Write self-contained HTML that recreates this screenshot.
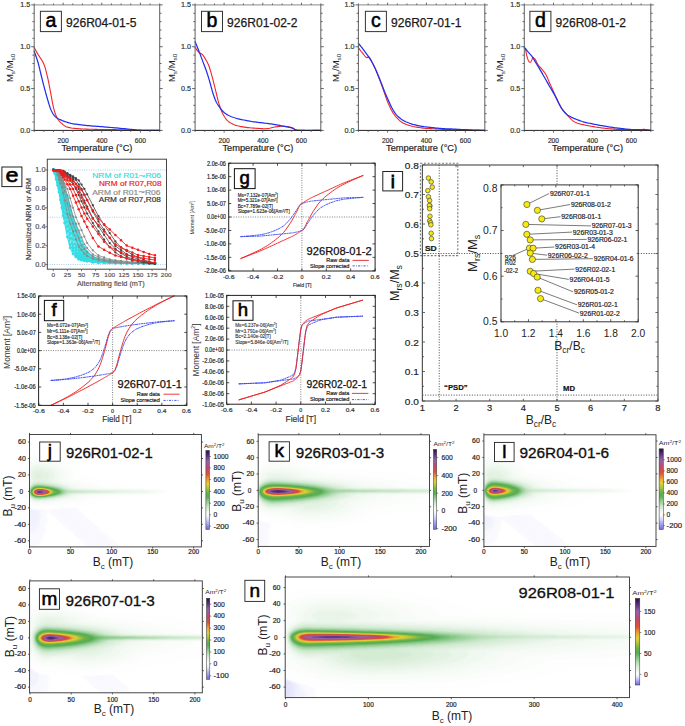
<!DOCTYPE html>
<html><head><meta charset="utf-8"><style>
html,body{margin:0;padding:0;background:#fff;width:685px;height:726px;overflow:hidden}
svg{display:block;font-family:"Liberation Sans",sans-serif}
</style></head><body>
<svg width="685" height="726" viewBox="0 0 685 726" font-family='"Liberation Sans", sans-serif'>
<defs><filter id="fj" x="27.5" y="432.5" width="175.9" height="116.39999999999998" filterUnits="userSpaceOnUse" color-interpolation-filters="sRGB"><feGaussianBlur stdDeviation="0.9"/><feComponentTransfer><feFuncR type="table" tableValues="0.416 0.454 0.492 0.530 0.568 0.606 0.644 0.684 0.727 0.769 0.812 0.854 0.886 0.914 0.943 0.971 1.000 0.979 0.958 0.938 0.912 0.884 0.857 0.830 0.798 0.754 0.710 0.667 0.623 0.578 0.528 0.479 0.429 0.379 0.335 0.357 0.379 0.401 0.423 0.470 0.535 0.600 0.665 0.727 0.770 0.812 0.855 0.888 0.895 0.902 0.909 0.916 0.910 0.901 0.892 0.883 0.874 0.856 0.836 0.815 0.794 0.773 0.752 0.730 0.706 0.681 0.657 0.632 0.608 0.583 0.542 0.498 0.455 0.411 0.368 0.326 0.295 0.264 0.234 0.203 0.173"/><feFuncG type="table" tableValues="0.416 0.454 0.492 0.530 0.568 0.606 0.644 0.684 0.727 0.769 0.812 0.854 0.886 0.914 0.943 0.971 1.000 0.990 0.980 0.971 0.959 0.947 0.934 0.922 0.907 0.887 0.868 0.848 0.828 0.806 0.780 0.753 0.726 0.699 0.675 0.682 0.689 0.696 0.703 0.715 0.731 0.747 0.763 0.778 0.788 0.798 0.808 0.804 0.762 0.720 0.678 0.636 0.578 0.517 0.456 0.395 0.333 0.311 0.308 0.304 0.300 0.297 0.293 0.294 0.309 0.324 0.338 0.353 0.368 0.383 0.354 0.320 0.286 0.252 0.218 0.185 0.157 0.130 0.102 0.075 0.047"/><feFuncB type="table" tableValues="0.878 0.888 0.898 0.908 0.918 0.927 0.937 0.946 0.954 0.962 0.971 0.979 0.984 0.988 0.992 0.996 1.000 0.979 0.958 0.938 0.912 0.884 0.857 0.830 0.798 0.754 0.710 0.667 0.623 0.578 0.528 0.479 0.429 0.379 0.332 0.320 0.308 0.296 0.283 0.272 0.260 0.249 0.237 0.227 0.221 0.214 0.208 0.203 0.202 0.200 0.198 0.196 0.200 0.204 0.209 0.214 0.218 0.243 0.277 0.312 0.346 0.380 0.415 0.449 0.485 0.520 0.556 0.591 0.627 0.662 0.638 0.605 0.573 0.540 0.507 0.473 0.429 0.384 0.340 0.295 0.251"/></feComponentTransfer></filter><clipPath id="fjc"><rect x="29.5" y="434.5" width="171.9" height="112.39999999999998"/></clipPath><linearGradient id="fjg" x1="0" y1="0" x2="0" y2="1"><stop offset="0.000" stop-color="rgb(44,12,64)"/><stop offset="0.025" stop-color="rgb(59,26,86)"/><stop offset="0.050" stop-color="rgb(75,40,109)"/><stop offset="0.075" stop-color="rgb(93,55,128)"/><stop offset="0.100" stop-color="rgb(114,72,145)"/><stop offset="0.125" stop-color="rgb(136,89,161)"/><stop offset="0.150" stop-color="rgb(154,95,162)"/><stop offset="0.175" stop-color="rgb(166,87,144)"/><stop offset="0.200" stop-color="rgb(178,80,126)"/><stop offset="0.225" stop-color="rgb(190,74,108)"/><stop offset="0.250" stop-color="rgb(201,76,91)"/><stop offset="0.275" stop-color="rgb(211,78,74)"/><stop offset="0.300" stop-color="rgb(222,80,57)"/><stop offset="0.325" stop-color="rgb(226,109,54)"/><stop offset="0.350" stop-color="rgb(231,140,52)"/><stop offset="0.375" stop-color="rgb(233,167,50)"/><stop offset="0.400" stop-color="rgb(229,188,51)"/><stop offset="0.425" stop-color="rgb(225,208,52)"/><stop offset="0.450" stop-color="rgb(203,203,55)"/><stop offset="0.475" stop-color="rgb(180,197,59)"/><stop offset="0.500" stop-color="rgb(148,189,64)"/><stop offset="0.525" stop-color="rgb(115,181,70)"/><stop offset="0.550" stop-color="rgb(101,177,76)"/><stop offset="0.575" stop-color="rgb(90,174,82)"/><stop offset="0.600" stop-color="rgb(99,179,99)"/><stop offset="0.625" stop-color="rgb(124,193,124)"/><stop offset="0.650" stop-color="rgb(149,206,149)"/><stop offset="0.675" stop-color="rgb(171,217,171)"/><stop offset="0.700" stop-color="rgb(193,226,193)"/><stop offset="0.725" stop-color="rgb(212,235,212)"/><stop offset="0.750" stop-color="rgb(225,241,225)"/><stop offset="0.775" stop-color="rgb(239,247,239)"/><stop offset="0.800" stop-color="rgb(249,252,249)"/><stop offset="0.825" stop-color="rgb(248,248,254)"/><stop offset="0.850" stop-color="rgb(232,232,252)"/><stop offset="0.875" stop-color="rgb(215,215,249)"/><stop offset="0.900" stop-color="rgb(192,192,245)"/><stop offset="0.925" stop-color="rgb(169,169,240)"/><stop offset="0.950" stop-color="rgb(148,148,235)"/><stop offset="0.975" stop-color="rgb(127,127,229)"/><stop offset="1.000" stop-color="rgb(106,106,224)"/></linearGradient><filter id="fk" x="256.2" y="432.8" width="175.3" height="115.59999999999997" filterUnits="userSpaceOnUse" color-interpolation-filters="sRGB"><feGaussianBlur stdDeviation="0.9"/><feComponentTransfer><feFuncR type="table" tableValues="0.416 0.454 0.492 0.530 0.568 0.606 0.644 0.684 0.727 0.769 0.812 0.854 0.886 0.914 0.943 0.971 1.000 0.979 0.958 0.938 0.912 0.884 0.857 0.830 0.798 0.754 0.710 0.667 0.623 0.578 0.528 0.479 0.429 0.379 0.335 0.357 0.379 0.401 0.423 0.470 0.535 0.600 0.665 0.727 0.770 0.812 0.855 0.888 0.895 0.902 0.909 0.916 0.910 0.901 0.892 0.883 0.874 0.856 0.836 0.815 0.794 0.773 0.752 0.730 0.706 0.681 0.657 0.632 0.608 0.583 0.542 0.498 0.455 0.411 0.368 0.326 0.295 0.264 0.234 0.203 0.173"/><feFuncG type="table" tableValues="0.416 0.454 0.492 0.530 0.568 0.606 0.644 0.684 0.727 0.769 0.812 0.854 0.886 0.914 0.943 0.971 1.000 0.990 0.980 0.971 0.959 0.947 0.934 0.922 0.907 0.887 0.868 0.848 0.828 0.806 0.780 0.753 0.726 0.699 0.675 0.682 0.689 0.696 0.703 0.715 0.731 0.747 0.763 0.778 0.788 0.798 0.808 0.804 0.762 0.720 0.678 0.636 0.578 0.517 0.456 0.395 0.333 0.311 0.308 0.304 0.300 0.297 0.293 0.294 0.309 0.324 0.338 0.353 0.368 0.383 0.354 0.320 0.286 0.252 0.218 0.185 0.157 0.130 0.102 0.075 0.047"/><feFuncB type="table" tableValues="0.878 0.888 0.898 0.908 0.918 0.927 0.937 0.946 0.954 0.962 0.971 0.979 0.984 0.988 0.992 0.996 1.000 0.979 0.958 0.938 0.912 0.884 0.857 0.830 0.798 0.754 0.710 0.667 0.623 0.578 0.528 0.479 0.429 0.379 0.332 0.320 0.308 0.296 0.283 0.272 0.260 0.249 0.237 0.227 0.221 0.214 0.208 0.203 0.202 0.200 0.198 0.196 0.200 0.204 0.209 0.214 0.218 0.243 0.277 0.312 0.346 0.380 0.415 0.449 0.485 0.520 0.556 0.591 0.627 0.662 0.638 0.605 0.573 0.540 0.507 0.473 0.429 0.384 0.340 0.295 0.251"/></feComponentTransfer></filter><clipPath id="fkc"><rect x="258.2" y="434.8" width="171.3" height="111.59999999999997"/></clipPath><linearGradient id="fkg" x1="0" y1="0" x2="0" y2="1"><stop offset="0.000" stop-color="rgb(44,12,64)"/><stop offset="0.025" stop-color="rgb(60,27,88)"/><stop offset="0.050" stop-color="rgb(77,41,111)"/><stop offset="0.075" stop-color="rgb(97,58,131)"/><stop offset="0.100" stop-color="rgb(120,76,149)"/><stop offset="0.125" stop-color="rgb(143,94,166)"/><stop offset="0.150" stop-color="rgb(158,92,155)"/><stop offset="0.175" stop-color="rgb(171,84,136)"/><stop offset="0.200" stop-color="rgb(184,76,117)"/><stop offset="0.225" stop-color="rgb(196,75,99)"/><stop offset="0.250" stop-color="rgb(207,77,81)"/><stop offset="0.275" stop-color="rgb(218,79,62)"/><stop offset="0.300" stop-color="rgb(225,101,54)"/><stop offset="0.325" stop-color="rgb(230,134,52)"/><stop offset="0.350" stop-color="rgb(233,164,50)"/><stop offset="0.375" stop-color="rgb(230,187,51)"/><stop offset="0.400" stop-color="rgb(225,208,52)"/><stop offset="0.425" stop-color="rgb(202,202,55)"/><stop offset="0.450" stop-color="rgb(177,196,59)"/><stop offset="0.475" stop-color="rgb(142,188,65)"/><stop offset="0.500" stop-color="rgb(109,180,71)"/><stop offset="0.525" stop-color="rgb(98,176,78)"/><stop offset="0.550" stop-color="rgb(86,172,84)"/><stop offset="0.575" stop-color="rgb(109,185,109)"/><stop offset="0.600" stop-color="rgb(136,199,136)"/><stop offset="0.625" stop-color="rgb(161,212,161)"/><stop offset="0.650" stop-color="rgb(184,222,184)"/><stop offset="0.675" stop-color="rgb(207,233,207)"/><stop offset="0.700" stop-color="rgb(221,240,221)"/><stop offset="0.725" stop-color="rgb(236,246,236)"/><stop offset="0.750" stop-color="rgb(247,251,247)"/><stop offset="0.775" stop-color="rgb(251,251,254)"/><stop offset="0.800" stop-color="rgb(238,238,253)"/><stop offset="0.825" stop-color="rgb(226,226,251)"/><stop offset="0.850" stop-color="rgb(210,210,248)"/><stop offset="0.875" stop-color="rgb(192,192,245)"/><stop offset="0.900" stop-color="rgb(173,173,241)"/><stop offset="0.925" stop-color="rgb(156,156,237)"/><stop offset="0.950" stop-color="rgb(139,139,233)"/><stop offset="0.975" stop-color="rgb(123,123,228)"/><stop offset="1.000" stop-color="rgb(106,106,224)"/></linearGradient><filter id="fl" x="481.9" y="432.8" width="176.10000000000002" height="115.59999999999997" filterUnits="userSpaceOnUse" color-interpolation-filters="sRGB"><feGaussianBlur stdDeviation="0.9"/><feComponentTransfer><feFuncR type="table" tableValues="0.416 0.454 0.492 0.530 0.568 0.606 0.644 0.684 0.727 0.769 0.812 0.854 0.886 0.914 0.943 0.971 1.000 0.979 0.958 0.938 0.912 0.884 0.857 0.830 0.798 0.754 0.710 0.667 0.623 0.578 0.528 0.479 0.429 0.379 0.335 0.357 0.379 0.401 0.423 0.470 0.535 0.600 0.665 0.727 0.770 0.812 0.855 0.888 0.895 0.902 0.909 0.916 0.910 0.901 0.892 0.883 0.874 0.856 0.836 0.815 0.794 0.773 0.752 0.730 0.706 0.681 0.657 0.632 0.608 0.583 0.542 0.498 0.455 0.411 0.368 0.326 0.295 0.264 0.234 0.203 0.173"/><feFuncG type="table" tableValues="0.416 0.454 0.492 0.530 0.568 0.606 0.644 0.684 0.727 0.769 0.812 0.854 0.886 0.914 0.943 0.971 1.000 0.990 0.980 0.971 0.959 0.947 0.934 0.922 0.907 0.887 0.868 0.848 0.828 0.806 0.780 0.753 0.726 0.699 0.675 0.682 0.689 0.696 0.703 0.715 0.731 0.747 0.763 0.778 0.788 0.798 0.808 0.804 0.762 0.720 0.678 0.636 0.578 0.517 0.456 0.395 0.333 0.311 0.308 0.304 0.300 0.297 0.293 0.294 0.309 0.324 0.338 0.353 0.368 0.383 0.354 0.320 0.286 0.252 0.218 0.185 0.157 0.130 0.102 0.075 0.047"/><feFuncB type="table" tableValues="0.878 0.888 0.898 0.908 0.918 0.927 0.937 0.946 0.954 0.962 0.971 0.979 0.984 0.988 0.992 0.996 1.000 0.979 0.958 0.938 0.912 0.884 0.857 0.830 0.798 0.754 0.710 0.667 0.623 0.578 0.528 0.479 0.429 0.379 0.332 0.320 0.308 0.296 0.283 0.272 0.260 0.249 0.237 0.227 0.221 0.214 0.208 0.203 0.202 0.200 0.198 0.196 0.200 0.204 0.209 0.214 0.218 0.243 0.277 0.312 0.346 0.380 0.415 0.449 0.485 0.520 0.556 0.591 0.627 0.662 0.638 0.605 0.573 0.540 0.507 0.473 0.429 0.384 0.340 0.295 0.251"/></feComponentTransfer></filter><clipPath id="flc"><rect x="483.9" y="434.8" width="172.10000000000002" height="111.59999999999997"/></clipPath><linearGradient id="flg" x1="0" y1="0" x2="0" y2="1"><stop offset="0.000" stop-color="rgb(44,12,64)"/><stop offset="0.025" stop-color="rgb(59,26,86)"/><stop offset="0.050" stop-color="rgb(75,40,108)"/><stop offset="0.075" stop-color="rgb(93,55,128)"/><stop offset="0.100" stop-color="rgb(114,72,145)"/><stop offset="0.125" stop-color="rgb(136,89,161)"/><stop offset="0.150" stop-color="rgb(154,95,162)"/><stop offset="0.175" stop-color="rgb(166,87,144)"/><stop offset="0.200" stop-color="rgb(178,80,126)"/><stop offset="0.225" stop-color="rgb(190,74,109)"/><stop offset="0.250" stop-color="rgb(200,76,91)"/><stop offset="0.275" stop-color="rgb(211,78,74)"/><stop offset="0.300" stop-color="rgb(221,80,57)"/><stop offset="0.325" stop-color="rgb(226,109,54)"/><stop offset="0.350" stop-color="rgb(231,139,52)"/><stop offset="0.375" stop-color="rgb(233,167,50)"/><stop offset="0.400" stop-color="rgb(229,188,51)"/><stop offset="0.425" stop-color="rgb(225,208,52)"/><stop offset="0.450" stop-color="rgb(203,203,55)"/><stop offset="0.475" stop-color="rgb(181,197,59)"/><stop offset="0.500" stop-color="rgb(149,189,64)"/><stop offset="0.525" stop-color="rgb(116,181,70)"/><stop offset="0.550" stop-color="rgb(101,177,76)"/><stop offset="0.575" stop-color="rgb(90,174,82)"/><stop offset="0.600" stop-color="rgb(98,179,98)"/><stop offset="0.625" stop-color="rgb(123,193,123)"/><stop offset="0.650" stop-color="rgb(148,206,148)"/><stop offset="0.675" stop-color="rgb(170,216,170)"/><stop offset="0.700" stop-color="rgb(192,226,192)"/><stop offset="0.725" stop-color="rgb(211,235,211)"/><stop offset="0.750" stop-color="rgb(225,241,225)"/><stop offset="0.775" stop-color="rgb(238,247,238)"/><stop offset="0.800" stop-color="rgb(249,252,249)"/><stop offset="0.825" stop-color="rgb(249,249,254)"/><stop offset="0.850" stop-color="rgb(233,233,252)"/><stop offset="0.875" stop-color="rgb(216,216,249)"/><stop offset="0.900" stop-color="rgb(192,192,245)"/><stop offset="0.925" stop-color="rgb(169,169,240)"/><stop offset="0.950" stop-color="rgb(148,148,235)"/><stop offset="0.975" stop-color="rgb(127,127,229)"/><stop offset="1.000" stop-color="rgb(106,106,224)"/></linearGradient><filter id="fm" x="27.6" y="578.9" width="176.70000000000002" height="115.89999999999998" filterUnits="userSpaceOnUse" color-interpolation-filters="sRGB"><feGaussianBlur stdDeviation="0.9"/><feComponentTransfer><feFuncR type="table" tableValues="0.416 0.454 0.492 0.530 0.568 0.606 0.644 0.684 0.727 0.769 0.812 0.854 0.886 0.914 0.943 0.971 1.000 0.979 0.958 0.938 0.912 0.884 0.857 0.830 0.798 0.754 0.710 0.667 0.623 0.578 0.528 0.479 0.429 0.379 0.335 0.357 0.379 0.401 0.423 0.470 0.535 0.600 0.665 0.727 0.770 0.812 0.855 0.888 0.895 0.902 0.909 0.916 0.910 0.901 0.892 0.883 0.874 0.856 0.836 0.815 0.794 0.773 0.752 0.730 0.706 0.681 0.657 0.632 0.608 0.583 0.542 0.498 0.455 0.411 0.368 0.326 0.295 0.264 0.234 0.203 0.173"/><feFuncG type="table" tableValues="0.416 0.454 0.492 0.530 0.568 0.606 0.644 0.684 0.727 0.769 0.812 0.854 0.886 0.914 0.943 0.971 1.000 0.990 0.980 0.971 0.959 0.947 0.934 0.922 0.907 0.887 0.868 0.848 0.828 0.806 0.780 0.753 0.726 0.699 0.675 0.682 0.689 0.696 0.703 0.715 0.731 0.747 0.763 0.778 0.788 0.798 0.808 0.804 0.762 0.720 0.678 0.636 0.578 0.517 0.456 0.395 0.333 0.311 0.308 0.304 0.300 0.297 0.293 0.294 0.309 0.324 0.338 0.353 0.368 0.383 0.354 0.320 0.286 0.252 0.218 0.185 0.157 0.130 0.102 0.075 0.047"/><feFuncB type="table" tableValues="0.878 0.888 0.898 0.908 0.918 0.927 0.937 0.946 0.954 0.962 0.971 0.979 0.984 0.988 0.992 0.996 1.000 0.979 0.958 0.938 0.912 0.884 0.857 0.830 0.798 0.754 0.710 0.667 0.623 0.578 0.528 0.479 0.429 0.379 0.332 0.320 0.308 0.296 0.283 0.272 0.260 0.249 0.237 0.227 0.221 0.214 0.208 0.203 0.202 0.200 0.198 0.196 0.200 0.204 0.209 0.214 0.218 0.243 0.277 0.312 0.346 0.380 0.415 0.449 0.485 0.520 0.556 0.591 0.627 0.662 0.638 0.605 0.573 0.540 0.507 0.473 0.429 0.384 0.340 0.295 0.251"/></feComponentTransfer></filter><clipPath id="fmc"><rect x="29.6" y="580.9" width="172.70000000000002" height="111.89999999999998"/></clipPath><linearGradient id="fmg" x1="0" y1="0" x2="0" y2="1"><stop offset="0.000" stop-color="rgb(44,12,64)"/><stop offset="0.025" stop-color="rgb(59,26,86)"/><stop offset="0.050" stop-color="rgb(75,40,109)"/><stop offset="0.075" stop-color="rgb(93,55,129)"/><stop offset="0.100" stop-color="rgb(115,72,145)"/><stop offset="0.125" stop-color="rgb(137,89,162)"/><stop offset="0.150" stop-color="rgb(154,94,161)"/><stop offset="0.175" stop-color="rgb(166,87,143)"/><stop offset="0.200" stop-color="rgb(179,80,125)"/><stop offset="0.225" stop-color="rgb(191,74,108)"/><stop offset="0.250" stop-color="rgb(201,76,90)"/><stop offset="0.275" stop-color="rgb(212,78,73)"/><stop offset="0.300" stop-color="rgb(222,80,56)"/><stop offset="0.325" stop-color="rgb(227,111,54)"/><stop offset="0.350" stop-color="rgb(231,142,51)"/><stop offset="0.375" stop-color="rgb(233,169,50)"/><stop offset="0.400" stop-color="rgb(229,190,51)"/><stop offset="0.425" stop-color="rgb(223,207,52)"/><stop offset="0.450" stop-color="rgb(201,202,56)"/><stop offset="0.475" stop-color="rgb(177,196,59)"/><stop offset="0.500" stop-color="rgb(145,188,65)"/><stop offset="0.525" stop-color="rgb(112,180,71)"/><stop offset="0.550" stop-color="rgb(100,177,77)"/><stop offset="0.575" stop-color="rgb(89,173,83)"/><stop offset="0.600" stop-color="rgb(102,181,102)"/><stop offset="0.625" stop-color="rgb(127,195,127)"/><stop offset="0.650" stop-color="rgb(152,208,152)"/><stop offset="0.675" stop-color="rgb(174,218,174)"/><stop offset="0.700" stop-color="rgb(196,228,196)"/><stop offset="0.725" stop-color="rgb(214,236,214)"/><stop offset="0.750" stop-color="rgb(227,242,227)"/><stop offset="0.775" stop-color="rgb(240,248,240)"/><stop offset="0.800" stop-color="rgb(251,253,251)"/><stop offset="0.825" stop-color="rgb(246,246,254)"/><stop offset="0.850" stop-color="rgb(230,230,251)"/><stop offset="0.875" stop-color="rgb(213,213,249)"/><stop offset="0.900" stop-color="rgb(190,190,244)"/><stop offset="0.925" stop-color="rgb(167,167,240)"/><stop offset="0.950" stop-color="rgb(147,147,235)"/><stop offset="0.975" stop-color="rgb(126,126,229)"/><stop offset="1.000" stop-color="rgb(106,106,224)"/></linearGradient><filter id="fn" x="283.2" y="575.0" width="348.3" height="124.60000000000002" filterUnits="userSpaceOnUse" color-interpolation-filters="sRGB"><feGaussianBlur stdDeviation="0.9"/><feComponentTransfer><feFuncR type="table" tableValues="0.416 0.454 0.492 0.530 0.568 0.606 0.644 0.684 0.727 0.769 0.812 0.854 0.886 0.914 0.943 0.971 1.000 0.979 0.958 0.938 0.912 0.884 0.857 0.830 0.798 0.754 0.710 0.667 0.623 0.578 0.528 0.479 0.429 0.379 0.335 0.357 0.379 0.401 0.423 0.470 0.535 0.600 0.665 0.727 0.770 0.812 0.855 0.888 0.895 0.902 0.909 0.916 0.910 0.901 0.892 0.883 0.874 0.856 0.836 0.815 0.794 0.773 0.752 0.730 0.706 0.681 0.657 0.632 0.608 0.583 0.542 0.498 0.455 0.411 0.368 0.326 0.295 0.264 0.234 0.203 0.173"/><feFuncG type="table" tableValues="0.416 0.454 0.492 0.530 0.568 0.606 0.644 0.684 0.727 0.769 0.812 0.854 0.886 0.914 0.943 0.971 1.000 0.990 0.980 0.971 0.959 0.947 0.934 0.922 0.907 0.887 0.868 0.848 0.828 0.806 0.780 0.753 0.726 0.699 0.675 0.682 0.689 0.696 0.703 0.715 0.731 0.747 0.763 0.778 0.788 0.798 0.808 0.804 0.762 0.720 0.678 0.636 0.578 0.517 0.456 0.395 0.333 0.311 0.308 0.304 0.300 0.297 0.293 0.294 0.309 0.324 0.338 0.353 0.368 0.383 0.354 0.320 0.286 0.252 0.218 0.185 0.157 0.130 0.102 0.075 0.047"/><feFuncB type="table" tableValues="0.878 0.888 0.898 0.908 0.918 0.927 0.937 0.946 0.954 0.962 0.971 0.979 0.984 0.988 0.992 0.996 1.000 0.979 0.958 0.938 0.912 0.884 0.857 0.830 0.798 0.754 0.710 0.667 0.623 0.578 0.528 0.479 0.429 0.379 0.332 0.320 0.308 0.296 0.283 0.272 0.260 0.249 0.237 0.227 0.221 0.214 0.208 0.203 0.202 0.200 0.198 0.196 0.200 0.204 0.209 0.214 0.218 0.243 0.277 0.312 0.346 0.380 0.415 0.449 0.485 0.520 0.556 0.591 0.627 0.662 0.638 0.605 0.573 0.540 0.507 0.473 0.429 0.384 0.340 0.295 0.251"/></feComponentTransfer></filter><clipPath id="fnc"><rect x="285.2" y="577.0" width="344.3" height="120.60000000000002"/></clipPath><linearGradient id="fng" x1="0" y1="0" x2="0" y2="1"><stop offset="0.000" stop-color="rgb(44,12,64)"/><stop offset="0.025" stop-color="rgb(58,25,85)"/><stop offset="0.050" stop-color="rgb(72,38,105)"/><stop offset="0.075" stop-color="rgb(88,51,125)"/><stop offset="0.100" stop-color="rgb(108,67,140)"/><stop offset="0.125" stop-color="rgb(128,82,155)"/><stop offset="0.150" stop-color="rgb(148,98,170)"/><stop offset="0.175" stop-color="rgb(160,91,153)"/><stop offset="0.200" stop-color="rgb(171,84,137)"/><stop offset="0.225" stop-color="rgb(182,77,120)"/><stop offset="0.250" stop-color="rgb(193,75,104)"/><stop offset="0.275" stop-color="rgb(202,77,88)"/><stop offset="0.300" stop-color="rgb(212,78,72)"/><stop offset="0.325" stop-color="rgb(222,80,56)"/><stop offset="0.350" stop-color="rgb(226,108,54)"/><stop offset="0.375" stop-color="rgb(230,136,52)"/><stop offset="0.400" stop-color="rgb(233,163,50)"/><stop offset="0.425" stop-color="rgb(230,183,51)"/><stop offset="0.450" stop-color="rgb(227,202,52)"/><stop offset="0.475" stop-color="rgb(212,205,54)"/><stop offset="0.500" stop-color="rgb(192,200,57)"/><stop offset="0.525" stop-color="rgb(166,194,61)"/><stop offset="0.550" stop-color="rgb(136,186,66)"/><stop offset="0.575" stop-color="rgb(109,180,72)"/><stop offset="0.600" stop-color="rgb(99,176,77)"/><stop offset="0.625" stop-color="rgb(88,173,83)"/><stop offset="0.650" stop-color="rgb(100,180,100)"/><stop offset="0.675" stop-color="rgb(123,193,123)"/><stop offset="0.700" stop-color="rgb(146,205,146)"/><stop offset="0.725" stop-color="rgb(167,215,167)"/><stop offset="0.750" stop-color="rgb(187,224,187)"/><stop offset="0.775" stop-color="rgb(207,233,207)"/><stop offset="0.800" stop-color="rgb(220,239,220)"/><stop offset="0.825" stop-color="rgb(232,244,232)"/><stop offset="0.850" stop-color="rgb(243,250,243)"/><stop offset="0.875" stop-color="rgb(253,254,253)"/><stop offset="0.900" stop-color="rgb(236,236,252)"/><stop offset="0.925" stop-color="rgb(207,207,248)"/><stop offset="0.950" stop-color="rgb(171,171,241)"/><stop offset="0.975" stop-color="rgb(138,138,232)"/><stop offset="1.000" stop-color="rgb(106,106,224)"/></linearGradient></defs>
<rect width="685" height="726" fill="#fff"/>
<path d="M34.2 47.49 L34.49 48.01 L34.86 48.7 L35.31 49.53 L35.81 50.45 L36.35 51.42 L36.89 52.4 L37.44 53.37 L37.97 54.26 L38.49 55.13 L39.05 56 L39.63 56.89 L40.22 57.77 L40.79 58.65 L41.34 59.5 L41.85 60.33 L42.31 61.12 L42.71 61.85 L43.06 62.51 L43.37 63.12 L43.66 63.73 L43.94 64.35 L44.21 65.03 L44.48 65.78 L44.78 66.65 L45.09 67.64 L45.41 68.74 L45.73 69.91 L46.05 71.14 L46.37 72.39 L46.68 73.64 L46.97 74.86 L47.25 76.02 L47.51 77.12 L47.76 78.19 L48 79.24 L48.23 80.29 L48.45 81.34 L48.67 82.4 L48.9 83.5 L49.12 84.63 L49.36 85.82 L49.59 87.03 L49.82 88.27 L50.05 89.53 L50.28 90.8 L50.52 92.08 L50.75 93.34 L50.98 94.59 L51.21 95.85 L51.44 97.12 L51.67 98.41 L51.9 99.68 L52.14 100.94 L52.37 102.17 L52.6 103.35 L52.83 104.46 L53.06 105.52 L53.28 106.52 L53.51 107.49 L53.73 108.42 L53.96 109.32 L54.19 110.19 L54.44 111.06 L54.7 111.91 L54.98 112.76 L55.27 113.6 L55.57 114.42 L55.88 115.22 L56.19 116 L56.52 116.74 L56.85 117.44 L57.2 118.1 L57.54 118.7 L57.88 119.24 L58.22 119.73 L58.57 120.19 L58.95 120.64 L59.35 121.09 L59.79 121.55 L60.27 122.03 L60.81 122.56 L61.41 123.13 L62.05 123.71 L62.72 124.29 L63.39 124.85 L64.05 125.37 L64.67 125.83 L65.25 126.22 L65.76 126.52 L66.22 126.74 L66.65 126.92 L67.06 127.05 L67.48 127.15 L67.92 127.25 L68.41 127.35 L68.95 127.47 L69.5 127.6 L70.01 127.73 L70.52 127.84 L71.07 127.96 L71.71 128.07 L72.47 128.18 L73.41 128.28 L74.55 128.39 L75.85 128.5 L77.24 128.61 L78.75 128.73 L80.42 128.84 L82.26 128.94 L84.33 129.04 L86.64 129.14 L89.23 129.23 L92.23 129.31 L95.66 129.38 L99.41 129.44 L103.35 129.5 L107.34 129.56 L111.26 129.61 L114.98 129.67 L118.38 129.73 L121.49 129.8 L124.45 129.86 L127.28 129.93 L130 130 L132.65 130.07 L135.25 130.13 L137.82 130.19 L140.39 130.23 L143.07 130.27 L145.86 130.3 L148.68 130.33 L151.42 130.35 L153.99 130.36 L156.29 130.38 L158.23 130.39 L159.7 130.4" fill="none" stroke="#f0242a" stroke-width="1.1" stroke-linejoin="round" stroke-linecap="round"/>
<path d="M34.2 51.17 L34.5 52.02 L34.89 53.14 L35.37 54.47 L35.89 55.95 L36.44 57.54 L36.98 59.16 L37.5 60.76 L37.97 62.3 L38.38 63.79 L38.78 65.32 L39.17 66.88 L39.55 68.45 L39.92 70.03 L40.3 71.62 L40.67 73.2 L41.05 74.76 L41.44 76.32 L41.83 77.89 L42.22 79.47 L42.61 81.04 L43 82.6 L43.39 84.14 L43.77 85.66 L44.16 87.14 L44.55 88.6 L44.94 90.04 L45.32 91.46 L45.71 92.86 L46.09 94.24 L46.48 95.6 L46.87 96.95 L47.25 98.27 L47.64 99.6 L48.03 100.93 L48.42 102.26 L48.81 103.56 L49.19 104.82 L49.58 106.03 L49.97 107.17 L50.36 108.23 L50.74 109.2 L51.12 110.1 L51.5 110.94 L51.88 111.72 L52.26 112.45 L52.65 113.14 L53.05 113.79 L53.47 114.42 L53.89 115.01 L54.31 115.54 L54.74 116.03 L55.18 116.48 L55.64 116.9 L56.12 117.31 L56.64 117.71 L57.2 118.1 L57.8 118.49 L58.46 118.86 L59.16 119.22 L59.87 119.55 L60.61 119.88 L61.34 120.19 L62.07 120.49 L62.78 120.78 L63.46 121.05 L64.14 121.31 L64.81 121.55 L65.48 121.78 L66.16 122 L66.85 122.21 L67.55 122.41 L68.28 122.62 L68.97 122.82 L69.6 123 L70.21 123.17 L70.84 123.34 L71.55 123.51 L72.38 123.68 L73.36 123.85 L74.55 124.04 L75.99 124.24 L77.63 124.45 L79.44 124.67 L81.37 124.89 L83.36 125.11 L85.37 125.33 L87.34 125.53 L89.23 125.71 L91.05 125.88 L92.88 126.04 L94.7 126.19 L96.52 126.33 L98.34 126.46 L100.16 126.6 L101.98 126.74 L103.8 126.89 L105.63 127.04 L107.45 127.19 L109.27 127.34 L111.09 127.5 L112.91 127.65 L114.73 127.81 L116.55 127.98 L118.38 128.14 L120.26 128.32 L122.22 128.5 L124.2 128.7 L126.17 128.89 L128.09 129.08 L129.9 129.26 L131.57 129.42 L133.06 129.56 L134.24 129.69 L135.12 129.8 L135.82 129.89 L136.43 129.98 L137.09 130.05 L137.89 130.12 L138.95 130.18 L140.39 130.23 L142.36 130.28 L144.83 130.31 L147.6 130.34 L150.5 130.36 L153.35 130.37 L155.95 130.38 L158.13 130.39 L159.7 130.4" fill="none" stroke="#1f2ff0" stroke-width="1.25" stroke-linejoin="round" stroke-linecap="round"/>
<line x1="34.2" y1="4.9" x2="159.7" y2="4.9" stroke="#a0a0a0" stroke-width="1.3"/>
<line x1="34.2" y1="4.9" x2="34.2" y2="130.4" stroke="#606060" stroke-width="1"/>
<line x1="159.7" y1="4.9" x2="159.7" y2="130.4" stroke="#606060" stroke-width="1"/>
<line x1="33.7" y1="130.4" x2="160.2" y2="130.4" stroke="#222" stroke-width="1"/>
<path d="M34.2 130.4v1.5M34.2 4.9v-1.5M43.85 130.4v1.5M43.85 4.9v-1.5M53.51 130.4v1.5M53.51 4.9v-1.5M63.16 130.4v2.2M63.16 4.9v-2.2M72.82 130.4v1.5M72.82 4.9v-1.5M82.47 130.4v1.5M82.47 4.9v-1.5M92.12 130.4v1.5M92.12 4.9v-1.5M101.78 130.4v2.2M101.78 4.9v-2.2M111.43 130.4v1.5M111.43 4.9v-1.5M121.08 130.4v1.5M121.08 4.9v-1.5M130.74 130.4v1.5M130.74 4.9v-1.5M140.39 130.4v2.2M140.39 4.9v-2.2M150.05 130.4v1.5M150.05 4.9v-1.5M159.7 130.4v1.5M159.7 4.9v-1.5M34.2 130.4h-3M159.7 130.4h3M34.2 122.03h-1.8M159.7 122.03h1.8M34.2 113.67h-1.8M159.7 113.67h1.8M34.2 105.3h-1.8M159.7 105.3h1.8M34.2 96.93h-1.8M159.7 96.93h1.8M34.2 88.57h-3M159.7 88.57h3M34.2 80.2h-1.8M159.7 80.2h1.8M34.2 71.83h-1.8M159.7 71.83h1.8M34.2 63.47h-1.8M159.7 63.47h1.8M34.2 55.1h-1.8M159.7 55.1h1.8M34.2 46.73h-3M159.7 46.73h3M34.2 38.37h-1.8M159.7 38.37h1.8M34.2 30h-1.8M159.7 30h1.8M34.2 21.63h-1.8M159.7 21.63h1.8M34.2 13.27h-1.8M159.7 13.27h1.8M34.2 4.9h-3M159.7 4.9h3" stroke="#555" stroke-width="0.9" fill="none"/>
<text x="30.2" y="132.95" font-size="7" fill="#333" text-anchor="end" textLength="10" lengthAdjust="spacingAndGlyphs" stroke="#333" stroke-width="0.18">0.0</text>
<text x="30.2" y="91.12" font-size="7" fill="#333" text-anchor="end" textLength="10" lengthAdjust="spacingAndGlyphs" stroke="#333" stroke-width="0.18">0.5</text>
<text x="30.2" y="49.28" font-size="7" fill="#333" text-anchor="end" textLength="10" lengthAdjust="spacingAndGlyphs" stroke="#333" stroke-width="0.18">1.0</text>
<text x="30.2" y="7.45" font-size="7" fill="#333" text-anchor="end" textLength="10" lengthAdjust="spacingAndGlyphs" stroke="#333" stroke-width="0.18">1.5</text>
<text x="63.16" y="142.6" font-size="6.7" fill="#333" text-anchor="middle" textLength="11.2" lengthAdjust="spacingAndGlyphs" stroke="#333" stroke-width="0.18">200</text>
<text x="101.78" y="142.6" font-size="6.7" fill="#333" text-anchor="middle" textLength="11.2" lengthAdjust="spacingAndGlyphs" stroke="#333" stroke-width="0.18">400</text>
<text x="140.39" y="142.6" font-size="6.7" fill="#333" text-anchor="middle" textLength="11.2" lengthAdjust="spacingAndGlyphs" stroke="#333" stroke-width="0.18">600</text>
<text x="96.95" y="151.2" font-size="8.9" fill="#222" text-anchor="middle" textLength="71" lengthAdjust="spacingAndGlyphs" stroke="#222" stroke-width="0.18">Temperature (°C)</text>
<text x="13.2" y="67.9" font-size="8.4" fill="#222" text-anchor="middle" textLength="28.4" lengthAdjust="spacingAndGlyphs" transform="rotate(-90 13.2 67.9)">M<tspan font-size="5.6" dy="2">s</tspan><tspan dy="-2">/M</tspan><tspan font-size="5.6" dy="2">s0</tspan></text>
<rect x="40.4" y="11.3" width="21" height="20.3" fill="#fff" stroke="#333" stroke-width="1"/>
<text x="50.9" y="27.4" font-size="19.5" fill="#000" text-anchor="middle" stroke="#000" stroke-width="0.55">a</text>
<text x="66" y="27.3" font-size="12.3" fill="#1a1a1a" textLength="70.5" lengthAdjust="spacingAndGlyphs" stroke="#1a1a1a" stroke-width="0.25">926R04-01-5</text>
<path d="M195.1 47.57 L195.4 47.96 L195.81 48.51 L196.3 49.17 L196.84 49.88 L197.4 50.61 L197.96 51.31 L198.49 51.93 L198.97 52.42 L199.39 52.78 L199.8 53.04 L200.18 53.22 L200.56 53.37 L200.94 53.52 L201.31 53.7 L201.68 53.93 L202.06 54.26 L202.44 54.67 L202.82 55.1 L203.19 55.58 L203.57 56.09 L203.95 56.65 L204.34 57.26 L204.74 57.91 L205.16 58.61 L205.59 59.36 L206.05 60.12 L206.52 60.93 L206.99 61.79 L207.48 62.71 L207.96 63.71 L208.44 64.79 L208.91 65.98 L209.38 67.29 L209.85 68.74 L210.32 70.28 L210.8 71.9 L211.26 73.55 L211.72 75.21 L212.17 76.85 L212.6 78.44 L213.02 79.99 L213.42 81.54 L213.8 83.09 L214.18 84.63 L214.56 86.18 L214.93 87.73 L215.31 89.27 L215.7 90.83 L216.08 92.4 L216.46 94 L216.84 95.61 L217.21 97.22 L217.6 98.8 L217.99 100.36 L218.39 101.86 L218.81 103.29 L219.23 104.67 L219.66 106 L220.09 107.29 L220.54 108.54 L221 109.75 L221.47 110.93 L221.97 112.06 L222.5 113.16 L223.05 114.23 L223.6 115.27 L224.17 116.27 L224.77 117.23 L225.39 118.15 L226.04 119.02 L226.74 119.84 L227.49 120.61 L228.28 121.32 L229.08 121.96 L229.93 122.55 L230.81 123.1 L231.74 123.61 L232.72 124.08 L233.77 124.53 L234.9 124.96 L236.09 125.37 L237.34 125.73 L238.66 126.07 L240.03 126.37 L241.46 126.65 L242.95 126.91 L244.49 127.16 L246.1 127.39 L247.84 127.6 L249.76 127.8 L251.78 127.97 L253.84 128.13 L255.86 128.26 L257.77 128.38 L259.51 128.48 L261.01 128.56 L262.22 128.63 L263.21 128.68 L264.03 128.72 L264.74 128.74 L265.39 128.73 L266.05 128.7 L266.78 128.65 L267.62 128.56 L268.56 128.42 L269.54 128.24 L270.55 128.01 L271.57 127.76 L272.62 127.51 L273.66 127.27 L274.71 127.06 L275.74 126.89 L276.77 126.74 L277.81 126.59 L278.85 126.46 L279.9 126.34 L280.94 126.25 L281.99 126.2 L283.03 126.18 L284.06 126.22 L285.11 126.31 L286.2 126.46 L287.3 126.65 L288.38 126.88 L289.44 127.13 L290.44 127.39 L291.36 127.64 L292.18 127.89 L292.87 128.14 L293.45 128.42 L293.95 128.72 L294.39 129.01 L294.81 129.3 L295.24 129.57 L295.7 129.8 L296.24 129.98 L296.74 130.12 L297.13 130.21 L297.49 130.28 L297.9 130.32 L298.42 130.35 L299.14 130.36 L300.13 130.38 L301.46 130.4 L303.34 130.42 L305.76 130.43 L308.53 130.43 L311.46 130.43 L314.34 130.42 L316.99 130.41 L319.21 130.4 L320.8 130.4" fill="none" stroke="#f0242a" stroke-width="1.1" stroke-linejoin="round" stroke-linecap="round"/>
<path d="M195.1 41.71 L195.4 42.44 L195.8 43.4 L196.27 44.54 L196.8 45.82 L197.36 47.17 L197.92 48.55 L198.47 49.9 L198.97 51.17 L199.44 52.39 L199.91 53.62 L200.37 54.87 L200.83 56.12 L201.3 57.37 L201.76 58.63 L202.22 59.88 L202.68 61.12 L203.15 62.36 L203.62 63.6 L204.1 64.83 L204.57 66.07 L205.05 67.3 L205.51 68.53 L205.96 69.76 L206.39 71 L206.81 72.22 L207.21 73.43 L207.61 74.64 L207.99 75.85 L208.37 77.07 L208.74 78.31 L209.12 79.57 L209.51 80.87 L209.89 82.22 L210.28 83.64 L210.67 85.09 L211.06 86.55 L211.44 88 L211.83 89.42 L212.21 90.79 L212.6 92.08 L212.98 93.31 L213.36 94.49 L213.73 95.64 L214.11 96.75 L214.49 97.81 L214.88 98.84 L215.28 99.83 L215.7 100.78 L216.12 101.68 L216.54 102.51 L216.97 103.29 L217.41 104.03 L217.87 104.76 L218.35 105.48 L218.87 106.22 L219.43 106.97 L220.01 107.76 L220.62 108.56 L221.24 109.38 L221.9 110.18 L222.6 110.98 L223.34 111.75 L224.14 112.48 L225 113.16 L225.88 113.8 L226.78 114.4 L227.71 114.96 L228.69 115.5 L229.76 116.01 L230.93 116.52 L232.24 117.02 L233.7 117.52 L235.38 118.02 L237.28 118.53 L239.34 119.03 L241.49 119.52 L243.67 119.99 L245.83 120.43 L247.89 120.84 L249.81 121.2 L251.6 121.5 L253.33 121.76 L255.01 121.98 L256.64 122.17 L258.23 122.35 L259.78 122.52 L261.3 122.69 L262.78 122.87 L264.26 123.06 L265.74 123.25 L267.19 123.44 L268.6 123.63 L269.95 123.81 L271.21 123.98 L272.37 124.14 L273.4 124.29 L274.28 124.43 L275 124.55 L275.6 124.67 L276.13 124.77 L276.62 124.88 L277.11 124.98 L277.64 125.09 L278.26 125.21 L278.94 125.34 L279.66 125.48 L280.4 125.62 L281.16 125.76 L281.91 125.9 L282.65 126.04 L283.37 126.17 L284.06 126.3 L284.72 126.42 L285.37 126.55 L286.01 126.67 L286.63 126.78 L287.23 126.9 L287.81 127.01 L288.37 127.11 L288.89 127.22 L289.37 127.31 L289.8 127.39 L290.2 127.46 L290.58 127.53 L290.96 127.61 L291.34 127.7 L291.74 127.82 L292.18 127.97 L292.64 128.18 L293.11 128.42 L293.59 128.7 L294.09 129 L294.6 129.29 L295.13 129.56 L295.67 129.8 L296.24 129.98 L296.74 130.11 L297.13 130.21 L297.49 130.27 L297.9 130.32 L298.42 130.34 L299.14 130.36 L300.13 130.38 L301.46 130.4 L303.34 130.42 L305.76 130.43 L308.53 130.43 L311.46 130.43 L314.34 130.42 L316.99 130.41 L319.21 130.4 L320.8 130.4" fill="none" stroke="#1f2ff0" stroke-width="1.25" stroke-linejoin="round" stroke-linecap="round"/>
<line x1="195.1" y1="4.9" x2="320.8" y2="4.9" stroke="#a0a0a0" stroke-width="1.3"/>
<line x1="195.1" y1="4.9" x2="195.1" y2="130.4" stroke="#606060" stroke-width="1"/>
<line x1="320.8" y1="4.9" x2="320.8" y2="130.4" stroke="#606060" stroke-width="1"/>
<line x1="194.6" y1="130.4" x2="321.3" y2="130.4" stroke="#222" stroke-width="1"/>
<path d="M195.1 130.4v1.5M195.1 4.9v-1.5M204.77 130.4v1.5M204.77 4.9v-1.5M214.44 130.4v1.5M214.44 4.9v-1.5M224.11 130.4v2.2M224.11 4.9v-2.2M233.78 130.4v1.5M233.78 4.9v-1.5M243.45 130.4v1.5M243.45 4.9v-1.5M253.12 130.4v1.5M253.12 4.9v-1.5M262.78 130.4v2.2M262.78 4.9v-2.2M272.45 130.4v1.5M272.45 4.9v-1.5M282.12 130.4v1.5M282.12 4.9v-1.5M291.79 130.4v1.5M291.79 4.9v-1.5M301.46 130.4v2.2M301.46 4.9v-2.2M311.13 130.4v1.5M311.13 4.9v-1.5M320.8 130.4v1.5M320.8 4.9v-1.5M195.1 130.4h-3M320.8 130.4h3M195.1 122.03h-1.8M320.8 122.03h1.8M195.1 113.67h-1.8M320.8 113.67h1.8M195.1 105.3h-1.8M320.8 105.3h1.8M195.1 96.93h-1.8M320.8 96.93h1.8M195.1 88.57h-3M320.8 88.57h3M195.1 80.2h-1.8M320.8 80.2h1.8M195.1 71.83h-1.8M320.8 71.83h1.8M195.1 63.47h-1.8M320.8 63.47h1.8M195.1 55.1h-1.8M320.8 55.1h1.8M195.1 46.73h-3M320.8 46.73h3M195.1 38.37h-1.8M320.8 38.37h1.8M195.1 30h-1.8M320.8 30h1.8M195.1 21.63h-1.8M320.8 21.63h1.8M195.1 13.27h-1.8M320.8 13.27h1.8M195.1 4.9h-3M320.8 4.9h3" stroke="#555" stroke-width="0.9" fill="none"/>
<text x="191.1" y="132.95" font-size="7" fill="#333" text-anchor="end" textLength="10" lengthAdjust="spacingAndGlyphs" stroke="#333" stroke-width="0.18">0.0</text>
<text x="191.1" y="91.12" font-size="7" fill="#333" text-anchor="end" textLength="10" lengthAdjust="spacingAndGlyphs" stroke="#333" stroke-width="0.18">0.5</text>
<text x="191.1" y="49.28" font-size="7" fill="#333" text-anchor="end" textLength="10" lengthAdjust="spacingAndGlyphs" stroke="#333" stroke-width="0.18">1.0</text>
<text x="191.1" y="7.45" font-size="7" fill="#333" text-anchor="end" textLength="10" lengthAdjust="spacingAndGlyphs" stroke="#333" stroke-width="0.18">1.5</text>
<text x="224.11" y="142.6" font-size="6.7" fill="#333" text-anchor="middle" textLength="11.2" lengthAdjust="spacingAndGlyphs" stroke="#333" stroke-width="0.18">200</text>
<text x="262.78" y="142.6" font-size="6.7" fill="#333" text-anchor="middle" textLength="11.2" lengthAdjust="spacingAndGlyphs" stroke="#333" stroke-width="0.18">400</text>
<text x="301.46" y="142.6" font-size="6.7" fill="#333" text-anchor="middle" textLength="11.2" lengthAdjust="spacingAndGlyphs" stroke="#333" stroke-width="0.18">600</text>
<text x="257.95" y="151.2" font-size="8.9" fill="#222" text-anchor="middle" textLength="71" lengthAdjust="spacingAndGlyphs" stroke="#222" stroke-width="0.18">Temperature (°C)</text>
<text x="175.5" y="67.9" font-size="8.4" fill="#222" text-anchor="middle" textLength="28.4" lengthAdjust="spacingAndGlyphs" transform="rotate(-90 175.5 67.9)">M<tspan font-size="5.6" dy="2">s</tspan><tspan dy="-2">/M</tspan><tspan font-size="5.6" dy="2">s0</tspan></text>
<rect x="201.5" y="11.3" width="21" height="20.3" fill="#fff" stroke="#333" stroke-width="1"/>
<text x="212" y="27.4" font-size="19.5" fill="#000" text-anchor="middle" stroke="#000" stroke-width="0.55">b</text>
<text x="227.1" y="27.3" font-size="12.3" fill="#1a1a1a" textLength="70.5" lengthAdjust="spacingAndGlyphs" stroke="#1a1a1a" stroke-width="0.25">926R01-02-2</text>
<path d="M358.4 47.57 L358.58 47.83 L358.82 48.19 L359.11 48.62 L359.43 49.09 L359.77 49.58 L360.11 50.06 L360.44 50.52 L360.73 50.92 L361.01 51.27 L361.28 51.59 L361.54 51.9 L361.8 52.2 L362.06 52.49 L362.33 52.79 L362.6 53.1 L362.87 53.43 L363.16 53.78 L363.46 54.17 L363.76 54.57 L364.06 54.97 L364.37 55.36 L364.66 55.73 L364.94 56.07 L365.21 56.36 L365.46 56.6 L365.7 56.83 L365.93 57.02 L366.15 57.19 L366.37 57.34 L366.57 57.45 L366.77 57.54 L366.96 57.61 L367.13 57.64 L367.3 57.62 L367.45 57.58 L367.6 57.51 L367.74 57.42 L367.87 57.34 L368 57.26 L368.12 57.19 L368.23 57.11 L368.31 57 L368.38 56.87 L368.45 56.75 L368.53 56.65 L368.62 56.61 L368.74 56.65 L368.9 56.77 L369.09 56.97 L369.29 57.22 L369.51 57.52 L369.75 57.88 L370.02 58.31 L370.32 58.82 L370.66 59.42 L371.04 60.12 L371.48 60.96 L371.99 61.95 L372.55 63.06 L373.13 64.23 L373.72 65.43 L374.29 66.63 L374.83 67.77 L375.32 68.82 L375.75 69.79 L376.14 70.7 L376.5 71.59 L376.85 72.45 L377.19 73.31 L377.52 74.18 L377.87 75.08 L378.24 76.02 L378.61 76.99 L379 77.98 L379.39 78.98 L379.78 80.01 L380.17 81.04 L380.56 82.09 L380.96 83.15 L381.35 84.22 L381.74 85.3 L382.12 86.41 L382.51 87.54 L382.9 88.67 L383.29 89.81 L383.68 90.94 L384.07 92.06 L384.46 93.17 L384.85 94.27 L385.24 95.37 L385.62 96.47 L386.01 97.56 L386.4 98.64 L386.79 99.69 L387.18 100.71 L387.57 101.7 L387.96 102.66 L388.35 103.59 L388.74 104.49 L389.12 105.37 L389.51 106.23 L389.9 107.06 L390.29 107.87 L390.68 108.65 L391.06 109.4 L391.44 110.11 L391.81 110.8 L392.19 111.47 L392.57 112.11 L392.96 112.75 L393.37 113.37 L393.79 114 L394.24 114.63 L394.71 115.25 L395.18 115.86 L395.68 116.46 L396.17 117.04 L396.68 117.61 L397.18 118.16 L397.68 118.69 L398.17 119.19 L398.66 119.67 L399.15 120.13 L399.64 120.58 L400.14 121.01 L400.66 121.42 L401.2 121.82 L401.76 122.2 L402.35 122.57 L402.95 122.91 L403.56 123.24 L404.2 123.55 L404.85 123.85 L405.54 124.14 L406.26 124.43 L407.02 124.71 L407.8 124.99 L408.6 125.26 L409.43 125.52 L410.3 125.78 L411.2 126.02 L412.15 126.26 L413.15 126.5 L414.21 126.72 L415.35 126.94 L416.57 127.15 L417.86 127.36 L419.18 127.56 L420.53 127.75 L421.88 127.92 L423.22 128.08 L424.52 128.22 L425.78 128.34 L427.03 128.43 L428.27 128.51 L429.51 128.57 L430.76 128.63 L432.02 128.68 L433.31 128.74 L434.63 128.81 L436 128.89 L437.41 128.98 L438.86 129.07 L440.32 129.16 L441.77 129.25 L443.2 129.33 L444.58 129.41 L445.91 129.48 L447.14 129.54 L448.27 129.59 L449.35 129.63 L450.4 129.67 L451.49 129.7 L452.63 129.74 L453.87 129.77 L455.24 129.81 L456.76 129.86 L458.38 129.9 L460.08 129.94 L461.85 129.99 L463.67 130.03 L465.52 130.07 L467.39 130.11 L469.24 130.15 L471.22 130.19 L473.39 130.22 L475.65 130.26 L477.9 130.3 L480.04 130.33 L481.97 130.36 L483.59 130.38 L484.8 130.4" fill="none" stroke="#f0242a" stroke-width="1.1" stroke-linejoin="round" stroke-linecap="round"/>
<path d="M358.4 43.39 L358.64 43.67 L358.95 44.04 L359.32 44.49 L359.74 44.98 L360.18 45.51 L360.63 46.06 L361.08 46.62 L361.51 47.15 L361.93 47.68 L362.35 48.22 L362.78 48.78 L363.21 49.34 L363.65 49.92 L364.1 50.52 L364.55 51.13 L365.01 51.75 L365.48 52.4 L365.97 53.08 L366.48 53.78 L366.98 54.49 L367.48 55.21 L367.97 55.91 L368.45 56.61 L368.9 57.28 L369.33 57.91 L369.73 58.51 L370.12 59.1 L370.49 59.68 L370.87 60.26 L371.24 60.87 L371.62 61.52 L372.01 62.21 L372.42 62.96 L372.83 63.74 L373.25 64.56 L373.68 65.4 L374.1 66.26 L374.51 67.12 L374.92 67.98 L375.32 68.82 L375.7 69.65 L376.07 70.48 L376.43 71.31 L376.79 72.15 L377.14 72.99 L377.5 73.84 L377.86 74.71 L378.24 75.6 L378.61 76.5 L378.99 77.41 L379.37 78.33 L379.75 79.26 L380.14 80.21 L380.54 81.18 L380.94 82.18 L381.35 83.21 L381.76 84.29 L382.19 85.4 L382.62 86.55 L383.06 87.72 L383.5 88.9 L383.95 90.07 L384.4 91.22 L384.85 92.33 L385.3 93.42 L385.77 94.51 L386.24 95.58 L386.71 96.64 L387.18 97.69 L387.64 98.71 L388.1 99.72 L388.54 100.7 L388.97 101.65 L389.38 102.59 L389.78 103.5 L390.18 104.39 L390.58 105.27 L390.99 106.13 L391.41 106.97 L391.85 107.81 L392.31 108.64 L392.78 109.48 L393.26 110.3 L393.76 111.11 L394.25 111.89 L394.75 112.64 L395.25 113.35 L395.74 114 L396.22 114.6 L396.7 115.15 L397.18 115.66 L397.66 116.13 L398.14 116.58 L398.63 117.01 L399.12 117.43 L399.63 117.85 L400.14 118.26 L400.65 118.66 L401.17 119.04 L401.69 119.41 L402.23 119.77 L402.77 120.11 L403.33 120.45 L403.9 120.78 L404.5 121.1 L405.11 121.4 L405.73 121.7 L406.37 121.99 L407.02 122.26 L407.66 122.53 L408.31 122.79 L408.96 123.04 L409.59 123.27 L410.19 123.49 L410.78 123.7 L411.38 123.91 L412.01 124.1 L412.67 124.3 L413.4 124.5 L414.21 124.71 L415.11 124.93 L416.09 125.16 L417.14 125.4 L418.22 125.64 L419.33 125.87 L420.44 126.09 L421.52 126.29 L422.57 126.47 L423.56 126.62 L424.51 126.75 L425.44 126.86 L426.36 126.96 L427.32 127.06 L428.31 127.16 L429.38 127.27 L430.55 127.39 L431.83 127.53 L433.22 127.68 L434.69 127.84 L436.21 128.01 L437.73 128.16 L439.23 128.31 L440.67 128.45 L442.02 128.56 L443.24 128.65 L444.35 128.71 L445.39 128.76 L446.42 128.79 L447.46 128.83 L448.57 128.87 L449.79 128.91 L451.16 128.98 L452.65 129.06 L454.23 129.14 L455.88 129.24 L457.61 129.34 L459.42 129.44 L461.32 129.54 L463.29 129.64 L465.35 129.73 L467.67 129.82 L470.3 129.92 L473.12 130.02 L475.96 130.11 L478.7 130.2 L481.18 130.28 L483.26 130.35 L484.8 130.4" fill="none" stroke="#1f2ff0" stroke-width="1.25" stroke-linejoin="round" stroke-linecap="round"/>
<line x1="358.4" y1="4.9" x2="484.8" y2="4.9" stroke="#a0a0a0" stroke-width="1.3"/>
<line x1="358.4" y1="4.9" x2="358.4" y2="130.4" stroke="#606060" stroke-width="1"/>
<line x1="484.8" y1="4.9" x2="484.8" y2="130.4" stroke="#606060" stroke-width="1"/>
<line x1="357.9" y1="130.4" x2="485.3" y2="130.4" stroke="#222" stroke-width="1"/>
<path d="M358.4 130.4v1.5M358.4 4.9v-1.5M368.12 130.4v1.5M368.12 4.9v-1.5M377.85 130.4v1.5M377.85 4.9v-1.5M387.57 130.4v2.2M387.57 4.9v-2.2M397.29 130.4v1.5M397.29 4.9v-1.5M407.02 130.4v1.5M407.02 4.9v-1.5M416.74 130.4v1.5M416.74 4.9v-1.5M426.46 130.4v2.2M426.46 4.9v-2.2M436.18 130.4v1.5M436.18 4.9v-1.5M445.91 130.4v1.5M445.91 4.9v-1.5M455.63 130.4v1.5M455.63 4.9v-1.5M465.35 130.4v2.2M465.35 4.9v-2.2M475.08 130.4v1.5M475.08 4.9v-1.5M484.8 130.4v1.5M484.8 4.9v-1.5M358.4 130.4h-3M484.8 130.4h3M358.4 122.03h-1.8M484.8 122.03h1.8M358.4 113.67h-1.8M484.8 113.67h1.8M358.4 105.3h-1.8M484.8 105.3h1.8M358.4 96.93h-1.8M484.8 96.93h1.8M358.4 88.57h-3M484.8 88.57h3M358.4 80.2h-1.8M484.8 80.2h1.8M358.4 71.83h-1.8M484.8 71.83h1.8M358.4 63.47h-1.8M484.8 63.47h1.8M358.4 55.1h-1.8M484.8 55.1h1.8M358.4 46.73h-3M484.8 46.73h3M358.4 38.37h-1.8M484.8 38.37h1.8M358.4 30h-1.8M484.8 30h1.8M358.4 21.63h-1.8M484.8 21.63h1.8M358.4 13.27h-1.8M484.8 13.27h1.8M358.4 4.9h-3M484.8 4.9h3" stroke="#555" stroke-width="0.9" fill="none"/>
<text x="354.4" y="132.95" font-size="7" fill="#333" text-anchor="end" textLength="10" lengthAdjust="spacingAndGlyphs" stroke="#333" stroke-width="0.18">0.0</text>
<text x="354.4" y="91.12" font-size="7" fill="#333" text-anchor="end" textLength="10" lengthAdjust="spacingAndGlyphs" stroke="#333" stroke-width="0.18">0.5</text>
<text x="354.4" y="49.28" font-size="7" fill="#333" text-anchor="end" textLength="10" lengthAdjust="spacingAndGlyphs" stroke="#333" stroke-width="0.18">1.0</text>
<text x="354.4" y="7.45" font-size="7" fill="#333" text-anchor="end" textLength="10" lengthAdjust="spacingAndGlyphs" stroke="#333" stroke-width="0.18">1.5</text>
<text x="387.57" y="142.6" font-size="6.7" fill="#333" text-anchor="middle" textLength="11.2" lengthAdjust="spacingAndGlyphs" stroke="#333" stroke-width="0.18">200</text>
<text x="426.46" y="142.6" font-size="6.7" fill="#333" text-anchor="middle" textLength="11.2" lengthAdjust="spacingAndGlyphs" stroke="#333" stroke-width="0.18">400</text>
<text x="465.35" y="142.6" font-size="6.7" fill="#333" text-anchor="middle" textLength="11.2" lengthAdjust="spacingAndGlyphs" stroke="#333" stroke-width="0.18">600</text>
<text x="421.6" y="151.2" font-size="8.9" fill="#222" text-anchor="middle" textLength="71" lengthAdjust="spacingAndGlyphs" stroke="#222" stroke-width="0.18">Temperature (°C)</text>
<text x="339" y="67.9" font-size="8.4" fill="#222" text-anchor="middle" textLength="28.4" lengthAdjust="spacingAndGlyphs" transform="rotate(-90 339 67.9)">M<tspan font-size="5.6" dy="2">s</tspan><tspan dy="-2">/M</tspan><tspan font-size="5.6" dy="2">s0</tspan></text>
<rect x="365.4" y="11.3" width="21" height="20.3" fill="#fff" stroke="#333" stroke-width="1"/>
<text x="375.9" y="27.4" font-size="19.5" fill="#000" text-anchor="middle" stroke="#000" stroke-width="0.55">c</text>
<text x="391" y="27.3" font-size="12.3" fill="#1a1a1a" textLength="70.5" lengthAdjust="spacingAndGlyphs" stroke="#1a1a1a" stroke-width="0.25">926R07-01-1</text>
<path d="M524.3 47.9 L524.38 47.94 L524.49 47.93 L524.62 47.93 L524.77 47.95 L524.93 48.02 L525.09 48.17 L525.25 48.43 L525.41 48.83 L525.56 49.4 L525.72 50.13 L525.88 50.97 L526.04 51.9 L526.21 52.86 L526.38 53.81 L526.56 54.71 L526.75 55.52 L526.95 56.27 L527.16 57.02 L527.38 57.76 L527.6 58.48 L527.83 59.15 L528.05 59.77 L528.28 60.32 L528.5 60.79 L528.73 61.18 L528.96 61.51 L529.19 61.78 L529.43 62 L529.66 62.15 L529.88 62.25 L530.09 62.3 L530.29 62.3 L530.48 62.22 L530.65 62.06 L530.82 61.84 L530.98 61.56 L531.13 61.26 L531.28 60.93 L531.44 60.6 L531.6 60.29 L531.76 59.95 L531.93 59.55 L532.09 59.12 L532.26 58.69 L532.43 58.28 L532.59 57.91 L532.75 57.63 L532.9 57.44 L533.05 57.37 L533.19 57.38 L533.32 57.45 L533.46 57.58 L533.59 57.75 L533.73 57.93 L533.88 58.11 L534.03 58.28 L534.19 58.42 L534.35 58.55 L534.5 58.68 L534.67 58.82 L534.84 59 L535.04 59.22 L535.25 59.51 L535.49 59.87 L535.75 60.32 L536.02 60.84 L536.31 61.43 L536.62 62.07 L536.95 62.73 L537.31 63.4 L537.7 64.07 L538.12 64.72 L538.59 65.36 L539.11 66.02 L539.67 66.69 L540.25 67.36 L540.84 68.03 L541.42 68.7 L541.98 69.35 L542.5 69.99 L542.98 70.59 L543.43 71.15 L543.87 71.68 L544.3 72.21 L544.72 72.76 L545.14 73.36 L545.57 74.02 L546 74.76 L546.44 75.6 L546.88 76.53 L547.31 77.52 L547.75 78.55 L548.19 79.6 L548.63 80.66 L549.06 81.7 L549.5 82.71 L549.94 83.69 L550.38 84.67 L550.82 85.64 L551.25 86.62 L551.69 87.59 L552.13 88.56 L552.57 89.52 L553.01 90.49 L553.45 91.46 L553.89 92.44 L554.33 93.43 L554.78 94.41 L555.22 95.38 L555.65 96.34 L556.08 97.27 L556.51 98.19 L556.92 99.08 L557.33 99.97 L557.74 100.85 L558.14 101.7 L558.54 102.54 L558.93 103.35 L559.33 104.13 L559.72 104.88 L560.11 105.59 L560.48 106.25 L560.84 106.89 L561.21 107.5 L561.58 108.09 L561.98 108.69 L562.39 109.29 L562.83 109.9 L563.32 110.53 L563.83 111.17 L564.37 111.82 L564.93 112.46 L565.49 113.09 L566.04 113.72 L566.59 114.33 L567.12 114.92 L567.62 115.5 L568.12 116.07 L568.6 116.64 L569.09 117.19 L569.57 117.73 L570.04 118.24 L570.52 118.73 L571.01 119.19 L571.49 119.62 L571.97 120.03 L572.45 120.41 L572.93 120.77 L573.41 121.11 L573.9 121.44 L574.39 121.74 L574.9 122.03 L575.41 122.3 L575.92 122.54 L576.43 122.77 L576.94 122.97 L577.47 123.16 L578.02 123.35 L578.59 123.53 L579.18 123.71 L579.8 123.88 L580.43 124.05 L581.08 124.2 L581.75 124.36 L582.44 124.5 L583.15 124.65 L583.88 124.8 L584.63 124.96 L585.4 125.12 L586.19 125.29 L587 125.45 L587.83 125.62 L588.69 125.79 L589.57 125.96 L590.49 126.13 L591.44 126.3 L592.44 126.48 L593.47 126.66 L594.54 126.84 L595.64 127.03 L596.76 127.21 L597.9 127.39 L599.05 127.56 L600.2 127.72 L601.36 127.88 L602.52 128.03 L603.69 128.17 L604.88 128.31 L606.1 128.44 L607.34 128.57 L608.61 128.69 L609.93 128.81 L611.32 128.92 L612.78 129.03 L614.3 129.14 L615.83 129.24 L617.36 129.33 L618.85 129.42 L620.27 129.5 L621.61 129.56 L622.84 129.62 L624 129.67 L625.11 129.72 L626.17 129.75 L627.21 129.78 L628.24 129.8 L629.29 129.81 L630.37 129.81 L631.48 129.81 L632.63 129.78 L633.79 129.75 L634.94 129.71 L636.07 129.67 L637.15 129.63 L638.18 129.59 L639.12 129.56 L639.99 129.53 L640.79 129.5 L641.54 129.46 L642.24 129.43 L642.9 129.4 L643.54 129.38 L644.16 129.38 L644.77 129.4 L645.37 129.43 L645.95 129.49 L646.51 129.57 L647.04 129.65 L647.55 129.74 L648.02 129.83 L648.46 129.91 L648.85 129.98 L649.21 130.04 L649.54 130.11 L649.83 130.17 L650.08 130.23 L650.31 130.28 L650.5 130.33 L650.66 130.37 L650.8 130.4" fill="none" stroke="#f0242a" stroke-width="1.1" stroke-linejoin="round" stroke-linecap="round"/>
<path d="M524.3 46.73 L524.33 46.82 L524.36 46.9 L524.39 47 L524.43 47.13 L524.5 47.29 L524.61 47.49 L524.77 47.75 L525 48.07 L525.3 48.47 L525.68 48.96 L526.11 49.5 L526.58 50.08 L527.07 50.68 L527.56 51.29 L528.05 51.87 L528.5 52.42 L528.94 52.93 L529.38 53.41 L529.82 53.88 L530.26 54.35 L530.69 54.82 L531.13 55.32 L531.57 55.86 L532.01 56.44 L532.44 57.07 L532.88 57.74 L533.31 58.45 L533.75 59.18 L534.18 59.92 L534.62 60.67 L535.05 61.41 L535.49 62.13 L535.93 62.84 L536.36 63.54 L536.8 64.24 L537.24 64.95 L537.68 65.65 L538.12 66.37 L538.56 67.09 L538.99 67.82 L539.43 68.56 L539.87 69.31 L540.31 70.08 L540.74 70.85 L541.18 71.62 L541.62 72.39 L542.06 73.16 L542.5 73.93 L542.93 74.69 L543.37 75.45 L543.81 76.21 L544.25 76.97 L544.69 77.74 L545.12 78.5 L545.56 79.27 L546 80.03 L546.44 80.8 L546.88 81.58 L547.31 82.36 L547.75 83.14 L548.19 83.92 L548.63 84.7 L549.06 85.47 L549.5 86.22 L549.94 86.97 L550.38 87.7 L550.82 88.42 L551.25 89.13 L551.69 89.85 L552.13 90.58 L552.57 91.32 L553.01 92.08 L553.45 92.87 L553.9 93.68 L554.35 94.51 L554.8 95.34 L555.25 96.18 L555.68 97.01 L556.1 97.82 L556.51 98.61 L556.89 99.38 L557.26 100.14 L557.61 100.9 L557.96 101.64 L558.3 102.37 L558.63 103.09 L558.98 103.78 L559.33 104.46 L559.68 105.12 L560.03 105.75 L560.38 106.37 L560.72 106.97 L561.08 107.56 L561.45 108.15 L561.84 108.73 L562.25 109.32 L562.68 109.91 L563.13 110.5 L563.6 111.09 L564.07 111.68 L564.57 112.25 L565.08 112.81 L565.6 113.34 L566.14 113.83 L566.7 114.3 L567.27 114.74 L567.85 115.15 L568.45 115.55 L569.07 115.93 L569.7 116.3 L570.35 116.66 L571.01 117.01 L571.69 117.36 L572.39 117.69 L573.1 118.01 L573.83 118.33 L574.57 118.63 L575.32 118.93 L576.08 119.23 L576.85 119.52 L577.61 119.82 L578.37 120.11 L579.13 120.4 L579.91 120.69 L580.71 120.97 L581.53 121.25 L582.38 121.52 L583.27 121.78 L584.21 122.04 L585.18 122.29 L586.2 122.54 L587.23 122.79 L588.29 123.02 L589.34 123.26 L590.4 123.48 L591.44 123.71 L592.47 123.92 L593.48 124.12 L594.49 124.32 L595.5 124.51 L596.54 124.7 L597.59 124.89 L598.68 125.09 L599.81 125.3 L600.99 125.51 L602.21 125.73 L603.47 125.96 L604.75 126.19 L606.04 126.42 L607.35 126.64 L608.64 126.85 L609.93 127.05 L611.21 127.24 L612.48 127.42 L613.75 127.59 L615.03 127.76 L616.31 127.92 L617.61 128.08 L618.92 128.24 L620.25 128.39 L621.6 128.55 L623 128.71 L624.41 128.87 L625.83 129.03 L627.24 129.18 L628.64 129.32 L630.01 129.45 L631.34 129.56 L632.62 129.66 L633.87 129.74 L635.09 129.81 L636.29 129.87 L637.48 129.92 L638.67 129.97 L639.86 130.02 L641.07 130.07 L642.35 130.12 L643.73 130.17 L645.15 130.22 L646.54 130.26 L647.86 130.31 L649.05 130.34 L650.05 130.38 L650.8 130.4" fill="none" stroke="#1f2ff0" stroke-width="1.25" stroke-linejoin="round" stroke-linecap="round"/>
<line x1="524.3" y1="4.9" x2="650.8" y2="4.9" stroke="#a0a0a0" stroke-width="1.3"/>
<line x1="524.3" y1="4.9" x2="524.3" y2="130.4" stroke="#606060" stroke-width="1"/>
<line x1="650.8" y1="4.9" x2="650.8" y2="130.4" stroke="#606060" stroke-width="1"/>
<line x1="523.8" y1="130.4" x2="651.3" y2="130.4" stroke="#222" stroke-width="1"/>
<path d="M524.3 130.4v1.5M524.3 4.9v-1.5M534.03 130.4v1.5M534.03 4.9v-1.5M543.76 130.4v1.5M543.76 4.9v-1.5M553.49 130.4v2.2M553.49 4.9v-2.2M563.22 130.4v1.5M563.22 4.9v-1.5M572.95 130.4v1.5M572.95 4.9v-1.5M582.68 130.4v1.5M582.68 4.9v-1.5M592.42 130.4v2.2M592.42 4.9v-2.2M602.15 130.4v1.5M602.15 4.9v-1.5M611.88 130.4v1.5M611.88 4.9v-1.5M621.61 130.4v1.5M621.61 4.9v-1.5M631.34 130.4v2.2M631.34 4.9v-2.2M641.07 130.4v1.5M641.07 4.9v-1.5M650.8 130.4v1.5M650.8 4.9v-1.5M524.3 130.4h-3M650.8 130.4h3M524.3 122.03h-1.8M650.8 122.03h1.8M524.3 113.67h-1.8M650.8 113.67h1.8M524.3 105.3h-1.8M650.8 105.3h1.8M524.3 96.93h-1.8M650.8 96.93h1.8M524.3 88.57h-3M650.8 88.57h3M524.3 80.2h-1.8M650.8 80.2h1.8M524.3 71.83h-1.8M650.8 71.83h1.8M524.3 63.47h-1.8M650.8 63.47h1.8M524.3 55.1h-1.8M650.8 55.1h1.8M524.3 46.73h-3M650.8 46.73h3M524.3 38.37h-1.8M650.8 38.37h1.8M524.3 30h-1.8M650.8 30h1.8M524.3 21.63h-1.8M650.8 21.63h1.8M524.3 13.27h-1.8M650.8 13.27h1.8M524.3 4.9h-3M650.8 4.9h3" stroke="#555" stroke-width="0.9" fill="none"/>
<text x="520.3" y="132.95" font-size="7" fill="#333" text-anchor="end" textLength="10" lengthAdjust="spacingAndGlyphs" stroke="#333" stroke-width="0.18">0.0</text>
<text x="520.3" y="91.12" font-size="7" fill="#333" text-anchor="end" textLength="10" lengthAdjust="spacingAndGlyphs" stroke="#333" stroke-width="0.18">0.5</text>
<text x="520.3" y="49.28" font-size="7" fill="#333" text-anchor="end" textLength="10" lengthAdjust="spacingAndGlyphs" stroke="#333" stroke-width="0.18">1.0</text>
<text x="520.3" y="7.45" font-size="7" fill="#333" text-anchor="end" textLength="10" lengthAdjust="spacingAndGlyphs" stroke="#333" stroke-width="0.18">1.5</text>
<text x="553.49" y="142.6" font-size="6.7" fill="#333" text-anchor="middle" textLength="11.2" lengthAdjust="spacingAndGlyphs" stroke="#333" stroke-width="0.18">200</text>
<text x="592.42" y="142.6" font-size="6.7" fill="#333" text-anchor="middle" textLength="11.2" lengthAdjust="spacingAndGlyphs" stroke="#333" stroke-width="0.18">400</text>
<text x="631.34" y="142.6" font-size="6.7" fill="#333" text-anchor="middle" textLength="11.2" lengthAdjust="spacingAndGlyphs" stroke="#333" stroke-width="0.18">600</text>
<text x="587.55" y="151.2" font-size="8.9" fill="#222" text-anchor="middle" textLength="71" lengthAdjust="spacingAndGlyphs" stroke="#222" stroke-width="0.18">Temperature (°C)</text>
<text x="503.5" y="67.9" font-size="8.4" fill="#222" text-anchor="middle" textLength="28.4" lengthAdjust="spacingAndGlyphs" transform="rotate(-90 503.5 67.9)">M<tspan font-size="5.6" dy="2">s</tspan><tspan dy="-2">/M</tspan><tspan font-size="5.6" dy="2">s0</tspan></text>
<rect x="529.9" y="11.3" width="21" height="20.3" fill="#fff" stroke="#333" stroke-width="1"/>
<text x="540.4" y="27.4" font-size="19.5" fill="#000" text-anchor="middle" stroke="#000" stroke-width="0.55">d</text>
<text x="555.5" y="27.3" font-size="12.3" fill="#1a1a1a" textLength="70.5" lengthAdjust="spacingAndGlyphs" stroke="#1a1a1a" stroke-width="0.25">926R08-01-2</text>
<line x1="47.3" y1="170" x2="166.5" y2="170" stroke="#9cc8ee" stroke-width="0.9" stroke-dasharray="1 1.3"/>
<line x1="47.3" y1="217.25" x2="166.5" y2="217.25" stroke="#9cc8ee" stroke-width="0.9" stroke-dasharray="1 1.3"/>
<line x1="47.3" y1="264.5" x2="166.5" y2="264.5" stroke="#9cc8ee" stroke-width="0.9" stroke-dasharray="1 1.3"/>
<path d="M53.3 170 L54.71 173.38 L56.12 179.45 L57.53 185.36 L58.94 192.05 L60.36 199.93 L61.77 207.8 L63.18 215.68 L64.59 222.92 L67.41 237.09 L70.23 247.96 L73.06 253.87 L75.88 256.94 L78.7 259.3 L81.53 260.21 L84.35 260.76 L87.17 261.3 L92.81 262.39 L98.46 262.69 L104.1 262.8 L109.75 262.91 L115.39 263.01 L121.04 263.12 L126.69 263.23 L132.33 263.33 L137.97 263.44 L143.62 263.54 L149.26 263.65 L154.91 263.76" fill="none" stroke="#35dde2" stroke-width="1.1"/><g fill="#35dde2"><circle cx="53.3" cy="170" r="1.4"/><circle cx="54.71" cy="173.38" r="1.4"/><circle cx="56.12" cy="179.45" r="1.4"/><circle cx="57.53" cy="185.36" r="1.4"/><circle cx="58.94" cy="192.05" r="1.4"/><circle cx="60.36" cy="199.93" r="1.4"/><circle cx="61.77" cy="207.8" r="1.4"/><circle cx="63.18" cy="215.68" r="1.4"/><circle cx="64.59" cy="222.92" r="1.4"/><circle cx="67.41" cy="237.09" r="1.4"/><circle cx="70.23" cy="247.96" r="1.4"/><circle cx="73.06" cy="253.87" r="1.4"/><circle cx="75.88" cy="256.94" r="1.4"/><circle cx="78.7" cy="259.3" r="1.4"/><circle cx="81.53" cy="260.21" r="1.4"/><circle cx="84.35" cy="260.76" r="1.4"/><circle cx="87.17" cy="261.3" r="1.4"/><circle cx="92.81" cy="262.39" r="1.4"/><circle cx="98.46" cy="262.69" r="1.4"/><circle cx="104.1" cy="262.8" r="1.4"/><circle cx="109.75" cy="262.91" r="1.4"/><circle cx="115.39" cy="263.01" r="1.4"/><circle cx="121.04" cy="263.12" r="1.4"/><circle cx="126.69" cy="263.23" r="1.4"/><circle cx="132.33" cy="263.33" r="1.4"/><circle cx="137.97" cy="263.44" r="1.4"/><circle cx="143.62" cy="263.54" r="1.4"/><circle cx="149.26" cy="263.65" r="1.4"/><circle cx="154.91" cy="263.76" r="1.4"/></g>
<path d="M53.3 170 L54.71 172.28 L56.12 177.4 L57.53 182.82 L58.94 188.45 L60.36 195.76 L61.77 203.22 L63.18 210.68 L64.59 218.04 L67.41 231.16 L70.23 244.29 L73.06 250.72 L75.88 255.56 L78.7 257.69 L81.53 259.79 L84.35 260.29 L87.17 260.8 L92.81 261.82 L98.46 262.63 L104.1 262.73 L109.75 262.83 L115.39 262.94 L121.04 263.04 L126.69 263.14 L132.33 263.24 L137.97 263.34 L143.62 263.44 L149.26 263.54 L154.91 263.64" fill="none" stroke="#35dde2" stroke-width="1.1"/><g fill="#35dde2"><circle cx="53.3" cy="170" r="1.4"/><circle cx="54.71" cy="172.28" r="1.4"/><circle cx="56.12" cy="177.4" r="1.4"/><circle cx="57.53" cy="182.82" r="1.4"/><circle cx="58.94" cy="188.45" r="1.4"/><circle cx="60.36" cy="195.76" r="1.4"/><circle cx="61.77" cy="203.22" r="1.4"/><circle cx="63.18" cy="210.68" r="1.4"/><circle cx="64.59" cy="218.04" r="1.4"/><circle cx="67.41" cy="231.16" r="1.4"/><circle cx="70.23" cy="244.29" r="1.4"/><circle cx="73.06" cy="250.72" r="1.4"/><circle cx="75.88" cy="255.56" r="1.4"/><circle cx="78.7" cy="257.69" r="1.4"/><circle cx="81.53" cy="259.79" r="1.4"/><circle cx="84.35" cy="260.29" r="1.4"/><circle cx="87.17" cy="260.8" r="1.4"/><circle cx="92.81" cy="261.82" r="1.4"/><circle cx="98.46" cy="262.63" r="1.4"/><circle cx="104.1" cy="262.73" r="1.4"/><circle cx="109.75" cy="262.83" r="1.4"/><circle cx="115.39" cy="262.94" r="1.4"/><circle cx="121.04" cy="263.04" r="1.4"/><circle cx="126.69" cy="263.14" r="1.4"/><circle cx="132.33" cy="263.24" r="1.4"/><circle cx="137.97" cy="263.34" r="1.4"/><circle cx="143.62" cy="263.44" r="1.4"/><circle cx="149.26" cy="263.54" r="1.4"/><circle cx="154.91" cy="263.64" r="1.4"/></g>
<path d="M53.3 170 L54.71 171.48 L56.12 175.91 L57.53 180.52 L58.94 185.89 L60.36 192.02 L61.77 199.11 L63.18 206.19 L64.59 213.28 L67.41 226.05 L70.23 238.27 L73.06 247.8 L75.88 253.29 L78.7 256.37 L81.53 258.3 L84.35 259.89 L87.17 260.36 L92.81 261.32 L98.46 262.27 L104.1 262.67 L109.75 262.77 L115.39 262.86 L121.04 262.96 L126.69 263.06 L132.33 263.15 L137.97 263.25 L143.62 263.35 L149.26 263.44 L154.91 263.54" fill="none" stroke="#35dde2" stroke-width="1.1"/><g fill="#35dde2"><circle cx="53.3" cy="170" r="1.4"/><circle cx="54.71" cy="171.48" r="1.4"/><circle cx="56.12" cy="175.91" r="1.4"/><circle cx="57.53" cy="180.52" r="1.4"/><circle cx="58.94" cy="185.89" r="1.4"/><circle cx="60.36" cy="192.02" r="1.4"/><circle cx="61.77" cy="199.11" r="1.4"/><circle cx="63.18" cy="206.19" r="1.4"/><circle cx="64.59" cy="213.28" r="1.4"/><circle cx="67.41" cy="226.05" r="1.4"/><circle cx="70.23" cy="238.27" r="1.4"/><circle cx="73.06" cy="247.8" r="1.4"/><circle cx="75.88" cy="253.29" r="1.4"/><circle cx="78.7" cy="256.37" r="1.4"/><circle cx="81.53" cy="258.3" r="1.4"/><circle cx="84.35" cy="259.89" r="1.4"/><circle cx="87.17" cy="260.36" r="1.4"/><circle cx="92.81" cy="261.32" r="1.4"/><circle cx="98.46" cy="262.27" r="1.4"/><circle cx="104.1" cy="262.67" r="1.4"/><circle cx="109.75" cy="262.77" r="1.4"/><circle cx="115.39" cy="262.86" r="1.4"/><circle cx="121.04" cy="262.96" r="1.4"/><circle cx="126.69" cy="263.06" r="1.4"/><circle cx="132.33" cy="263.15" r="1.4"/><circle cx="137.97" cy="263.25" r="1.4"/><circle cx="143.62" cy="263.35" r="1.4"/><circle cx="149.26" cy="263.44" r="1.4"/><circle cx="154.91" cy="263.54" r="1.4"/></g>
<path d="M53.3 170 L54.71 170.93 L56.12 174.77 L57.53 178.67 L58.94 183.56 L60.36 188.69 L61.77 195.38 L63.18 202.13 L64.59 208.88 L67.41 221.59 L70.23 233.03 L73.06 244.46 L75.88 250.38 L78.7 255.26 L81.53 257.04 L84.35 258.82 L87.17 259.98 L92.81 260.88 L98.46 261.77 L104.1 262.62 L109.75 262.71 L115.39 262.8 L121.04 262.89 L126.69 262.98 L132.33 263.08 L137.97 263.17 L143.62 263.26 L149.26 263.35 L154.91 263.44" fill="none" stroke="#35dde2" stroke-width="1.1"/><g fill="#35dde2"><circle cx="53.3" cy="170" r="1.4"/><circle cx="54.71" cy="170.93" r="1.4"/><circle cx="56.12" cy="174.77" r="1.4"/><circle cx="57.53" cy="178.67" r="1.4"/><circle cx="58.94" cy="183.56" r="1.4"/><circle cx="60.36" cy="188.69" r="1.4"/><circle cx="61.77" cy="195.38" r="1.4"/><circle cx="63.18" cy="202.13" r="1.4"/><circle cx="64.59" cy="208.88" r="1.4"/><circle cx="67.41" cy="221.59" r="1.4"/><circle cx="70.23" cy="233.03" r="1.4"/><circle cx="73.06" cy="244.46" r="1.4"/><circle cx="75.88" cy="250.38" r="1.4"/><circle cx="78.7" cy="255.26" r="1.4"/><circle cx="81.53" cy="257.04" r="1.4"/><circle cx="84.35" cy="258.82" r="1.4"/><circle cx="87.17" cy="259.98" r="1.4"/><circle cx="92.81" cy="260.88" r="1.4"/><circle cx="98.46" cy="261.77" r="1.4"/><circle cx="104.1" cy="262.62" r="1.4"/><circle cx="109.75" cy="262.71" r="1.4"/><circle cx="115.39" cy="262.8" r="1.4"/><circle cx="121.04" cy="262.89" r="1.4"/><circle cx="126.69" cy="262.98" r="1.4"/><circle cx="132.33" cy="263.08" r="1.4"/><circle cx="137.97" cy="263.17" r="1.4"/><circle cx="143.62" cy="263.26" r="1.4"/><circle cx="149.26" cy="263.35" r="1.4"/><circle cx="154.91" cy="263.44" r="1.4"/></g>
<path d="M53.3 170 L54.71 170.81 L56.12 173.87 L57.53 177.36 L58.94 181.42 L60.36 186.34 L61.77 191.99 L63.18 198.44 L64.59 204.88 L67.41 217.68 L70.23 228.42 L73.06 239.16 L75.88 247.65 L78.7 252.79 L81.53 255.97 L84.35 257.61 L87.17 259.25 L92.81 260.48 L98.46 261.33 L104.1 262.17 L109.75 262.65 L115.39 262.74 L121.04 262.83 L126.69 262.92 L132.33 263 L137.97 263.09 L143.62 263.18 L149.26 263.27 L154.91 263.36" fill="none" stroke="#35dde2" stroke-width="1.1"/><g fill="#35dde2"><circle cx="53.3" cy="170" r="1.4"/><circle cx="54.71" cy="170.81" r="1.4"/><circle cx="56.12" cy="173.87" r="1.4"/><circle cx="57.53" cy="177.36" r="1.4"/><circle cx="58.94" cy="181.42" r="1.4"/><circle cx="60.36" cy="186.34" r="1.4"/><circle cx="61.77" cy="191.99" r="1.4"/><circle cx="63.18" cy="198.44" r="1.4"/><circle cx="64.59" cy="204.88" r="1.4"/><circle cx="67.41" cy="217.68" r="1.4"/><circle cx="70.23" cy="228.42" r="1.4"/><circle cx="73.06" cy="239.16" r="1.4"/><circle cx="75.88" cy="247.65" r="1.4"/><circle cx="78.7" cy="252.79" r="1.4"/><circle cx="81.53" cy="255.97" r="1.4"/><circle cx="84.35" cy="257.61" r="1.4"/><circle cx="87.17" cy="259.25" r="1.4"/><circle cx="92.81" cy="260.48" r="1.4"/><circle cx="98.46" cy="261.33" r="1.4"/><circle cx="104.1" cy="262.17" r="1.4"/><circle cx="109.75" cy="262.65" r="1.4"/><circle cx="115.39" cy="262.74" r="1.4"/><circle cx="121.04" cy="262.83" r="1.4"/><circle cx="126.69" cy="262.92" r="1.4"/><circle cx="132.33" cy="263" r="1.4"/><circle cx="137.97" cy="263.09" r="1.4"/><circle cx="143.62" cy="263.18" r="1.4"/><circle cx="149.26" cy="263.27" r="1.4"/><circle cx="154.91" cy="263.36" r="1.4"/></g>
<path d="M53.3 170 L54.71 170.73 L56.12 173.15 L57.53 176.3 L58.94 179.45 L60.36 184.18 L61.77 188.9 L63.18 195.06 L64.59 201.23 L67.41 213.55 L70.23 224.34 L73.06 234.46 L75.88 244.59 L78.7 250.08 L81.53 255.05 L84.35 256.57 L87.17 258.1 L92.81 260.13 L98.46 260.93 L104.1 261.73 L109.75 262.53 L115.39 262.69 L121.04 262.77 L126.69 262.85 L132.33 262.94 L137.97 263.02 L143.62 263.11 L149.26 263.19 L154.91 263.28" fill="none" stroke="#35dde2" stroke-width="1.1"/><g fill="#35dde2"><circle cx="53.3" cy="170" r="1.4"/><circle cx="54.71" cy="170.73" r="1.4"/><circle cx="56.12" cy="173.15" r="1.4"/><circle cx="57.53" cy="176.3" r="1.4"/><circle cx="58.94" cy="179.45" r="1.4"/><circle cx="60.36" cy="184.18" r="1.4"/><circle cx="61.77" cy="188.9" r="1.4"/><circle cx="63.18" cy="195.06" r="1.4"/><circle cx="64.59" cy="201.23" r="1.4"/><circle cx="67.41" cy="213.55" r="1.4"/><circle cx="70.23" cy="224.34" r="1.4"/><circle cx="73.06" cy="234.46" r="1.4"/><circle cx="75.88" cy="244.59" r="1.4"/><circle cx="78.7" cy="250.08" r="1.4"/><circle cx="81.53" cy="255.05" r="1.4"/><circle cx="84.35" cy="256.57" r="1.4"/><circle cx="87.17" cy="258.1" r="1.4"/><circle cx="92.81" cy="260.13" r="1.4"/><circle cx="98.46" cy="260.93" r="1.4"/><circle cx="104.1" cy="261.73" r="1.4"/><circle cx="109.75" cy="262.53" r="1.4"/><circle cx="115.39" cy="262.69" r="1.4"/><circle cx="121.04" cy="262.77" r="1.4"/><circle cx="126.69" cy="262.85" r="1.4"/><circle cx="132.33" cy="262.94" r="1.4"/><circle cx="137.97" cy="263.02" r="1.4"/><circle cx="143.62" cy="263.11" r="1.4"/><circle cx="149.26" cy="263.19" r="1.4"/><circle cx="154.91" cy="263.28" r="1.4"/></g>
<path d="M53.3 170 L54.71 170.66 L56.12 172.55 L57.53 175.43 L58.94 178.3 L60.36 182.18 L61.77 186.72 L63.18 191.97 L64.59 197.88 L67.41 209.69 L70.23 220.7 L73.06 230.28 L75.88 239.85 L78.7 247.53 L81.53 252.35 L84.35 255.68 L87.17 257.1 L92.81 259.82 L98.46 260.58 L104.1 261.34 L109.75 262.09 L115.39 262.64 L121.04 262.72 L126.69 262.8 L132.33 262.88 L137.97 262.96 L143.62 263.04 L149.26 263.12 L154.91 263.2" fill="none" stroke="#35dde2" stroke-width="1.1"/><g fill="#35dde2"><circle cx="53.3" cy="170" r="1.4"/><circle cx="54.71" cy="170.66" r="1.4"/><circle cx="56.12" cy="172.55" r="1.4"/><circle cx="57.53" cy="175.43" r="1.4"/><circle cx="58.94" cy="178.3" r="1.4"/><circle cx="60.36" cy="182.18" r="1.4"/><circle cx="61.77" cy="186.72" r="1.4"/><circle cx="63.18" cy="191.97" r="1.4"/><circle cx="64.59" cy="197.88" r="1.4"/><circle cx="67.41" cy="209.69" r="1.4"/><circle cx="70.23" cy="220.7" r="1.4"/><circle cx="73.06" cy="230.28" r="1.4"/><circle cx="75.88" cy="239.85" r="1.4"/><circle cx="78.7" cy="247.53" r="1.4"/><circle cx="81.53" cy="252.35" r="1.4"/><circle cx="84.35" cy="255.68" r="1.4"/><circle cx="87.17" cy="257.1" r="1.4"/><circle cx="92.81" cy="259.82" r="1.4"/><circle cx="98.46" cy="260.58" r="1.4"/><circle cx="104.1" cy="261.34" r="1.4"/><circle cx="109.75" cy="262.09" r="1.4"/><circle cx="115.39" cy="262.64" r="1.4"/><circle cx="121.04" cy="262.72" r="1.4"/><circle cx="126.69" cy="262.8" r="1.4"/><circle cx="132.33" cy="262.88" r="1.4"/><circle cx="137.97" cy="262.96" r="1.4"/><circle cx="143.62" cy="263.04" r="1.4"/><circle cx="149.26" cy="263.12" r="1.4"/><circle cx="154.91" cy="263.2" r="1.4"/></g>
<path d="M53.3 170 L54.71 170.6 L56.12 172.05 L57.53 174.7 L58.94 177.34 L60.36 180.32 L61.77 184.7 L63.18 189.13 L64.59 194.8 L67.41 206.14 L70.23 217.43 L73.06 226.52 L75.88 235.6 L78.7 244.69 L81.53 249.81 L84.35 254.49 L87.17 256.22 L92.81 258.89 L98.46 260.26 L104.1 260.98 L109.75 261.7 L115.39 262.42 L121.04 262.67 L126.69 262.75 L132.33 262.82 L137.97 262.9 L143.62 262.98 L149.26 263.06 L154.91 263.14" fill="none" stroke="#35dde2" stroke-width="1.1"/><g fill="#35dde2"><circle cx="53.3" cy="170" r="1.4"/><circle cx="54.71" cy="170.6" r="1.4"/><circle cx="56.12" cy="172.05" r="1.4"/><circle cx="57.53" cy="174.7" r="1.4"/><circle cx="58.94" cy="177.34" r="1.4"/><circle cx="60.36" cy="180.32" r="1.4"/><circle cx="61.77" cy="184.7" r="1.4"/><circle cx="63.18" cy="189.13" r="1.4"/><circle cx="64.59" cy="194.8" r="1.4"/><circle cx="67.41" cy="206.14" r="1.4"/><circle cx="70.23" cy="217.43" r="1.4"/><circle cx="73.06" cy="226.52" r="1.4"/><circle cx="75.88" cy="235.6" r="1.4"/><circle cx="78.7" cy="244.69" r="1.4"/><circle cx="81.53" cy="249.81" r="1.4"/><circle cx="84.35" cy="254.49" r="1.4"/><circle cx="87.17" cy="256.22" r="1.4"/><circle cx="92.81" cy="258.89" r="1.4"/><circle cx="98.46" cy="260.26" r="1.4"/><circle cx="104.1" cy="260.98" r="1.4"/><circle cx="109.75" cy="261.7" r="1.4"/><circle cx="115.39" cy="262.42" r="1.4"/><circle cx="121.04" cy="262.67" r="1.4"/><circle cx="126.69" cy="262.75" r="1.4"/><circle cx="132.33" cy="262.82" r="1.4"/><circle cx="137.97" cy="262.9" r="1.4"/><circle cx="143.62" cy="262.98" r="1.4"/><circle cx="149.26" cy="263.06" r="1.4"/><circle cx="154.91" cy="263.14" r="1.4"/></g>
<path d="M53.3 170 L54.71 170.55 L56.12 171.63 L57.53 174.07 L58.94 176.52 L60.36 178.96 L61.77 182.82 L63.18 187.04 L64.59 191.95 L67.41 202.86 L70.23 213.76 L73.06 223.13 L75.88 231.77 L78.7 240.41 L81.53 247.42 L84.35 251.96 L87.17 255.45 L92.81 257.97 L98.46 259.97 L104.1 260.66 L109.75 261.34 L115.39 262.03 L121.04 262.62 L126.69 262.7 L132.33 262.77 L137.97 262.85 L143.62 262.92 L149.26 263 L154.91 263.07" fill="none" stroke="#35dde2" stroke-width="1.1"/><g fill="#35dde2"><circle cx="53.3" cy="170" r="1.4"/><circle cx="54.71" cy="170.55" r="1.4"/><circle cx="56.12" cy="171.63" r="1.4"/><circle cx="57.53" cy="174.07" r="1.4"/><circle cx="58.94" cy="176.52" r="1.4"/><circle cx="60.36" cy="178.96" r="1.4"/><circle cx="61.77" cy="182.82" r="1.4"/><circle cx="63.18" cy="187.04" r="1.4"/><circle cx="64.59" cy="191.95" r="1.4"/><circle cx="67.41" cy="202.86" r="1.4"/><circle cx="70.23" cy="213.76" r="1.4"/><circle cx="73.06" cy="223.13" r="1.4"/><circle cx="75.88" cy="231.77" r="1.4"/><circle cx="78.7" cy="240.41" r="1.4"/><circle cx="81.53" cy="247.42" r="1.4"/><circle cx="84.35" cy="251.96" r="1.4"/><circle cx="87.17" cy="255.45" r="1.4"/><circle cx="92.81" cy="257.97" r="1.4"/><circle cx="98.46" cy="259.97" r="1.4"/><circle cx="104.1" cy="260.66" r="1.4"/><circle cx="109.75" cy="261.34" r="1.4"/><circle cx="115.39" cy="262.03" r="1.4"/><circle cx="121.04" cy="262.62" r="1.4"/><circle cx="126.69" cy="262.7" r="1.4"/><circle cx="132.33" cy="262.77" r="1.4"/><circle cx="137.97" cy="262.85" r="1.4"/><circle cx="143.62" cy="262.92" r="1.4"/><circle cx="149.26" cy="263" r="1.4"/><circle cx="154.91" cy="263.07" r="1.4"/></g>
<path d="M53.3 170 L54.71 170.51 L56.12 171.26 L57.53 173.54 L58.94 175.81 L60.36 178.09 L61.77 181.08 L63.18 185.15 L64.59 189.32 L67.41 199.82 L70.23 210.32 L73.06 220.05 L75.88 228.29 L78.7 236.53 L81.53 244.78 L84.35 249.57 L87.17 253.99 L92.81 257.14 L98.46 259.51 L104.1 260.36 L109.75 261.02 L115.39 261.68 L121.04 262.33 L126.69 262.65 L132.33 262.72 L137.97 262.8 L143.62 262.87 L149.26 262.94 L154.91 263.01" fill="none" stroke="#35dde2" stroke-width="1.1"/><g fill="#35dde2"><circle cx="53.3" cy="170" r="1.4"/><circle cx="54.71" cy="170.51" r="1.4"/><circle cx="56.12" cy="171.26" r="1.4"/><circle cx="57.53" cy="173.54" r="1.4"/><circle cx="58.94" cy="175.81" r="1.4"/><circle cx="60.36" cy="178.09" r="1.4"/><circle cx="61.77" cy="181.08" r="1.4"/><circle cx="63.18" cy="185.15" r="1.4"/><circle cx="64.59" cy="189.32" r="1.4"/><circle cx="67.41" cy="199.82" r="1.4"/><circle cx="70.23" cy="210.32" r="1.4"/><circle cx="73.06" cy="220.05" r="1.4"/><circle cx="75.88" cy="228.29" r="1.4"/><circle cx="78.7" cy="236.53" r="1.4"/><circle cx="81.53" cy="244.78" r="1.4"/><circle cx="84.35" cy="249.57" r="1.4"/><circle cx="87.17" cy="253.99" r="1.4"/><circle cx="92.81" cy="257.14" r="1.4"/><circle cx="98.46" cy="259.51" r="1.4"/><circle cx="104.1" cy="260.36" r="1.4"/><circle cx="109.75" cy="261.02" r="1.4"/><circle cx="115.39" cy="261.68" r="1.4"/><circle cx="121.04" cy="262.33" r="1.4"/><circle cx="126.69" cy="262.65" r="1.4"/><circle cx="132.33" cy="262.72" r="1.4"/><circle cx="137.97" cy="262.8" r="1.4"/><circle cx="143.62" cy="262.87" r="1.4"/><circle cx="149.26" cy="262.94" r="1.4"/><circle cx="154.91" cy="263.01" r="1.4"/></g>
<path d="M53.3 170 L54.71 170.47 L56.12 170.94 L57.53 173.07 L58.94 175.2 L60.36 177.32 L61.77 179.45 L63.18 183.39 L64.59 187.32 L67.41 197 L70.23 207.12 L73.06 217.25 L75.88 225.12 L78.7 233 L81.53 240.88 L84.35 247.32 L87.17 251.61 L92.81 256.4 L98.46 258.65 L104.1 260.09 L109.75 260.72 L115.39 261.35 L121.04 261.98 L126.69 262.61 L132.33 262.68 L137.97 262.75 L143.62 262.82 L149.26 262.89 L154.91 262.96" fill="none" stroke="#35dde2" stroke-width="1.1"/><g fill="#35dde2"><circle cx="53.3" cy="170" r="1.4"/><circle cx="54.71" cy="170.47" r="1.4"/><circle cx="56.12" cy="170.94" r="1.4"/><circle cx="57.53" cy="173.07" r="1.4"/><circle cx="58.94" cy="175.2" r="1.4"/><circle cx="60.36" cy="177.32" r="1.4"/><circle cx="61.77" cy="179.45" r="1.4"/><circle cx="63.18" cy="183.39" r="1.4"/><circle cx="64.59" cy="187.32" r="1.4"/><circle cx="67.41" cy="197" r="1.4"/><circle cx="70.23" cy="207.12" r="1.4"/><circle cx="73.06" cy="217.25" r="1.4"/><circle cx="75.88" cy="225.12" r="1.4"/><circle cx="78.7" cy="233" r="1.4"/><circle cx="81.53" cy="240.88" r="1.4"/><circle cx="84.35" cy="247.32" r="1.4"/><circle cx="87.17" cy="251.61" r="1.4"/><circle cx="92.81" cy="256.4" r="1.4"/><circle cx="98.46" cy="258.65" r="1.4"/><circle cx="104.1" cy="260.09" r="1.4"/><circle cx="109.75" cy="260.72" r="1.4"/><circle cx="115.39" cy="261.35" r="1.4"/><circle cx="121.04" cy="261.98" r="1.4"/><circle cx="126.69" cy="262.61" r="1.4"/><circle cx="132.33" cy="262.68" r="1.4"/><circle cx="137.97" cy="262.75" r="1.4"/><circle cx="143.62" cy="262.82" r="1.4"/><circle cx="149.26" cy="262.89" r="1.4"/><circle cx="154.91" cy="262.96" r="1.4"/></g>
<path d="M53.3 170 L54.71 170.47 L56.12 170.94 L57.53 175.2 L58.94 179.45 L60.36 183.39 L61.77 187.32 L63.18 193.15 L64.59 200.24 L67.41 214.41 L70.23 223.55 L73.06 231.43 L75.88 239.3 L78.7 246.33 L81.53 249.96 L84.35 253.6 L87.17 255.88 L92.81 258.66 L98.46 260.32 L104.1 261.24 L109.75 262.15 L115.39 262.71 L121.04 262.91 L126.69 263.11 L132.33 263.31 L137.97 263.51 L143.62 263.7 L149.26 263.9 L154.91 264.1" fill="none" stroke="#8a8a8a" stroke-width="0.8"/><g fill="#8a8a8a"><circle cx="53.3" cy="170" r="1.1"/><circle cx="54.71" cy="170.47" r="1.1"/><circle cx="56.12" cy="170.94" r="1.1"/><circle cx="57.53" cy="175.2" r="1.1"/><circle cx="58.94" cy="179.45" r="1.1"/><circle cx="60.36" cy="183.39" r="1.1"/><circle cx="61.77" cy="187.32" r="1.1"/><circle cx="63.18" cy="193.15" r="1.1"/><circle cx="64.59" cy="200.24" r="1.1"/><circle cx="67.41" cy="214.41" r="1.1"/><circle cx="70.23" cy="223.55" r="1.1"/><circle cx="73.06" cy="231.43" r="1.1"/><circle cx="75.88" cy="239.3" r="1.1"/><circle cx="78.7" cy="246.33" r="1.1"/><circle cx="81.53" cy="249.96" r="1.1"/><circle cx="84.35" cy="253.6" r="1.1"/><circle cx="87.17" cy="255.88" r="1.1"/><circle cx="92.81" cy="258.66" r="1.1"/><circle cx="98.46" cy="260.32" r="1.1"/><circle cx="104.1" cy="261.24" r="1.1"/><circle cx="109.75" cy="262.15" r="1.1"/><circle cx="115.39" cy="262.71" r="1.1"/><circle cx="121.04" cy="262.91" r="1.1"/><circle cx="126.69" cy="263.11" r="1.1"/><circle cx="132.33" cy="263.31" r="1.1"/><circle cx="137.97" cy="263.51" r="1.1"/><circle cx="143.62" cy="263.7" r="1.1"/><circle cx="149.26" cy="263.9" r="1.1"/><circle cx="154.91" cy="264.1" r="1.1"/></g>
<path d="M53.3 170 L54.71 170.37 L56.12 170.75 L57.53 172.7 L58.94 176.45 L60.36 180.12 L61.77 183.5 L63.18 186.88 L64.59 191.33 L67.41 203.48 L70.23 215.63 L73.06 223.6 L75.88 230.94 L78.7 238.27 L81.53 245.6 L84.35 248.97 L87.17 252.35 L92.81 256.52 L98.46 258.96 L104.1 260.29 L109.75 261.06 L115.39 261.84 L121.04 262.61 L126.69 262.8 L132.33 262.99 L137.97 263.18 L143.62 263.37 L149.26 263.56 L154.91 263.74" fill="none" stroke="#8a8a8a" stroke-width="0.8"/><g fill="#8a8a8a"><circle cx="53.3" cy="170" r="1.1"/><circle cx="54.71" cy="170.37" r="1.1"/><circle cx="56.12" cy="170.75" r="1.1"/><circle cx="57.53" cy="172.7" r="1.1"/><circle cx="58.94" cy="176.45" r="1.1"/><circle cx="60.36" cy="180.12" r="1.1"/><circle cx="61.77" cy="183.5" r="1.1"/><circle cx="63.18" cy="186.88" r="1.1"/><circle cx="64.59" cy="191.33" r="1.1"/><circle cx="67.41" cy="203.48" r="1.1"/><circle cx="70.23" cy="215.63" r="1.1"/><circle cx="73.06" cy="223.6" r="1.1"/><circle cx="75.88" cy="230.94" r="1.1"/><circle cx="78.7" cy="238.27" r="1.1"/><circle cx="81.53" cy="245.6" r="1.1"/><circle cx="84.35" cy="248.97" r="1.1"/><circle cx="87.17" cy="252.35" r="1.1"/><circle cx="92.81" cy="256.52" r="1.1"/><circle cx="98.46" cy="258.96" r="1.1"/><circle cx="104.1" cy="260.29" r="1.1"/><circle cx="109.75" cy="261.06" r="1.1"/><circle cx="115.39" cy="261.84" r="1.1"/><circle cx="121.04" cy="262.61" r="1.1"/><circle cx="126.69" cy="262.8" r="1.1"/><circle cx="132.33" cy="262.99" r="1.1"/><circle cx="137.97" cy="263.18" r="1.1"/><circle cx="143.62" cy="263.37" r="1.1"/><circle cx="149.26" cy="263.56" r="1.1"/><circle cx="154.91" cy="263.74" r="1.1"/></g>
<path d="M53.3 170 L54.71 170.31 L56.12 170.62 L57.53 170.92 L58.94 174.08 L60.36 177.44 L61.77 180.63 L63.18 183.58 L64.59 186.54 L67.41 195.28 L70.23 205.91 L73.06 216.54 L75.88 223.65 L78.7 230.51 L81.53 237.37 L84.35 244.23 L87.17 248.12 L92.81 254.42 L98.46 257.01 L104.1 259.19 L109.75 260.27 L115.39 260.94 L121.04 261.61 L126.69 262.28 L132.33 262.7 L137.97 262.88 L143.62 263.06 L149.26 263.24 L154.91 263.42" fill="none" stroke="#8a8a8a" stroke-width="0.8"/><g fill="#8a8a8a"><circle cx="53.3" cy="170" r="1.1"/><circle cx="54.71" cy="170.31" r="1.1"/><circle cx="56.12" cy="170.62" r="1.1"/><circle cx="57.53" cy="170.92" r="1.1"/><circle cx="58.94" cy="174.08" r="1.1"/><circle cx="60.36" cy="177.44" r="1.1"/><circle cx="61.77" cy="180.63" r="1.1"/><circle cx="63.18" cy="183.58" r="1.1"/><circle cx="64.59" cy="186.54" r="1.1"/><circle cx="67.41" cy="195.28" r="1.1"/><circle cx="70.23" cy="205.91" r="1.1"/><circle cx="73.06" cy="216.54" r="1.1"/><circle cx="75.88" cy="223.65" r="1.1"/><circle cx="78.7" cy="230.51" r="1.1"/><circle cx="81.53" cy="237.37" r="1.1"/><circle cx="84.35" cy="244.23" r="1.1"/><circle cx="87.17" cy="248.12" r="1.1"/><circle cx="92.81" cy="254.42" r="1.1"/><circle cx="98.46" cy="257.01" r="1.1"/><circle cx="104.1" cy="259.19" r="1.1"/><circle cx="109.75" cy="260.27" r="1.1"/><circle cx="115.39" cy="260.94" r="1.1"/><circle cx="121.04" cy="261.61" r="1.1"/><circle cx="126.69" cy="262.28" r="1.1"/><circle cx="132.33" cy="262.7" r="1.1"/><circle cx="137.97" cy="262.88" r="1.1"/><circle cx="143.62" cy="263.06" r="1.1"/><circle cx="149.26" cy="263.24" r="1.1"/><circle cx="154.91" cy="263.42" r="1.1"/></g>
<path d="M53.3 170 L54.71 170.26 L56.12 170.52 L57.53 170.79 L58.94 172.16 L60.36 175.2 L61.77 178.24 L63.18 181.03 L64.59 183.65 L67.41 188.9 L70.23 198.35 L73.06 207.8 L75.88 217.25 L78.7 223.69 L81.53 230.14 L84.35 236.58 L87.17 243.02 L92.81 250.32 L98.46 255.44 L104.1 257.41 L109.75 259.38 L115.39 260.25 L121.04 260.84 L126.69 261.43 L132.33 262.02 L137.97 262.61 L143.62 262.78 L149.26 262.95 L154.91 263.13" fill="none" stroke="#8a8a8a" stroke-width="0.8"/><g fill="#8a8a8a"><circle cx="53.3" cy="170" r="1.1"/><circle cx="54.71" cy="170.26" r="1.1"/><circle cx="56.12" cy="170.52" r="1.1"/><circle cx="57.53" cy="170.79" r="1.1"/><circle cx="58.94" cy="172.16" r="1.1"/><circle cx="60.36" cy="175.2" r="1.1"/><circle cx="61.77" cy="178.24" r="1.1"/><circle cx="63.18" cy="181.03" r="1.1"/><circle cx="64.59" cy="183.65" r="1.1"/><circle cx="67.41" cy="188.9" r="1.1"/><circle cx="70.23" cy="198.35" r="1.1"/><circle cx="73.06" cy="207.8" r="1.1"/><circle cx="75.88" cy="217.25" r="1.1"/><circle cx="78.7" cy="223.69" r="1.1"/><circle cx="81.53" cy="230.14" r="1.1"/><circle cx="84.35" cy="236.58" r="1.1"/><circle cx="87.17" cy="243.02" r="1.1"/><circle cx="92.81" cy="250.32" r="1.1"/><circle cx="98.46" cy="255.44" r="1.1"/><circle cx="104.1" cy="257.41" r="1.1"/><circle cx="109.75" cy="259.38" r="1.1"/><circle cx="115.39" cy="260.25" r="1.1"/><circle cx="121.04" cy="260.84" r="1.1"/><circle cx="126.69" cy="261.43" r="1.1"/><circle cx="132.33" cy="262.02" r="1.1"/><circle cx="137.97" cy="262.61" r="1.1"/><circle cx="143.62" cy="262.78" r="1.1"/><circle cx="149.26" cy="262.95" r="1.1"/><circle cx="154.91" cy="263.13" r="1.1"/></g>
<path d="M53.3 170 L54.71 170.2 L56.12 170.39 L57.53 170.59 L58.94 170.79 L60.36 171.17 L61.77 172.29 L63.18 173.41 L64.59 174.53 L67.41 176.76 L70.23 179 L73.06 183.65 L75.88 188.9 L78.7 195.06 L81.53 201.23 L84.35 207.39 L87.17 213.55 L92.81 223.09 L98.46 231.43 L104.1 239.76 L109.75 247.18 L115.39 252.43 L121.04 256.23 L126.69 258.59 L132.33 260.34 L137.97 261.48 L143.62 262.61 L149.26 263.24 L154.91 263.87" fill="none" stroke="#444444" stroke-width="0.8"/><g fill="#444444"><circle cx="53.3" cy="170" r="1.15"/><circle cx="54.71" cy="170.2" r="1.15"/><circle cx="56.12" cy="170.39" r="1.15"/><circle cx="57.53" cy="170.59" r="1.15"/><circle cx="58.94" cy="170.79" r="1.15"/><circle cx="60.36" cy="171.17" r="1.15"/><circle cx="61.77" cy="172.29" r="1.15"/><circle cx="63.18" cy="173.41" r="1.15"/><circle cx="64.59" cy="174.53" r="1.15"/><circle cx="67.41" cy="176.76" r="1.15"/><circle cx="70.23" cy="179" r="1.15"/><circle cx="73.06" cy="183.65" r="1.15"/><circle cx="75.88" cy="188.9" r="1.15"/><circle cx="78.7" cy="195.06" r="1.15"/><circle cx="81.53" cy="201.23" r="1.15"/><circle cx="84.35" cy="207.39" r="1.15"/><circle cx="87.17" cy="213.55" r="1.15"/><circle cx="92.81" cy="223.09" r="1.15"/><circle cx="98.46" cy="231.43" r="1.15"/><circle cx="104.1" cy="239.76" r="1.15"/><circle cx="109.75" cy="247.18" r="1.15"/><circle cx="115.39" cy="252.43" r="1.15"/><circle cx="121.04" cy="256.23" r="1.15"/><circle cx="126.69" cy="258.59" r="1.15"/><circle cx="132.33" cy="260.34" r="1.15"/><circle cx="137.97" cy="261.48" r="1.15"/><circle cx="143.62" cy="262.61" r="1.15"/><circle cx="149.26" cy="263.24" r="1.15"/><circle cx="154.91" cy="263.87" r="1.15"/></g>
<path d="M53.3 170 L54.71 170.17 L56.12 170.34 L57.53 170.51 L58.94 170.68 L60.36 170.84 L61.77 171.34 L63.18 172.34 L64.59 173.34 L67.41 175.33 L70.23 177.32 L73.06 179.32 L75.88 184.01 L78.7 188.9 L81.53 194.81 L84.35 200.71 L87.17 206.62 L92.81 218.08 L98.46 226.42 L104.1 234.76 L109.75 243.1 L115.39 248.8 L121.04 253.37 L126.69 256.57 L132.33 258.97 L137.97 260.65 L143.62 261.96 L149.26 263.01 L154.91 263.82" fill="none" stroke="#444444" stroke-width="0.8"/><g fill="#444444"><circle cx="53.3" cy="170" r="1.15"/><circle cx="54.71" cy="170.17" r="1.15"/><circle cx="56.12" cy="170.34" r="1.15"/><circle cx="57.53" cy="170.51" r="1.15"/><circle cx="58.94" cy="170.68" r="1.15"/><circle cx="60.36" cy="170.84" r="1.15"/><circle cx="61.77" cy="171.34" r="1.15"/><circle cx="63.18" cy="172.34" r="1.15"/><circle cx="64.59" cy="173.34" r="1.15"/><circle cx="67.41" cy="175.33" r="1.15"/><circle cx="70.23" cy="177.32" r="1.15"/><circle cx="73.06" cy="179.32" r="1.15"/><circle cx="75.88" cy="184.01" r="1.15"/><circle cx="78.7" cy="188.9" r="1.15"/><circle cx="81.53" cy="194.81" r="1.15"/><circle cx="84.35" cy="200.71" r="1.15"/><circle cx="87.17" cy="206.62" r="1.15"/><circle cx="92.81" cy="218.08" r="1.15"/><circle cx="98.46" cy="226.42" r="1.15"/><circle cx="104.1" cy="234.76" r="1.15"/><circle cx="109.75" cy="243.1" r="1.15"/><circle cx="115.39" cy="248.8" r="1.15"/><circle cx="121.04" cy="253.37" r="1.15"/><circle cx="126.69" cy="256.57" r="1.15"/><circle cx="132.33" cy="258.97" r="1.15"/><circle cx="137.97" cy="260.65" r="1.15"/><circle cx="143.62" cy="261.96" r="1.15"/><circle cx="149.26" cy="263.01" r="1.15"/><circle cx="154.91" cy="263.82" r="1.15"/></g>
<path d="M53.3 170 L54.71 170.15 L56.12 170.3 L57.53 170.44 L58.94 170.59 L60.36 170.74 L61.77 170.89 L63.18 171.48 L64.59 172.38 L67.41 174.18 L70.23 175.98 L73.06 177.77 L75.88 179.75 L78.7 184.33 L81.53 188.9 L84.35 194.57 L87.17 200.24 L92.81 211.58 L98.46 221.42 L104.1 229.76 L109.75 238.1 L115.39 246 L121.04 250.06 L126.69 254.1 L132.33 256.92 L137.97 259.37 L143.62 261.06 L149.26 262.61 L154.91 263.74" fill="none" stroke="#444444" stroke-width="0.8"/><g fill="#444444"><circle cx="53.3" cy="170" r="1.15"/><circle cx="54.71" cy="170.15" r="1.15"/><circle cx="56.12" cy="170.3" r="1.15"/><circle cx="57.53" cy="170.44" r="1.15"/><circle cx="58.94" cy="170.59" r="1.15"/><circle cx="60.36" cy="170.74" r="1.15"/><circle cx="61.77" cy="170.89" r="1.15"/><circle cx="63.18" cy="171.48" r="1.15"/><circle cx="64.59" cy="172.38" r="1.15"/><circle cx="67.41" cy="174.18" r="1.15"/><circle cx="70.23" cy="175.98" r="1.15"/><circle cx="73.06" cy="177.77" r="1.15"/><circle cx="75.88" cy="179.75" r="1.15"/><circle cx="78.7" cy="184.33" r="1.15"/><circle cx="81.53" cy="188.9" r="1.15"/><circle cx="84.35" cy="194.57" r="1.15"/><circle cx="87.17" cy="200.24" r="1.15"/><circle cx="92.81" cy="211.58" r="1.15"/><circle cx="98.46" cy="221.42" r="1.15"/><circle cx="104.1" cy="229.76" r="1.15"/><circle cx="109.75" cy="238.1" r="1.15"/><circle cx="115.39" cy="246" r="1.15"/><circle cx="121.04" cy="250.06" r="1.15"/><circle cx="126.69" cy="254.1" r="1.15"/><circle cx="132.33" cy="256.92" r="1.15"/><circle cx="137.97" cy="259.37" r="1.15"/><circle cx="143.62" cy="261.06" r="1.15"/><circle cx="149.26" cy="262.61" r="1.15"/><circle cx="154.91" cy="263.74" r="1.15"/></g>
<path d="M53.3 170 L54.71 170.13 L56.12 170.26 L57.53 170.39 L58.94 170.52 L60.36 170.66 L61.77 170.79 L63.18 170.92 L64.59 171.6 L67.41 173.23 L70.23 174.87 L73.06 176.51 L75.88 178.14 L78.7 180.31 L81.53 184.6 L84.35 188.9 L87.17 194.35 L92.81 205.26 L98.46 216.16 L104.1 224.75 L109.75 233.09 L115.39 241.43 L121.04 247.42 L126.69 251.05 L132.33 254.69 L137.97 257.29 L143.62 259.77 L149.26 261.67 L154.91 263.56" fill="none" stroke="#444444" stroke-width="0.8"/><g fill="#444444"><circle cx="53.3" cy="170" r="1.15"/><circle cx="54.71" cy="170.13" r="1.15"/><circle cx="56.12" cy="170.26" r="1.15"/><circle cx="57.53" cy="170.39" r="1.15"/><circle cx="58.94" cy="170.52" r="1.15"/><circle cx="60.36" cy="170.66" r="1.15"/><circle cx="61.77" cy="170.79" r="1.15"/><circle cx="63.18" cy="170.92" r="1.15"/><circle cx="64.59" cy="171.6" r="1.15"/><circle cx="67.41" cy="173.23" r="1.15"/><circle cx="70.23" cy="174.87" r="1.15"/><circle cx="73.06" cy="176.51" r="1.15"/><circle cx="75.88" cy="178.14" r="1.15"/><circle cx="78.7" cy="180.31" r="1.15"/><circle cx="81.53" cy="184.6" r="1.15"/><circle cx="84.35" cy="188.9" r="1.15"/><circle cx="87.17" cy="194.35" r="1.15"/><circle cx="92.81" cy="205.26" r="1.15"/><circle cx="98.46" cy="216.16" r="1.15"/><circle cx="104.1" cy="224.75" r="1.15"/><circle cx="109.75" cy="233.09" r="1.15"/><circle cx="115.39" cy="241.43" r="1.15"/><circle cx="121.04" cy="247.42" r="1.15"/><circle cx="126.69" cy="251.05" r="1.15"/><circle cx="132.33" cy="254.69" r="1.15"/><circle cx="137.97" cy="257.29" r="1.15"/><circle cx="143.62" cy="259.77" r="1.15"/><circle cx="149.26" cy="261.67" r="1.15"/><circle cx="154.91" cy="263.56" r="1.15"/></g>
<path d="M53.3 170 L54.71 170.24 L56.12 170.47 L57.53 170.71 L58.94 170.94 L60.36 173.07 L61.77 175.2 L63.18 177.32 L64.59 179.45 L67.41 184.18 L70.23 188.9 L73.06 195.65 L75.88 202.4 L78.7 209.15 L81.53 215.9 L84.35 221.61 L87.17 227.06 L92.81 237.97 L98.46 246.54 L104.1 249.69 L109.75 252.84 L115.39 255.48 L121.04 256.91 L126.69 258.34 L132.33 259.77 L137.97 260.48 L143.62 261.19 L149.26 261.9 L154.91 262.61" fill="none" stroke="#ee1c1c" stroke-width="0.85"/><g fill="#ee1c1c"><circle cx="53.3" cy="170" r="1.25"/><circle cx="54.71" cy="170.24" r="1.25"/><circle cx="56.12" cy="170.47" r="1.25"/><circle cx="57.53" cy="170.71" r="1.25"/><circle cx="58.94" cy="170.94" r="1.25"/><circle cx="60.36" cy="173.07" r="1.25"/><circle cx="61.77" cy="175.2" r="1.25"/><circle cx="63.18" cy="177.32" r="1.25"/><circle cx="64.59" cy="179.45" r="1.25"/><circle cx="67.41" cy="184.18" r="1.25"/><circle cx="70.23" cy="188.9" r="1.25"/><circle cx="73.06" cy="195.65" r="1.25"/><circle cx="75.88" cy="202.4" r="1.25"/><circle cx="78.7" cy="209.15" r="1.25"/><circle cx="81.53" cy="215.9" r="1.25"/><circle cx="84.35" cy="221.61" r="1.25"/><circle cx="87.17" cy="227.06" r="1.25"/><circle cx="92.81" cy="237.97" r="1.25"/><circle cx="98.46" cy="246.54" r="1.25"/><circle cx="104.1" cy="249.69" r="1.25"/><circle cx="109.75" cy="252.84" r="1.25"/><circle cx="115.39" cy="255.48" r="1.25"/><circle cx="121.04" cy="256.91" r="1.25"/><circle cx="126.69" cy="258.34" r="1.25"/><circle cx="132.33" cy="259.77" r="1.25"/><circle cx="137.97" cy="260.48" r="1.25"/><circle cx="143.62" cy="261.19" r="1.25"/><circle cx="149.26" cy="261.9" r="1.25"/><circle cx="154.91" cy="262.61" r="1.25"/></g>
<path d="M53.3 170 L54.71 170.2 L56.12 170.39 L57.53 170.59 L58.94 170.79 L60.36 171.3 L61.77 173.07 L63.18 174.84 L64.59 176.62 L67.41 180.31 L70.23 184.6 L73.06 188.9 L75.88 195.06 L78.7 201.23 L81.53 207.39 L84.35 213.55 L87.17 218.78 L92.81 226.44 L98.46 234.11 L104.1 241.77 L109.75 246.95 L115.39 249.65 L121.04 252.35 L126.69 255.05 L132.33 256.1 L137.97 257.15 L143.62 258.2 L149.26 259.25 L154.91 259.96" fill="none" stroke="#ee1c1c" stroke-width="0.85"/><g fill="#ee1c1c"><circle cx="53.3" cy="170" r="1.25"/><circle cx="54.71" cy="170.2" r="1.25"/><circle cx="56.12" cy="170.39" r="1.25"/><circle cx="57.53" cy="170.59" r="1.25"/><circle cx="58.94" cy="170.79" r="1.25"/><circle cx="60.36" cy="171.3" r="1.25"/><circle cx="61.77" cy="173.07" r="1.25"/><circle cx="63.18" cy="174.84" r="1.25"/><circle cx="64.59" cy="176.62" r="1.25"/><circle cx="67.41" cy="180.31" r="1.25"/><circle cx="70.23" cy="184.6" r="1.25"/><circle cx="73.06" cy="188.9" r="1.25"/><circle cx="75.88" cy="195.06" r="1.25"/><circle cx="78.7" cy="201.23" r="1.25"/><circle cx="81.53" cy="207.39" r="1.25"/><circle cx="84.35" cy="213.55" r="1.25"/><circle cx="87.17" cy="218.78" r="1.25"/><circle cx="92.81" cy="226.44" r="1.25"/><circle cx="98.46" cy="234.11" r="1.25"/><circle cx="104.1" cy="241.77" r="1.25"/><circle cx="109.75" cy="246.95" r="1.25"/><circle cx="115.39" cy="249.65" r="1.25"/><circle cx="121.04" cy="252.35" r="1.25"/><circle cx="126.69" cy="255.05" r="1.25"/><circle cx="132.33" cy="256.1" r="1.25"/><circle cx="137.97" cy="257.15" r="1.25"/><circle cx="143.62" cy="258.2" r="1.25"/><circle cx="149.26" cy="259.25" r="1.25"/><circle cx="154.91" cy="259.96" r="1.25"/></g>
<path d="M53.3 170 L54.71 170.18 L56.12 170.36 L57.53 170.55 L58.94 170.73 L60.36 170.91 L61.77 172.08 L63.18 173.5 L64.59 174.91 L67.41 177.75 L70.23 180.8 L73.06 184.18 L75.88 187.55 L78.7 192.17 L81.53 197.62 L84.35 203.07 L87.17 208.53 L92.81 218.54 L98.46 224.98 L104.1 231.43 L109.75 237.87 L115.39 244.31 L121.04 247.59 L126.69 250.08 L132.33 252.56 L137.97 255.05 L143.62 256 L149.26 256.94 L154.91 257.88" fill="none" stroke="#ee1c1c" stroke-width="0.85"/><g fill="#ee1c1c"><circle cx="53.3" cy="170" r="1.25"/><circle cx="54.71" cy="170.18" r="1.25"/><circle cx="56.12" cy="170.36" r="1.25"/><circle cx="57.53" cy="170.55" r="1.25"/><circle cx="58.94" cy="170.73" r="1.25"/><circle cx="60.36" cy="170.91" r="1.25"/><circle cx="61.77" cy="172.08" r="1.25"/><circle cx="63.18" cy="173.5" r="1.25"/><circle cx="64.59" cy="174.91" r="1.25"/><circle cx="67.41" cy="177.75" r="1.25"/><circle cx="70.23" cy="180.8" r="1.25"/><circle cx="73.06" cy="184.18" r="1.25"/><circle cx="75.88" cy="187.55" r="1.25"/><circle cx="78.7" cy="192.17" r="1.25"/><circle cx="81.53" cy="197.62" r="1.25"/><circle cx="84.35" cy="203.07" r="1.25"/><circle cx="87.17" cy="208.53" r="1.25"/><circle cx="92.81" cy="218.54" r="1.25"/><circle cx="98.46" cy="224.98" r="1.25"/><circle cx="104.1" cy="231.43" r="1.25"/><circle cx="109.75" cy="237.87" r="1.25"/><circle cx="115.39" cy="244.31" r="1.25"/><circle cx="121.04" cy="247.59" r="1.25"/><circle cx="126.69" cy="250.08" r="1.25"/><circle cx="132.33" cy="252.56" r="1.25"/><circle cx="137.97" cy="255.05" r="1.25"/><circle cx="143.62" cy="256" r="1.25"/><circle cx="149.26" cy="256.94" r="1.25"/><circle cx="154.91" cy="257.88" r="1.25"/></g>
<path d="M53.3 170 L54.71 170.16 L56.12 170.31 L57.53 170.47 L58.94 170.63 L60.36 170.79 L61.77 170.94 L63.18 172.2 L64.59 173.45 L67.41 175.95 L70.23 178.45 L73.06 181.12 L75.88 183.9 L78.7 186.68 L81.53 189.91 L84.35 194.97 L87.17 200.04 L92.81 210.16 L98.46 218.85 L104.1 224.2 L109.75 229.55 L115.39 234.9 L121.04 240.25 L126.69 245.6 L132.33 247.7 L137.97 249.8 L143.62 251.9 L149.26 254 L154.91 255.33" fill="none" stroke="#ee1c1c" stroke-width="0.85"/><g fill="#ee1c1c"><circle cx="53.3" cy="170" r="1.25"/><circle cx="54.71" cy="170.16" r="1.25"/><circle cx="56.12" cy="170.31" r="1.25"/><circle cx="57.53" cy="170.47" r="1.25"/><circle cx="58.94" cy="170.63" r="1.25"/><circle cx="60.36" cy="170.79" r="1.25"/><circle cx="61.77" cy="170.94" r="1.25"/><circle cx="63.18" cy="172.2" r="1.25"/><circle cx="64.59" cy="173.45" r="1.25"/><circle cx="67.41" cy="175.95" r="1.25"/><circle cx="70.23" cy="178.45" r="1.25"/><circle cx="73.06" cy="181.12" r="1.25"/><circle cx="75.88" cy="183.9" r="1.25"/><circle cx="78.7" cy="186.68" r="1.25"/><circle cx="81.53" cy="189.91" r="1.25"/><circle cx="84.35" cy="194.97" r="1.25"/><circle cx="87.17" cy="200.04" r="1.25"/><circle cx="92.81" cy="210.16" r="1.25"/><circle cx="98.46" cy="218.85" r="1.25"/><circle cx="104.1" cy="224.2" r="1.25"/><circle cx="109.75" cy="229.55" r="1.25"/><circle cx="115.39" cy="234.9" r="1.25"/><circle cx="121.04" cy="240.25" r="1.25"/><circle cx="126.69" cy="245.6" r="1.25"/><circle cx="132.33" cy="247.7" r="1.25"/><circle cx="137.97" cy="249.8" r="1.25"/><circle cx="143.62" cy="251.9" r="1.25"/><circle cx="149.26" cy="254" r="1.25"/><circle cx="154.91" cy="255.33" r="1.25"/></g>
<rect x="47.3" y="159.2" width="119.2" height="110" fill="none" stroke="#444" stroke-width="1"/>
<path d="M47.3 264.5h-2M47.3 245.6h-2M47.3 226.7h-2M47.3 207.8h-2M47.3 188.9h-2M47.3 170h-2M53.3 269.2v2M67.41 269.2v2M81.53 269.2v2M95.64 269.2v2M109.75 269.2v2M123.86 269.2v2M137.97 269.2v2M152.09 269.2v2M166.2 269.2v2" stroke="#555" stroke-width="0.8"/>
<text x="45.5" y="266.6" font-size="6.3" fill="#555" text-anchor="end" textLength="10.2" lengthAdjust="spacingAndGlyphs" stroke="#555" stroke-width="0.18">0.0</text>
<text x="45.5" y="247.7" font-size="6.3" fill="#555" text-anchor="end" textLength="10.2" lengthAdjust="spacingAndGlyphs" stroke="#555" stroke-width="0.18">0.2</text>
<text x="45.5" y="228.8" font-size="6.3" fill="#555" text-anchor="end" textLength="10.2" lengthAdjust="spacingAndGlyphs" stroke="#555" stroke-width="0.18">0.4</text>
<text x="45.5" y="209.9" font-size="6.3" fill="#555" text-anchor="end" textLength="10.2" lengthAdjust="spacingAndGlyphs" stroke="#555" stroke-width="0.18">0.6</text>
<text x="45.5" y="191" font-size="6.3" fill="#555" text-anchor="end" textLength="10.2" lengthAdjust="spacingAndGlyphs" stroke="#555" stroke-width="0.18">0.8</text>
<text x="45.5" y="172.1" font-size="6.3" fill="#555" text-anchor="end" textLength="10.2" lengthAdjust="spacingAndGlyphs" stroke="#555" stroke-width="0.18">1.0</text>
<text x="53.3" y="277.2" font-size="6.2" fill="#555" text-anchor="middle" textLength="3.6" lengthAdjust="spacingAndGlyphs" stroke="#555" stroke-width="0.18">0</text>
<text x="67.41" y="277.2" font-size="6.2" fill="#555" text-anchor="middle" textLength="7.2" lengthAdjust="spacingAndGlyphs" stroke="#555" stroke-width="0.18">25</text>
<text x="81.53" y="277.2" font-size="6.2" fill="#555" text-anchor="middle" textLength="7.2" lengthAdjust="spacingAndGlyphs" stroke="#555" stroke-width="0.18">50</text>
<text x="95.64" y="277.2" font-size="6.2" fill="#555" text-anchor="middle" textLength="7.2" lengthAdjust="spacingAndGlyphs" stroke="#555" stroke-width="0.18">75</text>
<text x="109.75" y="277.2" font-size="6.2" fill="#555" text-anchor="middle" textLength="10.8" lengthAdjust="spacingAndGlyphs" stroke="#555" stroke-width="0.18">100</text>
<text x="123.86" y="277.2" font-size="6.2" fill="#555" text-anchor="middle" textLength="10.8" lengthAdjust="spacingAndGlyphs" stroke="#555" stroke-width="0.18">125</text>
<text x="137.97" y="277.2" font-size="6.2" fill="#555" text-anchor="middle" textLength="10.8" lengthAdjust="spacingAndGlyphs" stroke="#555" stroke-width="0.18">150</text>
<text x="152.09" y="277.2" font-size="6.2" fill="#555" text-anchor="middle" textLength="10.8" lengthAdjust="spacingAndGlyphs" stroke="#555" stroke-width="0.18">175</text>
<text x="166.2" y="277.2" font-size="6.2" fill="#555" text-anchor="middle" textLength="10.8" lengthAdjust="spacingAndGlyphs" stroke="#555" stroke-width="0.18">200</text>
<text x="110.9" y="285.7" font-size="7.1" fill="#555" text-anchor="middle" textLength="67.8" lengthAdjust="spacingAndGlyphs" stroke="#555" stroke-width="0.18">Alternating field (mT)</text>
<text x="31.3" y="219" font-size="6.6" fill="#444" text-anchor="middle" textLength="82" lengthAdjust="spacingAndGlyphs" transform="rotate(-90 31.3 219)" stroke="#444" stroke-width="0.18">Normalized NRM or ARM</text>
<text x="161" y="178" font-size="7" fill="#35dde2" text-anchor="end" textLength="68.8" lengthAdjust="spacingAndGlyphs" stroke="#35dde2" stroke-width="0.18">NRM of R01<tspan font-size="9.5" dy="0.6">~</tspan><tspan dy="-0.6">R06</tspan></text>
<text x="161.5" y="186" font-size="7" fill="#ee1c1c" text-anchor="end" textLength="62.6" lengthAdjust="spacingAndGlyphs" stroke="#ee1c1c" stroke-width="0.18">NRM of R07,R08</text>
<text x="160.5" y="194.6" font-size="7" fill="#8c8c8c" text-anchor="end" textLength="68.3" lengthAdjust="spacingAndGlyphs" stroke="#8c8c8c" stroke-width="0.18">ARM of R01<tspan font-size="9.5" dy="0.6">~</tspan><tspan dy="-0.6">R06</tspan></text>
<text x="160.8" y="201.8" font-size="7" fill="#333" text-anchor="end" textLength="62.1" lengthAdjust="spacingAndGlyphs" stroke="#333" stroke-width="0.18">ARM of R07,R08</text>
<rect x="1.9" y="167" width="20" height="19.6" fill="#fff" stroke="#222" stroke-width="1"/>
<text x="11.9" y="182.3" font-size="21" fill="#000" text-anchor="middle" textLength="13" lengthAdjust="spacingAndGlyphs" stroke="#000" stroke-width="0.6">e</text>
<line x1="112.6" y1="296" x2="112.6" y2="405.4" stroke="#555" stroke-width="0.75" stroke-dasharray="1 1.4"/>
<line x1="38.6" y1="350.6" x2="186.9" y2="350.6" stroke="#555" stroke-width="0.75" stroke-dasharray="1 1.4"/>
<path d="M51.1 380.45 L53.15 380.27 L55.2 380.1 L57.25 379.93 L59.3 379.75 L61.35 379.49 L63.4 379.21 L65.45 378.92 L67.5 378.64 L69.55 378.23 L71.6 377.82 L73.65 377.4 L75.7 376.99 L77.75 376.33 L79.8 375.68 L81.85 375.02 L83.9 374.28 L85.95 373.43 L88 372.59 L90.05 371.47 L92.1 369.95 L94.15 368.44 L96.2 366.12 L98.25 363.32 L100.3 359.56 L100.3 359.56 L100.91 358.06 L101.53 356.47 L102.14 354.88 L102.35 354.35 L102.76 353.15 L103.38 351.33 L103.99 349.51 L104.4 348.24 L104.6 347.57 L105.22 345.54 L105.83 343.52 L106.45 341.5 L106.45 341.5 L107.06 339.29 L107.68 337.08 L108.29 335.02 L108.5 334.52 L108.91 333.54 L109.52 332.06 L110.14 330.58 L110.55 330.22 L110.75 330.03 L111.37 329.49 L111.98 328.94 L112.6 328.4 L113.21 328.27 L113.83 328.14 L114.44 328.02 L114.65 327.97 L115.06 327.89 L115.67 327.76 L116.29 327.64 L116.7 327.55 L116.91 327.51 L117.52 327.4 L118.13 327.28 L118.75 327.17 L118.75 327.17 L119.36 327.05 L119.98 326.94 L120.59 326.84 L120.8 326.8 L121.21 326.73 L121.82 326.63 L122.44 326.52 L122.85 326.45 L123.05 326.42 L123.67 326.32 L124.28 326.21 L124.9 326.11 L124.9 326.11 L126.95 325.76 L129 325.43 L131.05 325.15 L133.1 324.88 L135.15 324.6 L137.2 324.33 L139.25 324.05 L141.3 323.77 L143.35 323.52 L145.4 323.29 L147.45 323.06 L149.5 322.82 L151.55 322.59 L153.6 322.36 L155.65 322.12 L157.7 321.89 L159.75 321.73 L161.8 321.59 L163.85 321.45 L165.9 321.31 L167.95 321.17 L170 321.03 L172.05 320.89 L174.1 320.75" fill="none" stroke="#3344ee" stroke-width="0.9" stroke-linejoin="round" stroke-linecap="round" stroke-dasharray="2.2 1.2 0.8 1.2"/>
<path d="M51.1 380.45 L53.15 380.31 L55.2 380.17 L57.25 380.03 L59.3 379.89 L61.35 379.75 L63.4 379.61 L65.45 379.47 L67.5 379.31 L69.55 379.08 L71.6 378.84 L73.65 378.61 L75.7 378.38 L77.75 378.14 L79.8 377.91 L81.85 377.68 L83.9 377.43 L85.95 377.15 L88 376.87 L90.05 376.6 L92.1 376.32 L94.15 376.05 L96.2 375.77 L98.25 375.44 L100.3 375.09 L100.3 375.09 L100.91 374.99 L101.53 374.88 L102.14 374.78 L102.35 374.75 L102.76 374.68 L103.38 374.57 L103.99 374.47 L104.4 374.4 L104.6 374.36 L105.22 374.26 L105.83 374.15 L106.45 374.03 L106.45 374.03 L107.06 373.92 L107.68 373.81 L108.29 373.69 L108.5 373.65 L108.91 373.56 L109.52 373.44 L110.14 373.31 L110.55 373.23 L110.75 373.18 L111.37 373.06 L111.98 372.93 L112.6 372.8 L113.21 372.26 L113.83 371.71 L114.44 371.17 L114.65 370.98 L115.06 370.62 L115.67 369.14 L116.29 367.66 L116.7 366.68 L116.91 366.18 L117.52 364.12 L118.13 361.91 L118.75 359.7 L118.75 359.7 L119.36 357.68 L119.98 355.66 L120.59 353.63 L120.8 352.96 L121.21 351.69 L121.82 349.87 L122.44 348.05 L122.85 346.85 L123.05 346.32 L123.67 344.73 L124.28 343.14 L124.9 341.64 L124.9 341.64 L126.95 337.88 L129 335.08 L131.05 332.76 L133.1 331.25 L135.15 329.73 L137.2 328.61 L139.25 327.77 L141.3 326.92 L143.35 326.18 L145.4 325.52 L147.45 324.87 L149.5 324.21 L151.55 323.8 L153.6 323.38 L155.65 322.97 L157.7 322.56 L159.75 322.28 L161.8 321.99 L163.85 321.71 L165.9 321.45 L167.95 321.27 L170 321.1 L172.05 320.93 L174.1 320.75" fill="none" stroke="#3344ee" stroke-width="0.9" stroke-linejoin="round" stroke-linecap="round" stroke-dasharray="2.2 1.2 0.8 1.2"/>
<path d="M51.1 405.25 L53.15 404.25 L55.2 403.25 L57.25 402.25 L59.3 401.25 L61.35 400.16 L63.4 399.05 L65.45 397.94 L67.5 396.83 L69.55 395.6 L71.6 394.36 L73.65 393.11 L75.7 391.87 L77.75 390.39 L79.8 388.91 L81.85 387.42 L83.9 385.86 L85.95 384.18 L88 382.51 L90.05 380.57 L92.1 378.22 L94.15 375.88 L96.2 372.74 L98.25 369.11 L100.3 364.52 L100.3 364.52 L100.91 362.78 L101.53 360.93 L102.14 359.09 L102.35 358.48 L102.76 357.12 L103.38 355.05 L103.99 352.98 L104.4 351.55 L104.6 350.79 L105.22 348.52 L105.83 346.25 L106.45 343.98 L106.45 343.98 L107.06 341.52 L107.68 339.06 L108.29 336.75 L108.5 336.18 L108.91 335.03 L109.52 333.3 L110.14 331.57 L110.55 331.04 L110.75 330.78 L111.37 329.98 L111.98 329.19 L112.6 328.4 L113.21 328.02 L113.83 327.65 L114.44 327.27 L114.65 327.15 L115.06 326.9 L115.67 326.52 L116.29 326.15 L116.7 325.9 L116.91 325.77 L117.52 325.41 L118.13 325.05 L118.75 324.69 L118.75 324.69 L119.36 324.33 L119.98 323.96 L120.59 323.61 L120.8 323.49 L121.21 323.26 L121.82 322.91 L122.44 322.55 L122.85 322.32 L123.05 322.2 L123.67 321.85 L124.28 321.5 L124.9 321.15 L124.9 321.15 L126.95 319.97 L129 318.81 L131.05 317.71 L133.1 316.61 L135.15 315.51 L137.2 314.4 L139.25 313.3 L141.3 312.2 L143.35 311.12 L145.4 310.06 L147.45 309 L149.5 307.94 L151.55 306.88 L153.6 305.82 L155.65 304.76 L157.7 303.7 L159.75 302.71 L161.8 301.75 L163.85 300.78 L165.9 299.81 L167.95 298.85 L170 297.88 L172.05 296.91 L174.1 295.95" fill="none" stroke="#ee2424" stroke-width="0.95" stroke-linejoin="round" stroke-linecap="round"/>
<path d="M51.1 405.25 L53.15 404.29 L55.2 403.32 L57.25 402.35 L59.3 401.39 L61.35 400.42 L63.4 399.45 L65.45 398.49 L67.5 397.5 L69.55 396.44 L71.6 395.38 L73.65 394.32 L75.7 393.26 L77.75 392.2 L79.8 391.14 L81.85 390.08 L83.9 389 L85.95 387.9 L88 386.8 L90.05 385.69 L92.1 384.59 L94.15 383.49 L96.2 382.39 L98.25 381.23 L100.3 380.05 L100.3 380.05 L100.91 379.7 L101.53 379.35 L102.14 379 L102.35 378.88 L102.76 378.65 L103.38 378.29 L103.99 377.94 L104.4 377.71 L104.6 377.59 L105.22 377.24 L105.83 376.87 L106.45 376.51 L106.45 376.51 L107.06 376.15 L107.68 375.79 L108.29 375.43 L108.5 375.3 L108.91 375.05 L109.52 374.68 L110.14 374.3 L110.55 374.05 L110.75 373.93 L111.37 373.55 L111.98 373.18 L112.6 372.8 L113.21 372.01 L113.83 371.22 L114.44 370.42 L114.65 370.16 L115.06 369.63 L115.67 367.9 L116.29 366.17 L116.7 365.02 L116.91 364.45 L117.52 362.14 L118.13 359.68 L118.75 357.22 L118.75 357.22 L119.36 354.95 L119.98 352.68 L120.59 350.41 L120.8 349.65 L121.21 348.22 L121.82 346.15 L122.44 344.08 L122.85 342.72 L123.05 342.11 L123.67 340.27 L124.28 338.42 L124.9 336.68 L124.9 336.68 L126.95 332.09 L129 328.46 L131.05 325.32 L133.1 322.98 L135.15 320.63 L137.2 318.69 L139.25 317.02 L141.3 315.34 L143.35 313.78 L145.4 312.29 L147.45 310.81 L149.5 309.33 L151.55 308.09 L153.6 306.84 L155.65 305.6 L157.7 304.37 L159.75 303.26 L161.8 302.15 L163.85 301.04 L165.9 299.95 L167.95 298.95 L170 297.95 L172.05 296.95 L174.1 295.95" fill="none" stroke="#ee2424" stroke-width="0.95" stroke-linejoin="round" stroke-linecap="round"/>
<rect x="38.6" y="296" width="148.3" height="109.4" fill="none" stroke="#222" stroke-width="1"/>
<path d="M38.8 405.4v-2.6M38.8 296v2.6M63.4 405.4v-2.6M63.4 296v2.6M88 405.4v-2.6M88 296v2.6M112.6 405.4v-2.6M112.6 296v2.6M137.2 405.4v-2.6M137.2 296v2.6M161.8 405.4v-2.6M161.8 296v2.6M186.4 405.4v-2.6M186.4 296v2.6M38.6 296h2.6M186.9 296h-2.6M38.6 314.2h2.6M186.9 314.2h-2.6M38.6 332.4h2.6M186.9 332.4h-2.6M38.6 350.6h2.6M186.9 350.6h-2.6M38.6 368.8h2.6M186.9 368.8h-2.6M38.6 387h2.6M186.9 387h-2.6M38.6 405.2h2.6M186.9 405.2h-2.6" stroke="#222" stroke-width="0.8"/>
<text x="35.8" y="298.3" font-size="6.3" fill="#222" text-anchor="end" textLength="18.9" lengthAdjust="spacingAndGlyphs" stroke="#222" stroke-width="0.18">1.5e-06</text>
<text x="35.8" y="316.5" font-size="6.3" fill="#222" text-anchor="end" textLength="18.9" lengthAdjust="spacingAndGlyphs" stroke="#222" stroke-width="0.18">1.0e-06</text>
<text x="35.8" y="334.7" font-size="6.3" fill="#222" text-anchor="end" textLength="18.9" lengthAdjust="spacingAndGlyphs" stroke="#222" stroke-width="0.18">5.0e-07</text>
<text x="35.8" y="352.9" font-size="6.3" fill="#222" text-anchor="end" textLength="18.9" lengthAdjust="spacingAndGlyphs" stroke="#222" stroke-width="0.18">0.0e+00</text>
<text x="35.8" y="371.1" font-size="6.3" fill="#222" text-anchor="end" textLength="21.6" lengthAdjust="spacingAndGlyphs" stroke="#222" stroke-width="0.18">-5.0e-07</text>
<text x="35.8" y="389.3" font-size="6.3" fill="#222" text-anchor="end" textLength="21.6" lengthAdjust="spacingAndGlyphs" stroke="#222" stroke-width="0.18">-1.0e-06</text>
<text x="35.8" y="407.5" font-size="6.3" fill="#222" text-anchor="end" textLength="21.6" lengthAdjust="spacingAndGlyphs" stroke="#222" stroke-width="0.18">-1.5e-06</text>
<text x="38.8" y="413" font-size="5.4" fill="#333" text-anchor="middle" textLength="12" lengthAdjust="spacingAndGlyphs" stroke="#333" stroke-width="0.18">-0.6</text>
<text x="63.4" y="413" font-size="5.4" fill="#333" text-anchor="middle" textLength="12" lengthAdjust="spacingAndGlyphs" stroke="#333" stroke-width="0.18">-0.4</text>
<text x="88" y="413" font-size="5.4" fill="#333" text-anchor="middle" textLength="12" lengthAdjust="spacingAndGlyphs" stroke="#333" stroke-width="0.18">-0.2</text>
<text x="112.6" y="413" font-size="5.4" fill="#333" text-anchor="middle" textLength="3" lengthAdjust="spacingAndGlyphs" stroke="#333" stroke-width="0.18">0</text>
<text x="137.2" y="413" font-size="5.4" fill="#333" text-anchor="middle" textLength="9" lengthAdjust="spacingAndGlyphs" stroke="#333" stroke-width="0.18">0.2</text>
<text x="161.8" y="413" font-size="5.4" fill="#333" text-anchor="middle" textLength="9" lengthAdjust="spacingAndGlyphs" stroke="#333" stroke-width="0.18">0.4</text>
<text x="186.4" y="413" font-size="5.4" fill="#333" text-anchor="middle" textLength="9" lengthAdjust="spacingAndGlyphs" stroke="#333" stroke-width="0.18">0.6</text>
<text x="116.8" y="422" font-size="9.5" fill="#333" text-anchor="middle" textLength="29.2" lengthAdjust="spacingAndGlyphs" stroke="#333" stroke-width="0.18">Field [T]</text>
<text x="10.5" y="342.4" font-size="9.6" fill="#333" text-anchor="middle" textLength="53" lengthAdjust="spacingAndGlyphs" transform="rotate(-90 10.5 342.4)">Moment [Am<tspan font-size="5.76" dy="-3.36">2</tspan><tspan dy="3.36">]</tspan></text>
<rect x="44.4" y="300.4" width="19.3" height="20.3" fill="#fff" stroke="#111" stroke-width="1"/>
<text x="54.05" y="315.83" font-size="18.6" fill="#000" text-anchor="middle" stroke="#000" stroke-width="0.6">f</text>
<text x="46.9" y="327.4" font-size="5" fill="#222" textLength="41.1" lengthAdjust="spacingAndGlyphs" stroke="#222" stroke-width="0.12">Ms=8.072e-07[Am<tspan font-size="3.4" dy="-1.8">2</tspan><tspan dy="1.8">]</tspan></text>
<text x="46.9" y="332.95" font-size="5" fill="#222" textLength="40.6" lengthAdjust="spacingAndGlyphs" stroke="#222" stroke-width="0.12">Mr=6.111e-07[Am<tspan font-size="3.4" dy="-1.8">2</tspan><tspan dy="1.8">]</tspan></text>
<text x="46.9" y="338.5" font-size="5" fill="#222" textLength="35.5" lengthAdjust="spacingAndGlyphs" stroke="#222" stroke-width="0.12">Bc=8.138e-02[T]</text>
<text x="46.9" y="344.05" font-size="5" fill="#222" textLength="52.9" lengthAdjust="spacingAndGlyphs" stroke="#222" stroke-width="0.12">Slope=1.363e-06[Am<tspan font-size="3.4" dy="-1.8">2</tspan><tspan dy="1.8">/T]</tspan></text>
<text x="117.5" y="387.7" font-size="11" fill="#111" textLength="64.3" lengthAdjust="spacingAndGlyphs" stroke="#111" stroke-width="0.25">926R07-01-1</text>
<text x="159.9" y="396" font-size="5.4" fill="#222" text-anchor="end" textLength="23.2" lengthAdjust="spacingAndGlyphs" stroke="#222" stroke-width="0.18">Raw data</text>
<text x="159.9" y="402.2" font-size="5.4" fill="#222" text-anchor="end" textLength="39.5" lengthAdjust="spacingAndGlyphs" stroke="#222" stroke-width="0.18">Slope corrected</text>
<line x1="163.5" y1="394.2" x2="179.6" y2="394.2" stroke="#ee2222" stroke-width="0.9"/>
<line x1="163.5" y1="400.4" x2="179.6" y2="400.4" stroke="#3344ee" stroke-width="0.9" stroke-dasharray="2.2 1.2 0.8 1.2"/>
<line x1="301.9" y1="163.2" x2="301.9" y2="271" stroke="#555" stroke-width="0.75" stroke-dasharray="1 1.4"/>
<line x1="228.7" y1="217" x2="375.1" y2="217" stroke="#555" stroke-width="0.75" stroke-dasharray="1 1.4"/>
<path d="M240.9 236.64 L242.93 236.47 L244.97 236.3 L247 236.13 L249.03 235.96 L251.07 235.79 L253.1 235.56 L255.13 235.34 L257.17 235.11 L259.2 234.89 L261.23 234.57 L263.27 234.13 L265.3 233.68 L267.33 233.23 L269.37 232.57 L271.4 231.85 L273.43 231.13 L275.47 230.27 L277.5 229.37 L279.53 228.36 L281.57 227.18 L283.6 225.93 L285.63 224.09 L287.67 221.93 L289.7 219.64 L289.7 219.64 L290.31 218.93 L290.92 218.21 L291.53 217.38 L291.73 217.1 L292.14 216.54 L292.75 215.71 L293.36 214.79 L293.77 214.18 L293.97 213.88 L294.58 212.97 L295.19 212.09 L295.8 211.22 L295.8 211.22 L296.41 210.35 L297.02 209.36 L297.63 208.28 L297.83 207.93 L298.24 207.21 L298.85 206.27 L299.46 205.43 L299.87 204.87 L300.07 204.59 L300.68 204 L301.29 203.77 L301.9 203.55 L302.51 203.35 L303.12 203.16 L303.73 202.96 L303.93 202.9 L304.34 202.76 L304.95 202.57 L305.56 202.37 L305.97 202.24 L306.17 202.18 L306.78 202.02 L307.39 201.89 L308 201.77 L308 201.77 L308.61 201.64 L309.22 201.51 L309.83 201.38 L310.03 201.34 L310.44 201.26 L311.05 201.13 L311.66 201.07 L312.07 201.03 L312.27 201.01 L312.88 200.95 L313.49 200.89 L314.1 200.83 L314.1 200.83 L316.13 200.63 L318.17 200.42 L320.2 200.21 L322.23 200 L324.27 199.79 L326.3 199.59 L328.33 199.39 L330.37 199.19 L332.4 198.99 L334.43 198.79 L336.47 198.58 L338.5 198.38 L340.53 198.18 L342.57 197.98 L344.6 197.87 L346.63 197.81 L348.67 197.76 L350.7 197.7 L352.73 197.64 L354.77 197.59 L356.8 197.53 L358.83 197.48 L360.87 197.42 L362.9 197.36" fill="none" stroke="#3344ee" stroke-width="0.9" stroke-linejoin="round" stroke-linecap="round" stroke-dasharray="2.2 1.2 0.8 1.2"/>
<path d="M240.9 236.64 L242.93 236.58 L244.97 236.52 L247 236.47 L249.03 236.41 L251.07 236.36 L253.1 236.3 L255.13 236.24 L257.17 236.19 L259.2 236.13 L261.23 236.02 L263.27 235.82 L265.3 235.62 L267.33 235.42 L269.37 235.21 L271.4 235.01 L273.43 234.81 L275.47 234.61 L277.5 234.41 L279.53 234.21 L281.57 234 L283.6 233.79 L285.63 233.58 L287.67 233.37 L289.7 233.17 L289.7 233.17 L290.31 233.11 L290.92 233.05 L291.53 232.99 L291.73 232.97 L292.14 232.93 L292.75 232.87 L293.36 232.74 L293.77 232.66 L293.97 232.62 L294.58 232.49 L295.19 232.36 L295.8 232.23 L295.8 232.23 L296.41 232.11 L297.02 231.98 L297.63 231.82 L297.83 231.76 L298.24 231.63 L298.85 231.43 L299.46 231.24 L299.87 231.1 L300.07 231.04 L300.68 230.84 L301.29 230.65 L301.9 230.45 L302.51 230.23 L303.12 230 L303.73 229.41 L303.93 229.13 L304.34 228.57 L304.95 227.73 L305.56 226.79 L305.97 226.07 L306.17 225.72 L306.78 224.64 L307.39 223.65 L308 222.78 L308 222.78 L308.61 221.91 L309.22 221.03 L309.83 220.12 L310.03 219.82 L310.44 219.21 L311.05 218.29 L311.66 217.46 L312.07 216.9 L312.27 216.62 L312.88 215.79 L313.49 215.07 L314.1 214.36 L314.1 214.36 L316.13 212.07 L318.17 209.91 L320.2 208.07 L322.23 206.82 L324.27 205.64 L326.3 204.63 L328.33 203.73 L330.37 202.87 L332.4 202.15 L334.43 201.43 L336.47 200.77 L338.5 200.32 L340.53 199.87 L342.57 199.43 L344.6 199.11 L346.63 198.89 L348.67 198.66 L350.7 198.44 L352.73 198.21 L354.77 198.04 L356.8 197.87 L358.83 197.7 L360.87 197.53 L362.9 197.36" fill="none" stroke="#3344ee" stroke-width="0.9" stroke-linejoin="round" stroke-linecap="round" stroke-dasharray="2.2 1.2 0.8 1.2"/>
<path d="M240.9 258.47 L242.93 257.57 L244.97 256.67 L247 255.78 L249.03 254.88 L251.07 253.98 L253.1 253.02 L255.13 252.07 L257.17 251.12 L259.2 250.17 L261.23 249.13 L263.27 247.95 L265.3 246.78 L267.33 245.6 L269.37 244.21 L271.4 242.76 L273.43 241.32 L275.47 239.73 L277.5 238.11 L279.53 236.37 L281.57 234.46 L283.6 232.47 L285.63 229.91 L287.67 227.03 L289.7 224.01 L289.7 224.01 L290.31 223.07 L290.92 222.14 L291.53 221.09 L291.73 220.74 L292.14 220.04 L292.75 218.98 L293.36 217.85 L293.77 217.1 L293.97 216.72 L294.58 215.58 L295.19 214.5 L295.8 213.41 L295.8 213.41 L296.41 212.32 L297.02 211.11 L297.63 209.81 L297.83 209.38 L298.24 208.52 L298.85 207.37 L299.46 206.31 L299.87 205.6 L300.07 205.25 L300.68 204.43 L301.29 203.99 L301.9 203.55 L302.51 203.14 L303.12 202.72 L303.73 202.31 L303.93 202.17 L304.34 201.89 L304.95 201.48 L305.56 201.06 L305.97 200.79 L306.17 200.65 L306.78 200.27 L307.39 199.93 L308 199.58 L308 199.58 L308.61 199.24 L309.22 198.89 L309.83 198.55 L310.03 198.43 L310.44 198.2 L311.05 197.85 L311.66 197.58 L312.07 197.39 L312.27 197.3 L312.88 197.02 L313.49 196.74 L314.1 196.46 L314.1 196.46 L316.13 195.54 L318.17 194.6 L320.2 193.66 L322.23 192.73 L324.27 191.79 L326.3 190.86 L328.33 189.93 L330.37 189 L332.4 188.07 L334.43 187.14 L336.47 186.22 L338.5 185.29 L340.53 184.36 L342.57 183.43 L344.6 182.59 L346.63 181.8 L348.67 181.02 L350.7 180.24 L352.73 179.45 L354.77 178.67 L356.8 177.88 L358.83 177.1 L360.87 176.32 L362.9 175.53" fill="none" stroke="#ee2424" stroke-width="0.95" stroke-linejoin="round" stroke-linecap="round"/>
<path d="M240.9 258.47 L242.93 257.68 L244.97 256.9 L247 256.12 L249.03 255.33 L251.07 254.55 L253.1 253.76 L255.13 252.98 L257.17 252.2 L259.2 251.41 L261.23 250.57 L263.27 249.64 L265.3 248.71 L267.33 247.78 L269.37 246.86 L271.4 245.93 L273.43 245 L275.47 244.07 L277.5 243.14 L279.53 242.21 L281.57 241.27 L283.6 240.34 L285.63 239.4 L287.67 238.46 L289.7 237.54 L289.7 237.54 L290.31 237.26 L290.92 236.98 L291.53 236.7 L291.73 236.61 L292.14 236.42 L292.75 236.15 L293.36 235.8 L293.77 235.57 L293.97 235.45 L294.58 235.11 L295.19 234.76 L295.8 234.42 L295.8 234.42 L296.41 234.07 L297.02 233.73 L297.63 233.35 L297.83 233.21 L298.24 232.94 L298.85 232.52 L299.46 232.11 L299.87 231.83 L300.07 231.69 L300.68 231.28 L301.29 230.86 L301.9 230.45 L302.51 230.01 L303.12 229.57 L303.73 228.75 L303.93 228.4 L304.34 227.69 L304.95 226.63 L305.56 225.48 L305.97 224.62 L306.17 224.19 L306.78 222.89 L307.39 221.68 L308 220.59 L308 220.59 L308.61 219.5 L309.22 218.42 L309.83 217.28 L310.03 216.9 L310.44 216.15 L311.05 215.02 L311.66 213.96 L312.07 213.26 L312.27 212.91 L312.88 211.86 L313.49 210.93 L314.1 209.99 L314.1 209.99 L316.13 206.97 L318.17 204.09 L320.2 201.53 L322.23 199.54 L324.27 197.63 L326.3 195.89 L328.33 194.27 L330.37 192.68 L332.4 191.24 L334.43 189.79 L336.47 188.4 L338.5 187.22 L340.53 186.05 L342.57 184.87 L344.6 183.83 L346.63 182.88 L348.67 181.93 L350.7 180.98 L352.73 180.02 L354.77 179.12 L356.8 178.22 L358.83 177.33 L360.87 176.43 L362.9 175.53" fill="none" stroke="#ee2424" stroke-width="0.95" stroke-linejoin="round" stroke-linecap="round"/>
<rect x="228.7" y="163.2" width="146.4" height="107.8" fill="none" stroke="#222" stroke-width="1"/>
<path d="M228.7 271v-2.6M228.7 163.2v2.6M253.1 271v-2.6M253.1 163.2v2.6M277.5 271v-2.6M277.5 163.2v2.6M301.9 271v-2.6M301.9 163.2v2.6M326.3 271v-2.6M326.3 163.2v2.6M350.7 271v-2.6M350.7 163.2v2.6M375.1 271v-2.6M375.1 163.2v2.6M228.7 163.2h2.6M375.1 163.2h-2.6M228.7 176.65h2.6M375.1 176.65h-2.6M228.7 190.1h2.6M375.1 190.1h-2.6M228.7 203.55h2.6M375.1 203.55h-2.6M228.7 217h2.6M375.1 217h-2.6M228.7 230.45h2.6M375.1 230.45h-2.6M228.7 243.9h2.6M375.1 243.9h-2.6M228.7 257.35h2.6M375.1 257.35h-2.6M228.7 270.8h2.6M375.1 270.8h-2.6" stroke="#222" stroke-width="0.8"/>
<text x="225.9" y="165.5" font-size="6.3" fill="#222" text-anchor="end" textLength="18.9" lengthAdjust="spacingAndGlyphs" stroke="#222" stroke-width="0.18">2.0e-06</text>
<text x="225.9" y="178.95" font-size="6.3" fill="#222" text-anchor="end" textLength="18.9" lengthAdjust="spacingAndGlyphs" stroke="#222" stroke-width="0.18">1.5e-06</text>
<text x="225.9" y="192.4" font-size="6.3" fill="#222" text-anchor="end" textLength="18.9" lengthAdjust="spacingAndGlyphs" stroke="#222" stroke-width="0.18">1.0e-06</text>
<text x="225.9" y="205.85" font-size="6.3" fill="#222" text-anchor="end" textLength="18.9" lengthAdjust="spacingAndGlyphs" stroke="#222" stroke-width="0.18">5.0e-07</text>
<text x="225.9" y="219.3" font-size="6.3" fill="#222" text-anchor="end" textLength="18.9" lengthAdjust="spacingAndGlyphs" stroke="#222" stroke-width="0.18">0.0e+00</text>
<text x="225.9" y="232.75" font-size="6.3" fill="#222" text-anchor="end" textLength="21.6" lengthAdjust="spacingAndGlyphs" stroke="#222" stroke-width="0.18">-5.0e-07</text>
<text x="225.9" y="246.2" font-size="6.3" fill="#222" text-anchor="end" textLength="21.6" lengthAdjust="spacingAndGlyphs" stroke="#222" stroke-width="0.18">-1.0e-06</text>
<text x="225.9" y="259.65" font-size="6.3" fill="#222" text-anchor="end" textLength="21.6" lengthAdjust="spacingAndGlyphs" stroke="#222" stroke-width="0.18">-1.5e-06</text>
<text x="225.9" y="273.1" font-size="6.3" fill="#222" text-anchor="end" textLength="21.6" lengthAdjust="spacingAndGlyphs" stroke="#222" stroke-width="0.18">-2.0e-06</text>
<text x="228.7" y="278.5" font-size="5.4" fill="#333" text-anchor="middle" textLength="12" lengthAdjust="spacingAndGlyphs" stroke="#333" stroke-width="0.18">-0.6</text>
<text x="253.1" y="278.5" font-size="5.4" fill="#333" text-anchor="middle" textLength="12" lengthAdjust="spacingAndGlyphs" stroke="#333" stroke-width="0.18">-0.4</text>
<text x="277.5" y="278.5" font-size="5.4" fill="#333" text-anchor="middle" textLength="12" lengthAdjust="spacingAndGlyphs" stroke="#333" stroke-width="0.18">-0.2</text>
<text x="301.9" y="278.5" font-size="5.4" fill="#333" text-anchor="middle" textLength="3" lengthAdjust="spacingAndGlyphs" stroke="#333" stroke-width="0.18">0</text>
<text x="326.3" y="278.5" font-size="5.4" fill="#333" text-anchor="middle" textLength="9" lengthAdjust="spacingAndGlyphs" stroke="#333" stroke-width="0.18">0.2</text>
<text x="350.7" y="278.5" font-size="5.4" fill="#333" text-anchor="middle" textLength="9" lengthAdjust="spacingAndGlyphs" stroke="#333" stroke-width="0.18">0.4</text>
<text x="375.1" y="278.5" font-size="5.4" fill="#333" text-anchor="middle" textLength="9" lengthAdjust="spacingAndGlyphs" stroke="#333" stroke-width="0.18">0.6</text>
<text x="302.2" y="287.3" font-size="6" fill="#333" text-anchor="middle" textLength="18.5" lengthAdjust="spacingAndGlyphs" stroke="#333" stroke-width="0.18">Field [T]</text>
<text x="194" y="217.6" font-size="6.2" fill="#333" text-anchor="middle" textLength="34" lengthAdjust="spacingAndGlyphs" transform="rotate(-90 194 217.6)">Moment [Am<tspan font-size="3.7199999999999998" dy="-2.17">2</tspan><tspan dy="2.17">]</tspan></text>
<rect x="234.4" y="168.7" width="20.7" height="19.9" fill="#fff" stroke="#111" stroke-width="1"/>
<text x="244.75" y="183.82" font-size="18.6" fill="#000" text-anchor="middle" stroke="#000" stroke-width="0.6">g</text>
<text x="237.7" y="197" font-size="5" fill="#111" textLength="40.3" lengthAdjust="spacingAndGlyphs" stroke="#111" stroke-width="0.12">Ms=7.132e-07[Am<tspan font-size="3.4" dy="-1.8">2</tspan><tspan dy="1.8">]</tspan></text>
<text x="237.7" y="202.45" font-size="5" fill="#111" textLength="39.8" lengthAdjust="spacingAndGlyphs" stroke="#111" stroke-width="0.12">Mr=5.321e-07[Am<tspan font-size="3.4" dy="-1.8">2</tspan><tspan dy="1.8">]</tspan></text>
<text x="237.7" y="207.9" font-size="5" fill="#111" textLength="35.2" lengthAdjust="spacingAndGlyphs" stroke="#111" stroke-width="0.12">Bc=7.789e-02[T]</text>
<text x="237.7" y="213.35" font-size="5" fill="#111" textLength="52.1" lengthAdjust="spacingAndGlyphs" stroke="#111" stroke-width="0.12">Slope=1.623e-06[Am<tspan font-size="3.4" dy="-1.8">2</tspan><tspan dy="1.8">/T]</tspan></text>
<text x="306.6" y="255.3" font-size="11" fill="#111" textLength="65" lengthAdjust="spacingAndGlyphs" stroke="#111" stroke-width="0.25">926R08-01-2</text>
<text x="349.5" y="262.2" font-size="5.4" fill="#222" text-anchor="end" textLength="23.2" lengthAdjust="spacingAndGlyphs" stroke="#222" stroke-width="0.18">Raw data</text>
<text x="349.5" y="267.7" font-size="5.4" fill="#222" text-anchor="end" textLength="39.5" lengthAdjust="spacingAndGlyphs" stroke="#222" stroke-width="0.18">Slope corrected</text>
<line x1="352.6" y1="260.4" x2="368.9" y2="260.4" stroke="#ee2222" stroke-width="0.9"/>
<line x1="352.6" y1="265.9" x2="368.9" y2="265.9" stroke="#3344ee" stroke-width="0.9" stroke-dasharray="2.2 1.2 0.8 1.2"/>
<line x1="300.8" y1="295.4" x2="300.8" y2="404.2" stroke="#555" stroke-width="0.75" stroke-dasharray="1 1.4"/>
<line x1="226.7" y1="350" x2="375.3" y2="350" stroke="#555" stroke-width="0.75" stroke-dasharray="1 1.4"/>
<path d="M239.05 383.85 L241.11 383.77 L243.17 383.68 L245.23 383.6 L247.28 383.52 L249.34 383.43 L251.4 383.35 L253.46 383.26 L255.52 383.18 L257.58 383.1 L259.63 383.01 L261.69 382.93 L263.75 382.85 L265.81 382.76 L267.87 382.4 L269.93 382.03 L271.98 381.67 L274.04 381.3 L276.1 380.93 L278.16 380.57 L280.22 380.2 L282.28 379.58 L284.33 378.76 L286.39 377.93 L288.45 377.1 L288.45 377.1 L289.07 376.85 L289.69 376.58 L290.3 376.29 L290.51 376.19 L290.92 375.99 L291.54 375.7 L292.16 375.41 L292.57 375.21 L292.77 375.12 L293.39 374.21 L294.01 373.3 L294.62 372.39 L294.62 372.39 L295.24 370.15 L295.86 367.92 L296.48 363.59 L296.68 361.97 L297.1 358.74 L297.71 353.66 L298.33 348.52 L298.74 345.01 L298.95 343.26 L299.56 337.99 L300.18 333.65 L300.8 329.31 L301.42 327.37 L302.04 325.43 L302.65 324.82 L302.86 324.61 L303.27 324.2 L303.89 323.59 L304.5 322.97 L304.92 322.76 L305.12 322.65 L305.74 322.34 L306.36 322.02 L306.98 321.7 L306.98 321.7 L307.59 321.38 L308.21 321.06 L308.83 320.98 L309.03 320.95 L309.44 320.9 L310.06 320.81 L310.68 320.73 L311.09 320.68 L311.3 320.65 L311.92 320.57 L312.53 320.48 L313.15 320.4 L313.15 320.4 L315.21 320.13 L317.27 319.86 L319.32 319.59 L321.38 319.31 L323.44 319.04 L325.5 318.77 L327.56 318.5 L329.62 318.22 L331.68 317.95 L333.73 317.68 L335.79 317.4 L337.85 317.13 L339.91 317.05 L341.97 316.97 L344.02 316.89 L346.08 316.8 L348.14 316.72 L350.2 316.64 L352.26 316.56 L354.32 316.48 L356.38 316.39 L358.43 316.31 L360.49 316.23 L362.55 316.15" fill="none" stroke="#3344ee" stroke-width="0.9" stroke-linejoin="round" stroke-linecap="round" stroke-dasharray="2.2 1.2 0.8 1.2"/>
<path d="M239.05 383.85 L241.11 383.77 L243.17 383.69 L245.23 383.61 L247.28 383.52 L249.34 383.44 L251.4 383.36 L253.46 383.28 L255.52 383.2 L257.58 383.11 L259.63 383.03 L261.69 382.95 L263.75 382.87 L265.81 382.6 L267.87 382.32 L269.93 382.05 L271.98 381.78 L274.04 381.5 L276.1 381.23 L278.16 380.96 L280.22 380.69 L282.28 380.41 L284.33 380.14 L286.39 379.87 L288.45 379.6 L288.45 379.6 L289.07 379.52 L289.69 379.43 L290.3 379.35 L290.51 379.32 L290.92 379.27 L291.54 379.19 L292.16 379.1 L292.57 379.05 L292.77 379.02 L293.39 378.94 L294.01 378.62 L294.62 378.3 L294.62 378.3 L295.24 377.98 L295.86 377.66 L296.48 377.35 L296.68 377.24 L297.1 377.03 L297.71 376.41 L298.33 375.8 L298.74 375.39 L298.95 375.18 L299.56 374.57 L300.18 372.63 L300.8 370.69 L301.42 366.35 L302.04 362.01 L302.65 356.74 L302.86 354.99 L303.27 351.48 L303.89 346.34 L304.5 341.26 L304.92 338.03 L305.12 336.41 L305.74 332.08 L306.36 329.85 L306.98 327.61 L306.98 327.61 L307.59 326.7 L308.21 325.79 L308.83 324.88 L309.03 324.79 L309.44 324.59 L310.06 324.3 L310.68 324.01 L311.09 323.81 L311.3 323.71 L311.92 323.42 L312.53 323.15 L313.15 322.9 L313.15 322.9 L315.21 322.07 L317.27 321.24 L319.32 320.42 L321.38 319.8 L323.44 319.43 L325.5 319.07 L327.56 318.7 L329.62 318.33 L331.68 317.97 L333.73 317.6 L335.79 317.24 L337.85 317.15 L339.91 317.07 L341.97 316.99 L344.02 316.9 L346.08 316.82 L348.14 316.74 L350.2 316.65 L352.26 316.57 L354.32 316.48 L356.38 316.4 L358.43 316.32 L360.49 316.23 L362.55 316.15" fill="none" stroke="#3344ee" stroke-width="0.9" stroke-linejoin="round" stroke-linecap="round" stroke-dasharray="2.2 1.2 0.8 1.2"/>
<path d="M239.05 399.81 L241.11 399.2 L243.17 398.58 L245.23 397.96 L247.28 397.35 L249.34 396.73 L251.4 396.12 L253.46 395.5 L255.52 394.88 L257.58 394.27 L259.63 393.65 L261.69 393.04 L263.75 392.42 L265.81 391.81 L267.87 390.91 L269.93 390.01 L271.98 389.11 L274.04 388.22 L276.1 387.32 L278.16 386.42 L280.22 385.52 L282.28 384.37 L284.33 383.01 L286.39 381.65 L288.45 380.29 L288.45 380.29 L289.07 379.89 L289.69 379.45 L290.3 379 L290.51 378.85 L290.92 378.55 L291.54 378.09 L292.16 377.64 L292.57 377.34 L292.77 377.19 L293.39 376.12 L294.01 375.05 L294.62 373.98 L294.62 373.98 L295.24 371.59 L295.86 369.2 L296.48 364.71 L296.68 363.04 L297.1 359.69 L297.71 354.45 L298.33 349.16 L298.74 345.54 L298.95 343.74 L299.56 338.31 L300.18 333.81 L300.8 329.31 L301.42 327.21 L302.04 325.11 L302.65 324.34 L302.86 324.08 L303.27 323.56 L303.89 322.79 L304.5 322.02 L304.92 321.7 L305.12 321.54 L305.74 321.06 L306.36 320.58 L306.98 320.1 L306.98 320.1 L307.59 319.62 L308.21 319.15 L308.83 318.9 L309.03 318.82 L309.44 318.66 L310.06 318.42 L310.68 318.18 L311.09 318.02 L311.3 317.94 L311.92 317.69 L312.53 317.45 L313.15 317.21 L313.15 317.21 L315.21 316.41 L317.27 315.6 L319.32 314.8 L321.38 313.99 L323.44 313.19 L325.5 312.38 L327.56 311.58 L329.62 310.77 L331.68 309.97 L333.73 309.17 L335.79 308.36 L337.85 307.56 L339.91 306.94 L341.97 306.33 L344.02 305.71 L346.08 305.1 L348.14 304.49 L350.2 303.87 L352.26 303.26 L354.32 302.64 L356.38 302.03 L358.43 301.42 L360.49 300.8 L362.55 300.19" fill="none" stroke="#ee2424" stroke-width="0.95" stroke-linejoin="round" stroke-linecap="round"/>
<path d="M239.05 399.81 L241.11 399.2 L243.17 398.58 L245.23 397.97 L247.28 397.36 L249.34 396.74 L251.4 396.13 L253.46 395.51 L255.52 394.9 L257.58 394.29 L259.63 393.67 L261.69 393.06 L263.75 392.44 L265.81 391.64 L267.87 390.83 L269.93 390.03 L271.98 389.23 L274.04 388.42 L276.1 387.62 L278.16 386.81 L280.22 386.01 L282.28 385.2 L284.33 384.4 L286.39 383.59 L288.45 382.79 L288.45 382.79 L289.07 382.55 L289.69 382.31 L290.3 382.06 L290.51 381.98 L290.92 381.82 L291.54 381.58 L292.16 381.34 L292.57 381.18 L292.77 381.1 L293.39 380.85 L294.01 380.38 L294.62 379.9 L294.62 379.9 L295.24 379.42 L295.86 378.94 L296.48 378.46 L296.68 378.3 L297.1 377.98 L297.71 377.21 L298.33 376.44 L298.74 375.92 L298.95 375.66 L299.56 374.89 L300.18 372.79 L300.8 370.69 L301.42 366.19 L302.04 361.69 L302.65 356.26 L302.86 354.46 L303.27 350.84 L303.89 345.55 L304.5 340.31 L304.92 336.96 L305.12 335.29 L305.74 330.8 L306.36 328.41 L306.98 326.02 L306.98 326.02 L307.59 324.95 L308.21 323.88 L308.83 322.81 L309.03 322.66 L309.44 322.36 L310.06 321.91 L310.68 321.45 L311.09 321.15 L311.3 321 L311.92 320.55 L312.53 320.11 L313.15 319.71 L313.15 319.71 L315.21 318.35 L317.27 316.99 L319.32 315.63 L321.38 314.48 L323.44 313.58 L325.5 312.68 L327.56 311.78 L329.62 310.89 L331.68 309.99 L333.73 309.09 L335.79 308.19 L337.85 307.58 L339.91 306.96 L341.97 306.35 L344.02 305.73 L346.08 305.12 L348.14 304.5 L350.2 303.88 L352.26 303.27 L354.32 302.65 L356.38 302.04 L358.43 301.42 L360.49 300.8 L362.55 300.19" fill="none" stroke="#ee2424" stroke-width="0.95" stroke-linejoin="round" stroke-linecap="round"/>
<rect x="226.7" y="295.4" width="148.6" height="108.8" fill="none" stroke="#222" stroke-width="1"/>
<path d="M226.7 404.2v-2.6M226.7 295.4v2.6M251.4 404.2v-2.6M251.4 295.4v2.6M276.1 404.2v-2.6M276.1 295.4v2.6M300.8 404.2v-2.6M300.8 295.4v2.6M325.5 404.2v-2.6M325.5 295.4v2.6M350.2 404.2v-2.6M350.2 295.4v2.6M374.9 404.2v-2.6M374.9 295.4v2.6M226.7 295.4h2.6M375.3 295.4h-2.6M226.7 306.32h2.6M375.3 306.32h-2.6M226.7 317.24h2.6M375.3 317.24h-2.6M226.7 328.16h2.6M375.3 328.16h-2.6M226.7 339.08h2.6M375.3 339.08h-2.6M226.7 350h2.6M375.3 350h-2.6M226.7 360.92h2.6M375.3 360.92h-2.6M226.7 371.84h2.6M375.3 371.84h-2.6M226.7 382.76h2.6M375.3 382.76h-2.6M226.7 393.68h2.6M375.3 393.68h-2.6M226.7 404.6h2.6M375.3 404.6h-2.6" stroke="#222" stroke-width="0.8"/>
<text x="223.9" y="297.7" font-size="6.3" fill="#222" text-anchor="end" textLength="18.9" lengthAdjust="spacingAndGlyphs" stroke="#222" stroke-width="0.18">1.0e-05</text>
<text x="223.9" y="308.62" font-size="6.3" fill="#222" text-anchor="end" textLength="18.9" lengthAdjust="spacingAndGlyphs" stroke="#222" stroke-width="0.18">8.0e-06</text>
<text x="223.9" y="319.54" font-size="6.3" fill="#222" text-anchor="end" textLength="18.9" lengthAdjust="spacingAndGlyphs" stroke="#222" stroke-width="0.18">6.0e-06</text>
<text x="223.9" y="330.46" font-size="6.3" fill="#222" text-anchor="end" textLength="18.9" lengthAdjust="spacingAndGlyphs" stroke="#222" stroke-width="0.18">4.0e-06</text>
<text x="223.9" y="341.38" font-size="6.3" fill="#222" text-anchor="end" textLength="18.9" lengthAdjust="spacingAndGlyphs" stroke="#222" stroke-width="0.18">2.0e-06</text>
<text x="223.9" y="352.3" font-size="6.3" fill="#222" text-anchor="end" textLength="18.9" lengthAdjust="spacingAndGlyphs" stroke="#222" stroke-width="0.18">0.0e+00</text>
<text x="223.9" y="363.22" font-size="6.3" fill="#222" text-anchor="end" textLength="21.6" lengthAdjust="spacingAndGlyphs" stroke="#222" stroke-width="0.18">-2.0e-06</text>
<text x="223.9" y="374.14" font-size="6.3" fill="#222" text-anchor="end" textLength="21.6" lengthAdjust="spacingAndGlyphs" stroke="#222" stroke-width="0.18">-4.0e-06</text>
<text x="223.9" y="385.06" font-size="6.3" fill="#222" text-anchor="end" textLength="21.6" lengthAdjust="spacingAndGlyphs" stroke="#222" stroke-width="0.18">-6.0e-06</text>
<text x="223.9" y="395.98" font-size="6.3" fill="#222" text-anchor="end" textLength="21.6" lengthAdjust="spacingAndGlyphs" stroke="#222" stroke-width="0.18">-8.0e-06</text>
<text x="223.9" y="406.9" font-size="6.3" fill="#222" text-anchor="end" textLength="21.6" lengthAdjust="spacingAndGlyphs" stroke="#222" stroke-width="0.18">-1.0e-05</text>
<text x="226.7" y="411.8" font-size="5.4" fill="#333" text-anchor="middle" textLength="12" lengthAdjust="spacingAndGlyphs" stroke="#333" stroke-width="0.18">-0.6</text>
<text x="251.4" y="411.8" font-size="5.4" fill="#333" text-anchor="middle" textLength="12" lengthAdjust="spacingAndGlyphs" stroke="#333" stroke-width="0.18">-0.4</text>
<text x="276.1" y="411.8" font-size="5.4" fill="#333" text-anchor="middle" textLength="12" lengthAdjust="spacingAndGlyphs" stroke="#333" stroke-width="0.18">-0.2</text>
<text x="300.8" y="411.8" font-size="5.4" fill="#333" text-anchor="middle" textLength="3" lengthAdjust="spacingAndGlyphs" stroke="#333" stroke-width="0.18">0</text>
<text x="325.5" y="411.8" font-size="5.4" fill="#333" text-anchor="middle" textLength="9" lengthAdjust="spacingAndGlyphs" stroke="#333" stroke-width="0.18">0.2</text>
<text x="350.2" y="411.8" font-size="5.4" fill="#333" text-anchor="middle" textLength="9" lengthAdjust="spacingAndGlyphs" stroke="#333" stroke-width="0.18">0.4</text>
<text x="374.9" y="411.8" font-size="5.4" fill="#333" text-anchor="middle" textLength="9" lengthAdjust="spacingAndGlyphs" stroke="#333" stroke-width="0.18">0.6</text>
<text x="300.8" y="422.3" font-size="9.5" fill="#333" text-anchor="middle" textLength="30.7" lengthAdjust="spacingAndGlyphs" stroke="#333" stroke-width="0.18">Field [T]</text>
<text x="198.5" y="350" font-size="9.6" fill="#333" text-anchor="middle" textLength="53" lengthAdjust="spacingAndGlyphs" transform="rotate(-90 198.5 350)">Moment [Am<tspan font-size="5.76" dy="-3.36">2</tspan><tspan dy="3.36">]</tspan></text>
<rect x="233" y="300.8" width="20" height="19.5" fill="#fff" stroke="#111" stroke-width="1"/>
<text x="243" y="315.62" font-size="18.6" fill="#000" text-anchor="middle" stroke="#000" stroke-width="0.6">h</text>
<text x="235.2" y="327" font-size="5" fill="#333" textLength="41.6" lengthAdjust="spacingAndGlyphs" stroke="#333" stroke-width="0.12">Ms=6.237e-06[Am<tspan font-size="3.4" dy="-1.8">2</tspan><tspan dy="1.8">]</tspan></text>
<text x="235.2" y="332.6" font-size="5" fill="#333" textLength="40.8" lengthAdjust="spacingAndGlyphs" stroke="#333" stroke-width="0.12">Mr=3.791e-06[Am<tspan font-size="3.4" dy="-1.8">2</tspan><tspan dy="1.8">]</tspan></text>
<text x="235.2" y="338.2" font-size="5" fill="#333" textLength="35.7" lengthAdjust="spacingAndGlyphs" stroke="#333" stroke-width="0.12">Bc=2.140e-02[T]</text>
<text x="235.2" y="343.8" font-size="5" fill="#333" textLength="53.1" lengthAdjust="spacingAndGlyphs" stroke="#333" stroke-width="0.12">Slope=5.846e-06[Am<tspan font-size="3.4" dy="-1.8">2</tspan><tspan dy="1.8">/T]</tspan></text>
<text x="306.5" y="388" font-size="11" fill="#111" textLength="60.5" lengthAdjust="spacingAndGlyphs" stroke="#111" stroke-width="0.25">926R02-02-1</text>
<text x="349.4" y="395.2" font-size="5.4" fill="#222" text-anchor="end" textLength="23.2" lengthAdjust="spacingAndGlyphs" stroke="#222" stroke-width="0.18">Raw data</text>
<text x="349.4" y="401.4" font-size="5.4" fill="#222" text-anchor="end" textLength="39.5" lengthAdjust="spacingAndGlyphs" stroke="#222" stroke-width="0.18">Slope corrected</text>
<line x1="351.9" y1="393.4" x2="368.4" y2="393.4" stroke="#ee2222" stroke-width="0.9"/>
<line x1="351.9" y1="399.6" x2="368.4" y2="399.6" stroke="#3344ee" stroke-width="0.9" stroke-dasharray="2.2 1.2 0.8 1.2"/>
<line x1="439.22" y1="165" x2="439.22" y2="401" stroke="#444" stroke-width="0.9" stroke-dasharray="1.1 1.5"/>
<line x1="557" y1="165" x2="557" y2="401" stroke="#444" stroke-width="0.9" stroke-dasharray="1.1 1.5"/>
<line x1="422.4" y1="253.5" x2="658" y2="253.5" stroke="#444" stroke-width="0.9" stroke-dasharray="1.1 1.5"/>
<line x1="422.4" y1="395.1" x2="658" y2="395.1" stroke="#444" stroke-width="0.9" stroke-dasharray="1.1 1.5"/>
<rect x="420.4" y="163.2" width="37.4" height="92.4" fill="none" stroke="#777" stroke-width="1.1" stroke-dasharray="2 1.6"/>
<g fill="#f6e81a" stroke="#333" stroke-width="0.6"><circle cx="428.42" cy="178.05" r="2.3"/><circle cx="431.17" cy="181.88" r="2.3"/><circle cx="432.25" cy="187.09" r="2.3"/><circle cx="427.8" cy="190.62" r="2.3"/><circle cx="428.42" cy="196.75" r="2.3"/><circle cx="429.64" cy="200.58" r="2.3"/><circle cx="429.95" cy="205.95" r="2.3"/><circle cx="429.33" cy="205.49" r="2.3"/><circle cx="429.64" cy="208.71" r="2.3"/><circle cx="429.95" cy="216.22" r="2.3"/><circle cx="429.64" cy="220.82" r="2.3"/><circle cx="430.56" cy="222.81" r="2.3"/><circle cx="430.87" cy="224.8" r="2.3"/><circle cx="431.17" cy="233.23" r="2.3"/><circle cx="431.48" cy="238.6" r="2.3"/></g>
<rect x="422.4" y="165" width="235.6" height="236" fill="none" stroke="#555" stroke-width="1.2"/>
<path d="M422.4 401v-2.2M422.4 165v2.2M456.05 401v-2.2M456.05 165v2.2M489.7 401v-2.2M489.7 165v2.2M523.35 401v-2.2M523.35 165v2.2M557 401v-2.2M557 165v2.2M590.65 401v-2.2M590.65 165v2.2M624.3 401v-2.2M624.3 165v2.2M657.95 401v-2.2M657.95 165v2.2M422.4 401h2.6M658 401h-2.6M422.4 386.25h1.6M658 386.25h-1.6M422.4 371.5h2.6M658 371.5h-2.6M422.4 356.75h1.6M658 356.75h-1.6M422.4 342h2.6M658 342h-2.6M422.4 327.25h1.6M658 327.25h-1.6M422.4 312.5h2.6M658 312.5h-2.6M422.4 297.75h1.6M658 297.75h-1.6M422.4 283h2.6M658 283h-2.6M422.4 268.25h1.6M658 268.25h-1.6M422.4 253.5h2.6M658 253.5h-2.6M422.4 238.75h1.6M658 238.75h-1.6M422.4 224h2.6M658 224h-2.6M422.4 209.25h1.6M658 209.25h-1.6M422.4 194.5h2.6M658 194.5h-2.6M422.4 179.75h1.6M658 179.75h-1.6M422.4 165h2.6M658 165h-2.6" stroke="#444" stroke-width="0.8"/>
<text x="418.8" y="404.5" font-size="9.8" fill="#222" text-anchor="end" textLength="14" lengthAdjust="spacingAndGlyphs" stroke="#222" stroke-width="0.18">0.0</text>
<text x="418.8" y="375" font-size="9.8" fill="#222" text-anchor="end" textLength="14" lengthAdjust="spacingAndGlyphs" stroke="#222" stroke-width="0.18">0.1</text>
<text x="418.8" y="345.5" font-size="9.8" fill="#222" text-anchor="end" textLength="14" lengthAdjust="spacingAndGlyphs" stroke="#222" stroke-width="0.18">0.2</text>
<text x="418.8" y="316" font-size="9.8" fill="#222" text-anchor="end" textLength="14" lengthAdjust="spacingAndGlyphs" stroke="#222" stroke-width="0.18">0.3</text>
<text x="418.8" y="286.5" font-size="9.8" fill="#222" text-anchor="end" textLength="14" lengthAdjust="spacingAndGlyphs" stroke="#222" stroke-width="0.18">0.4</text>
<text x="418.8" y="257" font-size="9.8" fill="#222" text-anchor="end" textLength="14" lengthAdjust="spacingAndGlyphs" stroke="#222" stroke-width="0.18">0.5</text>
<text x="418.8" y="227.5" font-size="9.8" fill="#222" text-anchor="end" textLength="14" lengthAdjust="spacingAndGlyphs" stroke="#222" stroke-width="0.18">0.6</text>
<text x="418.8" y="198" font-size="9.8" fill="#222" text-anchor="end" textLength="14" lengthAdjust="spacingAndGlyphs" stroke="#222" stroke-width="0.18">0.7</text>
<text x="418.8" y="168.5" font-size="9.8" fill="#222" text-anchor="end" textLength="14" lengthAdjust="spacingAndGlyphs" stroke="#222" stroke-width="0.18">0.8</text>
<text x="422.4" y="410.6" font-size="9.3" fill="#222" text-anchor="middle" stroke="#222" stroke-width="0.18">1</text>
<text x="456.05" y="410.6" font-size="9.3" fill="#222" text-anchor="middle" stroke="#222" stroke-width="0.18">2</text>
<text x="489.7" y="410.6" font-size="9.3" fill="#222" text-anchor="middle" stroke="#222" stroke-width="0.18">3</text>
<text x="523.35" y="410.6" font-size="9.3" fill="#222" text-anchor="middle" stroke="#222" stroke-width="0.18">4</text>
<text x="557" y="410.6" font-size="9.3" fill="#222" text-anchor="middle" stroke="#222" stroke-width="0.18">5</text>
<text x="590.65" y="410.6" font-size="9.3" fill="#222" text-anchor="middle" stroke="#222" stroke-width="0.18">6</text>
<text x="624.3" y="410.6" font-size="9.3" fill="#222" text-anchor="middle" stroke="#222" stroke-width="0.18">7</text>
<text x="657.95" y="410.6" font-size="9.3" fill="#222" text-anchor="middle" stroke="#222" stroke-width="0.18">8</text>
<text x="541" y="424" font-size="12" fill="#222" text-anchor="middle">B<tspan font-size="8.5" dy="2.5">cr</tspan><tspan dy="-2.5">/B</tspan><tspan font-size="8.5" dy="2.5">c</tspan></text>
<text x="399.3" y="283" font-size="12.5" fill="#222" text-anchor="middle" transform="rotate(-90 399.3 283)">M<tspan font-size="8.8" dy="2.6">rs</tspan><tspan dy="-2.6">/M</tspan><tspan font-size="8.8" dy="2.6">s</tspan></text>
<text x="444.1" y="389.9" font-size="7.2" fill="#111" font-weight="bold" textLength="23.6" lengthAdjust="spacingAndGlyphs" stroke="#111" stroke-width="0.18">“PSD”</text>
<text x="563" y="390.5" font-size="7.2" fill="#111" font-weight="bold" textLength="12" lengthAdjust="spacingAndGlyphs" stroke="#111" stroke-width="0.18">MD</text>
<text x="424.9" y="251.2" font-size="7.4" fill="#111" font-weight="bold" textLength="11.8" lengthAdjust="spacingAndGlyphs" stroke="#111" stroke-width="0.18">SD</text>
<rect x="382.8" y="171.5" width="19.8" height="19.4" fill="#fff" stroke="#222" stroke-width="1"/>
<text x="392.7" y="187.6" font-size="18.5" fill="#000" text-anchor="middle" stroke="#000" stroke-width="0.8">i</text>
<rect x="501" y="184.9" width="137.2" height="136.9" fill="#fff" stroke="#333" stroke-width="1"/>
<path d="M501 321.8v-2.6M501 184.9v2.6M514.72 321.8v-1.5M514.72 184.9v1.5M528.44 321.8v-2.6M528.44 184.9v2.6M542.16 321.8v-1.5M542.16 184.9v1.5M555.88 321.8v-2.6M555.88 184.9v2.6M569.6 321.8v-1.5M569.6 184.9v1.5M583.32 321.8v-2.6M583.32 184.9v2.6M597.04 321.8v-1.5M597.04 184.9v1.5M610.76 321.8v-2.6M610.76 184.9v2.6M624.48 321.8v-1.5M624.48 184.9v1.5M638.2 321.8v-2.6M638.2 184.9v2.6M501 321.8h2.6M638.2 321.8h-2.6M501 298.99h1.5M638.2 298.99h-1.5M501 276.17h2.6M638.2 276.17h-2.6M501 253.36h1.5M638.2 253.36h-1.5M501 230.54h2.6M638.2 230.54h-2.6M501 207.73h1.5M638.2 207.73h-1.5M501 184.91h2.6M638.2 184.91h-2.6" stroke="#333" stroke-width="0.8"/>
<text x="497.5" y="192" font-size="10" fill="#222" text-anchor="end" textLength="14.4" lengthAdjust="spacingAndGlyphs">0.8</text>
<text x="497.5" y="234" font-size="10" fill="#222" text-anchor="end" textLength="14.4" lengthAdjust="spacingAndGlyphs">0.7</text>
<text x="497.5" y="279.6" font-size="10" fill="#222" text-anchor="end" textLength="14.4" lengthAdjust="spacingAndGlyphs">0.6</text>
<text x="497.5" y="325.4" font-size="10" fill="#222" text-anchor="end" textLength="14.4" lengthAdjust="spacingAndGlyphs">0.5</text>
<text x="501" y="337.2" font-size="10" fill="#222" text-anchor="middle" textLength="14.2" lengthAdjust="spacingAndGlyphs">1.0</text>
<text x="528.44" y="337.2" font-size="10" fill="#222" text-anchor="middle" textLength="14.2" lengthAdjust="spacingAndGlyphs">1.2</text>
<text x="555.88" y="337.2" font-size="10" fill="#222" text-anchor="middle" textLength="14.2" lengthAdjust="spacingAndGlyphs">1.4</text>
<text x="583.32" y="337.2" font-size="10" fill="#222" text-anchor="middle" textLength="14.2" lengthAdjust="spacingAndGlyphs">1.6</text>
<text x="610.76" y="337.2" font-size="10" fill="#222" text-anchor="middle" textLength="14.2" lengthAdjust="spacingAndGlyphs">1.8</text>
<text x="638.2" y="337.2" font-size="10" fill="#222" text-anchor="middle" textLength="14.2" lengthAdjust="spacingAndGlyphs">2.0</text>
<text x="569.6" y="350.4" font-size="12" fill="#222" text-anchor="middle">B<tspan font-size="8.5" dy="2.5">cr</tspan><tspan dy="-2.5">/B</tspan><tspan font-size="8.5" dy="2.5">c</tspan></text>
<text x="477.5" y="253.3" font-size="13" fill="#222" text-anchor="middle" transform="rotate(-90 477.5 253.3)">M<tspan font-size="9" dy="2.7">rs</tspan><tspan dy="-2.7">/M</tspan><tspan font-size="9" dy="2.7">s</tspan></text>
<path d="M526.9 204.5L549.1 193.5M537.4 210.3L570.1 204.5M541.8 218.9L560.5 216.7M525.8 224.4L590.9 225.9M526.8 234.3L572 232.1M530.2 239.9L586.7 239.4M533.1 248.2L554.3 247M529.4 248.2L512.7 255.5M530.2 253.1L547 255.2M532.4 259.4L592.9 258.7M530.2 271.3L574.5 269.1M533.6 273.5L568.8 279.4M537.2 277.1L573.2 291.9M538 290.3L577 304.8M540.5 298.6L579 313.1" stroke="#222" stroke-width="0.6" fill="none"/>
<g fill="#f8ea10" stroke="#333" stroke-width="0.6"><circle cx="529.4" cy="248.2" r="3.1"/><circle cx="526.9" cy="204.5" r="3.1"/><circle cx="537.4" cy="210.3" r="3.1"/><circle cx="541.8" cy="218.9" r="3.1"/><circle cx="525.8" cy="224.4" r="3.1"/><circle cx="526.8" cy="234.3" r="3.1"/><circle cx="530.2" cy="239.9" r="3.1"/><circle cx="533.1" cy="248.2" r="3.1"/><circle cx="530.2" cy="253.1" r="3.1"/><circle cx="532.4" cy="259.4" r="3.1"/><circle cx="530.2" cy="271.3" r="3.1"/><circle cx="533.6" cy="273.5" r="3.1"/><circle cx="537.2" cy="277.1" r="3.1"/><circle cx="538" cy="290.3" r="3.1"/><circle cx="540.5" cy="298.6" r="3.1"/></g>
<text x="549.9" y="195.9" font-size="6.8" fill="#222" textLength="39.9" lengthAdjust="spacingAndGlyphs" stroke="#222" stroke-width="0.18">926R07-01-1</text>
<text x="570.9" y="206.9" font-size="6.8" fill="#222" textLength="39.9" lengthAdjust="spacingAndGlyphs" stroke="#222" stroke-width="0.18">926R08-01-2</text>
<text x="561.3" y="219.1" font-size="6.8" fill="#222" textLength="39.9" lengthAdjust="spacingAndGlyphs" stroke="#222" stroke-width="0.18">926R08-01-1</text>
<text x="591.7" y="228.3" font-size="6.8" fill="#222" textLength="39.9" lengthAdjust="spacingAndGlyphs" stroke="#222" stroke-width="0.18">926R07-01-3</text>
<text x="572.8" y="234.5" font-size="6.8" fill="#222" textLength="39.9" lengthAdjust="spacingAndGlyphs" stroke="#222" stroke-width="0.18">926R03-01-3</text>
<text x="587.5" y="241.8" font-size="6.8" fill="#222" textLength="39.9" lengthAdjust="spacingAndGlyphs" stroke="#222" stroke-width="0.18">926R06-02-1</text>
<text x="555.1" y="249.4" font-size="6.8" fill="#222" textLength="39.9" lengthAdjust="spacingAndGlyphs" stroke="#222" stroke-width="0.18">926R03-01-4</text>
<text x="547.8" y="257.6" font-size="6.8" fill="#222" textLength="39.9" lengthAdjust="spacingAndGlyphs" stroke="#222" stroke-width="0.18">926R06-02-2</text>
<text x="593.7" y="261.1" font-size="6.8" fill="#222" textLength="39.9" lengthAdjust="spacingAndGlyphs" stroke="#222" stroke-width="0.18">926R04-01-6</text>
<text x="575.3" y="271.5" font-size="6.8" fill="#222" textLength="39.9" lengthAdjust="spacingAndGlyphs" stroke="#222" stroke-width="0.18">926R02-02-1</text>
<text x="569.6" y="281.8" font-size="6.8" fill="#222" textLength="39.9" lengthAdjust="spacingAndGlyphs" stroke="#222" stroke-width="0.18">926R04-01-5</text>
<text x="574" y="294.3" font-size="6.8" fill="#222" textLength="39.9" lengthAdjust="spacingAndGlyphs" stroke="#222" stroke-width="0.18">926R05-01-2</text>
<text x="577.8" y="307.2" font-size="6.8" fill="#222" textLength="39.9" lengthAdjust="spacingAndGlyphs" stroke="#222" stroke-width="0.18">926R01-02-1</text>
<text x="579.8" y="315.5" font-size="6.8" fill="#222" textLength="39.9" lengthAdjust="spacingAndGlyphs" stroke="#222" stroke-width="0.18">926R01-02-2</text>
<text x="504.8" y="259.5" font-size="6.8" fill="#222" textLength="11" lengthAdjust="spacingAndGlyphs" stroke="#222" stroke-width="0.18">926</text>
<text x="504.8" y="265" font-size="6.8" fill="#222" textLength="11" lengthAdjust="spacingAndGlyphs" stroke="#222" stroke-width="0.18">R02</text>
<text x="504" y="272.9" font-size="6.8" fill="#222" textLength="14" lengthAdjust="spacingAndGlyphs" stroke="#222" stroke-width="0.18">-02-2</text>
<g clip-path="url(#fjc)"><g filter="url(#fj)"><rect x="26.5" y="431.5" width="177.9" height="118.39999999999998" fill="rgb(51,51,51)"/><path d="M49.2 500.2 49.2 500.8 48.8 501.2 48.8 501.8 48.2 502.2 48.2 503.2 47.8 503.8 47.8 508.2 48.2 508.8 48.2 509.8 48.8 510.2 48.8 510.8 49.2 511.2 49.2 511.8 53.8 516.2 54.2 516.2 57.8 519.8 58.2 519.8 62.2 523.8 62.8 523.8 66.2 527.2 66.8 527.2 70.2 530.8 70.8 530.8 74.8 534.8 75.2 534.8 78.8 538.2 79.2 538.2 82.8 541.8 83.2 541.8 87.2 545.8 87.8 545.8 88.8 546.8 117.8 546.8 117.8 546.2 117.2 545.8 117.2 545.2 116.8 544.8 116.8 544.2 112.2 539.8 111.8 539.8 108.2 536.2 107.8 536.2 103.8 532.2 103.2 532.2 99.8 528.8 99.2 528.8 95.8 525.2 95.2 525.2 91.2 521.2 90.8 521.2 87.2 517.8 86.8 517.8 83.2 514.2 82.8 514.2 78.8 510.2 78.2 510.2 74.8 506.8 74.2 506.8 70.8 503.2 70.2 503.2 66.2 499.2 65.8 499.2 63.8 497.2 63.2 497.2 62.8 496.8 62.2 496.8 61.8 496.2 60.8 496.2 60.2 495.8 55.8 495.8 55.2 496.2 54.2 496.2 53.8 496.8 53.2 496.8 52.8 497.2 52.2 497.2ZM29.8 485.2 29.8 546.8 34.2 546.8 34.8 546.2 35.2 546.2 35.8 545.8 36.2 545.8 39.8 542.2 39.8 541.8 40.8 540.8 40.8 540.2 41.2 539.8 41.2 539.2 41.8 538.8 41.8 538.2 42.2 537.8 42.2 537.2 42.8 536.8 42.8 536.2 43.2 535.8 43.2 534.8 43.8 534.2 43.8 533.2 44.2 532.8 44.2 531.2 44.8 530.8 44.8 529.2 45.2 528.8 45.2 526.2 45.8 525.8 45.8 522.8 46.2 522.2 46.2 509.8 45.8 509.2 45.8 506.2 45.2 505.8 45.2 503.2 44.8 502.8 44.8 501.2 44.2 500.8 44.2 499.2 43.8 498.8 43.8 497.8 43.2 497.2 43.2 496.2 42.8 495.8 42.8 495.2 42.2 494.8 42.2 494.2 41.8 493.8 41.8 493.2 41.2 492.8 41.2 492.2 40.8 491.8 40.8 491.2 39.8 490.2 39.8 489.8 36.2 486.2 35.8 486.2 35.2 485.8 34.8 485.8 34.2 485.2Z" fill="rgb(49,49,49)" fill-rule="evenodd"/><path d="M53.2 503.2 53.2 503.8 52.8 504.2 52.8 507.8 53.2 508.2 53.2 508.8 57.8 513.2 58.2 513.2 62.2 517.2 62.8 517.2 66.2 520.8 66.8 520.8 70.2 524.2 70.8 524.2 74.8 528.2 75.2 528.2 78.8 531.8 79.2 531.8 82.8 535.2 83.2 535.2 87.2 539.2 87.8 539.2 91.2 542.8 91.8 542.8 95.2 546.2 95.8 546.2 96.2 546.8 112.2 546.8 108.2 542.8 107.8 542.8 103.8 538.8 103.2 538.8 99.8 535.2 99.2 535.2 95.8 531.8 95.2 531.8 91.2 527.8 90.8 527.8 87.2 524.2 86.8 524.2 83.2 520.8 82.8 520.8 78.8 516.8 78.2 516.8 74.8 513.2 74.2 513.2 70.8 509.8 70.2 509.8 66.2 505.8 65.8 505.8 62.2 502.2 61.8 502.2 60.8 501.2 60.2 501.2 59.8 500.8 56.2 500.8 55.8 501.2 55.2 501.2ZM31.2 494.2 30.8 494.8 29.8 494.8 29.8 537.2 30.8 537.2 31.2 537.8 32.8 537.8 33.2 537.2 34.2 537.2 35.2 536.2 35.8 536.2 36.8 535.2 36.8 534.8 38.2 533.2 38.2 532.8 38.8 532.2 38.8 531.8 39.2 531.2 39.2 530.2 39.8 529.8 39.8 529.2 40.2 528.8 40.2 527.2 40.8 526.8 40.8 525.2 41.2 524.8 41.2 522.8 41.8 522.2 41.8 509.8 41.2 509.2 41.2 507.2 40.8 506.8 40.8 505.2 40.2 504.8 40.2 503.2 39.8 502.8 39.8 502.2 39.2 501.8 39.2 500.8 38.8 500.2 38.8 499.8 38.2 499.2 38.2 498.8 36.8 497.2 36.8 496.8 35.8 495.8 35.2 495.8 34.2 494.8 33.2 494.8 32.8 494.2Z" fill="rgb(48,48,48)" fill-rule="evenodd"/><path d="M30.2 500.8 29.8 501.2 29.8 530.8 30.2 531.2 33.8 531.2 36.2 528.8 36.2 528.2 36.8 527.8 36.8 527.2 37.2 526.8 37.2 526.2 37.8 525.8 37.8 524.8 38.2 524.2 38.2 522.2 38.8 521.8 38.8 518.8 39.2 518.2 39.2 513.8 38.8 513.2 38.8 510.2 38.2 509.8 38.2 507.8 37.8 507.2 37.8 506.2 37.2 505.8 37.2 505.2 36.8 504.8 36.8 504.2 36.2 503.8 36.2 503.2 33.8 500.8Z" fill="rgb(46,46,46)" fill-rule="evenodd"/><path d="M31.8 506.2 31.2 506.8 30.8 506.8 29.8 507.8 29.8 524.2 30.8 525.2 31.2 525.2 31.8 525.8 32.2 525.8 32.8 525.2 33.2 525.2 34.8 523.8 34.8 523.2 35.2 522.8 35.2 521.8 35.8 521.2 35.8 519.8 36.2 519.2 36.2 512.8 35.8 512.2 35.8 510.8 35.2 510.2 35.2 509.2 34.8 508.8 34.8 508.2 33.2 506.8 32.8 506.8 32.2 506.2Z" fill="rgb(45,45,45)" fill-rule="evenodd"/><path d="M29.8 452.2 29.8 507.8 30.2 508.2 30.8 508.2 31.2 508.8 32.8 508.8 33.2 509.2 47.2 509.2 47.8 508.8 54.8 508.8 55.2 508.2 61.2 508.2 61.8 507.8 67.2 507.8 67.8 507.2 72.2 507.2 72.8 506.8 76.8 506.8 77.2 506.2 81.2 506.2 81.8 505.8 85.2 505.8 85.8 505.2 88.8 505.2 89.2 504.8 92.8 504.8 93.2 504.2 95.8 504.2 96.2 503.8 98.8 503.8 99.2 503.2 101.8 503.2 102.2 502.8 104.8 502.8 105.2 502.2 107.2 502.2 107.8 501.8 109.8 501.8 110.2 501.2 111.8 501.2 112.2 500.8 113.8 500.8 114.2 500.2 115.8 500.2 116.2 499.8 117.8 499.8 118.2 499.2 119.8 499.2 120.2 498.8 121.2 498.8 121.8 498.2 122.8 498.2 123.2 497.8 123.8 497.8 124.2 497.2 125.2 497.2 125.8 496.8 126.2 496.8 126.8 496.2 127.2 496.2 127.8 495.8 128.2 495.8 128.8 495.2 143.8 495.2 144.2 494.8 161.2 494.8 161.8 494.2 168.8 494.2 169.2 493.8 171.8 493.8 172.2 493.2 172.8 493.2 173.2 492.8 173.8 492.8 173.8 490.8 172.8 489.8 171.2 489.8 170.8 489.2 166.8 489.2 166.2 488.8 156.2 488.8 155.8 488.2 133.2 488.2 132.8 487.8 128.8 487.8 128.2 487.2 127.8 487.2 126.8 486.2 126.2 486.2 125.8 485.8 125.2 485.8 124.8 485.2 124.2 485.2 123.8 484.8 123.2 484.8 122.8 484.2 122.2 484.2 121.8 483.8 121.2 483.8 120.8 483.2 119.8 483.2 119.2 482.8 118.2 482.8 117.8 482.2 116.8 482.2 116.2 481.8 115.2 481.8 114.8 481.2 113.8 481.2 113.2 480.8 112.2 480.8 111.8 480.2 110.2 480.2 109.8 479.8 108.2 479.8 107.8 479.2 106.2 479.2 105.8 478.8 104.2 478.8 103.8 478.2 102.2 478.2 101.8 477.8 99.8 477.8 99.2 477.2 97.2 477.2 96.8 476.8 94.8 476.8 94.2 476.2 92.2 476.2 91.8 475.8 89.2 475.8 88.8 475.2 86.2 475.2 85.8 474.8 83.2 474.8 82.8 474.2 82.8 473.2 82.2 472.8 82.2 471.8 81.8 471.2 81.8 470.2 81.2 469.8 81.2 469.2 80.8 468.8 80.8 468.2 80.2 467.8 80.2 467.2 78.8 465.8 78.8 465.2 75.8 462.2 75.2 462.2 73.2 460.2 72.8 460.2 71.8 459.2 71.2 459.2 70.8 458.8 70.2 458.8 69.8 458.2 69.2 458.2 68.2 457.2 67.8 457.2 67.2 456.8 66.2 456.8 65.8 456.2 65.2 456.2 64.8 455.8 64.2 455.8 63.8 455.2 62.8 455.2 62.2 454.8 61.2 454.8 60.8 454.2 59.8 454.2 59.2 453.8 58.2 453.8 57.8 453.2 56.2 453.2 55.8 452.8 53.8 452.8 53.2 452.2 51.2 452.2 50.8 451.8 47.8 451.8 47.2 451.2 41.8 451.2 41.2 450.8 36.2 450.8 35.8 451.2 32.8 451.2 32.2 451.8 30.8 451.8 30.2 452.2Z" fill="rgb(52,52,52)" fill-rule="evenodd"/><path d="M29.8 457.8 29.8 504.2 30.2 504.8 30.8 504.8 31.2 505.2 32.2 505.2 32.8 505.8 35.2 505.8 35.8 506.2 39.8 506.2 40.2 505.8 48.2 505.8 48.8 505.2 54.8 505.2 55.2 504.8 59.8 504.8 60.2 504.2 64.2 504.2 64.8 503.8 68.2 503.8 68.8 503.2 72.2 503.2 72.8 502.8 75.8 502.8 76.2 502.2 78.8 502.2 79.2 501.8 81.8 501.8 82.2 501.2 84.8 501.2 85.2 500.8 87.2 500.8 87.8 500.2 89.2 500.2 89.8 499.8 91.8 499.8 92.2 499.2 93.8 499.2 94.2 498.8 95.2 498.8 95.8 498.2 97.2 498.2 97.8 497.8 98.8 497.8 99.2 497.2 100.2 497.2 100.8 496.8 101.2 496.8 101.8 496.2 102.8 496.2 103.8 495.2 104.2 495.2 104.8 494.8 130.8 494.8 131.2 494.2 153.2 494.2 153.8 493.8 163.2 493.8 163.8 493.2 167.8 493.2 168.2 492.8 170.2 492.8 170.8 492.2 171.2 492.2 171.2 491.2 170.8 490.8 169.8 490.8 169.2 490.2 166.8 490.2 166.2 489.8 160.8 489.8 160.2 489.2 147.8 489.2 147.2 488.8 119.2 488.8 118.8 488.2 104.8 488.2 104.2 487.8 103.8 487.8 102.8 486.8 102.2 486.8 101.8 486.2 101.2 486.2 100.8 485.8 100.2 485.8 99.8 485.2 99.2 485.2 98.8 484.8 98.2 484.8 97.8 484.2 96.8 484.2 96.2 483.8 95.2 483.8 94.8 483.2 93.8 483.2 93.2 482.8 92.2 482.8 91.8 482.2 90.8 482.2 90.2 481.8 88.8 481.8 88.2 481.2 86.8 481.2 86.2 480.8 84.8 480.8 84.2 480.2 82.8 480.2 82.2 479.8 80.2 479.8 79.8 479.2 77.8 479.2 77.2 478.8 75.2 478.8 74.8 478.2 74.2 478.2 73.8 477.8 73.8 476.8 74.2 476.2 74.2 475.8 73.8 475.2 73.8 472.8 73.2 472.2 73.2 471.2 72.8 470.8 72.8 470.2 71.8 469.2 71.8 468.8 70.8 467.8 70.8 467.2 68.8 465.2 68.2 465.2 66.2 463.2 65.8 463.2 64.8 462.2 64.2 462.2 63.8 461.8 63.2 461.8 62.8 461.2 62.2 461.2 61.8 460.8 61.2 460.8 60.8 460.2 60.2 460.2 59.8 459.8 58.8 459.8 58.2 459.2 57.8 459.2 57.2 458.8 56.2 458.8 55.8 458.2 54.2 458.2 53.8 457.8 52.8 457.8 52.2 457.2 50.2 457.2 49.8 456.8 47.2 456.8 46.8 456.2 42.8 456.2 42.2 455.8 35.8 455.8 35.2 456.2 33.2 456.2 32.8 456.8 31.8 456.8 31.2 457.2 30.2 457.2Z" fill="rgb(53,53,53)" fill-rule="evenodd"/><path d="M29.8 461.2 29.8 502.2 30.2 502.2 30.8 502.8 31.2 502.8 31.8 503.2 32.2 503.2 32.8 503.8 34.2 503.8 34.8 504.2 42.2 504.2 42.8 503.8 48.8 503.8 49.2 503.2 54.2 503.2 54.8 502.8 58.8 502.8 59.2 502.2 62.8 502.2 63.2 501.8 66.2 501.8 66.8 501.2 69.2 501.2 69.8 500.8 72.2 500.8 72.8 500.2 74.8 500.2 75.2 499.8 77.2 499.8 77.8 499.2 79.8 499.2 80.2 498.8 81.8 498.8 82.2 498.2 83.8 498.2 84.2 497.8 85.2 497.8 85.8 497.2 86.8 497.2 87.2 496.8 88.2 496.8 88.8 496.2 89.2 496.2 89.8 495.8 90.8 495.8 91.8 494.8 100.8 494.8 101.2 494.2 130.8 494.2 131.2 493.8 152.2 493.8 152.8 493.2 160.8 493.2 161.2 492.8 164.8 492.8 165.2 492.2 167.2 492.2 167.8 491.8 167.8 491.2 166.8 491.2 166.2 490.8 164.2 490.8 163.8 490.2 158.2 490.2 157.8 489.8 147.2 489.8 146.8 489.2 119.2 489.2 118.8 488.8 92.2 488.8 90.8 487.2 90.2 487.2 89.8 486.8 89.2 486.8 88.8 486.2 88.2 486.2 87.8 485.8 87.2 485.8 86.8 485.2 85.8 485.2 85.2 484.8 84.2 484.8 83.8 484.2 83.2 484.2 82.8 483.8 81.2 483.8 80.8 483.2 79.8 483.2 79.2 482.8 78.2 482.8 77.8 482.2 76.2 482.2 75.8 481.8 74.2 481.8 73.8 481.2 71.8 481.2 71.2 480.8 69.2 480.8 68.8 480.2 67.8 480.2 67.2 479.8 67.8 479.2 67.8 473.2 67.2 472.8 67.2 471.8 66.2 470.8 66.2 470.2 65.2 469.2 65.2 468.8 62.8 466.2 62.2 466.2 61.2 465.2 60.8 465.2 59.8 464.2 59.2 464.2 58.8 463.8 58.2 463.8 57.8 463.2 57.2 463.2 56.8 462.8 56.2 462.8 55.8 462.2 54.8 462.2 54.2 461.8 53.2 461.8 52.8 461.2 51.8 461.2 51.2 460.8 49.8 460.8 49.2 460.2 47.2 460.2 46.8 459.8 43.2 459.8 42.8 459.2 35.2 459.2 34.8 459.8 33.2 459.8 32.8 460.2 31.8 460.2 31.2 460.8 30.8 460.8 30.2 461.2Z" fill="rgb(55,55,55)" fill-rule="evenodd"/><path d="M29.8 464.8 29.8 500.8 30.2 500.8 31.2 501.8 31.8 501.8 32.2 502.2 33.2 502.2 33.8 502.8 45.2 502.8 45.8 502.2 50.2 502.2 50.8 501.8 54.8 501.8 55.2 501.2 58.8 501.2 59.2 500.8 62.2 500.8 62.8 500.2 65.2 500.2 65.8 499.8 67.8 499.8 68.2 499.2 70.2 499.2 70.8 498.8 72.8 498.8 73.2 498.2 74.8 498.2 75.2 497.8 76.8 497.8 77.2 497.2 78.2 497.2 78.8 496.8 79.8 496.8 80.2 496.2 81.2 496.2 81.8 495.8 82.2 495.8 82.8 495.2 83.2 495.2 83.8 494.8 84.2 494.8 84.8 494.2 106.8 494.2 107.2 493.8 136.8 493.8 137.2 493.2 152.8 493.2 153.2 492.8 159.2 492.8 159.8 492.2 162.2 492.2 162.8 491.8 163.8 491.8 163.2 491.2 161.8 491.2 161.2 490.8 157.8 490.8 157.2 490.2 149.2 490.2 148.8 489.8 125.2 489.8 124.8 489.2 95.8 489.2 95.2 488.8 84.2 488.8 83.8 488.2 83.2 488.2 82.2 487.2 81.8 487.2 81.2 486.8 80.8 486.8 80.2 486.2 79.8 486.2 79.2 485.8 78.2 485.8 77.8 485.2 77.2 485.2 76.8 484.8 75.8 484.8 75.2 484.2 74.2 484.2 73.8 483.8 72.2 483.8 71.8 483.2 70.8 483.2 70.2 482.8 68.8 482.8 68.2 482.2 66.2 482.2 65.8 481.8 64.2 481.8 63.8 481.2 62.2 481.2 61.8 480.8 62.2 480.2 62.2 479.8 62.8 479.2 62.8 477.8 63.2 477.2 63.2 475.2 62.8 474.8 62.8 473.2 62.2 472.8 62.2 472.2 61.8 471.8 61.8 471.2 60.8 470.2 60.8 469.8 59.2 468.2 58.8 468.2 57.2 466.8 56.8 466.8 56.2 466.2 55.8 466.2 55.2 465.8 54.8 465.8 54.2 465.2 53.8 465.2 53.2 464.8 52.8 464.8 52.2 464.2 51.2 464.2 50.8 463.8 49.8 463.8 49.2 463.2 47.8 463.2 47.2 462.8 44.8 462.8 44.2 462.2 38.8 462.2 38.2 461.8 37.8 461.8 37.2 462.2 34.2 462.2 33.8 462.8 32.8 462.8 32.2 463.2 31.8 463.2 31.2 463.8 30.8 463.8Z" fill="rgb(57,57,57)" fill-rule="evenodd"/><path d="M29.8 467.8 29.8 499.2 30.8 500.2 31.2 500.2 31.8 500.8 32.2 500.8 32.8 501.2 33.2 501.2 33.8 501.8 36.2 501.8 36.8 502.2 37.8 502.2 38.2 501.8 45.2 501.8 45.8 501.2 50.2 501.2 50.8 500.8 54.2 500.8 54.8 500.2 57.8 500.2 58.2 499.8 60.8 499.8 61.2 499.2 63.2 499.2 63.8 498.8 65.8 498.8 66.2 498.2 68.2 498.2 68.8 497.8 70.2 497.8 70.8 497.2 71.8 497.2 72.2 496.8 73.2 496.8 73.8 496.2 74.8 496.2 75.2 495.8 76.2 495.8 76.8 495.2 77.2 495.2 77.8 494.8 78.2 494.8 78.8 494.2 86.8 494.2 87.2 493.8 115.8 493.8 116.2 493.2 144.8 493.2 145.2 492.8 153.2 492.8 153.8 492.2 157.2 492.2 157.8 491.8 158.8 491.8 158.8 491.2 156.2 491.2 155.8 490.8 150.8 490.8 150.2 490.2 133.8 490.2 133.2 489.8 104.8 489.8 104.2 489.2 78.8 489.2 77.8 488.2 77.2 488.2 76.2 487.2 75.8 487.2 75.2 486.8 74.8 486.8 74.2 486.2 73.2 486.2 72.8 485.8 72.2 485.8 71.8 485.2 70.8 485.2 70.2 484.8 69.2 484.8 68.8 484.2 67.2 484.2 66.8 483.8 65.8 483.8 65.2 483.2 63.8 483.2 63.2 482.8 61.2 482.8 60.8 482.2 58.8 482.2 58.2 481.8 57.2 481.8 56.8 481.2 57.8 480.2 57.8 479.8 58.2 479.2 58.2 477.8 58.8 477.2 58.8 474.8 58.2 474.2 58.2 473.2 57.8 472.8 57.8 472.2 56.2 470.8 56.2 470.2 55.8 470.2 53.8 468.2 53.2 468.2 52.8 467.8 52.2 467.8 51.8 467.2 51.2 467.2 50.8 466.8 49.8 466.8 49.2 466.2 48.8 466.2 48.2 465.8 46.8 465.8 46.2 465.2 44.2 465.2 43.8 464.8 39.8 464.8 39.2 464.2 37.2 464.2 36.8 464.8 34.8 464.8 34.2 465.2 33.2 465.2 32.8 465.8 32.2 465.8 31.2 466.8 30.8 466.8Z" fill="rgb(60,60,60)" fill-rule="evenodd"/><path d="M29.8 471.8 29.8 480.8 30.2 481.2 30.2 481.8 30.8 482.2 30.8 482.8 29.8 483.8 29.8 498.2 31.2 499.8 31.8 499.8 32.2 500.2 32.8 500.2 33.2 500.8 34.2 500.8 34.8 501.2 41.8 501.2 42.2 500.8 47.2 500.8 47.8 500.2 51.2 500.2 51.8 499.8 54.8 499.8 55.2 499.2 57.8 499.2 58.2 498.8 60.2 498.8 60.8 498.2 62.8 498.2 63.2 497.8 65.2 497.8 65.8 497.2 66.8 497.2 67.2 496.8 68.8 496.8 69.2 496.2 70.2 496.2 70.8 495.8 71.2 495.8 71.8 495.2 72.8 495.2 73.8 494.2 74.2 494.2 74.8 493.8 97.2 493.8 97.8 493.2 125.2 493.2 125.8 492.8 146.8 492.8 147.2 492.2 152.2 492.2 152.8 491.8 154.2 491.8 153.8 491.2 150.8 491.2 150.2 490.8 141.8 490.8 141.2 490.2 114.8 490.2 114.2 489.8 86.8 489.8 86.2 489.2 74.2 489.2 73.2 488.2 72.8 488.2 72.2 487.8 71.8 487.8 71.2 487.2 70.8 487.2 70.2 486.8 69.8 486.8 69.2 486.2 68.2 486.2 67.8 485.8 67.2 485.8 66.8 485.2 65.8 485.2 65.2 484.8 63.8 484.8 63.2 484.2 62.2 484.2 61.8 483.8 60.2 483.8 59.8 483.2 57.8 483.2 57.2 482.8 55.2 482.8 54.8 482.2 52.8 482.2 52.2 481.8 52.2 480.8 53.2 479.8 53.2 479.2 53.8 478.8 53.8 478.2 54.2 477.8 54.2 474.2 53.8 473.8 53.8 473.2 52.8 472.2 52.8 471.8 52.2 471.2 51.8 471.2 50.2 469.8 49.8 469.8 49.2 469.2 48.8 469.2 48.2 468.8 47.2 468.8 46.8 468.2 45.8 468.2 45.2 467.8 43.8 467.8 43.2 467.2 40.2 467.2 39.8 466.8 37.2 466.8 36.8 467.2 35.2 467.2 34.8 467.8 33.8 467.8 32.8 468.8 32.2 468.8 30.8 470.2 30.8 470.8Z" fill="rgb(63,63,63)" fill-rule="evenodd"/><path d="M29.8 484.8 29.8 497.8 30.8 498.8 31.2 498.8 32.2 499.8 33.2 499.8 33.8 500.2 34.8 500.2 35.2 500.8 41.2 500.8 41.8 500.2 46.8 500.2 47.2 499.8 50.8 499.8 51.2 499.2 54.2 499.2 54.8 498.8 57.2 498.8 57.8 498.2 60.2 498.2 60.8 497.8 62.2 497.8 62.8 497.2 64.2 497.2 64.8 496.8 66.2 496.8 66.8 496.2 67.8 496.2 68.2 495.8 69.2 495.8 69.8 495.2 70.8 495.2 71.2 494.8 71.8 494.8 72.8 493.8 81.8 493.8 82.2 493.2 107.8 493.2 108.2 492.8 132.2 492.8 132.8 492.2 146.8 492.2 147.2 491.8 149.2 491.8 148.8 491.2 145.2 491.2 144.8 490.8 123.2 490.8 122.8 490.2 97.8 490.2 97.2 489.8 72.8 489.8 71.2 488.2 70.8 488.2 70.2 487.8 69.8 487.8 69.2 487.2 68.8 487.2 68.2 486.8 67.2 486.8 66.8 486.2 65.8 486.2 65.2 485.8 64.2 485.8 63.8 485.2 62.8 485.2 62.2 484.8 60.8 484.8 60.2 484.2 58.8 484.2 58.2 483.8 56.8 483.8 56.2 483.2 53.8 483.2 53.2 482.8 51.2 482.8 50.8 482.2 47.8 482.2 47.2 481.8 46.8 481.8 46.2 481.2 48.8 478.8 48.8 478.2 49.2 477.8 49.2 476.8 49.8 476.2 49.8 475.8 49.2 475.2 49.2 474.2 48.2 473.2 48.2 472.8 47.8 472.8 46.8 471.8 46.2 471.8 45.8 471.2 45.2 471.2 44.8 470.8 44.2 470.8 43.8 470.2 42.2 470.2 41.8 469.8 36.2 469.8 35.8 470.2 34.8 470.2 32.2 472.8 32.2 473.8 31.8 474.2 31.8 478.2 32.2 478.8 32.2 479.2 32.8 479.8 32.8 480.2 33.8 481.2 32.8 482.2 32.2 482.2Z" fill="rgb(66,66,66)" fill-rule="evenodd"/><path d="M29.8 485.8 29.8 497.2 30.2 497.8 30.8 497.8 31.8 498.8 32.2 498.8 32.8 499.2 33.2 499.2 33.8 499.8 35.2 499.8 35.8 500.2 40.8 500.2 41.2 499.8 46.2 499.8 46.8 499.2 50.2 499.2 50.8 498.8 53.8 498.8 54.2 498.2 56.8 498.2 57.2 497.8 59.8 497.8 60.2 497.2 61.8 497.2 62.2 496.8 63.8 496.8 64.2 496.2 65.8 496.2 66.2 495.8 67.2 495.8 67.8 495.2 68.2 495.2 68.8 494.8 69.8 494.8 70.8 493.8 71.2 493.8 71.8 493.2 92.2 493.2 92.8 492.8 115.2 492.8 115.8 492.2 133.8 492.2 134.2 491.8 143.8 491.8 141.2 491.8 140.8 491.2 127.8 491.2 127.2 490.8 106.8 490.8 106.2 490.2 82.8 490.2 82.2 489.8 71.2 489.8 70.8 489.2 70.2 489.2 69.8 488.8 69.2 488.8 68.2 487.8 67.2 487.8 66.8 487.2 66.2 487.2 65.8 486.8 64.8 486.8 64.2 486.2 63.2 486.2 62.8 485.8 61.8 485.8 61.2 485.2 59.8 485.2 59.2 484.8 57.2 484.8 56.8 484.2 55.2 484.2 54.8 483.8 52.2 483.8 51.8 483.2 49.2 483.2 48.8 482.8 45.8 482.8 45.2 482.2 41.2 482.2 40.8 481.8 35.8 481.8 35.2 482.2 34.2 482.2 33.8 482.8 33.2 482.8 32.8 483.2 32.2 483.2ZM35.8 474.8 35.8 477.2 37.2 478.8 39.2 478.8 39.8 478.2 40.8 478.2 42.2 476.8 42.2 475.2 41.2 474.2 40.8 474.2 40.2 473.8 36.8 473.8Z" fill="rgb(69,69,69)" fill-rule="evenodd"/><path d="M29.8 486.8 29.8 496.2 31.8 498.2 32.2 498.2 32.8 498.8 33.8 498.8 34.2 499.2 35.8 499.2 36.2 499.8 39.8 499.8 40.2 499.2 45.8 499.2 46.2 498.8 50.2 498.8 50.8 498.2 53.8 498.2 54.2 497.8 56.2 497.8 56.8 497.2 59.2 497.2 59.8 496.8 61.2 496.8 61.8 496.2 63.2 496.2 63.8 495.8 64.8 495.8 65.2 495.2 66.2 495.2 66.8 494.8 67.8 494.8 68.2 494.2 68.8 494.2 69.8 493.2 78.2 493.2 78.8 492.8 99.8 492.8 100.2 492.2 116.8 492.2 117.2 491.8 125.8 491.8 123.8 491.8 123.2 491.2 111.2 491.2 110.8 490.8 91.8 490.8 91.2 490.2 69.8 490.2 68.8 489.2 68.2 489.2 67.8 488.8 67.2 488.8 66.8 488.2 66.2 488.2 65.8 487.8 65.2 487.8 64.8 487.2 63.8 487.2 63.2 486.8 62.2 486.8 61.8 486.2 60.2 486.2 59.8 485.8 58.2 485.8 57.8 485.2 56.2 485.2 55.8 484.8 53.8 484.8 53.2 484.2 50.8 484.2 50.2 483.8 47.8 483.8 47.2 483.2 43.8 483.2 43.2 482.8 34.8 482.8 34.2 483.2 33.8 483.2 33.2 483.8 32.8 483.8 31.8 484.8 31.2 484.8 30.2 485.8 30.2 486.2Z" fill="rgb(73,73,73)" fill-rule="evenodd"/><path d="M29.8 487.8 29.8 495.8 31.2 497.2 31.8 497.2 32.2 497.8 32.8 497.8 33.2 498.2 33.8 498.2 34.2 498.8 36.2 498.8 36.8 499.2 39.2 499.2 39.8 498.8 45.2 498.8 45.8 498.2 49.8 498.2 50.2 497.8 53.2 497.8 53.8 497.2 56.2 497.2 56.8 496.8 58.8 496.8 59.2 496.2 60.8 496.2 61.2 495.8 62.8 495.8 63.2 495.2 64.2 495.2 64.8 494.8 65.8 494.8 66.2 494.2 66.8 494.2 67.8 493.2 68.2 493.2 68.8 492.8 85.8 492.8 86.2 492.2 101.8 492.2 102.2 491.8 109.8 491.8 108.2 491.8 107.8 491.2 96.8 491.2 96.2 490.8 78.8 490.8 78.2 490.2 67.8 490.2 66.8 489.2 66.2 489.2 65.8 488.8 65.2 488.8 64.8 488.2 63.8 488.2 63.2 487.8 62.8 487.8 62.2 487.2 61.2 487.2 60.8 486.8 59.2 486.8 58.8 486.2 57.2 486.2 56.8 485.8 55.2 485.8 54.8 485.2 52.2 485.2 51.8 484.8 49.2 484.8 48.8 484.2 45.8 484.2 45.2 483.8 41.2 483.8 40.8 483.2 36.2 483.2 35.8 483.8 34.2 483.8 33.8 484.2 33.2 484.2 32.2 485.2 31.8 485.2 30.2 486.8 30.2 487.2Z" fill="rgb(77,77,77)" fill-rule="evenodd"/><path d="M29.8 488.2 29.8 494.8 30.2 495.2 30.2 495.8 30.8 496.2 31.2 496.2 32.2 497.2 32.8 497.2 33.2 497.8 33.8 497.8 34.2 498.2 36.2 498.2 36.8 498.8 40.2 498.8 40.8 498.2 45.8 498.2 46.2 497.8 50.2 497.8 50.8 497.2 53.2 497.2 53.8 496.8 56.2 496.8 56.8 496.2 58.8 496.2 59.2 495.8 60.8 495.8 61.2 495.2 62.2 495.2 62.8 494.8 63.8 494.8 64.2 494.2 64.8 494.2 65.2 493.8 65.8 493.8 66.8 492.8 73.2 492.8 73.8 492.2 87.8 492.2 88.2 491.8 95.2 491.8 93.8 491.8 93.2 491.2 83.2 491.2 82.8 490.8 66.8 490.8 65.8 489.8 65.2 489.8 64.8 489.2 64.2 489.2 63.8 488.8 63.2 488.8 62.8 488.2 61.8 488.2 61.2 487.8 60.2 487.8 59.8 487.2 58.8 487.2 58.2 486.8 56.8 486.8 56.2 486.2 54.2 486.2 53.8 485.8 51.8 485.8 51.2 485.2 48.8 485.2 48.2 484.8 44.8 484.8 44.2 484.2 35.2 484.2 34.8 484.8 33.8 484.8 33.2 485.2 32.8 485.2Z" fill="rgb(82,82,82)" fill-rule="evenodd"/><path d="M29.8 489.2 29.8 494.2 30.2 494.8 30.2 495.2 31.2 496.2 31.8 496.2 32.8 497.2 33.8 497.2 34.2 497.8 35.2 497.8 35.8 498.2 42.2 498.2 42.8 497.8 47.2 497.8 47.8 497.2 51.2 497.2 51.8 496.8 54.2 496.8 54.8 496.2 56.8 496.2 57.2 495.8 58.8 495.8 59.2 495.2 60.8 495.2 61.2 494.8 62.2 494.8 62.8 494.2 63.2 494.2 63.8 493.8 64.2 493.8 64.8 493.2 65.2 493.2 66.2 492.2 75.2 492.2 75.8 491.8 82.2 491.8 81.2 491.8 80.8 491.2 70.8 491.2 70.2 490.8 65.2 490.8 64.2 489.8 63.8 489.8 63.2 489.2 62.8 489.2 62.2 488.8 61.2 488.8 60.8 488.2 59.8 488.2 59.2 487.8 58.2 487.8 57.8 487.2 56.2 487.2 55.8 486.8 53.8 486.8 53.2 486.2 51.2 486.2 50.8 485.8 48.2 485.8 47.8 485.2 44.2 485.2 43.8 484.8 35.2 484.8 34.8 485.2 33.8 485.2 32.8 486.2 32.2 486.2 30.2 488.2 30.2 488.8Z" fill="rgb(86,86,86)" fill-rule="evenodd"/><path d="M29.8 489.8 29.8 493.8 30.2 494.2 30.2 494.8 31.8 496.2 32.2 496.2 32.8 496.8 33.2 496.8 33.8 497.2 34.8 497.2 35.2 497.8 44.2 497.8 44.8 497.2 48.2 497.2 48.8 496.8 51.8 496.8 52.2 496.2 54.8 496.2 55.2 495.8 57.2 495.8 57.8 495.2 59.2 495.2 59.8 494.8 60.8 494.8 61.2 494.2 61.8 494.2 62.2 493.8 63.2 493.8 65.2 491.8 70.2 491.8 69.2 491.8 68.8 491.2 64.8 491.2 64.2 490.8 63.8 490.8 62.8 489.8 62.2 489.8 61.8 489.2 61.2 489.2 60.8 488.8 59.8 488.8 59.2 488.2 57.8 488.2 57.2 487.8 56.2 487.8 55.8 487.2 53.8 487.2 53.2 486.8 51.2 486.8 50.8 486.2 48.2 486.2 47.8 485.8 44.2 485.8 43.8 485.2 35.2 485.2 34.8 485.8 34.2 485.8 33.8 486.2 33.2 486.2 32.8 486.8 32.2 486.8 30.2 488.8 30.2 489.2Z" fill="rgb(91,91,91)" fill-rule="evenodd"/><path d="M29.8 490.8 29.8 493.2 30.2 493.8 30.2 494.2 31.8 495.8 32.2 495.8 32.8 496.2 33.2 496.2 33.8 496.8 34.2 496.8 34.8 497.2 37.2 497.2 37.8 497.8 39.8 497.8 40.2 497.2 45.8 497.2 46.2 496.8 49.8 496.8 50.2 496.2 52.8 496.2 53.2 495.8 55.2 495.8 55.8 495.2 57.2 495.2 57.8 494.8 59.2 494.8 59.8 494.2 60.8 494.2 61.2 493.8 61.8 493.8 62.8 492.8 63.2 492.8 63.2 491.2 62.2 490.2 61.8 490.2 61.2 489.8 60.8 489.8 60.2 489.2 59.2 489.2 58.8 488.8 57.8 488.8 57.2 488.2 55.8 488.2 55.2 487.8 53.8 487.8 53.2 487.2 51.2 487.2 50.8 486.8 48.2 486.8 47.8 486.2 44.2 486.2 43.8 485.8 35.8 485.8 35.2 486.2 34.2 486.2 33.8 486.8 33.2 486.8 32.8 487.2 32.2 487.2 30.8 488.8 30.8 489.2 30.2 489.8 30.2 490.2Z" fill="rgb(96,96,96)" fill-rule="evenodd"/><path d="M30.2 490.2 30.2 493.2 30.8 493.8 30.8 494.2 31.8 495.2 32.2 495.2 33.2 496.2 34.2 496.2 34.8 496.8 36.2 496.8 36.8 497.2 42.2 497.2 42.8 496.8 47.2 496.8 47.8 496.2 50.8 496.2 51.2 495.8 53.2 495.8 53.8 495.2 55.8 495.2 56.2 494.8 57.8 494.8 58.2 494.2 59.2 494.2 59.8 493.8 60.2 493.8 60.8 493.2 61.2 493.2 62.2 492.2 62.2 491.8 60.8 490.2 60.2 490.2 59.8 489.8 59.2 489.8 58.8 489.2 57.8 489.2 57.2 488.8 55.8 488.8 55.2 488.2 53.8 488.2 53.2 487.8 51.2 487.8 50.8 487.2 48.2 487.2 47.8 486.8 44.2 486.8 43.8 486.2 35.8 486.2 35.2 486.8 34.2 486.8 33.8 487.2 33.2 487.2 32.2 488.2 31.8 488.2 31.2 488.8 31.2 489.2Z" fill="rgb(101,101,101)" fill-rule="evenodd"/><path d="M30.2 491.2 30.2 492.2 30.8 492.8 30.8 493.8 32.2 495.2 32.8 495.2 33.2 495.8 33.8 495.8 34.2 496.2 35.2 496.2 35.8 496.8 44.2 496.8 44.8 496.2 48.2 496.2 48.8 495.8 51.8 495.8 52.2 495.2 54.2 495.2 54.8 494.8 56.2 494.8 56.8 494.2 57.8 494.2 58.2 493.8 59.2 493.8 60.2 492.8 60.8 492.8 60.8 491.2 60.2 490.8 59.8 490.8 59.2 490.2 58.8 490.2 58.2 489.8 57.8 489.8 57.2 489.2 55.8 489.2 55.2 488.8 53.8 488.8 53.2 488.2 51.2 488.2 50.8 487.8 48.8 487.8 48.2 487.2 44.8 487.2 44.2 486.8 35.8 486.8 35.2 487.2 34.2 487.2 33.8 487.8 33.2 487.8 32.2 488.8 31.8 488.8 31.8 489.2 30.8 490.2 30.8 490.8Z" fill="rgb(107,107,107)" fill-rule="evenodd"/><path d="M30.8 491.2 30.8 492.2 31.2 492.8 31.2 493.8 32.2 494.8 32.8 494.8 33.2 495.2 33.8 495.2 34.2 495.8 34.8 495.8 35.2 496.2 37.2 496.2 37.8 496.8 40.2 496.8 40.8 496.2 45.8 496.2 46.2 495.8 49.2 495.8 49.8 495.2 52.2 495.2 52.8 494.8 54.2 494.8 54.8 494.2 56.2 494.2 56.8 493.8 57.2 493.8 57.8 493.2 58.2 493.2 59.2 492.2 59.2 491.2 58.8 490.8 58.2 490.8 57.8 490.2 57.2 490.2 56.8 489.8 55.8 489.8 55.2 489.2 53.8 489.2 53.2 488.8 51.8 488.8 51.2 488.2 48.8 488.2 48.2 487.8 45.2 487.8 44.8 487.2 35.8 487.2 35.2 487.8 34.2 487.8 33.8 488.2 33.2 488.2 31.2 490.2 31.2 490.8Z" fill="rgb(112,112,112)" fill-rule="evenodd"/><path d="M31.2 491.8 31.2 492.2 31.8 492.8 31.8 493.2 33.8 495.2 34.2 495.2 34.8 495.8 36.2 495.8 36.8 496.2 43.2 496.2 43.8 495.8 47.2 495.8 47.8 495.2 50.2 495.2 50.8 494.8 52.2 494.8 52.8 494.2 54.2 494.2 54.8 493.8 55.8 493.8 56.2 493.2 56.8 493.2 57.8 492.2 57.8 491.8 56.8 490.8 56.2 490.8 55.8 490.2 55.2 490.2 54.8 489.8 53.8 489.8 53.2 489.2 51.8 489.2 51.2 488.8 49.2 488.8 48.8 488.2 45.8 488.2 45.2 487.8 41.2 487.8 40.8 487.2 37.8 487.2 37.2 487.8 35.8 487.8 35.2 488.2 34.2 488.2 33.2 489.2 32.8 489.2 32.2 489.8 32.2 490.2 31.8 490.8 31.8 491.2Z" fill="rgb(118,118,118)" fill-rule="evenodd"/><path d="M32.2 490.8 32.2 493.2 33.8 494.8 34.2 494.8 34.8 495.2 35.2 495.2 35.8 495.8 44.8 495.8 45.2 495.2 48.2 495.2 48.8 494.8 50.8 494.8 51.2 494.2 52.2 494.2 52.8 493.8 53.8 493.8 54.2 493.2 54.8 493.2 55.2 492.8 55.8 492.8 56.2 492.2 56.2 491.8 55.2 490.8 54.8 490.8 54.2 490.2 53.2 490.2 52.8 489.8 51.8 489.8 51.2 489.2 49.2 489.2 48.8 488.8 46.8 488.8 46.2 488.2 42.8 488.2 42.2 487.8 37.2 487.8 36.8 488.2 35.2 488.2 34.8 488.8 34.2 488.8Z" fill="rgb(124,124,124)" fill-rule="evenodd"/><path d="M32.8 490.8 32.8 493.2 33.8 494.2 34.2 494.2 34.8 494.8 35.2 494.8 35.8 495.2 36.8 495.2 37.2 495.8 42.2 495.8 42.8 495.2 46.2 495.2 46.8 494.8 48.8 494.8 49.2 494.2 50.8 494.2 51.2 493.8 52.2 493.8 52.8 493.2 53.2 493.2 53.8 492.8 54.2 492.8 54.8 492.2 54.8 491.8 53.8 490.8 52.8 490.8 52.2 490.2 51.8 490.2 51.2 489.8 49.8 489.8 49.2 489.2 47.2 489.2 46.8 488.8 43.8 488.8 43.2 488.2 36.8 488.2 36.2 488.8 35.2 488.8 34.8 489.2 34.2 489.2Z" fill="rgb(131,131,131)" fill-rule="evenodd"/><path d="M33.2 491.2 33.2 492.8 33.8 493.2 33.8 493.8 34.2 494.2 34.8 494.2 35.2 494.8 36.2 494.8 36.8 495.2 44.2 495.2 44.8 494.8 47.2 494.8 47.8 494.2 49.2 494.2 49.8 493.8 50.8 493.8 51.2 493.2 52.2 493.2 53.2 492.2 53.2 491.8 52.2 490.8 51.2 490.8 50.8 490.2 49.8 490.2 49.2 489.8 47.8 489.8 47.2 489.2 44.8 489.2 44.2 488.8 36.2 488.8 35.8 489.2 35.2 489.2 34.8 489.8 34.2 489.8 33.8 490.2 33.8 490.8Z" fill="rgb(137,137,137)" fill-rule="evenodd"/><path d="M33.2 491.8 33.2 492.2 33.8 492.8 33.8 493.2 34.8 494.2 35.2 494.2 35.8 494.8 36.8 494.8 37.2 495.2 42.8 495.2 43.2 494.8 45.8 494.8 46.2 494.2 48.2 494.2 48.8 493.8 49.8 493.8 50.2 493.2 51.2 493.2 52.2 492.2 52.2 491.8 51.2 490.8 50.2 490.8 49.8 490.2 48.8 490.2 48.2 489.8 46.2 489.8 45.8 489.2 43.2 489.2 42.8 488.8 37.2 488.8 36.8 489.2 35.8 489.2 35.2 489.8 34.8 489.8 33.8 490.8 33.8 491.2Z" fill="rgb(144,144,144)" fill-rule="evenodd"/><path d="M33.8 490.8 33.8 493.2 34.2 493.8 34.8 493.8 35.2 494.2 35.8 494.2 36.2 494.8 37.8 494.8 38.2 495.2 41.2 495.2 41.8 494.8 45.2 494.8 45.8 494.2 47.8 494.2 48.2 493.8 49.2 493.8 49.8 493.2 50.8 493.2 51.8 492.2 51.8 491.8 50.8 490.8 49.8 490.8 49.2 490.2 48.2 490.2 47.8 489.8 45.8 489.8 45.2 489.2 41.8 489.2 41.2 488.8 38.2 488.8 37.8 489.2 36.2 489.2 35.8 489.8 35.2 489.8 34.8 490.2 34.2 490.2Z" fill="rgb(151,151,151)" fill-rule="evenodd"/><path d="M33.8 491.2 33.8 492.8 35.2 494.2 36.2 494.2 36.8 494.8 44.2 494.8 44.8 494.2 46.8 494.2 47.2 493.8 48.8 493.8 49.2 493.2 50.2 493.2 51.2 492.2 51.2 491.8 50.2 490.8 49.2 490.8 48.8 490.2 47.2 490.2 46.8 489.8 44.8 489.8 44.2 489.2 36.8 489.2 36.2 489.8 35.2 489.8Z" fill="rgb(158,158,158)" fill-rule="evenodd"/><path d="M33.8 491.2 33.8 492.8 34.8 493.8 35.2 493.8 35.8 494.2 36.2 494.2 36.8 494.8 43.2 494.8 43.8 494.2 46.2 494.2 46.8 493.8 48.2 493.8 48.8 493.2 49.8 493.2 50.8 492.2 50.8 491.8 49.8 490.8 48.8 490.8 48.2 490.2 46.8 490.2 46.2 489.8 43.8 489.8 43.2 489.2 36.8 489.2 36.2 489.8 35.8 489.8 35.2 490.2 34.8 490.2Z" fill="rgb(165,165,165)" fill-rule="evenodd"/><path d="M33.8 491.8 33.8 492.2 34.2 492.8 34.2 493.2 34.8 493.2 35.8 494.2 37.2 494.2 37.8 494.8 42.2 494.8 42.8 494.2 45.2 494.2 45.8 493.8 47.8 493.8 48.2 493.2 49.2 493.2 50.2 492.2 50.2 491.8 49.2 490.8 48.2 490.8 47.8 490.2 45.8 490.2 45.2 489.8 42.8 489.8 42.2 489.2 37.8 489.2 37.2 489.8 35.8 489.8 34.8 490.8 34.2 490.8 34.2 491.2Z" fill="rgb(172,172,172)" fill-rule="evenodd"/><path d="M34.2 491.2 34.2 492.8 35.2 493.8 35.8 493.8 36.2 494.2 37.8 494.2 38.2 494.8 40.8 494.8 41.2 494.2 44.8 494.2 45.2 493.8 46.8 493.8 47.2 493.2 48.2 493.2 48.8 492.8 49.2 492.8 49.8 492.2 49.8 491.8 49.2 491.2 48.8 491.2 48.2 490.8 47.2 490.8 46.8 490.2 45.2 490.2 44.8 489.8 41.2 489.8 40.8 489.2 38.2 489.2 37.8 489.8 36.2 489.8 35.8 490.2 35.2 490.2Z" fill="rgb(180,180,180)" fill-rule="evenodd"/><path d="M34.2 491.2 34.2 492.8 35.2 493.8 36.2 493.8 36.8 494.2 43.8 494.2 44.2 493.8 46.2 493.8 46.8 493.2 48.2 493.2 48.8 492.8 49.2 492.8 49.8 492.2 49.8 491.8 49.2 491.2 48.8 491.2 48.2 490.8 46.8 490.8 46.2 490.2 44.2 490.2 43.8 489.8 36.8 489.8 36.2 490.2 35.2 490.2Z" fill="rgb(187,187,187)" fill-rule="evenodd"/><path d="M34.2 491.8 34.2 492.2 34.8 492.8 34.8 493.2 35.2 493.2 35.8 493.8 36.2 493.8 36.8 494.2 43.2 494.2 43.8 493.8 45.8 493.8 46.2 493.2 47.8 493.2 48.2 492.8 48.8 492.8 49.2 492.2 49.2 491.8 48.8 491.2 48.2 491.2 47.8 490.8 46.2 490.8 45.8 490.2 43.8 490.2 43.2 489.8 36.8 489.8 36.2 490.2 35.8 490.2 35.2 490.8 34.8 490.8 34.8 491.2Z" fill="rgb(195,195,195)" fill-rule="evenodd"/><path d="M34.2 491.8 34.2 492.2 35.8 493.8 36.8 493.8 37.2 494.2 42.2 494.2 42.8 493.8 45.2 493.8 45.8 493.2 47.2 493.2 47.8 492.8 48.2 492.8 48.8 492.2 48.8 491.8 48.2 491.2 47.8 491.2 47.2 490.8 45.8 490.8 45.2 490.2 42.8 490.2 42.2 489.8 37.2 489.8 36.8 490.2 35.8 490.2Z" fill="rgb(203,203,203)" fill-rule="evenodd"/><path d="M34.8 491.2 34.8 492.8 35.2 493.2 35.8 493.2 36.2 493.8 37.2 493.8 37.8 494.2 41.2 494.2 41.8 493.8 44.8 493.8 45.2 493.2 46.8 493.2 47.2 492.8 47.8 492.8 48.2 492.2 48.2 491.8 47.8 491.2 47.2 491.2 46.8 490.8 45.2 490.8 44.8 490.2 41.8 490.2 41.2 489.8 37.8 489.8 37.2 490.2 36.2 490.2 35.8 490.8 35.2 490.8Z" fill="rgb(212,212,212)" fill-rule="evenodd"/><path d="M34.8 491.2 34.8 492.8 35.2 492.8 36.2 493.8 38.2 493.8 38.8 494.2 40.2 494.2 40.8 493.8 44.2 493.8 44.8 493.2 46.2 493.2 46.8 492.8 47.2 492.8 47.8 492.2 47.8 491.8 47.2 491.2 46.8 491.2 46.2 490.8 44.8 490.8 44.2 490.2 40.8 490.2 40.2 489.8 38.8 489.8 38.2 490.2 36.2 490.2 35.2 491.2Z" fill="rgb(220,220,220)" fill-rule="evenodd"/><path d="M35.2 491.8 35.2 492.2 36.2 493.2 37.2 493.2 37.8 493.8 41.8 493.8 42.2 493.2 44.2 493.2 44.8 492.8 45.8 492.8 46.2 492.2 46.2 491.8 45.8 491.2 44.8 491.2 44.2 490.8 42.2 490.8 41.8 490.2 37.8 490.2 37.2 490.8 36.2 490.8Z" fill="rgb(228,228,228)" fill-rule="evenodd"/><path d="M36.2 491.8 36.2 492.2 36.8 492.8 37.2 492.8 37.8 493.2 41.8 493.2 42.2 492.8 43.2 492.8 43.8 492.2 43.8 491.8 43.2 491.2 42.2 491.2 41.8 490.8 37.8 490.8 37.2 491.2 36.8 491.2Z" fill="rgb(237,237,237)" fill-rule="evenodd"/><path d="M37.2 491.8 37.2 492.2 37.8 492.8 41.2 492.8 41.8 492.2 41.8 491.8 41.2 491.2 37.8 491.2Z" fill="rgb(246,246,246)" fill-rule="evenodd"/><path d="M39.2 491.8 39.2 492.2 39.8 492.2 39.8 491.8Z" fill="rgb(255,255,255)" fill-rule="evenodd"/></g></g>
<rect x="29.5" y="434.5" width="171.9" height="112.4" fill="none" stroke="#333" stroke-width="0.9"/>
<path d="M29.5 546.9v1.6M29.5 434.5v-1.6M70.55 546.9v1.6M70.55 434.5v-1.6M111.6 546.9v1.6M111.6 434.5v-1.6M152.65 546.9v1.6M152.65 434.5v-1.6M193.7 546.9v1.6M193.7 434.5v-1.6M29.5 540.75h-1.6M201.4 540.75h1.6M29.5 524.3h-1.6M201.4 524.3h1.6M29.5 507.85h-1.6M201.4 507.85h1.6M29.5 491.4h-1.6M201.4 491.4h1.6M29.5 474.95h-1.6M201.4 474.95h1.6M29.5 458.5h-1.6M201.4 458.5h1.6M29.5 442.05h-1.6M201.4 442.05h1.6" stroke="#333" stroke-width="0.8"/>
<text x="29.5" y="554.3" font-size="6.3" fill="#222" text-anchor="middle" textLength="3.6" lengthAdjust="spacingAndGlyphs" stroke="#222" stroke-width="0.18">0</text>
<text x="70.55" y="554.3" font-size="6.3" fill="#222" text-anchor="middle" textLength="7.2" lengthAdjust="spacingAndGlyphs" stroke="#222" stroke-width="0.18">50</text>
<text x="111.6" y="554.3" font-size="6.3" fill="#222" text-anchor="middle" textLength="10.8" lengthAdjust="spacingAndGlyphs" stroke="#222" stroke-width="0.18">100</text>
<text x="152.65" y="554.3" font-size="6.3" fill="#222" text-anchor="middle" textLength="10.8" lengthAdjust="spacingAndGlyphs" stroke="#222" stroke-width="0.18">150</text>
<text x="193.7" y="554.3" font-size="6.3" fill="#222" text-anchor="middle" textLength="10.8" lengthAdjust="spacingAndGlyphs" stroke="#222" stroke-width="0.18">200</text>
<text x="25.9" y="542.95" font-size="6.3" fill="#222" text-anchor="end" textLength="11.6" lengthAdjust="spacingAndGlyphs" stroke="#222" stroke-width="0.18">-60</text>
<text x="25.9" y="526.5" font-size="6.3" fill="#222" text-anchor="end" textLength="11.6" lengthAdjust="spacingAndGlyphs" stroke="#222" stroke-width="0.18">-40</text>
<text x="25.9" y="510.05" font-size="6.3" fill="#222" text-anchor="end" textLength="11.6" lengthAdjust="spacingAndGlyphs" stroke="#222" stroke-width="0.18">-20</text>
<text x="23" y="493.6" font-size="6.3" fill="#222" text-anchor="end" textLength="3.6" lengthAdjust="spacingAndGlyphs" stroke="#222" stroke-width="0.18">0</text>
<text x="25.9" y="477.15" font-size="6.3" fill="#222" text-anchor="end" textLength="7.8" lengthAdjust="spacingAndGlyphs" stroke="#222" stroke-width="0.18">20</text>
<text x="25.9" y="460.7" font-size="6.3" fill="#222" text-anchor="end" textLength="7.8" lengthAdjust="spacingAndGlyphs" stroke="#222" stroke-width="0.18">40</text>
<text x="25.9" y="444.25" font-size="6.3" fill="#222" text-anchor="end" textLength="7.8" lengthAdjust="spacingAndGlyphs" stroke="#222" stroke-width="0.18">60</text>
<text x="113" y="565.9" font-size="12" fill="#222" text-anchor="middle">B<tspan font-size="8" dy="3">c</tspan><tspan dy="-3"> (mT)</tspan></text>
<text x="12.2" y="496" font-size="12" fill="#222" text-anchor="middle" transform="rotate(-90 12.2 496)">B<tspan font-size="8" dy="3">u</tspan><tspan dy="-3"> (mT)</tspan></text>
<rect x="39.7" y="442" width="20.5" height="19.2" fill="#fff" stroke="#222" stroke-width="0.9"/>
<text x="49.95" y="457.36" font-size="19" fill="#000" text-anchor="middle" stroke="#000" stroke-width="0.55">j</text>
<text x="65.9" y="458.2" font-size="14" fill="#111" textLength="86.8" lengthAdjust="spacingAndGlyphs" stroke="#111" stroke-width="0.3">926R01-02-1</text>
<rect x="205.9" y="450.5" width="3.5" height="79" fill="url(#fjg)" stroke="#333" stroke-width="0.5"/>
<path d="M209.4 456.5h1.5M209.4 467.9h1.5M209.4 479.5h1.5M209.4 491.4h1.5M209.4 503.2h1.5M209.4 514.8h1.5M209.4 526.2h1.5" stroke="#333" stroke-width="0.6"/>
<text x="213.5" y="458.8" font-size="7" fill="#222" textLength="15" lengthAdjust="spacingAndGlyphs" stroke="#222" stroke-width="0.18">1000</text>
<text x="213.5" y="470.2" font-size="7" fill="#222" textLength="11.25" lengthAdjust="spacingAndGlyphs" stroke="#222" stroke-width="0.18">800</text>
<text x="213.5" y="481.8" font-size="7" fill="#222" textLength="11.25" lengthAdjust="spacingAndGlyphs" stroke="#222" stroke-width="0.18">600</text>
<text x="213.5" y="493.7" font-size="7" fill="#222" textLength="11.25" lengthAdjust="spacingAndGlyphs" stroke="#222" stroke-width="0.18">400</text>
<text x="213.5" y="505.5" font-size="7" fill="#222" textLength="11.25" lengthAdjust="spacingAndGlyphs" stroke="#222" stroke-width="0.18">200</text>
<text x="213.5" y="517.1" font-size="7" fill="#222" textLength="3.75" lengthAdjust="spacingAndGlyphs" stroke="#222" stroke-width="0.18">0</text>
<text x="213.5" y="528.5" font-size="7" fill="#222" textLength="15.4" lengthAdjust="spacingAndGlyphs" stroke="#222" stroke-width="0.18">-200</text>
<text x="204" y="447.6" font-size="6" fill="#222" textLength="20.5" lengthAdjust="spacingAndGlyphs">Am<tspan font-size="4" dy="-2">2</tspan><tspan dy="2">/T</tspan><tspan font-size="4" dy="-2">2</tspan></text>
<g clip-path="url(#fkc)"><g filter="url(#fk)"><rect x="255.2" y="431.8" width="177.3" height="117.59999999999997" fill="rgb(51,51,51)"/><path d="M258.4 486.6 258.4 546.0 267.4 546.0 267.4 545.5 267.9 545.0 267.9 542.0 268.4 541.5 268.4 538.0 268.9 537.5 268.9 530.0 269.4 529.5 269.4 520.5 268.9 520.0 268.9 512.5 268.4 512.0 268.4 508.1 267.9 507.6 267.9 505.1 267.4 504.6 267.4 502.1 266.9 501.6 266.9 500.1 266.4 499.6 266.4 498.1 265.9 497.6 265.9 496.1 265.4 495.6 265.4 494.6 264.9 494.1 264.9 493.6 264.4 493.1 264.4 492.1 263.9 491.6 263.9 491.1 263.4 490.6 263.4 490.1 262.4 489.1 262.4 488.6 261.4 487.6 260.9 487.6 259.9 486.6Z" fill="rgb(49,49,49)" fill-rule="evenodd"/><path d="M258.4 504.6 258.4 545.5 259.4 545.5 261.4 543.5 261.4 543.0 261.9 542.5 261.9 541.5 262.4 541.0 262.4 540.0 262.9 539.5 262.9 538.0 263.4 537.5 263.4 535.0 263.9 534.5 263.9 530.5 264.4 530.0 264.4 520.0 263.9 519.5 263.9 515.5 263.4 515.0 263.4 512.5 262.9 512.0 262.9 510.6 262.4 510.1 262.4 509.1 261.9 508.6 261.9 507.6 261.4 507.1 261.4 506.6 260.4 505.6 260.4 505.1 259.9 505.1 259.4 504.6Z" fill="rgb(48,48,48)" fill-rule="evenodd"/><path d="M258.4 461.1 258.4 519.5 258.9 519.5 259.4 520.0 259.9 520.0 260.4 520.5 261.4 520.5 261.9 521.0 262.4 521.0 262.9 521.5 264.4 521.5 264.9 522.0 266.4 522.0 266.9 522.5 270.4 522.5 270.9 523.0 274.4 523.0 274.9 523.5 275.4 523.5 275.9 524.0 276.9 524.0 277.4 524.5 277.9 524.5 278.4 525.0 279.9 525.0 280.4 525.5 281.4 525.5 281.9 526.0 282.9 526.0 283.4 526.5 284.9 526.5 285.4 527.0 286.9 527.0 287.4 527.5 289.4 527.5 289.9 528.0 292.4 528.0 292.9 528.5 295.9 528.5 296.4 529.0 300.4 529.0 300.9 529.5 323.4 529.5 323.9 529.0 330.4 529.0 330.9 528.5 335.9 528.5 336.4 528.0 339.9 528.0 340.4 527.5 343.4 527.5 343.9 527.0 346.9 527.0 347.4 526.5 349.9 526.5 350.4 526.0 352.4 526.0 352.9 525.5 354.9 525.5 355.4 525.0 356.9 525.0 357.4 524.5 359.4 524.5 359.9 524.0 360.9 524.0 361.4 523.5 362.9 523.5 363.4 523.0 364.9 523.0 365.4 522.5 366.4 522.5 366.9 522.0 367.9 522.0 368.4 521.5 369.4 521.5 369.9 521.0 370.9 521.0 371.4 520.5 372.4 520.5 372.9 520.0 373.9 520.0 374.4 519.5 374.9 519.5 375.4 519.0 375.9 519.0 376.4 518.5 377.4 518.5 377.9 518.0 378.4 518.0 378.9 517.5 379.4 517.5 379.9 517.0 380.4 517.0 380.9 516.5 381.4 516.5 382.4 515.5 386.4 515.5 386.9 515.0 390.9 515.0 391.4 514.5 395.4 514.5 395.9 514.0 399.9 514.0 400.4 513.5 403.9 513.5 404.4 513.0 407.9 513.0 408.4 512.5 411.9 512.5 412.4 512.0 415.4 512.0 415.9 511.6 419.4 511.6 419.9 511.1 422.9 511.1 423.4 510.6 425.9 510.6 426.4 510.1 429.4 510.1 429.4 476.1 428.9 476.1 428.4 475.6 424.9 475.6 424.4 475.1 420.9 475.1 420.4 474.6 416.9 474.6 416.4 474.1 412.4 474.1 411.9 473.6 407.9 473.6 407.4 473.1 402.9 473.1 402.4 472.6 398.4 472.6 397.9 472.1 392.9 472.1 392.4 471.6 387.4 471.6 386.9 471.1 381.9 471.1 381.4 470.6 376.4 470.6 375.9 470.1 369.9 470.1 369.4 469.6 363.4 469.6 362.9 469.1 356.9 469.1 356.4 468.6 349.4 468.6 348.9 468.1 341.9 468.1 341.4 467.6 333.9 467.6 333.4 467.1 329.4 467.1 328.9 466.6 328.4 466.6 327.9 466.1 326.9 466.1 326.4 465.6 325.4 465.6 324.9 465.1 323.9 465.1 323.4 464.6 322.4 464.6 321.9 464.1 320.9 464.1 320.4 463.6 318.9 463.6 318.4 463.1 316.9 463.1 316.4 462.6 314.9 462.6 314.4 462.1 312.4 462.1 311.9 461.6 309.9 461.6 309.4 461.1 306.9 461.1 306.4 460.6 303.9 460.6 303.4 460.1 300.4 460.1 299.9 459.6 295.9 459.6 295.4 459.1 289.9 459.1 289.4 458.6 277.4 458.6 276.9 458.1 274.4 458.1 273.9 458.6 267.9 458.6 267.4 459.1 265.4 459.1 264.9 459.6 263.4 459.6 262.9 460.1 261.4 460.1 260.9 460.6 259.9 460.6 259.4 461.1Z" fill="rgb(52,52,52)" fill-rule="evenodd"/><path d="M258.4 466.6 258.4 512.5 258.9 513.0 259.4 513.0 259.9 513.5 260.4 513.5 261.4 514.5 261.9 514.5 262.4 515.0 263.4 515.0 263.9 515.5 264.9 515.5 265.4 516.0 266.4 516.0 266.9 516.5 269.4 516.5 269.9 517.0 277.4 517.0 277.9 517.5 278.4 517.5 278.9 518.0 279.4 518.0 279.9 518.5 280.9 518.5 281.4 519.0 281.9 519.0 282.4 519.5 283.4 519.5 283.9 520.0 284.4 520.0 284.9 520.5 286.4 520.5 286.9 521.0 287.9 521.0 288.4 521.5 289.9 521.5 290.4 522.0 291.9 522.0 292.4 522.5 294.4 522.5 294.9 523.0 297.4 523.0 297.9 523.5 301.9 523.5 302.4 524.0 321.4 524.0 321.9 523.5 327.9 523.5 328.4 523.0 332.4 523.0 332.9 522.5 336.4 522.5 336.9 522.0 339.4 522.0 339.9 521.5 342.4 521.5 342.9 521.0 344.9 521.0 345.4 520.5 347.4 520.5 347.9 520.0 349.4 520.0 349.9 519.5 351.4 519.5 351.9 519.0 353.4 519.0 353.9 518.5 354.9 518.5 355.4 518.0 356.4 518.0 356.9 517.5 357.9 517.5 358.4 517.0 359.4 517.0 359.9 516.5 360.9 516.5 361.4 516.0 361.9 516.0 362.4 515.5 363.4 515.5 363.9 515.0 364.4 515.0 364.9 514.5 365.4 514.5 365.9 514.0 366.4 514.0 366.9 513.5 367.4 513.5 368.4 512.5 368.9 512.5 369.4 512.0 369.9 512.0 371.4 510.6 371.9 510.6 373.9 508.6 376.4 508.6 376.9 508.1 379.4 508.1 379.9 507.6 382.9 507.6 383.4 507.1 385.9 507.1 386.4 506.6 388.9 506.6 389.4 506.1 391.9 506.1 392.4 505.6 394.4 505.6 394.9 505.1 396.9 505.1 397.4 504.6 399.4 504.6 399.9 504.1 401.9 504.1 402.4 503.6 404.4 503.6 404.9 503.1 406.4 503.1 406.9 502.6 408.4 502.6 408.9 502.1 410.4 502.1 410.9 501.6 412.4 501.6 412.9 501.1 413.9 501.1 414.4 500.6 415.9 500.6 416.4 500.1 417.4 500.1 417.9 499.6 418.9 499.6 419.4 499.1 420.4 499.1 420.9 498.6 421.4 498.6 421.9 498.1 422.9 498.1 423.4 497.6 423.9 497.6 424.4 497.1 424.9 497.1 425.4 496.6 425.9 496.6 426.9 495.6 427.4 495.6 428.4 494.6 429.4 494.6 429.4 487.6 425.9 487.6 425.4 487.1 424.9 487.1 424.4 486.6 423.4 486.6 422.9 486.1 422.4 486.1 421.9 485.6 420.9 485.6 420.4 485.1 418.9 485.1 418.4 484.6 417.4 484.6 416.9 484.1 415.4 484.1 414.9 483.6 413.4 483.6 412.9 483.1 411.4 483.1 410.9 482.6 408.9 482.6 408.4 482.1 406.4 482.1 405.9 481.6 403.9 481.6 403.4 481.1 401.4 481.1 400.9 480.6 398.4 480.6 397.9 480.1 395.4 480.1 394.9 479.6 391.9 479.6 391.4 479.1 388.4 479.1 387.9 478.6 384.9 478.6 384.4 478.1 381.4 478.1 380.9 477.6 377.4 477.6 376.9 477.1 373.4 477.1 372.9 476.6 368.9 476.6 368.4 476.1 364.4 476.1 363.9 475.6 359.4 475.6 358.9 475.1 354.4 475.1 353.9 474.6 349.4 474.6 348.9 474.1 343.4 474.1 342.9 473.6 337.4 473.6 336.9 473.1 330.9 473.1 330.4 472.6 324.4 472.6 323.9 472.1 322.9 472.1 322.4 471.6 321.9 471.6 321.4 471.1 320.9 471.1 320.4 470.6 319.9 470.6 319.4 470.1 318.9 470.1 318.4 469.6 317.4 469.6 316.9 469.1 316.4 469.1 315.9 468.6 314.9 468.6 314.4 468.1 313.4 468.1 312.9 467.6 311.9 467.6 311.4 467.1 309.9 467.1 309.4 466.6 307.9 466.6 307.4 466.1 305.9 466.1 305.4 465.6 303.4 465.6 302.9 465.1 300.4 465.1 299.9 464.6 297.4 464.6 296.9 464.1 293.4 464.1 292.9 463.6 287.9 463.6 287.4 463.1 268.9 463.1 268.4 463.6 266.4 463.6 265.9 464.1 264.9 464.1 264.4 464.6 262.9 464.6 262.4 465.1 261.9 465.1 261.4 465.6 260.4 465.6 259.9 466.1 259.4 466.1 258.9 466.6Z" fill="rgb(53,53,53)" fill-rule="evenodd"/><path d="M258.4 471.1 258.4 508.6 258.9 508.6 260.4 510.1 260.9 510.1 261.9 511.1 262.4 511.1 262.9 511.6 263.4 511.6 263.9 512.0 264.9 512.0 265.4 512.5 266.4 512.5 266.9 513.0 268.4 513.0 268.9 513.5 281.4 513.5 281.9 514.0 282.4 514.0 282.9 514.5 283.4 514.5 283.9 515.0 284.4 515.0 284.9 515.5 285.4 515.5 285.9 516.0 286.4 516.0 286.9 516.5 287.9 516.5 288.4 517.0 289.4 517.0 289.9 517.5 290.9 517.5 291.4 518.0 292.9 518.0 293.4 518.5 294.9 518.5 295.4 519.0 297.4 519.0 297.9 519.5 300.9 519.5 301.4 520.0 308.4 520.0 308.9 520.5 311.9 520.5 312.4 520.0 322.9 520.0 323.4 519.5 327.9 519.5 328.4 519.0 331.9 519.0 332.4 518.5 334.9 518.5 335.4 518.0 337.9 518.0 338.4 517.5 339.9 517.5 340.4 517.0 342.4 517.0 342.9 516.5 344.4 516.5 344.9 516.0 345.9 516.0 346.4 515.5 347.9 515.5 348.4 515.0 349.4 515.0 349.9 514.5 350.9 514.5 351.4 514.0 351.9 514.0 352.4 513.5 353.4 513.5 353.9 513.0 354.4 513.0 354.9 512.5 355.4 512.5 355.9 512.0 356.4 512.0 356.9 511.6 357.4 511.6 357.9 511.1 358.4 511.1 359.4 510.1 359.9 510.1 360.9 509.1 361.4 509.1 363.9 506.6 363.9 506.1 364.9 505.1 365.4 505.1 365.9 504.6 367.9 504.6 368.4 504.1 370.9 504.1 371.4 503.6 373.4 503.6 373.9 503.1 375.9 503.1 376.4 502.6 377.9 502.6 378.4 502.1 379.9 502.1 380.4 501.6 382.4 501.6 382.9 501.1 383.9 501.1 384.4 500.6 385.9 500.6 386.4 500.1 387.9 500.1 388.4 499.6 389.4 499.6 389.9 499.1 390.9 499.1 391.4 498.6 392.4 498.6 392.9 498.1 393.4 498.1 393.9 497.6 394.9 497.6 395.4 497.1 395.9 497.1 396.4 496.6 396.9 496.6 397.4 496.1 397.9 496.1 398.9 495.1 399.4 495.1 400.4 494.1 429.4 494.1 429.4 488.1 397.9 488.1 397.4 487.6 396.9 487.6 396.4 487.1 395.9 487.1 395.4 486.6 394.4 486.6 393.9 486.1 392.9 486.1 392.4 485.6 391.4 485.6 390.9 485.1 389.4 485.1 388.9 484.6 387.4 484.6 386.9 484.1 385.4 484.1 384.9 483.6 383.4 483.6 382.9 483.1 380.9 483.1 380.4 482.6 378.4 482.6 377.9 482.1 375.4 482.1 374.9 481.6 372.9 481.6 372.4 481.1 369.9 481.1 369.4 480.6 366.4 480.6 365.9 480.1 362.9 480.1 362.4 479.6 359.4 479.6 358.9 479.1 355.4 479.1 354.9 478.6 351.4 478.6 350.9 478.1 347.4 478.1 346.9 477.6 342.4 477.6 341.9 477.1 337.9 477.1 337.4 476.6 332.4 476.6 331.9 476.1 326.9 476.1 326.4 475.6 320.9 475.6 320.4 475.1 316.4 475.1 315.4 474.1 314.9 474.1 314.4 473.6 313.9 473.6 312.9 472.6 312.4 472.6 311.9 472.1 310.9 472.1 310.4 471.6 309.9 471.6 309.4 471.1 308.4 471.1 307.9 470.6 306.9 470.6 306.4 470.1 305.4 470.1 304.9 469.6 303.9 469.6 303.4 469.1 301.9 469.1 301.4 468.6 299.4 468.6 298.9 468.1 296.9 468.1 296.4 467.6 293.9 467.6 293.4 467.1 289.9 467.1 289.4 466.6 284.4 466.6 283.9 466.1 270.9 466.1 270.4 466.6 267.9 466.6 267.4 467.1 266.4 467.1 265.9 467.6 264.9 467.6 264.4 468.1 263.4 468.1 262.9 468.6 262.4 468.6 261.9 469.1 261.4 469.1 260.9 469.6 260.4 469.6 258.9 471.1Z" fill="rgb(55,55,55)" fill-rule="evenodd"/><path d="M258.4 476.6 258.4 505.1 261.4 508.1 261.9 508.1 262.9 509.1 263.4 509.1 263.9 509.6 264.4 509.6 264.9 510.1 265.9 510.1 266.4 510.6 267.4 510.6 267.9 511.1 270.9 511.1 271.4 511.6 273.4 511.6 273.9 511.1 285.4 511.1 285.9 511.6 286.4 511.6 287.4 512.5 287.9 512.5 288.4 513.0 289.4 513.0 289.9 513.5 290.4 513.5 290.9 514.0 291.9 514.0 292.4 514.5 293.4 514.5 293.9 515.0 294.9 515.0 295.4 515.5 296.9 515.5 297.4 516.0 299.4 516.0 299.9 516.5 302.9 516.5 303.4 517.0 320.4 517.0 320.9 516.5 325.4 516.5 325.9 516.0 328.9 516.0 329.4 515.5 331.9 515.5 332.4 515.0 334.4 515.0 334.9 514.5 336.9 514.5 337.4 514.0 338.9 514.0 339.4 513.5 340.4 513.5 340.9 513.0 341.9 513.0 342.4 512.5 343.4 512.5 343.9 512.0 344.9 512.0 345.4 511.6 345.9 511.6 346.4 511.1 347.4 511.1 347.9 510.6 348.4 510.6 348.9 510.1 349.4 510.1 350.4 509.1 350.9 509.1 351.4 508.6 351.9 508.6 354.9 505.6 354.9 505.1 355.4 504.6 355.4 504.1 355.9 503.6 355.9 503.1 356.4 502.6 357.9 502.6 358.4 502.1 360.4 502.1 360.9 501.6 362.4 501.6 362.9 501.1 364.4 501.1 364.9 500.6 366.4 500.6 366.9 500.1 368.4 500.1 368.9 499.6 370.4 499.6 370.9 499.1 371.9 499.1 372.4 498.6 373.4 498.6 373.9 498.1 374.9 498.1 375.4 497.6 375.9 497.6 376.4 497.1 376.9 497.1 377.4 496.6 378.4 496.6 378.9 496.1 379.4 496.1 380.4 495.1 380.9 495.1 382.4 493.6 429.4 493.6 429.4 488.6 394.9 488.6 394.4 488.1 379.4 488.1 378.9 487.6 378.4 487.6 377.9 487.1 376.9 487.1 376.4 486.6 375.4 486.6 374.9 486.1 373.9 486.1 373.4 485.6 372.4 485.6 371.9 485.1 370.4 485.1 369.9 484.6 368.4 484.6 367.9 484.1 365.9 484.1 365.4 483.6 363.4 483.6 362.9 483.1 360.9 483.1 360.4 482.6 358.4 482.6 357.9 482.1 355.4 482.1 354.9 481.6 352.4 481.6 351.9 481.1 348.9 481.1 348.4 480.6 345.4 480.6 344.9 480.1 341.4 480.1 340.9 479.6 337.4 479.6 336.9 479.1 332.9 479.1 332.4 478.6 328.4 478.6 327.9 478.1 323.4 478.1 322.9 477.6 317.9 477.6 317.4 477.1 312.4 477.1 311.9 476.6 309.4 476.6 307.9 475.1 307.4 475.1 306.9 474.6 306.4 474.6 305.9 474.1 305.4 474.1 304.9 473.6 304.4 473.6 303.9 473.1 303.4 473.1 302.9 472.6 301.9 472.6 301.4 472.1 300.4 472.1 299.9 471.6 298.4 471.6 297.9 471.1 296.4 471.1 295.9 470.6 293.9 470.6 293.4 470.1 291.4 470.1 290.9 469.6 287.4 469.6 286.9 469.1 281.9 469.1 281.4 468.6 271.9 468.6 271.4 469.1 269.4 469.1 268.9 469.6 267.4 469.6 266.9 470.1 265.9 470.1 265.4 470.6 264.9 470.6 264.4 471.1 263.9 471.1 262.9 472.1 262.4 472.1 260.9 473.6 260.4 473.6 260.4 474.1 258.9 475.6 258.9 476.1Z" fill="rgb(57,57,57)" fill-rule="evenodd"/><path d="M258.4 482.1 258.4 502.6 258.9 503.1 258.9 503.6 261.4 506.1 261.9 506.1 262.9 507.1 263.4 507.1 263.9 507.6 264.4 507.6 264.9 508.1 265.4 508.1 265.9 508.6 266.4 508.6 266.9 509.1 268.4 509.1 268.9 509.6 280.9 509.6 281.4 509.1 289.4 509.1 289.9 509.6 290.4 509.6 290.9 510.1 291.4 510.1 292.4 511.1 293.4 511.1 293.9 511.6 294.4 511.6 294.9 512.0 295.9 512.0 296.4 512.5 297.4 512.5 297.9 513.0 299.4 513.0 299.9 513.5 302.4 513.5 302.9 514.0 307.4 514.0 307.9 514.5 313.4 514.5 313.9 514.0 320.9 514.0 321.4 513.5 324.9 513.5 325.4 513.0 327.9 513.0 328.4 512.5 330.4 512.5 330.9 512.0 332.4 512.0 332.9 511.6 334.4 511.6 334.9 511.1 335.9 511.1 336.4 510.6 337.4 510.6 337.9 510.1 338.9 510.1 339.4 509.6 339.9 509.6 340.4 509.1 340.9 509.1 341.4 508.6 341.9 508.6 342.4 508.1 342.9 508.1 343.4 507.6 343.9 507.6 346.9 504.6 346.9 504.1 347.4 503.6 347.4 502.1 348.4 501.1 350.4 501.1 350.9 500.6 352.4 500.6 352.9 500.1 354.4 500.1 354.9 499.6 356.4 499.6 356.9 499.1 357.9 499.1 358.4 498.6 359.4 498.6 359.9 498.1 360.9 498.1 361.4 497.6 362.4 497.6 362.9 497.1 363.4 497.1 363.9 496.6 364.9 496.6 365.4 496.1 365.9 496.1 366.4 495.6 366.9 495.6 367.9 494.6 368.4 494.6 369.4 493.6 406.9 493.6 407.4 493.1 429.4 493.1 429.4 489.1 421.9 489.1 421.4 488.6 367.4 488.6 366.9 488.1 365.9 488.1 365.4 487.6 364.9 487.6 364.4 487.1 363.4 487.1 362.9 486.6 361.9 486.6 361.4 486.1 360.4 486.1 359.9 485.6 358.4 485.6 357.9 485.1 356.4 485.1 355.9 484.6 354.4 484.6 353.9 484.1 351.9 484.1 351.4 483.6 349.4 483.6 348.9 483.1 346.4 483.1 345.9 482.6 343.4 482.6 342.9 482.1 340.4 482.1 339.9 481.6 336.9 481.6 336.4 481.1 333.4 481.1 332.9 480.6 329.4 480.6 328.9 480.1 324.9 480.1 324.4 479.6 320.4 479.6 319.9 479.1 315.4 479.1 314.9 478.6 310.4 478.6 309.9 478.1 304.4 478.1 303.9 477.6 302.4 477.6 300.9 476.1 300.4 476.1 299.9 475.6 299.4 475.6 298.9 475.1 298.4 475.1 297.9 474.6 296.9 474.6 296.4 474.1 295.9 474.1 295.4 473.6 293.9 473.6 293.4 473.1 291.9 473.1 291.4 472.6 289.9 472.6 289.4 472.1 286.4 472.1 285.9 471.6 281.9 471.6 281.4 471.1 271.9 471.1 271.4 471.6 269.9 471.6 269.4 472.1 268.4 472.1 267.9 472.6 266.9 472.6 266.4 473.1 265.9 473.1 264.4 474.6 263.9 474.6 262.9 475.6 262.9 476.1 261.9 477.1 261.9 478.1 261.4 478.6 261.4 479.1Z" fill="rgb(60,60,60)" fill-rule="evenodd"/><path d="M258.4 484.1 258.4 500.6 259.4 501.6 259.4 502.1 262.9 505.6 263.4 505.6 263.9 506.1 264.4 506.1 264.9 506.6 265.4 506.6 265.9 507.1 266.4 507.1 266.9 507.6 267.9 507.6 268.4 508.1 282.9 508.1 283.4 507.6 289.9 507.6 290.4 507.1 293.4 507.1 293.9 507.6 294.4 507.6 294.9 508.1 295.4 508.1 295.9 508.6 296.4 508.6 296.9 509.1 297.4 509.1 297.9 509.6 298.9 509.6 299.4 510.1 300.4 510.1 300.9 510.6 302.4 510.6 302.9 511.1 305.9 511.1 306.4 511.6 315.9 511.6 316.4 511.1 320.9 511.1 321.4 510.6 323.9 510.6 324.4 510.1 326.4 510.1 326.9 509.6 328.4 509.6 328.9 509.1 329.9 509.1 330.4 508.6 331.4 508.6 331.9 508.1 332.9 508.1 333.4 507.6 333.9 507.6 334.4 507.1 334.9 507.1 335.9 506.1 336.4 506.1 338.4 504.1 338.4 503.6 338.9 503.1 338.9 501.1 339.4 500.6 341.4 500.6 341.9 500.1 343.4 500.1 343.9 499.6 345.4 499.6 345.9 499.1 346.9 499.1 347.4 498.6 348.9 498.6 349.4 498.1 350.4 498.1 350.9 497.6 351.9 497.6 352.4 497.1 352.9 497.1 353.4 496.6 354.4 496.6 354.9 496.1 355.4 496.1 355.9 495.6 356.4 495.6 357.4 494.6 357.9 494.6 358.9 493.6 368.9 493.6 369.4 493.1 429.4 493.1 429.4 489.1 382.9 489.1 382.4 488.6 356.9 488.6 356.4 488.1 355.9 488.1 355.4 487.6 354.4 487.6 353.9 487.1 352.9 487.1 352.4 486.6 351.4 486.6 350.9 486.1 349.4 486.1 348.9 485.6 347.4 485.6 346.9 485.1 345.4 485.1 344.9 484.6 342.9 484.6 342.4 484.1 340.4 484.1 339.9 483.6 337.9 483.6 337.4 483.1 334.9 483.1 334.4 482.6 331.9 482.6 331.4 482.1 328.4 482.1 327.9 481.6 324.4 481.6 323.9 481.1 320.4 481.1 319.9 480.6 316.4 480.6 315.9 480.1 311.4 480.1 310.9 479.6 306.4 479.6 305.9 479.1 300.4 479.1 299.9 478.6 294.9 478.6 293.4 477.1 292.9 477.1 292.4 476.6 291.9 476.6 291.4 476.1 290.4 476.1 289.9 475.6 288.9 475.6 288.4 475.1 286.9 475.1 286.4 474.6 284.4 474.6 283.9 474.1 279.9 474.1 279.4 473.6 272.9 473.6 272.4 474.1 270.9 474.1 270.4 474.6 269.4 474.6 268.9 475.1 268.4 475.1 265.9 477.6 265.9 478.1 265.4 478.6 264.9 478.6 264.4 479.1 263.9 479.1 263.4 479.6 262.9 479.6 261.4 481.1 260.9 481.1 259.4 482.6 259.4 483.1Z" fill="rgb(63,63,63)" fill-rule="evenodd"/><path d="M258.4 485.1 258.4 499.6 259.4 500.6 259.4 501.1 262.9 504.6 263.4 504.6 263.9 505.1 264.4 505.1 264.9 505.6 265.4 505.6 265.9 506.1 266.4 506.1 266.9 506.6 267.9 506.6 268.4 507.1 271.4 507.1 271.9 507.6 272.4 507.6 272.9 507.1 283.4 507.1 283.9 506.6 290.4 506.6 290.9 506.1 296.4 506.1 296.9 505.6 299.4 505.6 299.9 506.1 300.4 506.1 300.9 506.6 301.4 506.6 301.9 507.1 302.9 507.1 303.4 507.6 304.9 507.6 305.4 508.1 316.9 508.1 317.4 507.6 319.9 507.6 320.4 507.1 321.9 507.1 322.4 506.6 323.4 506.6 323.9 506.1 324.9 506.1 325.4 505.6 325.9 505.6 326.4 505.1 326.9 505.1 327.9 504.1 328.4 504.1 328.4 503.6 328.9 503.1 328.9 502.6 329.9 501.6 330.4 501.6 330.9 501.1 332.9 501.1 333.4 500.6 335.4 500.6 335.9 500.1 337.9 500.1 338.4 499.6 339.9 499.6 340.4 499.1 341.9 499.1 342.4 498.6 343.4 498.6 343.9 498.1 345.4 498.1 345.9 497.6 346.9 497.6 347.4 497.1 348.4 497.1 348.9 496.6 349.4 496.6 349.9 496.1 350.9 496.1 351.4 495.6 351.9 495.6 352.9 494.6 353.4 494.6 354.9 493.1 401.4 493.1 401.9 492.6 429.4 492.6 429.4 489.6 414.9 489.6 414.4 489.1 353.4 489.1 352.9 488.6 352.4 488.6 351.9 488.1 350.9 488.1 350.4 487.6 349.4 487.6 348.9 487.1 347.9 487.1 347.4 486.6 346.4 486.6 345.9 486.1 344.4 486.1 343.9 485.6 342.4 485.6 341.9 485.1 339.9 485.1 339.4 484.6 337.4 484.6 336.9 484.1 334.4 484.1 333.9 483.6 331.4 483.6 330.9 483.1 328.4 483.1 327.9 482.6 324.9 482.6 324.4 482.1 320.9 482.1 320.4 481.6 316.9 481.6 316.4 481.1 312.4 481.1 311.9 480.6 307.4 480.6 306.9 480.1 301.9 480.1 301.4 479.6 295.9 479.6 295.4 479.1 288.4 479.1 287.9 478.6 282.9 478.6 282.4 478.1 281.4 478.1 280.9 477.6 278.4 477.6 277.9 477.1 273.4 477.1 272.9 477.6 272.4 477.6 271.9 478.1 269.4 478.1 268.9 478.6 267.4 478.6 266.9 479.1 265.9 479.1 265.4 479.6 264.9 479.6 264.4 480.1 263.9 480.1 263.4 480.6 262.9 480.6 261.9 481.6 261.4 481.6 258.9 484.1 258.9 484.6Z" fill="rgb(66,66,66)" fill-rule="evenodd"/><path d="M258.4 485.6 258.4 498.1 258.9 498.6 258.9 499.1 259.4 499.6 259.4 500.1 262.9 503.6 263.4 503.6 263.9 504.1 264.4 504.1 264.9 504.6 265.4 504.6 265.9 505.1 266.4 505.1 266.9 505.6 267.9 505.6 268.4 506.1 271.4 506.1 271.9 506.6 272.9 506.6 273.4 506.1 283.4 506.1 283.9 505.6 290.4 505.6 290.9 505.1 296.4 505.1 296.9 504.6 301.4 504.6 301.9 504.1 305.9 504.1 306.4 503.6 309.9 503.6 310.4 503.1 313.9 503.1 314.4 502.6 317.4 502.6 317.9 502.1 320.9 502.1 321.4 501.6 323.9 501.6 324.4 501.1 326.9 501.1 327.4 500.6 329.4 500.6 329.9 500.1 331.9 500.1 332.4 499.6 334.4 499.6 334.9 499.1 336.4 499.1 336.9 498.6 338.4 498.6 338.9 498.1 339.9 498.1 340.4 497.6 341.9 497.6 342.4 497.1 343.4 497.1 343.9 496.6 344.9 496.6 345.4 496.1 345.9 496.1 346.4 495.6 346.9 495.6 347.4 495.1 347.9 495.1 348.4 494.6 348.9 494.6 350.4 493.1 369.4 493.1 369.9 492.6 429.4 492.6 429.4 489.6 382.4 489.6 381.9 489.1 348.4 489.1 347.9 488.6 347.4 488.6 346.9 488.1 345.9 488.1 345.4 487.6 344.4 487.6 343.9 487.1 342.9 487.1 342.4 486.6 340.9 486.6 340.4 486.1 338.9 486.1 338.4 485.6 336.4 485.6 335.9 485.1 333.9 485.1 333.4 484.6 331.4 484.6 330.9 484.1 327.9 484.1 327.4 483.6 324.9 483.6 324.4 483.1 321.4 483.1 320.9 482.6 317.4 482.6 316.9 482.1 312.9 482.1 312.4 481.6 308.4 481.6 307.9 481.1 302.9 481.1 302.4 480.6 296.9 480.6 296.4 480.1 290.4 480.1 289.9 479.6 281.9 479.6 281.4 479.1 268.9 479.1 268.4 479.6 266.9 479.6 266.4 480.1 265.4 480.1 264.9 480.6 264.4 480.6 263.9 481.1 263.4 481.1 262.4 482.1 261.9 482.1Z" fill="rgb(69,69,69)" fill-rule="evenodd"/><path d="M258.4 486.6 258.4 497.1 258.9 497.6 258.9 498.1 259.4 498.6 259.4 499.1 262.4 502.1 262.9 502.1 263.9 503.1 264.4 503.1 264.9 503.6 265.4 503.6 265.9 504.1 266.4 504.1 266.9 504.6 267.9 504.6 268.4 505.1 283.4 505.1 283.9 504.6 290.4 504.6 290.9 504.1 295.9 504.1 296.4 503.6 300.9 503.6 301.4 503.1 305.4 503.1 305.9 502.6 309.4 502.6 309.9 502.1 313.4 502.1 313.9 501.6 316.9 501.6 317.4 501.1 319.9 501.1 320.4 500.6 322.9 500.6 323.4 500.1 325.9 500.1 326.4 499.6 328.4 499.6 328.9 499.1 330.4 499.1 330.9 498.6 332.9 498.6 333.4 498.1 334.9 498.1 335.4 497.6 336.4 497.6 336.9 497.1 337.9 497.1 338.4 496.6 339.4 496.6 339.9 496.1 340.9 496.1 341.4 495.6 342.4 495.6 342.9 495.1 343.4 495.1 344.4 494.1 344.9 494.1 346.4 492.6 399.9 492.6 400.4 492.1 429.4 492.1 429.4 490.1 411.9 490.1 411.4 489.6 352.9 489.6 352.4 489.1 343.9 489.1 343.4 488.6 342.4 488.6 341.9 488.1 340.9 488.1 340.4 487.6 339.4 487.6 338.9 487.1 337.4 487.1 336.9 486.6 335.4 486.6 334.9 486.1 333.4 486.1 332.9 485.6 330.4 485.6 329.9 485.1 327.9 485.1 327.4 484.6 324.9 484.6 324.4 484.1 321.4 484.1 320.9 483.6 317.4 483.6 316.9 483.1 313.4 483.1 312.9 482.6 308.9 482.6 308.4 482.1 303.9 482.1 303.4 481.6 298.4 481.6 297.9 481.1 291.9 481.1 291.4 480.6 283.9 480.6 283.4 480.1 268.4 480.1 267.9 480.6 266.9 480.6 266.4 481.1 265.4 481.1 264.9 481.6 264.4 481.6 263.9 482.1 263.4 482.1 262.9 482.6 262.4 482.6 260.9 484.1 260.4 484.1 259.9 484.6 259.9 485.1Z" fill="rgb(73,73,73)" fill-rule="evenodd"/><path d="M258.4 496.1 258.9 496.6 258.9 497.1 259.4 497.6 259.4 498.1 262.9 501.6 263.4 501.6 263.9 502.1 264.4 502.1 264.9 502.6 265.4 502.6 265.9 503.1 266.4 503.1 266.9 503.6 268.4 503.6 268.9 504.1 283.4 504.1 283.9 503.6 290.4 503.6 290.9 503.1 295.9 503.1 296.4 502.6 300.9 502.6 301.4 502.1 304.9 502.1 305.4 501.6 308.9 501.6 309.4 501.1 312.9 501.1 313.4 500.6 315.9 500.6 316.4 500.1 318.9 500.1 319.4 499.6 321.9 499.6 322.4 499.1 324.4 499.1 324.9 498.6 326.9 498.6 327.4 498.1 328.9 498.1 329.4 497.6 330.9 497.6 331.4 497.1 332.9 497.1 333.4 496.6 334.4 496.6 334.9 496.1 335.9 496.1 336.4 495.6 337.4 495.6 337.9 495.1 338.4 495.1 338.9 494.6 339.4 494.6 339.9 494.1 340.4 494.1 341.9 492.6 371.4 492.6 371.9 492.1 422.4 492.1 422.9 491.6 429.4 491.6 429.4 490.1 382.9 490.1 382.4 489.6 340.4 489.6 339.9 489.1 338.9 489.1 338.4 488.6 337.9 488.6 337.4 488.1 335.9 488.1 335.4 487.6 334.4 487.6 333.9 487.1 332.4 487.1 331.9 486.6 329.9 486.6 329.4 486.1 327.4 486.1 326.9 485.6 324.4 485.6 323.9 485.1 321.4 485.1 320.9 484.6 317.9 484.6 317.4 484.1 313.9 484.1 313.4 483.6 309.9 483.6 309.4 483.1 304.9 483.1 304.4 482.6 299.4 482.6 298.9 482.1 293.4 482.1 292.9 481.6 285.9 481.6 285.4 481.1 274.9 481.1 274.4 480.6 271.9 480.6 271.4 481.1 268.4 481.1 267.9 481.6 266.4 481.6 265.9 482.1 264.9 482.1 264.4 482.6 263.9 482.6 263.4 483.1 262.9 483.1 261.9 484.1 261.4 484.1 259.4 486.1 259.4 486.6 258.4 487.6Z" fill="rgb(77,77,77)" fill-rule="evenodd"/><path d="M258.4 495.1 258.9 495.6 258.9 496.1 259.4 496.6 259.4 497.1 262.9 500.6 263.4 500.6 264.4 501.6 264.9 501.6 265.4 502.1 266.4 502.1 266.9 502.6 267.9 502.6 268.4 503.1 270.4 503.1 270.9 503.6 276.9 503.6 277.4 503.1 285.4 503.1 285.9 502.6 291.9 502.6 292.4 502.1 296.9 502.1 297.4 501.6 301.9 501.6 302.4 501.1 305.9 501.1 306.4 500.6 309.9 500.6 310.4 500.1 312.9 500.1 313.4 499.6 316.4 499.6 316.9 499.1 318.9 499.1 319.4 498.6 321.9 498.6 322.4 498.1 324.4 498.1 324.9 497.6 326.4 497.6 326.9 497.1 328.4 497.1 328.9 496.6 329.9 496.6 330.4 496.1 331.9 496.1 332.4 495.6 332.9 495.6 333.4 495.1 334.4 495.1 334.9 494.6 335.4 494.6 335.9 494.1 336.4 494.1 337.4 493.1 337.9 493.1 338.4 492.6 345.4 492.6 345.9 492.1 393.9 492.1 394.4 491.6 429.4 491.6 429.4 490.6 402.9 490.6 402.4 490.1 356.4 490.1 355.9 489.6 336.4 489.6 335.9 489.1 334.9 489.1 334.4 488.6 333.4 488.6 332.9 488.1 331.9 488.1 331.4 487.6 329.9 487.6 329.4 487.1 327.4 487.1 326.9 486.6 324.9 486.6 324.4 486.1 321.9 486.1 321.4 485.6 318.9 485.6 318.4 485.1 315.4 485.1 314.9 484.6 311.4 484.6 310.9 484.1 306.9 484.1 306.4 483.6 301.9 483.6 301.4 483.1 296.4 483.1 295.9 482.6 289.9 482.6 289.4 482.1 280.9 482.1 280.4 481.6 269.9 481.6 269.4 482.1 267.4 482.1 266.9 482.6 265.9 482.6 265.4 483.1 264.4 483.1 263.9 483.6 263.4 483.6 262.4 484.6 261.9 484.6 258.9 487.6 258.9 488.1 258.4 488.6Z" fill="rgb(82,82,82)" fill-rule="evenodd"/><path d="M258.4 494.1 258.9 494.6 258.9 495.6 259.9 496.6 259.9 497.1 262.4 499.6 262.9 499.6 263.9 500.6 264.4 500.6 264.9 501.1 265.4 501.1 265.9 501.6 266.9 501.6 267.4 502.1 268.9 502.1 269.4 502.6 282.4 502.6 282.9 502.1 289.4 502.1 289.9 501.6 294.9 501.6 295.4 501.1 299.9 501.1 300.4 500.6 303.9 500.6 304.4 500.1 307.9 500.1 308.4 499.6 311.4 499.6 311.9 499.1 314.4 499.1 314.9 498.6 317.4 498.6 317.9 498.1 319.9 498.1 320.4 497.6 322.4 497.6 322.9 497.1 324.4 497.1 324.9 496.6 326.4 496.6 326.9 496.1 328.4 496.1 328.9 495.6 329.9 495.6 330.4 495.1 331.4 495.1 331.9 494.6 332.4 494.6 332.9 494.1 333.4 494.1 334.4 493.1 334.9 493.1 335.9 492.1 367.4 492.1 367.9 491.6 401.4 491.6 401.9 491.1 415.4 491.1 406.4 491.1 405.9 490.6 375.9 490.6 375.4 490.1 334.4 490.1 333.9 489.6 332.9 489.6 332.4 489.1 331.9 489.1 331.4 488.6 329.9 488.6 329.4 488.1 328.4 488.1 327.9 487.6 325.9 487.6 325.4 487.1 323.4 487.1 322.9 486.6 320.9 486.6 320.4 486.1 317.4 486.1 316.9 485.6 313.9 485.6 313.4 485.1 309.9 485.1 309.4 484.6 305.4 484.6 304.9 484.1 300.4 484.1 299.9 483.6 294.9 483.6 294.4 483.1 287.9 483.1 287.4 482.6 278.4 482.6 277.9 482.1 270.9 482.1 270.4 482.6 267.9 482.6 267.4 483.1 266.4 483.1 265.9 483.6 264.9 483.6 264.4 484.1 263.9 484.1 263.4 484.6 262.9 484.6 261.9 485.6 261.4 485.6 259.4 487.6 259.4 488.1 258.4 489.1Z" fill="rgb(86,86,86)" fill-rule="evenodd"/><path d="M258.4 493.1 258.9 493.6 258.9 494.6 259.4 495.1 259.4 495.6 260.9 497.1 260.9 497.6 261.4 498.1 261.9 498.1 263.4 499.6 263.9 499.6 264.4 500.1 264.9 500.1 265.4 500.6 265.9 500.6 266.4 501.1 267.9 501.1 268.4 501.6 269.9 501.6 270.4 502.1 278.9 502.1 279.4 501.6 286.9 501.6 287.4 501.1 292.4 501.1 292.9 500.6 297.9 500.6 298.4 500.1 301.9 500.1 302.4 499.6 305.9 499.6 306.4 499.1 309.4 499.1 309.9 498.6 312.9 498.6 313.4 498.1 315.9 498.1 316.4 497.6 318.4 497.6 318.9 497.1 320.9 497.1 321.4 496.6 322.9 496.6 323.4 496.1 324.9 496.1 325.4 495.6 326.4 495.6 326.9 495.1 327.9 495.1 328.4 494.6 329.4 494.6 329.9 494.1 330.4 494.1 331.4 493.1 331.9 493.1 332.9 492.1 343.4 492.1 343.9 491.6 375.4 491.6 375.9 491.1 388.4 491.1 379.9 491.1 379.4 490.6 351.4 490.6 350.9 490.1 331.4 490.1 330.9 489.6 329.9 489.6 329.4 489.1 328.4 489.1 327.9 488.6 326.9 488.6 326.4 488.1 324.4 488.1 323.9 487.6 322.4 487.6 321.9 487.1 319.4 487.1 318.9 486.6 316.4 486.6 315.9 486.1 312.9 486.1 312.4 485.6 308.9 485.6 308.4 485.1 304.4 485.1 303.9 484.6 299.4 484.6 298.9 484.1 293.4 484.1 292.9 483.6 285.9 483.6 285.4 483.1 274.9 483.1 274.4 482.6 272.4 482.6 271.9 483.1 268.4 483.1 267.9 483.6 266.4 483.6 265.9 484.1 265.4 484.1 264.9 484.6 263.9 484.6 263.4 485.1 262.9 485.1 261.9 486.1 261.4 486.1 259.4 488.1 259.4 488.6 258.9 489.1 258.9 489.6 258.4 490.1Z" fill="rgb(91,91,91)" fill-rule="evenodd"/><path d="M258.9 493.6 259.4 494.1 259.4 494.6 259.9 495.1 259.9 495.6 262.9 498.6 263.4 498.6 263.9 499.1 264.4 499.1 264.9 499.6 265.4 499.6 265.9 500.1 266.9 500.1 267.4 500.6 268.4 500.6 268.9 501.1 272.4 501.1 272.9 501.6 274.4 501.6 274.9 501.1 283.9 501.1 284.4 500.6 290.4 500.6 290.9 500.1 295.9 500.1 296.4 499.6 300.4 499.6 300.9 499.1 304.4 499.1 304.9 498.6 307.9 498.6 308.4 498.1 311.4 498.1 311.9 497.6 314.4 497.6 314.9 497.1 316.9 497.1 317.4 496.6 319.4 496.6 319.9 496.1 321.4 496.1 321.9 495.6 322.9 495.6 323.4 495.1 324.9 495.1 325.4 494.6 325.9 494.6 326.4 494.1 327.4 494.1 327.9 493.6 328.4 493.6 330.4 491.6 351.4 491.6 351.9 491.1 363.9 491.1 355.9 491.1 355.4 490.6 328.9 490.6 328.4 490.1 327.9 490.1 327.4 489.6 326.9 489.6 326.4 489.1 325.4 489.1 324.9 488.6 323.4 488.6 322.9 488.1 320.9 488.1 320.4 487.6 318.4 487.6 317.9 487.1 315.4 487.1 314.9 486.6 311.9 486.6 311.4 486.1 307.9 486.1 307.4 485.6 303.4 485.6 302.9 485.1 297.9 485.1 297.4 484.6 291.9 484.6 291.4 484.1 284.4 484.1 283.9 483.6 268.9 483.6 268.4 484.1 266.9 484.1 266.4 484.6 265.4 484.6 264.9 485.1 264.4 485.1 263.9 485.6 263.4 485.6 262.9 486.1 262.4 486.1 261.4 487.1 260.9 487.1 259.9 488.1 259.9 488.6 259.4 489.1 259.4 489.6 258.9 490.1Z" fill="rgb(96,96,96)" fill-rule="evenodd"/><path d="M258.9 492.1 259.4 492.6 259.4 493.6 259.9 494.1 259.9 494.6 260.4 495.1 260.4 495.6 262.4 497.6 262.9 497.6 263.4 498.1 263.9 498.1 264.9 499.1 265.9 499.1 266.4 499.6 267.4 499.6 267.9 500.1 269.4 500.1 269.9 500.6 281.4 500.6 281.9 500.1 288.4 500.1 288.9 499.6 293.9 499.6 294.4 499.1 298.9 499.1 299.4 498.6 302.9 498.6 303.4 498.1 306.4 498.1 306.9 497.6 309.9 497.6 310.4 497.1 312.9 497.1 313.4 496.6 315.4 496.6 315.9 496.1 317.9 496.1 318.4 495.6 319.9 495.6 320.4 495.1 321.4 495.1 321.9 494.6 322.9 494.6 323.4 494.1 324.4 494.1 324.9 493.6 325.4 493.6 327.4 491.6 328.9 491.6 329.4 491.1 340.9 491.1 333.4 491.1 332.9 490.6 326.4 490.6 325.9 490.1 324.9 490.1 324.4 489.6 323.9 489.6 323.4 489.1 321.9 489.1 321.4 488.6 319.9 488.6 319.4 488.1 317.4 488.1 316.9 487.6 314.4 487.6 313.9 487.1 310.9 487.1 310.4 486.6 306.9 486.6 306.4 486.1 302.4 486.1 301.9 485.6 296.9 485.6 296.4 485.1 290.9 485.1 290.4 484.6 282.9 484.6 282.4 484.1 269.9 484.1 269.4 484.6 267.4 484.6 266.9 485.1 265.9 485.1 265.4 485.6 264.4 485.6 263.9 486.1 263.4 486.1 262.9 486.6 262.4 486.6 259.4 489.6 259.4 490.6 258.9 491.1Z" fill="rgb(101,101,101)" fill-rule="evenodd"/><path d="M259.4 490.6 259.4 492.6 259.9 493.1 259.9 494.1 260.9 495.1 260.9 495.6 261.4 496.1 261.9 496.1 263.4 497.6 263.9 497.6 264.4 498.1 264.9 498.1 265.4 498.6 266.4 498.6 266.9 499.1 267.9 499.1 268.4 499.6 270.4 499.6 270.9 500.1 278.9 500.1 279.4 499.6 286.9 499.6 287.4 499.1 292.4 499.1 292.9 498.6 297.4 498.6 297.9 498.1 301.9 498.1 302.4 497.6 305.4 497.6 305.9 497.1 308.4 497.1 308.9 496.6 311.4 496.6 311.9 496.1 313.9 496.1 314.4 495.6 316.4 495.6 316.9 495.1 318.4 495.1 318.9 494.6 319.9 494.6 320.4 494.1 321.4 494.1 321.9 493.6 322.4 493.6 322.9 493.1 323.4 493.1 324.4 492.1 324.4 491.1 323.9 490.6 323.4 490.6 322.9 490.1 321.9 490.1 321.4 489.6 320.4 489.6 319.9 489.1 318.4 489.1 317.9 488.6 316.4 488.6 315.9 488.1 313.4 488.1 312.9 487.6 309.9 487.6 309.4 487.1 306.4 487.1 305.9 486.6 301.9 486.6 301.4 486.1 296.4 486.1 295.9 485.6 289.9 485.6 289.4 485.1 281.9 485.1 281.4 484.6 270.4 484.6 269.9 485.1 267.4 485.1 266.9 485.6 265.9 485.6 265.4 486.1 264.4 486.1 263.9 486.6 263.4 486.6 262.9 487.1 262.4 487.1 259.9 489.6 259.9 490.1Z" fill="rgb(107,107,107)" fill-rule="evenodd"/><path d="M259.9 491.1 259.9 492.6 260.4 493.1 260.4 493.6 263.4 496.6 263.9 496.6 264.4 497.1 264.9 497.1 265.4 497.6 266.4 497.6 266.9 498.1 267.9 498.1 268.4 498.6 270.4 498.6 270.9 499.1 280.4 499.1 280.9 498.6 287.4 498.6 287.9 498.1 293.4 498.1 293.9 497.6 297.9 497.6 298.4 497.1 301.9 497.1 302.4 496.6 305.9 496.6 306.4 496.1 308.9 496.1 309.4 495.6 311.4 495.6 311.9 495.1 313.9 495.1 314.4 494.6 315.9 494.6 316.4 494.1 317.9 494.1 318.4 493.6 318.9 493.6 319.4 493.1 320.4 493.1 321.4 492.1 321.4 491.1 320.9 490.6 320.4 490.6 319.9 490.1 318.9 490.1 318.4 489.6 317.4 489.6 316.9 489.1 314.9 489.1 314.4 488.6 311.9 488.6 311.4 488.1 308.9 488.1 308.4 487.6 304.9 487.6 304.4 487.1 300.4 487.1 299.9 486.6 294.9 486.6 294.4 486.1 287.9 486.1 287.4 485.6 278.4 485.6 277.9 485.1 271.9 485.1 271.4 485.6 268.4 485.6 267.9 486.1 266.4 486.1 265.9 486.6 264.9 486.6 264.4 487.1 263.9 487.1 263.4 487.6 262.9 487.6 261.9 488.6 261.4 488.6 260.9 489.1 260.9 489.6 260.4 490.1 260.4 490.6Z" fill="rgb(112,112,112)" fill-rule="evenodd"/><path d="M260.9 490.1 260.9 493.1 262.9 495.1 263.4 495.1 264.4 496.1 264.9 496.1 265.4 496.6 266.4 496.6 266.9 497.1 267.9 497.1 268.4 497.6 270.9 497.6 271.4 498.1 279.9 498.1 280.4 497.6 287.4 497.6 287.9 497.1 293.4 497.1 293.9 496.6 297.9 496.6 298.4 496.1 301.9 496.1 302.4 495.6 305.9 495.6 306.4 495.1 308.9 495.1 309.4 494.6 311.4 494.6 311.9 494.1 313.9 494.1 314.4 493.6 315.9 493.6 316.4 493.1 316.9 493.1 317.4 492.6 317.9 492.6 318.4 492.1 318.9 492.1 318.9 491.1 318.4 491.1 317.9 490.6 317.4 490.6 316.9 490.1 315.9 490.1 315.4 489.6 313.4 489.6 312.9 489.1 310.9 489.1 310.4 488.6 307.4 488.6 306.9 488.1 303.4 488.1 302.9 487.6 298.9 487.6 298.4 487.1 292.9 487.1 292.4 486.6 285.9 486.6 285.4 486.1 269.4 486.1 268.9 486.6 266.9 486.6 266.4 487.1 265.4 487.1 264.9 487.6 264.4 487.6 263.9 488.1 263.4 488.1 262.9 488.6 262.4 488.6Z" fill="rgb(118,118,118)" fill-rule="evenodd"/><path d="M261.4 490.6 261.4 492.6 263.4 494.6 263.9 494.6 264.4 495.1 264.9 495.1 265.4 495.6 266.4 495.6 266.9 496.1 267.9 496.1 268.4 496.6 270.4 496.6 270.9 497.1 281.4 497.1 281.9 496.6 288.9 496.6 289.4 496.1 294.4 496.1 294.9 495.6 299.4 495.6 299.9 495.1 303.4 495.1 303.9 494.6 306.9 494.6 307.4 494.1 309.9 494.1 310.4 493.6 312.4 493.6 312.9 493.1 313.9 493.1 314.4 492.6 315.4 492.6 315.9 492.1 316.4 492.1 316.4 491.1 315.9 491.1 315.4 490.6 314.4 490.6 313.9 490.1 312.4 490.1 311.9 489.6 309.9 489.6 309.4 489.1 306.9 489.1 306.4 488.6 302.9 488.6 302.4 488.1 297.9 488.1 297.4 487.6 291.9 487.6 291.4 487.1 284.4 487.1 283.9 486.6 270.4 486.6 269.9 487.1 267.9 487.1 267.4 487.6 265.9 487.6 265.4 488.1 264.9 488.1 264.4 488.6 263.9 488.6 263.4 489.1 262.9 489.1Z" fill="rgb(124,124,124)" fill-rule="evenodd"/><path d="M261.9 491.6 262.4 492.1 262.4 492.6 263.9 494.1 264.4 494.1 264.9 494.6 265.9 494.6 266.4 495.1 267.4 495.1 267.9 495.6 269.4 495.6 269.9 496.1 285.4 496.1 285.9 495.6 292.4 495.6 292.9 495.1 297.9 495.1 298.4 494.6 302.4 494.6 302.9 494.1 305.9 494.1 306.4 493.6 308.9 493.6 309.4 493.1 310.9 493.1 311.4 492.6 312.9 492.6 313.4 492.1 313.9 492.1 313.9 491.1 313.4 491.1 312.9 490.6 311.9 490.6 311.4 490.1 309.4 490.1 308.9 489.6 306.4 489.6 305.9 489.1 302.4 489.1 301.9 488.6 297.9 488.6 297.4 488.1 291.9 488.1 291.4 487.6 283.4 487.6 282.9 487.1 270.9 487.1 270.4 487.6 268.4 487.6 267.9 488.1 266.4 488.1 265.9 488.6 264.9 488.6 264.4 489.1 263.9 489.1 262.4 490.6 262.4 491.1Z" fill="rgb(131,131,131)" fill-rule="evenodd"/><path d="M262.9 491.1 262.9 492.1 264.4 493.6 264.9 493.6 265.4 494.1 266.4 494.1 266.9 494.6 268.4 494.6 268.9 495.1 271.4 495.1 271.9 495.6 282.4 495.6 282.9 495.1 290.9 495.1 291.4 494.6 296.9 494.6 297.4 494.1 301.9 494.1 302.4 493.6 305.4 493.6 305.9 493.1 308.4 493.1 308.9 492.6 310.4 492.6 310.9 492.1 311.4 492.1 311.9 491.6 311.4 491.1 310.9 491.1 310.4 490.6 309.4 490.6 308.9 490.1 306.4 490.1 305.9 489.6 302.9 489.6 302.4 489.1 298.4 489.1 297.9 488.6 292.4 488.6 291.9 488.1 283.9 488.1 283.4 487.6 271.4 487.6 270.9 488.1 268.4 488.1 267.9 488.6 266.4 488.6 265.9 489.1 265.4 489.1 264.9 489.6 264.4 489.6Z" fill="rgb(137,137,137)" fill-rule="evenodd"/><path d="M263.4 491.1 263.4 492.1 264.4 493.1 264.9 493.1 265.4 493.6 265.9 493.6 266.4 494.1 267.9 494.1 268.4 494.6 270.4 494.6 270.9 495.1 285.4 495.1 285.9 494.6 293.4 494.6 293.9 494.1 298.9 494.1 299.4 493.6 302.9 493.6 303.4 493.1 305.9 493.1 306.4 492.6 307.9 492.6 308.4 492.1 309.4 492.1 309.9 491.6 309.4 491.1 308.9 491.1 308.4 490.6 306.9 490.6 306.4 490.1 303.9 490.1 303.4 489.6 299.9 489.6 299.4 489.1 294.9 489.1 294.4 488.6 287.9 488.6 287.4 488.1 270.4 488.1 269.9 488.6 267.9 488.6 267.4 489.1 266.4 489.1 265.9 489.6 264.9 489.6Z" fill="rgb(144,144,144)" fill-rule="evenodd"/><path d="M263.9 490.6 263.9 492.1 264.9 493.1 265.4 493.1 265.9 493.6 266.4 493.6 266.9 494.1 268.4 494.1 268.9 494.6 271.9 494.6 272.4 495.1 281.9 495.1 282.4 494.6 290.9 494.6 291.4 494.1 296.4 494.1 296.9 493.6 300.9 493.6 301.4 493.1 304.4 493.1 304.9 492.6 306.4 492.6 306.9 492.1 307.9 492.1 308.4 491.6 307.9 491.1 307.4 491.1 306.9 490.6 305.4 490.6 304.9 490.1 302.4 490.1 301.9 489.6 297.9 489.6 297.4 489.1 292.4 489.1 291.9 488.6 284.4 488.6 283.9 488.1 271.4 488.1 270.9 488.6 268.4 488.6 267.9 489.1 266.9 489.1 266.4 489.6 265.4 489.6 264.4 490.6Z" fill="rgb(151,151,151)" fill-rule="evenodd"/><path d="M263.9 491.1 263.9 491.6 264.4 492.1 264.4 492.6 264.9 492.6 265.4 493.1 265.9 493.1 266.4 493.6 267.4 493.6 267.9 494.1 269.4 494.1 269.9 494.6 274.9 494.6 275.4 495.1 277.4 495.1 277.9 494.6 287.9 494.6 288.4 494.1 294.4 494.1 294.9 493.6 298.9 493.6 299.4 493.1 302.4 493.1 302.9 492.6 304.9 492.6 305.4 492.1 305.9 492.1 306.4 491.6 306.4 491.1 305.4 491.1 304.9 490.6 303.4 490.6 302.9 490.1 300.4 490.1 299.9 489.6 295.9 489.6 295.4 489.1 289.9 489.1 289.4 488.6 280.9 488.6 280.4 488.1 273.4 488.1 272.9 488.6 269.4 488.6 268.9 489.1 267.4 489.1 266.9 489.6 265.9 489.6 265.4 490.1 264.9 490.1Z" fill="rgb(158,158,158)" fill-rule="evenodd"/><path d="M264.4 491.1 264.4 492.1 264.9 492.6 265.4 492.6 265.9 493.1 266.4 493.1 266.9 493.6 267.9 493.6 268.4 494.1 270.9 494.1 271.4 494.6 285.4 494.6 285.9 494.1 292.4 494.1 292.9 493.6 297.4 493.6 297.9 493.1 300.9 493.1 301.4 492.6 302.9 492.6 303.4 492.1 304.4 492.1 304.9 491.6 304.9 491.1 303.9 491.1 303.4 490.6 301.9 490.6 301.4 490.1 298.4 490.1 297.9 489.6 293.9 489.6 293.4 489.1 287.4 489.1 286.9 488.6 270.4 488.6 269.9 489.1 268.4 489.1 267.9 489.6 266.4 489.6 265.9 490.1 265.4 490.1Z" fill="rgb(165,165,165)" fill-rule="evenodd"/><path d="M264.9 491.1 264.9 492.1 265.4 492.6 265.9 492.6 266.4 493.1 266.9 493.1 267.4 493.6 268.9 493.6 269.4 494.1 272.4 494.1 272.9 494.6 282.4 494.6 282.9 494.1 289.9 494.1 290.4 493.6 295.4 493.6 295.9 493.1 298.9 493.1 299.4 492.6 301.4 492.6 301.9 492.1 302.9 492.1 303.4 491.6 303.4 491.1 302.4 491.1 301.9 490.6 299.9 490.6 299.4 490.1 296.9 490.1 296.4 489.6 291.9 489.6 291.4 489.1 284.9 489.1 284.4 488.6 271.9 488.6 271.4 489.1 268.9 489.1 268.4 489.6 267.4 489.6 266.9 490.1 265.9 490.1Z" fill="rgb(172,172,172)" fill-rule="evenodd"/><path d="M264.9 491.6 265.9 492.6 266.4 492.6 266.9 493.1 267.4 493.1 267.9 493.6 269.9 493.6 270.4 494.1 274.9 494.1 275.4 494.6 278.4 494.6 278.9 494.1 287.9 494.1 288.4 493.6 293.4 493.6 293.9 493.1 297.4 493.1 297.9 492.6 299.9 492.6 300.4 492.1 301.4 492.1 301.9 491.6 302.4 491.6 301.9 491.1 300.9 491.1 300.4 490.6 298.4 490.6 297.9 490.1 294.9 490.1 294.4 489.6 289.9 489.6 289.4 489.1 281.9 489.1 281.4 488.6 273.4 488.6 272.9 489.1 269.9 489.1 269.4 489.6 267.9 489.6 267.4 490.1 266.4 490.1Z" fill="rgb(180,180,180)" fill-rule="evenodd"/><path d="M265.4 491.1 265.4 492.1 265.9 492.1 266.4 492.6 266.9 492.6 267.4 493.1 268.4 493.1 268.9 493.6 270.9 493.6 271.4 494.1 286.4 494.1 286.9 493.6 291.9 493.6 292.4 493.1 295.9 493.1 296.4 492.6 298.9 492.6 299.4 492.1 300.4 492.1 300.9 491.6 300.4 491.1 299.9 491.1 299.4 490.6 297.4 490.6 296.9 490.1 293.4 490.1 292.9 489.6 287.9 489.6 287.4 489.1 278.9 489.1 278.4 488.6 275.9 488.6 275.4 489.1 270.4 489.1 269.9 489.6 268.4 489.6 267.9 490.1 266.9 490.1 266.4 490.6 265.9 490.6Z" fill="rgb(187,187,187)" fill-rule="evenodd"/><path d="M265.9 491.1 265.9 492.1 266.4 492.6 266.9 492.6 267.4 493.1 268.9 493.1 269.4 493.6 271.4 493.6 271.9 494.1 284.4 494.1 284.9 493.6 290.9 493.6 291.4 493.1 294.9 493.1 295.4 492.6 297.9 492.6 298.4 492.1 299.4 492.1 299.9 491.6 299.4 491.1 298.4 491.1 297.9 490.6 295.9 490.6 295.4 490.1 292.4 490.1 291.9 489.6 286.4 489.6 285.9 489.1 271.4 489.1 270.9 489.6 268.9 489.6 268.4 490.1 267.4 490.1 266.9 490.6 266.4 490.6Z" fill="rgb(195,195,195)" fill-rule="evenodd"/><path d="M265.9 491.6 266.9 492.6 267.4 492.6 267.9 493.1 269.4 493.1 269.9 493.6 272.9 493.6 273.4 494.1 282.9 494.1 283.4 493.6 289.4 493.6 289.9 493.1 293.9 493.1 294.4 492.6 296.4 492.6 296.9 492.1 298.4 492.1 298.9 491.6 298.4 491.1 297.4 491.1 296.9 490.6 294.9 490.6 294.4 490.1 290.9 490.1 290.4 489.6 284.9 489.6 284.4 489.1 272.4 489.1 271.9 489.6 269.4 489.6 268.9 490.1 267.9 490.1 267.4 490.6 266.9 490.6Z" fill="rgb(203,203,203)" fill-rule="evenodd"/><path d="M266.4 491.6 267.4 492.6 267.9 492.6 268.4 493.1 269.9 493.1 270.4 493.6 273.9 493.6 274.4 494.1 280.9 494.1 281.4 493.6 288.4 493.6 288.9 493.1 292.9 493.1 293.4 492.6 295.4 492.6 295.9 492.1 297.4 492.1 297.9 491.6 297.4 491.1 296.4 491.1 295.9 490.6 293.9 490.6 293.4 490.1 289.9 490.1 289.4 489.6 283.4 489.6 282.9 489.1 273.4 489.1 272.9 489.6 269.9 489.6 269.4 490.1 268.4 490.1 267.9 490.6 267.4 490.6Z" fill="rgb(212,212,212)" fill-rule="evenodd"/><path d="M266.9 491.1 266.9 492.1 267.4 492.1 267.9 492.6 268.4 492.6 268.9 493.1 270.9 493.1 271.4 493.6 275.9 493.6 276.4 494.1 278.9 494.1 279.4 493.6 286.9 493.6 287.4 493.1 291.4 493.1 291.9 492.6 294.4 492.6 294.9 492.1 296.4 492.1 296.9 491.6 296.4 491.1 295.4 491.1 294.9 490.6 292.9 490.6 292.4 490.1 288.4 490.1 287.9 489.6 281.4 489.6 280.9 489.1 274.9 489.1 274.4 489.6 270.9 489.6 270.4 490.1 268.9 490.1 268.4 490.6 267.9 490.6 267.4 491.1Z" fill="rgb(220,220,220)" fill-rule="evenodd"/><path d="M267.4 491.6 267.9 492.1 268.4 492.1 268.9 492.6 269.9 492.6 270.4 493.1 272.4 493.1 272.9 493.6 284.4 493.6 284.9 493.1 288.9 493.1 289.4 492.6 291.9 492.6 292.4 492.1 293.9 492.1 294.4 491.6 293.9 491.1 292.9 491.1 292.4 490.6 290.4 490.6 289.9 490.1 285.9 490.1 285.4 489.6 272.4 489.6 271.9 490.1 269.9 490.1 269.4 490.6 268.4 490.6Z" fill="rgb(228,228,228)" fill-rule="evenodd"/><path d="M268.4 491.6 268.9 492.1 269.4 492.1 269.9 492.6 271.4 492.6 271.9 493.1 275.9 493.1 276.4 493.6 279.9 493.6 280.4 493.1 285.4 493.1 285.9 492.6 288.4 492.6 288.9 492.1 289.9 492.1 290.4 491.6 290.9 491.6 290.4 491.1 289.4 491.1 288.9 490.6 286.9 490.6 286.4 490.1 281.9 490.1 281.4 489.6 274.9 489.6 274.4 490.1 271.4 490.1 270.9 490.6 269.9 490.6 269.4 491.1 268.9 491.1Z" fill="rgb(237,237,237)" fill-rule="evenodd"/><path d="M270.9 491.6 271.4 492.1 272.4 492.1 272.9 492.6 276.9 492.6 277.4 493.1 279.9 493.1 280.4 492.6 283.9 492.6 284.4 492.1 285.9 492.1 286.4 491.6 285.9 491.1 284.9 491.1 284.4 490.6 281.4 490.6 280.9 490.1 275.9 490.1 275.4 490.6 272.9 490.6 272.4 491.1 271.4 491.1Z" fill="rgb(246,246,246)" fill-rule="evenodd"/><path d="M276.4 491.6 280.4 491.6 279.9 491.6 279.4 491.1 277.9 491.1 277.4 491.6Z" fill="rgb(255,255,255)" fill-rule="evenodd"/></g></g>
<rect x="258.2" y="434.8" width="171.3" height="111.6" fill="none" stroke="#333" stroke-width="0.9"/>
<path d="M258.2 546.4v1.6M258.2 434.8v-1.6M298.88 546.4v1.6M298.88 434.8v-1.6M339.56 546.4v1.6M339.56 434.8v-1.6M380.24 546.4v1.6M380.24 434.8v-1.6M420.92 546.4v1.6M420.92 434.8v-1.6M258.2 539.48h-1.6M429.5 539.48h1.6M258.2 523.12h-1.6M429.5 523.12h1.6M258.2 506.76h-1.6M429.5 506.76h1.6M258.2 490.4h-1.6M429.5 490.4h1.6M258.2 474.04h-1.6M429.5 474.04h1.6M258.2 457.68h-1.6M429.5 457.68h1.6M258.2 441.32h-1.6M429.5 441.32h1.6" stroke="#333" stroke-width="0.8"/>
<text x="258.2" y="554.3" font-size="6.3" fill="#222" text-anchor="middle" textLength="3.6" lengthAdjust="spacingAndGlyphs" stroke="#222" stroke-width="0.18">0</text>
<text x="298.88" y="554.3" font-size="6.3" fill="#222" text-anchor="middle" textLength="7.2" lengthAdjust="spacingAndGlyphs" stroke="#222" stroke-width="0.18">50</text>
<text x="339.56" y="554.3" font-size="6.3" fill="#222" text-anchor="middle" textLength="10.8" lengthAdjust="spacingAndGlyphs" stroke="#222" stroke-width="0.18">100</text>
<text x="380.24" y="554.3" font-size="6.3" fill="#222" text-anchor="middle" textLength="10.8" lengthAdjust="spacingAndGlyphs" stroke="#222" stroke-width="0.18">150</text>
<text x="420.92" y="554.3" font-size="6.3" fill="#222" text-anchor="middle" textLength="10.8" lengthAdjust="spacingAndGlyphs" stroke="#222" stroke-width="0.18">200</text>
<text x="254.2" y="541.68" font-size="6.3" fill="#222" text-anchor="end" textLength="11.6" lengthAdjust="spacingAndGlyphs" stroke="#222" stroke-width="0.18">-60</text>
<text x="254.2" y="525.32" font-size="6.3" fill="#222" text-anchor="end" textLength="11.6" lengthAdjust="spacingAndGlyphs" stroke="#222" stroke-width="0.18">-40</text>
<text x="254.2" y="508.96" font-size="6.3" fill="#222" text-anchor="end" textLength="11.6" lengthAdjust="spacingAndGlyphs" stroke="#222" stroke-width="0.18">-20</text>
<text x="251.3" y="492.6" font-size="6.3" fill="#222" text-anchor="end" textLength="3.6" lengthAdjust="spacingAndGlyphs" stroke="#222" stroke-width="0.18">0</text>
<text x="254.2" y="476.24" font-size="6.3" fill="#222" text-anchor="end" textLength="7.8" lengthAdjust="spacingAndGlyphs" stroke="#222" stroke-width="0.18">20</text>
<text x="254.2" y="459.88" font-size="6.3" fill="#222" text-anchor="end" textLength="7.8" lengthAdjust="spacingAndGlyphs" stroke="#222" stroke-width="0.18">40</text>
<text x="254.2" y="443.52" font-size="6.3" fill="#222" text-anchor="end" textLength="7.8" lengthAdjust="spacingAndGlyphs" stroke="#222" stroke-width="0.18">60</text>
<text x="341" y="565.9" font-size="12" fill="#222" text-anchor="middle">B<tspan font-size="8" dy="3">c</tspan><tspan dy="-3"> (mT)</tspan></text>
<text x="241.4" y="491.2" font-size="12" fill="#222" text-anchor="middle" transform="rotate(-90 241.4 491.2)">B<tspan font-size="8" dy="3">u</tspan><tspan dy="-3"> (mT)</tspan></text>
<rect x="269.1" y="441.8" width="20.3" height="19.4" fill="#fff" stroke="#222" stroke-width="0.9"/>
<text x="279.25" y="457.32" font-size="19" fill="#000" text-anchor="middle" stroke="#000" stroke-width="0.55">k</text>
<text x="295.7" y="458.2" font-size="14" fill="#111" textLength="88.6" lengthAdjust="spacingAndGlyphs" stroke="#111" stroke-width="0.3">926R03-01-3</text>
<rect x="433.5" y="449.4" width="3.2" height="79.9" fill="url(#fkg)" stroke="#333" stroke-width="0.5"/>
<path d="M436.7 457.4h1.5M436.7 475.6h1.5M436.7 493.2h1.5M436.7 510.7h1.5M436.7 528.6h1.5" stroke="#333" stroke-width="0.6"/>
<text x="441.5" y="459.7" font-size="7" fill="#222" textLength="11.25" lengthAdjust="spacingAndGlyphs" stroke="#222" stroke-width="0.18">600</text>
<text x="441.5" y="477.9" font-size="7" fill="#222" textLength="11.25" lengthAdjust="spacingAndGlyphs" stroke="#222" stroke-width="0.18">400</text>
<text x="441.5" y="495.5" font-size="7" fill="#222" textLength="11.25" lengthAdjust="spacingAndGlyphs" stroke="#222" stroke-width="0.18">200</text>
<text x="441.5" y="513" font-size="7" fill="#222" textLength="3.75" lengthAdjust="spacingAndGlyphs" stroke="#222" stroke-width="0.18">0</text>
<text x="441.5" y="530.9" font-size="7" fill="#222" textLength="15.4" lengthAdjust="spacingAndGlyphs" stroke="#222" stroke-width="0.18">-200</text>
<text x="433.5" y="445.9" font-size="6" fill="#222" textLength="21" lengthAdjust="spacingAndGlyphs">Am<tspan font-size="4" dy="-2">2</tspan><tspan dy="2">/T</tspan><tspan font-size="4" dy="-2">2</tspan></text>
<g clip-path="url(#flc)"><g filter="url(#fl)"><rect x="480.9" y="431.8" width="178.10000000000002" height="117.59999999999997" fill="rgb(51,51,51)"/><path d="M484.1 483.6 484.1 544.5 485.6 544.5 486.1 545.0 488.1 545.0 488.6 544.5 489.6 544.5 490.1 544.0 490.6 544.0 491.6 543.0 492.1 543.0 494.1 541.0 494.1 540.5 495.6 539.0 495.6 538.5 496.1 538.0 496.1 537.5 496.6 537.0 496.6 536.5 497.1 536.0 497.1 535.5 497.6 535.0 497.6 534.0 498.1 533.5 498.1 533.0 498.6 532.5 498.6 531.5 499.1 531.0 499.1 529.5 499.6 529.0 499.6 527.5 500.1 527.0 500.1 525.0 500.6 524.5 500.6 521.5 501.1 521.0 501.1 518.5 501.6 518.0 502.6 519.0 503.1 519.0 505.1 521.0 505.6 521.0 508.1 523.5 508.6 523.5 510.6 525.5 511.1 525.5 513.1 527.5 513.6 527.5 515.6 529.5 516.1 529.5 518.6 532.0 519.1 532.0 521.1 534.0 521.6 534.0 523.6 536.0 524.1 536.0 526.6 538.5 527.1 538.5 529.1 540.5 529.6 540.5 531.6 542.5 532.1 542.5 534.6 545.0 535.1 545.0 536.1 546.0 565.1 546.0 565.1 545.5 564.6 545.0 564.6 544.0 564.1 543.5 564.1 543.0 563.6 542.5 563.6 542.0 560.6 539.0 560.1 539.0 558.1 537.0 557.6 537.0 555.6 535.0 555.1 535.0 552.6 532.5 552.1 532.5 550.1 530.5 549.6 530.5 547.6 528.5 547.1 528.5 544.6 526.0 544.1 526.0 542.1 524.0 541.6 524.0 539.6 522.0 539.1 522.0 537.1 520.0 536.6 520.0 534.1 517.5 533.6 517.5 531.6 515.5 531.1 515.5 529.1 513.5 528.6 513.5 526.1 511.1 525.6 511.1 523.6 509.1 523.1 509.1 521.1 507.1 520.6 507.1 518.1 504.6 517.6 504.6 515.6 502.6 515.1 502.6 513.1 500.6 512.6 500.6 510.6 498.6 510.1 498.6 508.1 496.6 507.6 496.6 507.1 496.1 506.6 496.1 506.1 495.6 505.6 495.6 505.1 495.1 503.6 495.1 503.1 494.6 501.1 494.6 500.6 495.1 498.6 495.1 498.1 494.6 498.1 494.1 497.6 493.6 497.6 493.1 497.1 492.6 497.1 492.1 496.6 491.6 496.6 491.1 496.1 490.6 496.1 490.1 495.6 489.6 495.6 489.1 494.6 488.1 494.6 487.6 491.6 484.6 491.1 484.6 490.6 484.1 490.1 484.1 489.6 483.6 489.1 483.6 488.6 483.1 485.6 483.1 485.1 483.6Z" fill="rgb(49,49,49)" fill-rule="evenodd"/><path d="M484.1 493.1 484.1 534.5 484.6 535.0 485.1 535.0 485.6 535.5 488.6 535.5 489.1 535.0 489.6 535.0 492.6 532.0 492.6 531.5 493.6 530.5 493.6 530.0 494.1 529.5 494.1 528.5 494.6 528.0 494.6 527.5 495.1 527.0 495.1 526.0 495.6 525.5 495.6 524.0 496.1 523.5 496.1 521.5 496.6 521.0 496.6 516.5 497.1 516.0 497.1 512.0 496.6 511.6 496.6 508.1 497.1 507.6 497.6 508.1 497.6 508.6 498.1 509.1 498.6 509.1 501.1 511.6 501.6 511.6 503.6 513.5 504.1 513.5 506.1 515.5 506.6 515.5 509.1 518.0 509.6 518.0 511.6 520.0 512.1 520.0 514.1 522.0 514.6 522.0 517.1 524.5 517.6 524.5 519.6 526.5 520.1 526.5 522.1 528.5 522.6 528.5 524.6 530.5 525.1 530.5 527.6 533.0 528.1 533.0 530.1 535.0 530.6 535.0 532.6 537.0 533.1 537.0 535.6 539.5 536.1 539.5 538.1 541.5 538.6 541.5 540.6 543.5 541.1 543.5 543.6 546.0 560.1 546.0 559.6 545.5 559.6 545.0 557.1 542.5 556.6 542.5 554.1 540.0 553.6 540.0 551.6 538.0 551.1 538.0 549.1 536.0 548.6 536.0 546.6 534.0 546.1 534.0 543.6 531.5 543.1 531.5 541.1 529.5 540.6 529.5 538.6 527.5 538.1 527.5 535.6 525.0 535.1 525.0 533.1 523.0 532.6 523.0 530.6 521.0 530.1 521.0 527.6 518.5 527.1 518.5 525.1 516.5 524.6 516.5 522.6 514.5 522.1 514.5 520.1 512.5 519.6 512.5 517.1 510.1 516.6 510.1 514.6 508.1 514.1 508.1 512.1 506.1 511.6 506.1 509.1 503.6 508.6 503.6 506.6 501.6 506.1 501.6 504.6 500.1 503.6 500.1 503.1 499.6 500.6 499.6 500.1 500.1 499.6 500.1 499.1 500.6 498.6 500.6 497.6 501.6 497.6 502.1 497.1 502.6 497.1 503.1 496.6 503.6 496.6 504.1 496.1 504.6 495.6 504.1 495.6 502.6 495.1 502.1 495.1 501.1 494.6 500.6 494.6 500.1 494.1 499.6 494.1 498.6 493.6 498.1 493.6 497.6 492.6 496.6 492.6 496.1 491.1 494.6 491.1 494.1 490.6 494.1 489.6 493.1 489.1 493.1 488.6 492.6 485.1 492.6 484.6 493.1Z" fill="rgb(48,48,48)" fill-rule="evenodd"/><path d="M485.6 498.6 484.6 499.6 484.1 499.6 484.1 528.0 485.1 529.0 485.6 529.0 486.1 529.5 487.6 529.5 488.1 529.0 488.6 529.0 489.1 528.5 489.6 528.5 490.6 527.5 490.6 527.0 491.6 526.0 491.6 525.5 492.1 525.0 492.1 524.0 492.6 523.5 492.6 523.0 493.1 522.5 493.1 521.0 493.6 520.5 493.6 518.0 494.1 517.5 494.1 510.6 493.6 510.1 493.6 507.6 493.1 507.1 493.1 505.6 492.6 505.1 492.6 504.1 492.1 503.6 492.1 503.1 491.6 502.6 491.6 502.1 491.1 501.6 491.1 501.1 489.1 499.1 488.6 499.1 488.1 498.6Z" fill="rgb(46,46,46)" fill-rule="evenodd"/><path d="M486.1 504.6 485.6 505.1 485.1 505.1 485.1 505.6 484.1 506.6 484.1 521.5 486.1 523.5 487.6 523.5 488.1 523.0 488.6 523.0 489.1 522.5 489.1 522.0 490.1 521.0 490.1 520.0 490.6 519.5 490.6 518.5 491.1 518.0 491.1 510.1 490.6 509.6 490.6 508.6 490.1 508.1 490.1 507.1 489.6 506.6 489.6 506.1 488.1 504.6Z" fill="rgb(45,45,45)" fill-rule="evenodd"/><path d="M484.1 452.6 484.1 514.0 485.1 515.0 485.6 515.0 486.1 515.5 487.1 515.5 487.6 516.0 488.6 516.0 489.1 516.5 500.1 516.5 500.6 516.0 507.6 516.0 508.1 515.5 513.6 515.5 514.1 515.0 518.6 515.0 519.1 514.5 523.6 514.5 524.1 514.0 528.1 514.0 528.6 513.5 532.1 513.5 532.6 513.0 536.1 513.0 536.6 512.5 539.6 512.5 540.1 512.0 543.1 512.0 543.6 511.6 546.6 511.6 547.1 511.1 549.6 511.1 550.1 510.6 552.6 510.6 553.1 510.1 555.6 510.1 556.1 509.6 558.1 509.6 558.6 509.1 561.1 509.1 561.6 508.6 563.6 508.6 564.1 508.1 565.6 508.1 566.1 507.6 568.1 507.6 568.6 507.1 570.6 507.1 571.1 506.6 572.6 506.6 573.1 506.1 574.6 506.1 575.1 505.6 576.6 505.6 577.1 505.1 578.6 505.1 579.1 504.6 580.1 504.6 580.6 504.1 582.1 504.1 582.6 503.6 583.6 503.6 584.1 503.1 585.1 503.1 585.6 502.6 586.6 502.6 587.1 502.1 588.1 502.1 588.6 501.6 589.6 501.6 590.1 501.1 590.6 501.1 591.1 500.6 592.1 500.6 592.6 500.1 593.1 500.1 593.6 499.6 594.1 499.6 594.6 499.1 595.1 499.1 595.6 498.6 596.1 498.6 596.6 498.1 597.1 498.1 597.6 497.6 598.1 497.6 599.1 496.6 599.6 496.6 602.1 494.1 606.1 494.1 606.6 493.6 625.6 493.6 626.1 493.1 633.6 493.1 634.1 492.6 636.6 492.6 637.1 492.1 638.1 492.1 638.6 491.6 638.6 490.1 638.1 489.6 637.6 489.6 637.1 489.1 635.6 489.1 635.1 488.6 630.1 488.6 629.6 488.1 616.6 488.1 616.1 487.6 602.1 487.6 599.1 484.6 598.6 484.6 597.6 483.6 597.1 483.6 596.1 482.6 595.6 482.6 595.1 482.1 594.6 482.1 594.1 481.6 593.6 481.6 593.1 481.1 592.6 481.1 592.1 480.6 591.1 480.6 590.6 480.1 590.1 480.1 589.6 479.6 588.6 479.6 588.1 479.1 587.6 479.1 587.1 478.6 586.1 478.6 585.6 478.1 584.6 478.1 584.1 477.6 583.1 477.6 582.6 477.1 581.6 477.1 581.1 476.6 580.1 476.6 579.6 476.1 578.1 476.1 577.6 475.6 576.6 475.6 576.1 475.1 574.6 475.1 574.1 474.6 572.6 474.6 572.1 474.1 570.6 474.1 570.1 473.6 568.6 473.6 568.1 473.1 566.6 473.1 566.1 472.6 564.1 472.6 563.6 472.1 561.6 472.1 561.1 471.6 559.6 471.6 559.1 471.1 557.1 471.1 556.6 470.6 554.1 470.6 553.6 470.1 551.6 470.1 551.1 469.6 548.6 469.6 548.1 469.1 545.6 469.1 545.1 468.6 542.6 468.6 542.1 468.1 539.1 468.1 538.6 467.6 535.6 467.6 535.1 467.1 534.6 467.1 533.1 465.6 533.1 465.1 530.1 462.1 529.6 462.1 528.1 460.6 527.6 460.6 526.6 459.6 526.1 459.6 525.1 458.6 524.6 458.6 524.1 458.1 523.6 458.1 523.1 457.6 522.6 457.6 522.1 457.1 521.6 457.1 521.1 456.6 520.6 456.6 520.1 456.1 519.1 456.1 518.6 455.6 518.1 455.6 517.6 455.1 516.6 455.1 516.1 454.6 515.1 454.6 514.6 454.1 513.1 454.1 512.6 453.6 511.6 453.6 511.1 453.1 509.1 453.1 508.6 452.6 506.6 452.6 506.1 452.1 503.6 452.1 503.1 451.6 498.6 451.6 498.1 451.1 490.1 451.1 489.6 451.6 487.6 451.6 487.1 452.1 485.6 452.1 485.1 452.6Z" fill="rgb(52,52,52)" fill-rule="evenodd"/><path d="M484.1 458.1 484.1 508.6 485.6 510.1 486.1 510.1 486.6 510.6 487.1 510.6 487.6 511.1 488.6 511.1 489.1 511.6 500.6 511.6 501.1 511.1 506.6 511.1 507.1 510.6 511.6 510.6 512.1 510.1 516.1 510.1 516.6 509.6 520.1 509.6 520.6 509.1 523.6 509.1 524.1 508.6 527.1 508.6 527.6 508.1 530.1 508.1 530.6 507.6 533.1 507.6 533.6 507.1 536.1 507.1 536.6 506.6 538.6 506.6 539.1 506.1 541.1 506.1 541.6 505.6 543.6 505.6 544.1 505.1 545.6 505.1 546.1 504.6 548.1 504.6 548.6 504.1 550.1 504.1 550.6 503.6 552.1 503.6 552.6 503.1 554.1 503.1 554.6 502.6 555.6 502.6 556.1 502.1 557.1 502.1 557.6 501.6 559.1 501.6 559.6 501.1 560.6 501.1 561.1 500.6 561.6 500.6 562.1 500.1 563.1 500.1 563.6 499.6 564.1 499.6 564.6 499.1 565.6 499.1 566.1 498.6 566.6 498.6 567.1 498.1 567.6 498.1 568.1 497.6 568.6 497.6 569.1 497.1 569.6 497.1 570.6 496.1 571.1 496.1 573.6 493.6 594.1 493.6 594.6 493.1 618.6 493.1 619.1 492.6 628.6 492.6 629.1 492.1 633.1 492.1 633.6 491.6 635.1 491.6 636.1 490.6 635.6 490.1 634.6 490.1 634.1 489.6 631.1 489.6 630.6 489.1 624.1 489.1 623.6 488.6 607.6 488.6 607.1 488.1 576.1 488.1 575.6 487.6 573.1 487.6 570.6 485.1 570.1 485.1 569.1 484.1 568.6 484.1 568.1 483.6 567.6 483.6 567.1 483.1 566.6 483.1 566.1 482.6 565.6 482.6 565.1 482.1 564.6 482.1 564.1 481.6 563.6 481.6 563.1 481.1 562.1 481.1 561.6 480.6 561.1 480.6 560.6 480.1 559.6 480.1 559.1 479.6 558.1 479.6 557.6 479.1 556.6 479.1 556.1 478.6 555.1 478.6 554.6 478.1 553.1 478.1 552.6 477.6 551.6 477.6 551.1 477.1 549.6 477.1 549.1 476.6 547.6 476.6 547.1 476.1 545.6 476.1 545.1 475.6 543.6 475.6 543.1 475.1 541.1 475.1 540.6 474.6 538.6 474.6 538.1 474.1 536.1 474.1 535.6 473.6 533.6 473.6 533.1 473.1 530.6 473.1 530.1 472.6 528.1 472.6 527.6 472.1 527.6 471.1 527.1 470.6 527.1 470.1 526.1 469.1 526.1 468.6 524.1 466.6 524.1 466.1 523.6 466.1 521.1 463.6 520.6 463.6 519.6 462.6 519.1 462.6 518.6 462.1 518.1 462.1 517.6 461.6 517.1 461.6 516.6 461.1 516.1 461.1 515.6 460.6 515.1 460.6 514.6 460.1 514.1 460.1 513.6 459.6 512.6 459.6 512.1 459.1 511.1 459.1 510.6 458.6 509.6 458.6 509.1 458.1 507.6 458.1 507.1 457.6 505.6 457.6 505.1 457.1 502.6 457.1 502.1 456.6 498.1 456.6 497.6 456.1 490.6 456.1 490.1 456.6 488.1 456.6 487.6 457.1 486.1 457.1 485.6 457.6 485.1 457.6 484.6 458.1Z" fill="rgb(53,53,53)" fill-rule="evenodd"/><path d="M484.1 462.1 484.1 505.6 485.1 506.6 485.6 506.6 486.6 507.6 487.1 507.6 487.6 508.1 488.1 508.1 488.6 508.6 489.6 508.6 490.1 509.1 496.6 509.1 497.1 508.6 502.6 508.6 503.1 508.1 507.6 508.1 508.1 507.6 511.6 507.6 512.1 507.1 515.1 507.1 515.6 506.6 518.6 506.6 519.1 506.1 521.6 506.1 522.1 505.6 524.6 505.6 525.1 505.1 527.6 505.1 528.1 504.6 530.1 504.6 530.6 504.1 532.6 504.1 533.1 503.6 534.6 503.6 535.1 503.1 536.6 503.1 537.1 502.6 538.6 502.6 539.1 502.1 540.6 502.1 541.1 501.6 542.6 501.6 543.1 501.1 544.1 501.1 544.6 500.6 545.6 500.6 546.1 500.1 547.1 500.1 547.6 499.6 548.6 499.6 549.1 499.1 549.6 499.1 550.1 498.6 551.1 498.6 551.6 498.1 552.1 498.1 552.6 497.6 553.1 497.6 553.6 497.1 554.1 497.1 554.6 496.6 555.1 496.6 556.1 495.6 556.6 495.6 558.6 493.6 564.1 493.6 564.6 493.1 595.6 493.1 596.1 492.6 617.6 492.6 618.1 492.1 625.6 492.1 626.1 491.6 629.6 491.6 630.1 491.1 631.6 491.1 631.6 490.6 631.1 490.6 630.6 490.1 628.1 490.1 627.6 489.6 622.1 489.6 621.6 489.1 609.1 489.1 608.6 488.6 576.6 488.6 576.1 488.1 558.6 488.1 556.1 485.6 555.6 485.6 554.6 484.6 554.1 484.6 553.6 484.1 553.1 484.1 552.6 483.6 552.1 483.6 551.6 483.1 551.1 483.1 550.6 482.6 550.1 482.6 549.6 482.1 548.6 482.1 548.1 481.6 547.6 481.6 547.1 481.1 546.1 481.1 545.6 480.6 544.6 480.6 544.1 480.1 543.1 480.1 542.6 479.6 541.6 479.6 541.1 479.1 539.6 479.1 539.1 478.6 538.1 478.6 537.6 478.1 536.1 478.1 535.6 477.6 534.1 477.6 533.6 477.1 531.6 477.1 531.1 476.6 529.6 476.6 529.1 476.1 527.1 476.1 526.6 475.6 524.6 475.6 524.1 475.1 522.6 475.1 522.1 474.6 522.1 473.1 521.6 472.6 521.6 472.1 521.1 471.6 521.1 471.1 520.6 470.6 520.6 470.1 516.1 465.6 515.6 465.6 515.1 465.1 514.6 465.1 513.6 464.1 513.1 464.1 512.6 463.6 512.1 463.6 511.6 463.1 510.6 463.1 510.1 462.6 509.6 462.6 509.1 462.1 508.1 462.1 507.6 461.6 506.6 461.6 506.1 461.1 504.6 461.1 504.1 460.6 502.1 460.6 501.6 460.1 498.6 460.1 498.1 459.6 490.1 459.6 489.6 460.1 488.1 460.1 487.6 460.6 486.6 460.6 486.1 461.1 485.6 461.1 485.1 461.6 484.6 461.6Z" fill="rgb(55,55,55)" fill-rule="evenodd"/><path d="M484.1 465.6 484.1 503.1 486.6 505.6 487.1 505.6 487.6 506.1 488.1 506.1 488.6 506.6 489.1 506.6 489.6 507.1 498.1 507.1 498.6 506.6 503.1 506.6 503.6 506.1 507.6 506.1 508.1 505.6 511.1 505.6 511.6 505.1 514.6 505.1 515.1 504.6 517.6 504.6 518.1 504.1 520.1 504.1 520.6 503.6 522.6 503.6 523.1 503.1 525.1 503.1 525.6 502.6 527.6 502.6 528.1 502.1 529.6 502.1 530.1 501.6 531.6 501.6 532.1 501.1 533.1 501.1 533.6 500.6 535.1 500.6 535.6 500.1 536.6 500.1 537.1 499.6 538.1 499.6 538.6 499.1 539.6 499.1 540.1 498.6 540.6 498.6 541.1 498.1 542.1 498.1 542.6 497.6 543.1 497.6 543.6 497.1 544.1 497.1 544.6 496.6 545.1 496.6 545.6 496.1 546.1 496.1 547.1 495.1 547.6 495.1 549.6 493.1 571.1 493.1 571.6 492.6 602.6 492.6 603.1 492.1 618.1 492.1 618.6 491.6 624.1 491.6 624.6 491.1 626.6 491.1 627.1 490.6 625.6 490.6 625.1 490.1 621.6 490.1 621.1 489.6 612.6 489.6 612.1 489.1 584.1 489.1 583.6 488.6 553.1 488.6 552.6 488.1 549.1 488.1 547.1 486.1 546.6 486.1 545.6 485.1 545.1 485.1 544.6 484.6 544.1 484.6 543.6 484.1 543.1 484.1 542.6 483.6 542.1 483.6 541.6 483.1 541.1 483.1 540.6 482.6 539.6 482.6 539.1 482.1 538.6 482.1 538.1 481.6 537.1 481.6 536.6 481.1 535.6 481.1 535.1 480.6 534.1 480.6 533.6 480.1 532.1 480.1 531.6 479.6 530.6 479.6 530.1 479.1 528.6 479.1 528.1 478.6 526.6 478.6 526.1 478.1 524.1 478.1 523.6 477.6 522.1 477.6 521.6 477.1 519.6 477.1 519.1 476.6 518.1 476.6 517.6 476.1 517.6 475.1 517.1 474.6 517.1 473.1 516.6 472.6 516.6 472.1 515.6 471.1 515.6 470.6 513.1 468.1 512.6 468.1 511.6 467.1 511.1 467.1 510.1 466.1 509.6 466.1 509.1 465.6 508.6 465.6 508.1 465.1 507.1 465.1 506.6 464.6 505.6 464.6 505.1 464.1 504.1 464.1 503.6 463.6 502.1 463.6 501.6 463.1 499.6 463.1 499.1 462.6 489.6 462.6 489.1 463.1 488.1 463.1 487.6 463.6 487.1 463.6 486.6 464.1 486.1 464.1 485.6 464.6 485.1 464.6Z" fill="rgb(57,57,57)" fill-rule="evenodd"/><path d="M484.1 469.1 484.1 501.1 485.1 502.1 485.1 502.6 486.6 504.1 487.1 504.1 487.6 504.6 488.1 504.6 488.6 505.1 489.1 505.1 489.6 505.6 499.1 505.6 499.6 505.1 503.6 505.1 504.1 504.6 507.1 504.6 507.6 504.1 510.6 504.1 511.1 503.6 513.6 503.6 514.1 503.1 516.1 503.1 516.6 502.6 518.6 502.6 519.1 502.1 521.1 502.1 521.6 501.6 523.1 501.6 523.6 501.1 525.1 501.1 525.6 500.6 527.1 500.6 527.6 500.1 529.1 500.1 529.6 499.6 530.6 499.6 531.1 499.1 532.1 499.1 532.6 498.6 533.6 498.6 534.1 498.1 534.6 498.1 535.1 497.6 535.6 497.6 536.1 497.1 537.1 497.1 537.6 496.6 538.1 496.6 539.1 495.6 539.6 495.6 540.6 494.6 541.1 494.6 542.6 493.1 550.6 493.1 551.1 492.6 580.6 492.6 581.1 492.1 610.1 492.1 610.6 491.6 617.6 491.6 618.1 491.1 621.1 491.1 621.6 490.6 620.1 490.6 619.6 490.1 614.6 490.1 614.1 489.6 593.6 489.6 593.1 489.1 563.1 489.1 562.6 488.6 542.6 488.6 540.6 486.6 540.1 486.6 539.1 485.6 538.6 485.6 537.6 484.6 537.1 484.6 536.6 484.1 536.1 484.1 535.6 483.6 534.6 483.6 534.1 483.1 533.6 483.1 533.1 482.6 532.1 482.6 531.6 482.1 530.6 482.1 530.1 481.6 529.1 481.6 528.6 481.1 527.6 481.1 527.1 480.6 526.1 480.6 525.6 480.1 524.1 480.1 523.6 479.6 522.1 479.6 521.6 479.1 520.1 479.1 519.6 478.6 517.6 478.6 517.1 478.1 515.1 478.1 514.6 477.6 513.1 477.6 512.6 477.1 513.1 476.6 513.1 475.6 512.6 475.1 512.6 473.6 512.1 473.1 512.1 472.6 511.1 471.6 511.1 471.1 510.1 470.1 509.6 470.1 508.1 468.6 507.6 468.6 507.1 468.1 506.6 468.1 506.1 467.6 505.6 467.6 505.1 467.1 504.6 467.1 504.1 466.6 503.1 466.6 502.6 466.1 501.1 466.1 500.6 465.6 498.6 465.6 498.1 465.1 490.1 465.1 489.6 465.6 488.6 465.6 488.1 466.1 487.6 466.1 486.6 467.1 486.1 467.1Z" fill="rgb(60,60,60)" fill-rule="evenodd"/><path d="M484.6 473.6 484.6 478.6 485.1 479.1 485.1 480.6 484.6 481.1 484.6 481.6 484.1 482.1 484.1 499.6 485.1 500.6 485.1 501.1 487.1 503.1 487.6 503.1 488.6 504.1 489.6 504.1 490.1 504.6 497.1 504.6 497.6 504.1 502.1 504.1 502.6 503.6 505.6 503.6 506.1 503.1 508.6 503.1 509.1 502.6 511.6 502.6 512.1 502.1 514.1 502.1 514.6 501.6 516.6 501.6 517.1 501.1 518.6 501.1 519.1 500.6 521.1 500.6 521.6 500.1 522.6 500.1 523.1 499.6 524.6 499.6 525.1 499.1 526.1 499.1 526.6 498.6 527.6 498.6 528.1 498.1 529.1 498.1 529.6 497.6 530.1 497.6 530.6 497.1 531.1 497.1 531.6 496.6 532.1 496.6 532.6 496.1 533.1 496.1 533.6 495.6 534.1 495.6 534.6 495.1 535.1 495.1 537.6 492.6 561.6 492.6 562.1 492.1 590.1 492.1 590.6 491.6 611.6 491.6 612.1 491.1 615.6 491.1 616.1 490.6 616.6 490.6 614.1 490.6 613.6 490.1 601.6 490.1 601.1 489.6 573.6 489.6 573.1 489.1 545.1 489.1 544.6 488.6 537.1 488.6 535.1 486.6 534.6 486.6 533.6 485.6 533.1 485.6 532.6 485.1 532.1 485.1 531.6 484.6 531.1 484.6 530.6 484.1 530.1 484.1 529.6 483.6 529.1 483.6 528.6 483.1 527.6 483.1 527.1 482.6 526.1 482.6 525.6 482.1 524.6 482.1 524.1 481.6 523.1 481.6 522.6 481.1 521.1 481.1 520.6 480.6 519.6 480.6 519.1 480.1 517.6 480.1 517.1 479.6 515.1 479.6 514.6 479.1 512.6 479.1 512.1 478.6 510.1 478.6 509.6 478.1 508.6 478.1 508.1 477.6 508.1 474.1 507.6 473.6 507.6 473.1 505.1 470.6 504.6 470.6 504.1 470.1 503.6 470.1 503.1 469.6 502.6 469.6 502.1 469.1 501.6 469.1 501.1 468.6 499.6 468.6 499.1 468.1 497.6 468.1 497.1 467.6 490.6 467.6 490.1 468.1 489.6 468.1 489.1 468.6 488.6 468.6 488.1 469.1 487.6 469.1 486.1 470.6 486.1 471.1 485.6 471.6 485.6 472.1 485.1 472.6 485.1 473.1Z" fill="rgb(63,63,63)" fill-rule="evenodd"/><path d="M484.1 498.6 485.1 499.6 485.1 500.1 487.6 502.6 488.1 502.6 488.6 503.1 489.1 503.1 489.6 503.6 490.6 503.6 491.1 504.1 494.6 504.1 495.1 503.6 499.6 503.6 500.1 503.1 503.6 503.1 504.1 502.6 507.1 502.6 507.6 502.1 510.1 502.1 510.6 501.6 512.6 501.6 513.1 501.1 515.1 501.1 515.6 500.6 517.6 500.6 518.1 500.1 519.6 500.1 520.1 499.6 521.1 499.6 521.6 499.1 523.1 499.1 523.6 498.6 524.6 498.6 525.1 498.1 526.1 498.1 526.6 497.6 527.6 497.6 528.1 497.1 528.6 497.1 529.1 496.6 529.6 496.6 530.1 496.1 530.6 496.1 531.1 495.6 531.6 495.6 532.1 495.1 532.6 495.1 534.1 493.6 534.6 493.6 534.6 493.1 535.1 492.6 545.1 492.6 545.6 492.1 571.6 492.1 572.1 491.6 595.6 491.6 596.1 491.1 610.1 491.1 610.6 490.6 611.1 490.6 604.1 490.6 603.6 490.1 582.1 490.1 581.6 489.6 556.6 489.6 556.1 489.1 535.1 489.1 532.1 486.1 531.6 486.1 531.1 485.6 530.6 485.6 530.1 485.1 529.6 485.1 529.1 484.6 528.6 484.6 528.1 484.1 527.1 484.1 526.6 483.6 526.1 483.6 525.6 483.1 524.6 483.1 524.1 482.6 523.1 482.6 522.6 482.1 521.6 482.1 521.1 481.6 519.6 481.6 519.1 481.1 517.6 481.1 517.1 480.6 515.6 480.6 515.1 480.1 513.1 480.1 512.6 479.6 510.6 479.6 510.1 479.1 508.1 479.1 507.6 478.6 505.1 478.6 504.6 478.1 503.1 478.1 502.6 477.6 503.1 477.1 503.1 475.1 502.6 474.6 502.6 474.1 501.1 472.6 500.6 472.6 499.6 471.6 498.6 471.6 498.1 471.1 497.1 471.1 496.6 470.6 491.1 470.6 490.6 471.1 490.1 471.1 488.1 473.1 488.1 473.6 487.6 474.1 487.6 478.6 485.1 481.1 485.1 481.6 484.6 482.1 484.6 482.6 484.1 483.1Z" fill="rgb(66,66,66)" fill-rule="evenodd"/><path d="M484.1 497.6 484.6 498.1 484.6 498.6 486.1 500.1 486.1 500.6 486.6 500.6 488.1 502.1 488.6 502.1 489.1 502.6 489.6 502.6 490.1 503.1 497.1 503.1 497.6 502.6 501.6 502.6 502.1 502.1 505.1 502.1 505.6 501.6 508.6 501.6 509.1 501.1 511.1 501.1 511.6 500.6 513.6 500.6 514.1 500.1 516.1 500.1 516.6 499.6 518.1 499.6 518.6 499.1 520.1 499.1 520.6 498.6 521.6 498.6 522.1 498.1 523.1 498.1 523.6 497.6 524.6 497.6 525.1 497.1 526.1 497.1 526.6 496.6 527.1 496.6 527.6 496.1 528.1 496.1 528.6 495.6 529.1 495.6 529.6 495.1 530.1 495.1 531.1 494.1 531.6 494.1 533.6 492.1 555.6 492.1 556.1 491.6 577.1 491.6 577.6 491.1 592.1 491.1 592.6 490.6 595.1 490.6 585.1 490.6 584.6 490.1 565.1 490.1 564.6 489.6 541.1 489.6 540.6 489.1 533.1 489.1 531.1 487.1 530.6 487.1 529.6 486.1 529.1 486.1 528.6 485.6 528.1 485.6 527.6 485.1 527.1 485.1 526.6 484.6 525.6 484.6 525.1 484.1 524.1 484.1 523.6 483.6 523.1 483.6 522.6 483.1 521.6 483.1 521.1 482.6 519.6 482.6 519.1 482.1 517.6 482.1 517.1 481.6 515.6 481.6 515.1 481.1 513.6 481.1 513.1 480.6 511.1 480.6 510.6 480.1 508.6 480.1 508.1 479.6 505.6 479.6 505.1 479.1 502.6 479.1 502.1 478.6 498.1 478.6 497.6 478.1 490.1 478.1 489.6 478.6 489.1 478.6 488.6 479.1 488.1 479.1 485.1 482.1 485.1 482.6 484.6 483.1 484.6 483.6 484.1 484.1Z" fill="rgb(69,69,69)" fill-rule="evenodd"/><path d="M484.1 496.6 484.6 497.1 484.6 497.6 485.6 498.6 485.6 499.1 487.1 500.6 487.6 500.6 488.6 501.6 489.1 501.6 489.6 502.1 491.1 502.1 491.6 502.6 494.1 502.6 494.6 502.1 499.6 502.1 500.1 501.6 503.6 501.6 504.1 501.1 506.6 501.1 507.1 500.6 509.6 500.6 510.1 500.1 512.1 500.1 512.6 499.6 514.6 499.6 515.1 499.1 516.6 499.1 517.1 498.6 518.6 498.6 519.1 498.1 520.1 498.1 520.6 497.6 521.6 497.6 522.1 497.1 523.1 497.1 523.6 496.6 524.6 496.6 525.1 496.1 525.6 496.1 526.1 495.6 526.6 495.6 527.1 495.1 527.6 495.1 528.1 494.6 528.6 494.6 531.1 492.1 540.6 492.1 541.1 491.6 561.1 491.6 561.6 491.1 574.6 491.1 575.1 490.6 577.1 490.6 568.1 490.6 567.6 490.1 550.1 490.1 549.6 489.6 531.1 489.6 528.6 487.1 528.1 487.1 527.6 486.6 527.1 486.6 526.6 486.1 526.1 486.1 525.6 485.6 525.1 485.6 524.6 485.1 524.1 485.1 523.6 484.6 522.6 484.6 522.1 484.1 521.1 484.1 520.6 483.6 519.6 483.6 519.1 483.1 518.1 483.1 517.6 482.6 516.1 482.6 515.6 482.1 514.1 482.1 513.6 481.6 511.6 481.6 511.1 481.1 509.1 481.1 508.6 480.6 506.6 480.6 506.1 480.1 503.1 480.1 502.6 479.6 499.6 479.6 499.1 479.1 493.6 479.1 493.1 478.6 492.1 478.6 491.6 479.1 490.1 479.1 489.6 479.6 489.1 479.6 488.6 480.1 488.1 480.1 485.1 483.1 485.1 483.6 484.6 484.1 484.6 484.6 484.1 485.1Z" fill="rgb(73,73,73)" fill-rule="evenodd"/><path d="M484.1 495.1 484.6 495.6 484.6 496.1 485.1 496.6 485.1 497.1 485.6 497.6 485.6 498.1 487.6 500.1 488.1 500.1 488.6 500.6 489.1 500.6 489.6 501.1 490.6 501.1 491.1 501.6 497.1 501.6 497.6 501.1 501.6 501.1 502.1 500.6 505.1 500.6 505.6 500.1 508.1 500.1 508.6 499.6 510.6 499.6 511.1 499.1 513.1 499.1 513.6 498.6 515.1 498.6 515.6 498.1 517.1 498.1 517.6 497.6 518.6 497.6 519.1 497.1 520.1 497.1 520.6 496.6 521.6 496.6 522.1 496.1 523.1 496.1 523.6 495.6 524.1 495.6 524.6 495.1 525.1 495.1 525.6 494.6 526.1 494.6 527.1 493.6 527.6 493.6 528.1 493.1 528.1 492.6 529.1 491.6 546.6 491.6 547.1 491.1 558.6 491.1 559.1 490.6 561.1 490.6 553.1 490.6 552.6 490.1 536.1 490.1 535.6 489.6 528.6 489.6 526.1 487.1 525.6 487.1 525.1 486.6 524.6 486.6 524.1 486.1 523.6 486.1 523.1 485.6 522.6 485.6 522.1 485.1 521.1 485.1 520.6 484.6 519.6 484.6 519.1 484.1 518.1 484.1 517.6 483.6 516.1 483.6 515.6 483.1 514.1 483.1 513.6 482.6 512.1 482.6 511.6 482.1 509.6 482.1 509.1 481.6 507.1 481.6 506.6 481.1 504.1 481.1 503.6 480.6 500.6 480.6 500.1 480.1 495.6 480.1 495.1 479.6 491.6 479.6 491.1 480.1 490.1 480.1 489.6 480.6 489.1 480.6 488.6 481.1 488.1 481.1 485.6 483.6 485.6 484.1 484.6 485.1 484.6 486.1 484.1 486.6Z" fill="rgb(77,77,77)" fill-rule="evenodd"/><path d="M484.1 494.1 484.6 494.6 484.6 495.6 485.6 496.6 485.6 497.1 488.1 499.6 488.6 499.6 489.1 500.1 489.6 500.1 490.1 500.6 491.1 500.6 491.6 501.1 495.6 501.1 496.1 500.6 500.6 500.6 501.1 500.1 504.1 500.1 504.6 499.6 507.1 499.6 507.6 499.1 509.6 499.1 510.1 498.6 512.1 498.6 512.6 498.1 514.1 498.1 514.6 497.6 516.1 497.6 516.6 497.1 517.6 497.1 518.1 496.6 519.1 496.6 519.6 496.1 520.6 496.1 521.1 495.6 522.1 495.6 522.6 495.1 523.1 495.1 523.6 494.6 524.1 494.6 525.1 493.6 525.6 493.6 526.6 492.6 526.6 492.1 527.1 491.6 533.1 491.6 533.6 491.1 544.6 491.1 545.1 490.6 546.6 490.6 539.1 490.6 538.6 490.1 527.1 490.1 524.6 487.6 524.1 487.6 523.1 486.6 522.6 486.6 522.1 486.1 521.1 486.1 520.6 485.6 520.1 485.6 519.6 485.1 518.6 485.1 518.1 484.6 517.1 484.6 516.6 484.1 515.1 484.1 514.6 483.6 513.1 483.6 512.6 483.1 511.1 483.1 510.6 482.6 508.6 482.6 508.1 482.1 506.1 482.1 505.6 481.6 502.6 481.6 502.1 481.1 498.6 481.1 498.1 480.6 490.6 480.6 490.1 481.1 489.6 481.1 489.1 481.6 488.6 481.6 487.6 482.6 487.1 482.6 486.1 483.6 486.1 484.1 485.1 485.1 485.1 485.6 484.6 486.1 484.6 487.1 484.1 487.6Z" fill="rgb(82,82,82)" fill-rule="evenodd"/><path d="M484.1 493.1 484.6 493.6 484.6 494.6 485.1 495.1 485.1 495.6 485.6 496.1 485.6 496.6 488.1 499.1 488.6 499.1 489.1 499.6 489.6 499.6 490.1 500.1 491.1 500.1 491.6 500.6 496.6 500.6 497.1 500.1 501.1 500.1 501.6 499.6 504.6 499.6 505.1 499.1 507.1 499.1 507.6 498.6 510.1 498.6 510.6 498.1 512.1 498.1 512.6 497.6 514.1 497.6 514.6 497.1 516.1 497.1 516.6 496.6 517.6 496.6 518.1 496.1 519.1 496.1 519.6 495.6 520.1 495.6 520.6 495.1 521.1 495.1 521.6 494.6 522.1 494.6 522.6 494.1 523.1 494.1 524.1 493.1 524.6 493.1 525.1 492.6 525.1 492.1 526.1 491.1 531.6 491.1 532.1 490.6 533.6 490.6 526.6 490.6 526.1 490.1 525.6 490.1 523.1 487.6 522.6 487.6 522.1 487.1 521.6 487.1 521.1 486.6 520.6 486.6 520.1 486.1 519.6 486.1 519.1 485.6 518.1 485.6 517.6 485.1 516.6 485.1 516.1 484.6 514.6 484.6 514.1 484.1 513.1 484.1 512.6 483.6 510.6 483.6 510.1 483.1 508.6 483.1 508.1 482.6 505.6 482.6 505.1 482.1 502.6 482.1 502.1 481.6 498.6 481.6 498.1 481.1 490.6 481.1 490.1 481.6 489.6 481.6 489.1 482.1 488.6 482.1 485.6 485.1 485.6 485.6 485.1 486.1 485.1 486.6 484.6 487.1 484.6 488.1 484.1 488.6Z" fill="rgb(86,86,86)" fill-rule="evenodd"/><path d="M484.1 490.1 484.1 491.6 484.6 492.1 484.6 494.1 485.1 494.6 485.1 495.1 485.6 495.6 485.6 496.1 488.1 498.6 488.6 498.6 489.6 499.6 490.6 499.6 491.1 500.1 497.1 500.1 497.6 499.6 501.6 499.6 502.1 499.1 504.6 499.1 505.1 498.6 507.6 498.6 508.1 498.1 510.1 498.1 510.6 497.6 512.1 497.6 512.6 497.1 514.1 497.1 514.6 496.6 515.6 496.6 516.1 496.1 517.1 496.1 517.6 495.6 518.6 495.6 519.1 495.1 519.6 495.1 520.1 494.6 520.6 494.6 521.1 494.1 521.6 494.1 522.6 493.1 523.1 493.1 523.1 492.6 524.1 491.6 524.1 490.6 523.6 490.1 523.6 489.6 521.6 487.6 521.1 487.6 520.6 487.1 520.1 487.1 519.6 486.6 518.6 486.6 518.1 486.1 517.6 486.1 517.1 485.6 516.1 485.6 515.6 485.1 514.6 485.1 514.1 484.6 512.6 484.6 512.1 484.1 510.6 484.1 510.1 483.6 508.1 483.6 507.6 483.1 505.6 483.1 505.1 482.6 502.6 482.6 502.1 482.1 498.6 482.1 498.1 481.6 491.1 481.6 490.6 482.1 489.6 482.1 489.1 482.6 488.6 482.6 485.6 485.6 485.6 486.1 485.1 486.6 485.1 487.6 484.6 488.1 484.6 489.6Z" fill="rgb(91,91,91)" fill-rule="evenodd"/><path d="M484.6 489.1 484.6 492.6 485.1 493.1 485.1 494.1 485.6 494.6 485.6 495.1 486.1 495.6 486.1 496.1 488.1 498.1 488.6 498.1 489.6 499.1 490.6 499.1 491.1 499.6 498.1 499.6 498.6 499.1 502.1 499.1 502.6 498.6 505.1 498.6 505.6 498.1 507.6 498.1 508.1 497.6 510.1 497.6 510.6 497.1 512.1 497.1 512.6 496.6 513.6 496.6 514.1 496.1 515.1 496.1 515.6 495.6 516.6 495.6 517.1 495.1 518.1 495.1 518.6 494.6 519.1 494.6 519.6 494.1 520.1 494.1 522.6 491.6 522.6 490.6 522.1 490.1 522.1 489.6 520.6 488.1 520.1 488.1 519.6 487.6 519.1 487.6 518.6 487.1 518.1 487.1 517.6 486.6 517.1 486.6 516.6 486.1 515.6 486.1 515.1 485.6 514.1 485.6 513.6 485.1 512.1 485.1 511.6 484.6 510.6 484.6 510.1 484.1 508.1 484.1 507.6 483.6 505.6 483.6 505.1 483.1 502.6 483.1 502.1 482.6 499.1 482.6 498.6 482.1 491.1 482.1 490.6 482.6 489.6 482.6 488.6 483.6 488.1 483.6 486.1 485.6 486.1 486.1 485.6 486.6 485.6 487.1 485.1 487.6 485.1 488.6Z" fill="rgb(96,96,96)" fill-rule="evenodd"/><path d="M485.1 488.6 485.1 493.6 485.6 494.1 485.6 494.6 486.1 495.1 486.1 495.6 488.1 497.6 488.6 497.6 489.6 498.6 490.6 498.6 491.1 499.1 498.6 499.1 499.1 498.6 502.6 498.6 503.1 498.1 505.1 498.1 505.6 497.6 507.6 497.6 508.1 497.1 510.1 497.1 510.6 496.6 511.6 496.6 512.1 496.1 513.6 496.1 514.1 495.6 515.1 495.6 515.6 495.1 516.1 495.1 516.6 494.6 517.6 494.6 518.6 493.6 519.1 493.6 521.1 491.6 521.1 490.1 519.1 488.1 518.6 488.1 518.1 487.6 517.6 487.6 517.1 487.1 516.6 487.1 516.1 486.6 515.1 486.6 514.6 486.1 513.6 486.1 513.1 485.6 512.1 485.6 511.6 485.1 510.1 485.1 509.6 484.6 508.1 484.6 507.6 484.1 505.6 484.1 505.1 483.6 502.6 483.6 502.1 483.1 499.1 483.1 498.6 482.6 491.1 482.6 490.6 483.1 490.1 483.1 489.6 483.6 489.1 483.6 488.6 484.1 488.1 484.1 486.6 485.6 486.6 486.1 485.6 487.1 485.6 488.1Z" fill="rgb(101,101,101)" fill-rule="evenodd"/><path d="M485.1 489.6 485.1 492.1 485.6 492.6 485.6 493.6 486.1 494.1 486.1 494.6 486.6 495.1 486.6 495.6 488.1 497.1 488.6 497.1 489.6 498.1 490.6 498.1 491.1 498.6 493.1 498.6 493.6 499.1 494.1 499.1 494.6 498.6 499.6 498.6 500.1 498.1 502.6 498.1 503.1 497.6 505.6 497.6 506.1 497.1 508.1 497.1 508.6 496.6 510.1 496.6 510.6 496.1 511.6 496.1 512.1 495.6 513.1 495.6 513.6 495.1 514.6 495.1 515.1 494.6 515.6 494.6 516.1 494.1 516.6 494.1 517.1 493.6 517.6 493.6 518.6 492.6 519.1 492.6 519.1 492.1 519.6 491.6 519.6 490.1 517.6 488.1 517.1 488.1 516.6 487.6 516.1 487.6 515.6 487.1 514.6 487.1 514.1 486.6 513.6 486.6 513.1 486.1 511.6 486.1 511.1 485.6 510.1 485.6 509.6 485.1 508.1 485.1 507.6 484.6 505.6 484.6 505.1 484.1 502.6 484.1 502.1 483.6 499.1 483.6 498.6 483.1 491.1 483.1 490.6 483.6 490.1 483.6 489.6 484.1 489.1 484.1 488.1 485.1 487.6 485.1 487.1 485.6 487.1 486.1 486.1 487.1 486.1 487.6 485.6 488.1 485.6 489.1Z" fill="rgb(107,107,107)" fill-rule="evenodd"/><path d="M485.6 489.1 485.6 492.6 486.1 493.1 486.1 493.6 486.6 494.1 486.6 494.6 488.6 496.6 489.1 496.6 489.6 497.1 490.1 497.1 490.6 497.6 491.6 497.6 492.1 498.1 496.6 498.1 497.1 497.6 500.6 497.6 501.1 497.1 503.6 497.1 504.1 496.6 506.1 496.6 506.6 496.1 508.6 496.1 509.1 495.6 510.1 495.6 510.6 495.1 512.1 495.1 512.6 494.6 513.6 494.6 514.1 494.1 514.6 494.1 515.1 493.6 515.6 493.6 516.1 493.1 516.6 493.1 517.6 492.1 517.6 491.6 518.1 491.1 518.1 490.6 517.6 490.1 517.6 489.6 517.1 489.6 516.1 488.6 515.6 488.6 515.1 488.1 514.6 488.1 514.1 487.6 513.6 487.6 513.1 487.1 512.1 487.1 511.6 486.6 510.1 486.6 509.6 486.1 508.6 486.1 508.1 485.6 506.1 485.6 505.6 485.1 503.6 485.1 503.1 484.6 500.1 484.6 499.6 484.1 495.6 484.1 495.1 483.6 493.1 483.6 492.6 484.1 491.1 484.1 490.6 484.6 489.6 484.6 488.6 485.6 488.1 485.6 487.1 486.6 487.1 487.1 486.1 488.1 486.1 488.6Z" fill="rgb(112,112,112)" fill-rule="evenodd"/><path d="M486.1 489.1 486.1 492.6 486.6 493.1 486.6 493.6 488.6 495.6 489.1 495.6 489.6 496.1 490.1 496.1 490.6 496.6 491.6 496.6 492.1 497.1 497.1 497.1 497.6 496.6 501.1 496.6 501.6 496.1 504.1 496.1 504.6 495.6 506.6 495.6 507.1 495.1 508.6 495.1 509.1 494.6 510.1 494.6 510.6 494.1 512.1 494.1 512.6 493.6 513.1 493.6 513.6 493.1 514.1 493.1 514.6 492.6 515.1 492.6 516.1 491.6 516.1 490.1 515.6 489.6 515.1 489.6 514.6 489.1 514.1 489.1 513.6 488.6 513.1 488.6 512.6 488.1 512.1 488.1 511.6 487.6 510.1 487.6 509.6 487.1 508.6 487.1 508.1 486.6 506.1 486.6 505.6 486.1 503.6 486.1 503.1 485.6 500.6 485.6 500.1 485.1 496.1 485.1 495.6 484.6 493.1 484.6 492.6 485.1 491.1 485.1 490.6 485.6 489.6 485.6 488.6 486.6 488.1 486.6 487.1 487.6 487.1 488.1Z" fill="rgb(118,118,118)" fill-rule="evenodd"/><path d="M486.1 490.6 486.1 491.1 486.6 491.6 486.6 492.6 489.1 495.1 489.6 495.1 490.1 495.6 491.1 495.6 491.6 496.1 498.6 496.1 499.1 495.6 502.1 495.6 502.6 495.1 504.6 495.1 505.1 494.6 507.1 494.6 507.6 494.1 509.1 494.1 509.6 493.6 510.6 493.6 511.1 493.1 512.1 493.1 512.6 492.6 513.1 492.6 514.6 491.1 514.6 490.6 513.6 489.6 513.1 489.6 512.6 489.1 512.1 489.1 511.6 488.6 510.6 488.6 510.1 488.1 509.1 488.1 508.6 487.6 507.1 487.6 506.6 487.1 504.6 487.1 504.1 486.6 501.6 486.6 501.1 486.1 497.6 486.1 497.1 485.6 492.1 485.6 491.6 486.1 490.6 486.1 490.1 486.6 489.6 486.6 489.1 487.1 488.6 487.1 486.6 489.1 486.6 490.1Z" fill="rgb(124,124,124)" fill-rule="evenodd"/><path d="M486.6 490.6 486.6 491.6 487.1 492.1 487.1 492.6 488.6 494.1 489.1 494.1 489.6 494.6 490.1 494.6 490.6 495.1 492.6 495.1 493.1 495.6 496.1 495.6 496.6 495.1 500.6 495.1 501.1 494.6 503.6 494.6 504.1 494.1 506.1 494.1 506.6 493.6 508.1 493.6 508.6 493.1 510.1 493.1 510.6 492.6 511.1 492.6 511.6 492.1 512.1 492.1 513.1 491.1 513.1 490.6 512.6 490.1 512.1 490.1 511.6 489.6 511.1 489.6 510.6 489.1 509.6 489.1 509.1 488.6 508.1 488.6 507.6 488.1 505.6 488.1 505.1 487.6 503.1 487.6 502.6 487.1 499.6 487.1 499.1 486.6 491.6 486.6 491.1 487.1 490.1 487.1 489.6 487.6 489.1 487.6 488.1 488.6 487.6 488.6 487.6 489.1 487.1 489.6 487.1 490.1Z" fill="rgb(131,131,131)" fill-rule="evenodd"/><path d="M487.1 490.1 487.1 491.6 487.6 492.1 487.6 492.6 488.1 493.1 488.6 493.1 489.1 493.6 489.6 493.6 490.1 494.1 490.6 494.1 491.1 494.6 499.6 494.6 500.1 494.1 503.1 494.1 503.6 493.6 505.6 493.6 506.1 493.1 507.6 493.1 508.1 492.6 509.6 492.6 510.1 492.1 510.6 492.1 511.6 491.1 511.6 490.6 511.1 490.1 510.6 490.1 510.1 489.6 509.1 489.6 508.6 489.1 507.6 489.1 507.1 488.6 505.1 488.6 504.6 488.1 502.1 488.1 501.6 487.6 498.1 487.6 497.6 487.1 492.1 487.1 491.6 487.6 490.6 487.6 490.1 488.1 489.1 488.1Z" fill="rgb(137,137,137)" fill-rule="evenodd"/><path d="M487.6 490.1 487.6 492.1 488.6 493.1 489.1 493.1 489.6 493.6 490.6 493.6 491.1 494.1 493.1 494.1 493.6 494.6 495.6 494.6 496.1 494.1 500.6 494.1 501.1 493.6 504.1 493.6 504.6 493.1 506.1 493.1 506.6 492.6 508.1 492.6 508.6 492.1 509.1 492.1 509.6 491.6 510.1 491.6 510.1 490.6 509.6 490.1 509.1 490.1 508.6 489.6 508.1 489.6 507.6 489.1 506.1 489.1 505.6 488.6 503.1 488.6 502.6 488.1 499.6 488.1 499.1 487.6 491.6 487.6 491.1 488.1 490.1 488.1 489.6 488.6 489.1 488.6Z" fill="rgb(144,144,144)" fill-rule="evenodd"/><path d="M487.6 490.1 487.6 491.6 489.1 493.1 489.6 493.1 490.1 493.6 491.1 493.6 491.6 494.1 499.1 494.1 499.6 493.6 502.6 493.6 503.1 493.1 505.1 493.1 505.6 492.6 507.1 492.6 507.6 492.1 508.1 492.1 508.6 491.6 509.1 491.6 509.1 490.6 508.6 490.1 508.1 490.1 507.6 489.6 506.6 489.6 506.1 489.1 504.6 489.1 504.1 488.6 502.1 488.6 501.6 488.1 497.6 488.1 497.1 487.6 492.6 487.6 492.1 488.1 490.6 488.1 490.1 488.6 489.6 488.6 489.1 489.1 488.6 489.1Z" fill="rgb(151,151,151)" fill-rule="evenodd"/><path d="M488.1 490.1 488.1 492.1 488.6 492.6 489.1 492.6 489.6 493.1 490.1 493.1 490.6 493.6 492.1 493.6 492.6 494.1 497.6 494.1 498.1 493.6 501.6 493.6 502.1 493.1 504.1 493.1 504.6 492.6 506.1 492.6 506.6 492.1 507.1 492.1 507.6 491.6 508.1 491.6 508.6 491.1 507.6 490.1 507.1 490.1 506.6 489.6 505.6 489.6 505.1 489.1 503.6 489.1 503.1 488.6 500.6 488.6 500.1 488.1 495.6 488.1 495.1 487.6 494.1 487.6 493.6 488.1 491.1 488.1 490.6 488.6 490.1 488.6 489.6 489.1 489.1 489.1Z" fill="rgb(158,158,158)" fill-rule="evenodd"/><path d="M488.1 490.1 488.1 491.6 489.1 492.6 489.6 492.6 490.1 493.1 490.6 493.1 491.1 493.6 493.1 493.6 493.6 494.1 495.6 494.1 496.1 493.6 500.1 493.6 500.6 493.1 503.1 493.1 503.6 492.6 505.1 492.6 505.6 492.1 506.6 492.1 507.6 491.1 507.6 490.6 507.1 490.1 506.6 490.1 506.1 489.6 504.6 489.6 504.1 489.1 502.6 489.1 502.1 488.6 499.1 488.6 498.6 488.1 491.6 488.1 491.1 488.6 490.1 488.6 489.1 489.6 488.6 489.6Z" fill="rgb(165,165,165)" fill-rule="evenodd"/><path d="M488.1 491.1 488.6 491.6 488.6 492.1 489.1 492.1 490.1 493.1 491.1 493.1 491.6 493.6 499.1 493.6 499.6 493.1 502.1 493.1 502.6 492.6 504.1 492.6 504.6 492.1 505.6 492.1 506.1 491.6 506.6 491.6 506.6 490.6 506.1 490.1 505.6 490.1 505.1 489.6 504.1 489.6 503.6 489.1 501.6 489.1 501.1 488.6 498.1 488.6 497.6 488.1 492.6 488.1 492.1 488.6 490.6 488.6 490.1 489.1 489.6 489.1 488.6 490.1 488.6 490.6Z" fill="rgb(172,172,172)" fill-rule="evenodd"/><path d="M488.6 490.6 488.6 491.6 489.6 492.6 490.1 492.6 490.6 493.1 492.1 493.1 492.6 493.6 497.6 493.6 498.1 493.1 501.1 493.1 501.6 492.6 503.1 492.6 503.6 492.1 504.6 492.1 505.1 491.6 505.6 491.6 506.1 491.1 506.1 490.6 505.6 490.6 505.1 490.1 504.6 490.1 504.1 489.6 503.1 489.6 502.6 489.1 500.6 489.1 500.1 488.6 496.1 488.6 495.6 488.1 494.1 488.1 493.6 488.6 491.1 488.6 490.6 489.1 490.1 489.1 489.6 489.6 489.1 489.6 489.1 490.1Z" fill="rgb(180,180,180)" fill-rule="evenodd"/><path d="M489.1 490.1 489.1 491.6 490.1 492.6 491.1 492.6 491.6 493.1 493.1 493.1 493.6 493.6 496.1 493.6 496.6 493.1 500.1 493.1 500.6 492.6 502.1 492.6 502.6 492.1 504.1 492.1 505.1 491.1 505.1 490.6 504.6 490.1 503.6 490.1 503.1 489.6 502.1 489.6 501.6 489.1 499.1 489.1 498.6 488.6 492.1 488.6 491.6 489.1 490.6 489.1 490.1 489.6 489.6 489.6Z" fill="rgb(187,187,187)" fill-rule="evenodd"/><path d="M489.6 490.1 489.6 491.6 490.6 492.6 491.6 492.6 492.1 493.1 499.1 493.1 499.6 492.6 501.6 492.6 502.1 492.1 503.1 492.1 503.6 491.6 504.1 491.6 504.6 491.1 504.6 490.6 504.1 490.6 503.6 490.1 503.1 490.1 502.6 489.6 501.1 489.6 500.6 489.1 498.1 489.1 497.6 488.6 492.6 488.6 492.1 489.1 491.1 489.1 490.6 489.6 490.1 489.6Z" fill="rgb(195,195,195)" fill-rule="evenodd"/><path d="M489.6 491.1 491.1 492.6 492.1 492.6 492.6 493.1 498.1 493.1 498.6 492.6 500.6 492.6 501.1 492.1 502.1 492.1 502.6 491.6 503.1 491.6 503.6 491.1 503.6 490.6 503.1 490.1 502.1 490.1 501.6 489.6 500.1 489.6 499.6 489.1 496.6 489.1 496.1 488.6 494.1 488.6 493.6 489.1 491.6 489.1 491.1 489.6 490.6 489.6 490.1 490.1 490.1 490.6Z" fill="rgb(203,203,203)" fill-rule="evenodd"/><path d="M490.1 490.6 490.1 491.1 491.6 492.6 493.1 492.6 493.6 493.1 496.6 493.1 497.1 492.6 499.6 492.6 500.1 492.1 501.6 492.1 502.1 491.6 502.6 491.6 503.1 491.1 503.1 490.6 502.6 490.6 502.1 490.1 501.6 490.1 501.1 489.6 499.1 489.6 498.6 489.1 492.1 489.1 491.6 489.6 491.1 489.6Z" fill="rgb(212,212,212)" fill-rule="evenodd"/><path d="M490.6 490.6 490.6 491.6 491.1 492.1 491.6 492.1 492.1 492.6 494.6 492.6 495.1 493.1 495.6 492.6 499.1 492.6 499.6 492.1 501.1 492.1 501.6 491.6 502.1 491.6 502.6 491.1 502.6 490.6 502.1 490.6 501.6 490.1 500.6 490.1 500.1 489.6 498.6 489.6 498.1 489.1 493.1 489.1 492.6 489.6 491.6 489.6Z" fill="rgb(220,220,220)" fill-rule="evenodd"/><path d="M491.1 490.6 491.1 491.1 492.1 492.1 492.6 492.1 493.1 492.6 497.1 492.6 497.6 492.1 499.6 492.1 500.1 491.6 500.6 491.6 501.1 491.1 501.1 490.6 500.6 490.6 500.1 490.1 499.1 490.1 498.6 489.6 496.1 489.6 495.6 489.1 494.6 489.1 494.1 489.6 492.6 489.6 492.1 490.1 491.6 490.1Z" fill="rgb(228,228,228)" fill-rule="evenodd"/><path d="M492.1 490.6 492.1 491.6 492.6 491.6 493.1 492.1 497.6 492.1 498.1 491.6 498.6 491.6 499.1 491.1 499.1 490.6 498.6 490.6 498.1 490.1 497.1 490.1 496.6 489.6 493.6 489.6 493.1 490.1 492.6 490.1Z" fill="rgb(237,237,237)" fill-rule="evenodd"/><path d="M493.1 490.6 493.1 491.6 496.6 491.6 497.1 491.1 497.6 491.1 497.1 490.6 496.6 490.6 496.1 490.1 493.6 490.1Z" fill="rgb(246,246,246)" fill-rule="evenodd"/><path d="M495.6 491.1 495.1 490.6 494.6 491.1Z" fill="rgb(255,255,255)" fill-rule="evenodd"/></g></g>
<rect x="483.9" y="434.8" width="172.1" height="111.6" fill="none" stroke="#333" stroke-width="0.9"/>
<path d="M483.9 546.4v1.6M483.9 434.8v-1.6M524.38 546.4v1.6M524.38 434.8v-1.6M564.85 546.4v1.6M564.85 434.8v-1.6M605.32 546.4v1.6M605.32 434.8v-1.6M645.8 546.4v1.6M645.8 434.8v-1.6M483.9 539.55h-1.6M656 539.55h1.6M483.9 523.13h-1.6M656 523.13h1.6M483.9 506.72h-1.6M656 506.72h1.6M483.9 490.3h-1.6M656 490.3h1.6M483.9 473.88h-1.6M656 473.88h1.6M483.9 457.47h-1.6M656 457.47h1.6M483.9 441.05h-1.6M656 441.05h1.6" stroke="#333" stroke-width="0.8"/>
<text x="483.9" y="554.3" font-size="6.3" fill="#222" text-anchor="middle" textLength="3.6" lengthAdjust="spacingAndGlyphs" stroke="#222" stroke-width="0.18">0</text>
<text x="524.38" y="554.3" font-size="6.3" fill="#222" text-anchor="middle" textLength="7.2" lengthAdjust="spacingAndGlyphs" stroke="#222" stroke-width="0.18">50</text>
<text x="564.85" y="554.3" font-size="6.3" fill="#222" text-anchor="middle" textLength="10.8" lengthAdjust="spacingAndGlyphs" stroke="#222" stroke-width="0.18">100</text>
<text x="605.32" y="554.3" font-size="6.3" fill="#222" text-anchor="middle" textLength="10.8" lengthAdjust="spacingAndGlyphs" stroke="#222" stroke-width="0.18">150</text>
<text x="645.8" y="554.3" font-size="6.3" fill="#222" text-anchor="middle" textLength="10.8" lengthAdjust="spacingAndGlyphs" stroke="#222" stroke-width="0.18">200</text>
<text x="479.9" y="541.75" font-size="6.3" fill="#222" text-anchor="end" textLength="11.6" lengthAdjust="spacingAndGlyphs" stroke="#222" stroke-width="0.18">-60</text>
<text x="479.9" y="525.33" font-size="6.3" fill="#222" text-anchor="end" textLength="11.6" lengthAdjust="spacingAndGlyphs" stroke="#222" stroke-width="0.18">-40</text>
<text x="479.9" y="508.92" font-size="6.3" fill="#222" text-anchor="end" textLength="11.6" lengthAdjust="spacingAndGlyphs" stroke="#222" stroke-width="0.18">-20</text>
<text x="477" y="492.5" font-size="6.3" fill="#222" text-anchor="end" textLength="3.6" lengthAdjust="spacingAndGlyphs" stroke="#222" stroke-width="0.18">0</text>
<text x="479.9" y="476.08" font-size="6.3" fill="#222" text-anchor="end" textLength="7.8" lengthAdjust="spacingAndGlyphs" stroke="#222" stroke-width="0.18">20</text>
<text x="479.9" y="459.67" font-size="6.3" fill="#222" text-anchor="end" textLength="7.8" lengthAdjust="spacingAndGlyphs" stroke="#222" stroke-width="0.18">40</text>
<text x="479.9" y="443.25" font-size="6.3" fill="#222" text-anchor="end" textLength="7.8" lengthAdjust="spacingAndGlyphs" stroke="#222" stroke-width="0.18">60</text>
<text x="570" y="565.9" font-size="12" fill="#222" text-anchor="middle">B<tspan font-size="8" dy="3">c</tspan><tspan dy="-3"> (mT)</tspan></text>
<text x="466.6" y="493.2" font-size="12" fill="#222" text-anchor="middle" transform="rotate(-90 466.6 493.2)">B<tspan font-size="8" dy="3">u</tspan><tspan dy="-3"> (mT)</tspan></text>
<rect x="494.5" y="442.4" width="19.6" height="19.2" fill="#fff" stroke="#222" stroke-width="0.9"/>
<text x="504.3" y="457.76" font-size="19" fill="#000" text-anchor="middle" stroke="#000" stroke-width="0.55">l</text>
<text x="519.5" y="458.2" font-size="14" fill="#111" textLength="89.6" lengthAdjust="spacingAndGlyphs" stroke="#111" stroke-width="0.3">926R04-01-6</text>
<rect x="659.1" y="448.8" width="4.2" height="80.7" fill="url(#flg)" stroke="#333" stroke-width="0.5"/>
<path d="M663.3 459.8h1.5M663.3 470.9h1.5M663.3 481.9h1.5M663.3 492.9h1.5M663.3 504h1.5M663.3 515h1.5M663.3 525.6h1.5" stroke="#333" stroke-width="0.6"/>
<text x="666.6" y="462.1" font-size="7" fill="#222" textLength="15" lengthAdjust="spacingAndGlyphs" stroke="#222" stroke-width="0.18">1000</text>
<text x="666.6" y="473.2" font-size="7" fill="#222" textLength="11.25" lengthAdjust="spacingAndGlyphs" stroke="#222" stroke-width="0.18">800</text>
<text x="666.6" y="484.2" font-size="7" fill="#222" textLength="11.25" lengthAdjust="spacingAndGlyphs" stroke="#222" stroke-width="0.18">600</text>
<text x="666.6" y="495.2" font-size="7" fill="#222" textLength="11.25" lengthAdjust="spacingAndGlyphs" stroke="#222" stroke-width="0.18">400</text>
<text x="666.6" y="506.3" font-size="7" fill="#222" textLength="11.25" lengthAdjust="spacingAndGlyphs" stroke="#222" stroke-width="0.18">200</text>
<text x="666.6" y="517.3" font-size="7" fill="#222" textLength="3.75" lengthAdjust="spacingAndGlyphs" stroke="#222" stroke-width="0.18">0</text>
<text x="666.6" y="527.9" font-size="7" fill="#222" textLength="15.4" lengthAdjust="spacingAndGlyphs" stroke="#222" stroke-width="0.18">-200</text>
<text x="658.8" y="445.3" font-size="6" fill="#222" textLength="22.3" lengthAdjust="spacingAndGlyphs">Am<tspan font-size="4" dy="-2">2</tspan><tspan dy="2">/T</tspan><tspan font-size="4" dy="-2">2</tspan></text>
<g clip-path="url(#fmc)"><g filter="url(#fm)"><rect x="26.6" y="577.9" width="178.70000000000002" height="117.89999999999998" fill="rgb(51,51,51)"/><path d="M65.8 649.1 65.8 649.6 65.3 650.1 65.3 650.6 64.8 651.1 64.8 652.6 64.3 653.1 64.3 656.6 64.8 657.1 64.8 658.6 65.3 659.1 65.3 659.6 65.8 660.1 65.8 660.6 66.8 661.6 66.8 662.1 67.8 663.1 68.3 663.1 73.3 668.1 73.8 668.1 78.8 673.1 79.3 673.1 83.8 677.6 84.3 677.6 89.3 682.6 89.8 682.6 94.8 687.6 95.3 687.6 100.3 692.6 128.3 692.6 128.3 691.1 127.8 690.6 127.8 689.6 127.3 689.1 127.3 688.6 126.3 687.6 126.3 687.1 123.8 684.6 123.3 684.6 118.8 680.1 118.3 680.1 113.3 675.1 112.8 675.1 107.8 670.1 107.3 670.1 102.3 665.1 101.8 665.1 97.3 660.6 96.8 660.6 91.8 655.6 91.3 655.6 86.3 650.6 85.8 650.6 81.8 646.6 81.3 646.6 80.3 645.6 79.8 645.6 79.3 645.1 78.3 645.1 77.8 644.6 75.8 644.6 75.3 644.1 74.8 644.1 74.3 644.6 71.8 644.6 71.3 645.1 70.8 645.1 70.3 645.6 69.8 645.6 69.3 646.1 68.8 646.1ZM31.9 627.1 31.4 627.6 29.9 627.6 29.9 692.6 46.9 692.6 46.9 691.1 47.4 690.6 47.4 688.6 47.9 688.1 47.9 685.6 48.4 685.1 48.4 682.1 48.9 681.6 48.9 676.1 49.4 675.6 49.4 664.1 48.9 663.6 48.9 658.6 48.4 658.1 48.4 654.6 47.9 654.1 47.9 652.1 47.4 651.6 47.4 649.6 46.9 649.1 46.9 647.6 46.4 647.1 46.4 645.6 45.9 645.1 45.9 644.1 45.4 643.6 45.4 642.6 44.9 642.1 44.9 641.1 44.4 640.6 44.4 639.6 43.9 639.1 43.9 638.6 43.4 638.1 43.4 637.6 42.9 637.1 42.9 636.6 42.4 636.1 42.4 635.6 41.9 635.1 41.9 634.6 40.9 633.6 40.9 633.1 39.4 631.6 39.4 631.1 37.9 629.6 37.4 629.6 36.4 628.6 35.9 628.6 35.4 628.1 34.9 628.1 34.4 627.6 32.4 627.6Z" fill="rgb(49,49,49)" fill-rule="evenodd"/><path d="M72.8 652.6 72.8 653.1 72.3 653.6 72.3 654.1 71.8 654.6 71.8 655.1 72.3 655.6 72.3 656.6 75.3 659.6 75.8 659.6 80.3 664.1 80.8 664.1 85.8 669.1 86.3 669.1 91.3 674.1 91.8 674.1 96.8 679.1 97.3 679.1 101.8 683.6 102.3 683.6 107.3 688.6 107.8 688.6 111.8 692.6 120.8 692.6 116.8 688.6 116.3 688.6 111.3 683.6 110.8 683.6 105.8 678.6 105.3 678.6 100.8 674.1 100.3 674.1 95.3 669.1 94.8 669.1 89.8 664.1 89.3 664.1 84.3 659.1 83.8 659.1 79.3 654.6 78.8 654.6 76.3 652.1 73.8 652.1 73.3 652.6ZM30.4 642.6 29.9 643.1 29.9 692.6 38.4 692.6 38.9 692.1 38.9 691.6 39.4 691.1 39.4 690.1 39.9 689.6 39.9 689.1 40.4 688.6 40.4 687.6 40.9 687.1 40.9 686.1 41.4 685.6 41.4 684.1 41.9 683.6 41.9 681.6 42.4 681.1 42.4 678.6 42.9 678.1 42.9 672.1 43.4 671.6 43.4 668.6 42.9 668.1 42.9 662.1 42.4 661.6 42.4 658.6 41.9 658.1 41.9 656.1 41.4 655.6 41.4 654.6 40.9 654.1 40.9 652.6 40.4 652.1 40.4 651.1 39.9 650.6 39.9 650.1 39.4 649.6 39.4 649.1 38.9 648.6 38.9 648.1 38.4 647.6 38.4 647.1 37.4 646.1 37.4 645.6 34.9 643.1 34.4 643.1 33.9 642.6Z" fill="rgb(48,48,48)" fill-rule="evenodd"/><path d="M30.9 653.6 29.9 654.6 29.9 685.6 30.4 686.1 31.4 686.1 31.9 686.6 32.4 686.6 32.9 686.1 33.4 686.1 33.9 685.6 34.4 685.6 34.9 685.1 34.9 684.6 35.9 683.6 35.9 683.1 36.4 682.6 36.4 682.1 36.9 681.6 36.9 680.6 37.4 680.1 37.4 678.6 37.9 678.1 37.9 676.1 38.4 675.6 38.4 664.1 37.9 663.6 37.9 661.6 37.4 661.1 37.4 659.6 36.9 659.1 36.9 658.6 36.4 658.1 36.4 657.1 35.4 656.1 35.4 655.6 33.4 653.6Z" fill="rgb(46,46,46)" fill-rule="evenodd"/><path d="M29.9 605.1 29.9 667.1 32.9 670.1 33.4 670.1 34.4 671.1 34.9 671.1 35.4 671.6 35.9 671.6 36.4 672.1 36.9 672.1 37.4 672.6 37.9 672.6 38.4 673.1 39.4 673.1 39.9 673.6 41.4 673.6 41.9 674.1 55.4 674.1 55.9 673.6 60.4 673.6 60.9 674.1 63.9 674.1 64.3 674.6 68.3 674.6 68.8 675.1 74.8 675.1 75.3 675.6 96.8 675.6 97.3 675.1 104.3 675.1 104.8 674.6 109.8 674.6 110.3 674.1 114.3 674.1 114.8 673.6 117.8 673.6 118.3 673.1 121.3 673.1 121.8 672.6 124.3 672.6 124.8 672.1 126.8 672.1 127.3 671.6 129.3 671.6 129.8 671.1 131.8 671.1 132.3 670.6 133.8 670.6 134.3 670.1 135.8 670.1 136.3 669.6 137.8 669.6 138.3 669.1 139.3 669.1 139.8 668.6 141.3 668.6 141.8 668.1 142.8 668.1 143.3 667.6 144.3 667.6 144.8 667.1 145.8 667.1 146.3 666.6 148.3 666.6 148.8 666.1 152.8 666.1 153.3 665.6 156.8 665.6 157.3 665.1 160.3 665.1 160.8 664.6 164.3 664.6 164.8 664.1 167.8 664.1 168.3 663.6 171.3 663.6 171.8 663.1 174.8 663.1 175.3 662.6 178.3 662.6 178.8 662.1 181.3 662.1 181.8 661.6 184.3 661.6 184.8 661.1 187.3 661.1 187.8 660.6 190.3 660.6 190.8 660.1 193.3 660.1 193.8 659.6 195.8 659.6 196.3 659.1 198.8 659.1 199.3 658.6 201.3 658.6 201.8 658.1 201.8 621.1 200.3 621.1 199.8 620.6 197.3 620.6 196.8 620.1 193.8 620.1 193.3 619.6 190.3 619.6 189.8 619.1 186.8 619.1 186.3 618.6 183.3 618.6 182.8 618.1 179.8 618.1 179.3 617.6 175.8 617.6 175.3 617.1 171.8 617.1 171.3 616.6 167.8 616.6 167.3 616.1 163.3 616.1 162.8 615.6 158.8 615.6 158.3 615.1 154.3 615.1 153.8 614.6 149.3 614.6 148.8 614.1 144.3 614.1 143.8 613.6 138.8 613.6 138.3 613.1 133.3 613.1 132.8 612.6 127.8 612.6 127.3 612.1 121.8 612.1 121.3 611.6 115.3 611.6 114.8 611.1 108.8 611.1 108.3 610.6 103.8 610.6 103.3 610.1 102.8 610.1 102.3 609.6 101.3 609.6 100.8 609.1 100.3 609.1 99.8 608.6 98.8 608.6 98.3 608.1 97.3 608.1 96.8 607.6 95.8 607.6 95.3 607.1 93.8 607.1 93.3 606.6 92.3 606.6 91.8 606.1 90.3 606.1 89.8 605.6 88.3 605.6 87.8 605.1 85.8 605.1 85.3 604.6 83.3 604.6 82.8 604.1 80.8 604.1 80.3 603.6 77.8 603.6 77.3 603.1 73.8 603.1 73.3 602.6 69.8 602.6 69.3 602.1 64.3 602.1 63.9 601.6 55.4 601.6 54.9 601.1 44.9 601.1 44.4 601.6 40.4 601.6 39.9 602.1 37.9 602.1 37.4 602.6 35.9 602.6 35.4 603.1 34.4 603.1 33.9 603.6 32.9 603.6 32.4 604.1 31.4 604.1 30.9 604.6 30.4 604.6Z" fill="rgb(52,52,52)" fill-rule="evenodd"/><path d="M29.9 610.6 29.9 658.6 31.4 660.1 31.4 660.6 33.9 663.1 34.4 663.1 35.9 664.6 36.4 664.6 36.9 665.1 37.4 665.1 37.9 665.6 38.4 665.6 38.9 666.1 39.4 666.1 39.9 666.6 40.9 666.6 41.4 667.1 57.9 667.1 58.4 667.6 60.4 667.6 60.9 668.1 63.4 668.1 63.9 668.6 66.3 668.6 66.8 669.1 70.3 669.1 70.8 669.6 76.3 669.6 76.8 670.1 94.3 670.1 94.8 669.6 101.8 669.6 102.3 669.1 106.8 669.1 107.3 668.6 110.8 668.6 111.3 668.1 113.8 668.1 114.3 667.6 116.8 667.6 117.3 667.1 119.3 667.1 119.8 666.6 121.8 666.6 122.3 666.1 123.8 666.1 124.3 665.6 125.8 665.6 126.3 665.1 127.8 665.1 128.3 664.6 129.8 664.6 130.3 664.1 131.3 664.1 131.8 663.6 132.8 663.6 133.3 663.1 134.3 663.1 134.8 662.6 135.3 662.6 135.8 662.1 136.8 662.1 137.3 661.6 137.8 661.6 138.3 661.1 139.3 661.1 139.8 660.6 140.3 660.6 140.8 660.1 141.3 660.1 141.8 659.6 142.3 659.6 143.3 658.6 143.8 658.6 144.3 658.1 144.8 658.1 145.3 657.6 146.3 657.6 146.8 657.1 149.3 657.1 149.8 656.6 151.8 656.6 152.3 656.1 154.3 656.1 154.8 655.6 156.8 655.6 157.3 655.1 159.3 655.1 159.8 654.6 161.8 654.6 162.3 654.1 164.3 654.1 164.8 653.6 166.3 653.6 166.8 653.1 168.3 653.1 168.8 652.6 170.3 652.6 170.8 652.1 172.3 652.1 172.8 651.6 174.3 651.6 174.8 651.1 175.8 651.1 176.3 650.6 177.8 650.6 178.3 650.1 179.3 650.1 179.8 649.6 180.8 649.6 181.3 649.1 182.3 649.1 182.8 648.6 183.8 648.6 184.3 648.1 184.8 648.1 185.3 647.6 186.3 647.6 186.8 647.1 187.3 647.1 187.8 646.6 188.8 646.6 189.3 646.1 189.8 646.1 190.3 645.6 190.8 645.6 191.3 645.1 191.8 645.1 192.8 644.1 193.3 644.1 194.3 643.1 194.8 643.1 196.8 641.1 201.8 641.1 201.8 634.6 200.8 634.6 200.3 634.1 194.8 634.1 194.3 633.6 193.8 633.6 193.3 633.1 192.8 633.1 192.3 632.6 191.8 632.6 191.3 632.1 190.8 632.1 190.3 631.6 189.3 631.6 188.8 631.1 187.8 631.1 187.3 630.6 186.8 630.6 186.3 630.1 185.3 630.1 184.8 629.6 183.3 629.6 182.8 629.1 181.8 629.1 181.3 628.6 179.8 628.6 179.3 628.1 178.3 628.1 177.8 627.6 175.8 627.6 175.3 627.1 173.8 627.1 173.3 626.6 171.8 626.6 171.3 626.1 169.3 626.1 168.8 625.6 166.8 625.6 166.3 625.1 164.3 625.1 163.8 624.6 161.8 624.6 161.3 624.1 158.8 624.1 158.3 623.6 155.8 623.6 155.3 623.1 152.8 623.1 152.3 622.6 149.3 622.6 148.8 622.1 146.3 622.1 145.8 621.6 142.8 621.6 142.3 621.1 138.8 621.1 138.3 620.6 135.3 620.6 134.8 620.1 130.8 620.1 130.3 619.6 126.8 619.6 126.3 619.1 122.3 619.1 121.8 618.6 117.8 618.6 117.3 618.1 112.8 618.1 112.3 617.6 107.8 617.6 107.3 617.1 102.3 617.1 101.8 616.6 98.3 616.6 97.3 615.6 96.8 615.6 96.3 615.1 95.8 615.1 94.8 614.1 94.3 614.1 93.8 613.6 93.3 613.6 92.8 613.1 91.8 613.1 91.3 612.6 90.8 612.6 90.3 612.1 89.3 612.1 88.8 611.6 88.3 611.6 87.8 611.1 86.8 611.1 86.3 610.6 84.8 610.6 84.3 610.1 83.3 610.1 82.8 609.6 81.3 609.6 80.8 609.1 79.3 609.1 78.8 608.6 76.8 608.6 76.3 608.1 73.8 608.1 73.3 607.6 70.8 607.6 70.3 607.1 67.3 607.1 66.8 606.6 62.4 606.6 61.9 606.1 53.4 606.1 52.9 605.6 45.9 605.6 45.4 606.1 41.4 606.1 40.9 606.6 39.4 606.6 38.9 607.1 37.4 607.1 36.9 607.6 35.9 607.6 35.4 608.1 34.4 608.1 33.9 608.6 33.4 608.6 32.9 609.1 32.4 609.1 31.9 609.6 31.4 609.6 30.9 610.1 30.4 610.1Z" fill="rgb(53,53,53)" fill-rule="evenodd"/><path d="M29.9 615.6 29.9 652.6 30.4 653.1 30.4 653.6 31.4 654.6 31.4 655.1 32.4 656.1 32.4 656.6 36.9 661.1 37.4 661.1 37.9 661.6 38.4 661.6 38.9 662.1 39.4 662.1 39.9 662.6 40.9 662.6 41.4 663.1 42.9 663.1 43.4 663.6 50.4 663.6 50.9 663.1 59.9 663.1 60.4 663.6 61.9 663.6 62.4 664.1 64.3 664.1 64.8 664.6 66.8 664.6 67.3 665.1 70.3 665.1 70.8 665.6 74.8 665.6 75.3 666.1 96.3 666.1 96.8 665.6 101.8 665.6 102.3 665.1 105.8 665.1 106.3 664.6 109.3 664.6 109.8 664.1 112.3 664.1 112.8 663.6 114.8 663.6 115.3 663.1 116.8 663.1 117.3 662.6 118.8 662.6 119.3 662.1 120.8 662.1 121.3 661.6 122.3 661.6 122.8 661.1 123.8 661.1 124.3 660.6 125.3 660.6 125.8 660.1 126.8 660.1 127.3 659.6 128.3 659.6 128.8 659.1 129.3 659.1 129.8 658.6 130.3 658.6 130.8 658.1 131.3 658.1 131.8 657.6 132.3 657.6 132.8 657.1 133.3 657.1 134.3 656.1 134.8 656.1 135.8 655.1 136.3 655.1 138.8 652.6 140.3 652.6 140.8 652.1 142.3 652.1 142.8 651.6 144.3 651.6 144.8 651.1 146.3 651.1 146.8 650.6 148.3 650.6 148.8 650.1 149.8 650.1 150.3 649.6 151.8 649.6 152.3 649.1 153.3 649.1 153.8 648.6 154.8 648.6 155.3 648.1 156.3 648.1 156.8 647.6 157.8 647.6 158.3 647.1 158.8 647.1 159.3 646.6 160.3 646.6 160.8 646.1 161.3 646.1 161.8 645.6 162.3 645.6 162.8 645.1 163.3 645.1 163.8 644.6 164.3 644.6 164.8 644.1 165.3 644.1 165.8 643.6 166.3 643.6 168.8 641.1 185.8 641.1 186.3 640.6 201.8 640.6 201.8 635.1 201.3 634.6 167.3 634.6 166.3 633.6 165.8 633.6 165.3 633.1 164.8 633.1 164.3 632.6 163.8 632.6 163.3 632.1 162.3 632.1 161.8 631.6 160.8 631.6 160.3 631.1 159.8 631.1 159.3 630.6 157.8 630.6 157.3 630.1 156.3 630.1 155.8 629.6 154.8 629.6 154.3 629.1 152.8 629.1 152.3 628.6 150.8 628.6 150.3 628.1 148.8 628.1 148.3 627.6 146.3 627.6 145.8 627.1 143.8 627.1 143.3 626.6 141.3 626.6 140.8 626.1 138.8 626.1 138.3 625.6 136.3 625.6 135.8 625.1 133.3 625.1 132.8 624.6 130.3 624.6 129.8 624.1 126.8 624.1 126.3 623.6 123.8 623.6 123.3 623.1 119.8 623.1 119.3 622.6 116.3 622.6 115.8 622.1 112.3 622.1 111.8 621.6 108.3 621.6 107.8 621.1 103.8 621.1 103.3 620.6 98.8 620.6 98.3 620.1 94.3 620.1 93.8 619.6 91.3 619.6 89.8 618.1 89.3 618.1 87.8 616.6 87.3 616.6 86.8 616.1 86.3 616.1 85.8 615.6 85.3 615.6 84.8 615.1 84.3 615.1 83.8 614.6 83.3 614.6 82.8 614.1 81.8 614.1 81.3 613.6 80.3 613.6 79.8 613.1 78.8 613.1 78.3 612.6 77.3 612.6 76.8 612.1 75.3 612.1 74.8 611.6 72.8 611.6 72.3 611.1 70.3 611.1 69.8 610.6 67.3 610.6 66.8 610.1 63.9 610.1 63.4 609.6 58.9 609.6 58.4 609.1 43.4 609.1 42.9 609.6 40.9 609.6 40.4 610.1 38.9 610.1 38.4 610.6 37.4 610.6 36.9 611.1 36.4 611.1 35.9 611.6 35.4 611.6 34.9 612.1 34.4 612.1 33.9 612.6 33.4 612.6 32.4 613.6 31.9 613.6Z" fill="rgb(55,55,55)" fill-rule="evenodd"/><path d="M29.9 630.6 29.9 647.1 30.4 647.6 30.4 648.6 30.9 649.1 30.9 649.6 31.4 650.1 31.4 651.1 31.9 651.6 31.9 652.1 32.9 653.1 32.9 653.6 33.9 654.6 33.9 655.1 36.9 658.1 37.4 658.1 38.4 659.1 38.9 659.1 39.4 659.6 39.9 659.6 40.4 660.1 40.9 660.1 41.4 660.6 43.4 660.6 43.9 661.1 47.9 661.1 48.4 660.6 57.4 660.6 57.9 660.1 62.4 660.1 62.9 660.6 64.3 660.6 64.8 661.1 66.8 661.1 67.3 661.6 69.3 661.6 69.8 662.1 72.3 662.1 72.8 662.6 77.3 662.6 77.8 663.1 93.8 663.1 94.3 662.6 99.3 662.6 99.8 662.1 103.3 662.1 103.8 661.6 106.3 661.6 106.8 661.1 108.8 661.1 109.3 660.6 111.3 660.6 111.8 660.1 113.3 660.1 113.8 659.6 115.3 659.6 115.8 659.1 116.8 659.1 117.3 658.6 118.3 658.6 118.8 658.1 119.8 658.1 120.3 657.6 120.8 657.6 121.3 657.1 122.3 657.1 122.8 656.6 123.3 656.6 123.8 656.1 124.3 656.1 125.3 655.1 125.8 655.1 126.8 654.1 127.3 654.1 130.3 651.1 130.3 650.6 131.3 649.6 132.8 649.6 133.3 649.1 134.3 649.1 134.8 648.6 136.3 648.6 136.8 648.1 137.8 648.1 138.3 647.6 139.3 647.6 139.8 647.1 140.8 647.1 141.3 646.6 141.8 646.6 142.3 646.1 143.3 646.1 143.8 645.6 144.3 645.6 144.8 645.1 145.3 645.1 145.8 644.6 146.3 644.6 146.8 644.1 147.3 644.1 147.8 643.6 148.3 643.6 149.3 642.6 149.8 642.6 151.3 641.1 156.3 641.1 156.8 640.6 194.8 640.6 195.3 640.1 201.8 640.1 201.8 635.1 171.8 635.1 171.3 634.6 149.8 634.6 149.3 634.1 148.8 634.1 148.3 633.6 147.8 633.6 147.3 633.1 146.8 633.1 146.3 632.6 145.3 632.6 144.8 632.1 144.3 632.1 143.8 631.6 142.8 631.6 142.3 631.1 141.3 631.1 140.8 630.6 139.3 630.6 138.8 630.1 137.8 630.1 137.3 629.6 135.8 629.6 135.3 629.1 133.8 629.1 133.3 628.6 131.8 628.6 131.3 628.1 129.3 628.1 128.8 627.6 126.8 627.6 126.3 627.1 124.3 627.1 123.8 626.6 121.8 626.6 121.3 626.1 118.8 626.1 118.3 625.6 115.8 625.6 115.3 625.1 112.3 625.1 111.8 624.6 108.8 624.6 108.3 624.1 105.3 624.1 104.8 623.6 101.8 623.6 101.3 623.1 97.3 623.1 96.8 622.6 93.3 622.6 92.8 622.1 88.3 622.1 87.8 621.6 84.3 621.6 82.8 620.1 82.8 619.6 82.3 619.1 81.8 619.1 80.8 618.1 80.3 618.1 79.3 617.1 78.8 617.1 78.3 616.6 77.8 616.6 77.3 616.1 76.3 616.1 75.8 615.6 75.3 615.6 74.8 615.1 73.8 615.1 73.3 614.6 71.8 614.6 71.3 614.1 69.8 614.1 69.3 613.6 67.8 613.6 67.3 613.1 64.8 613.1 64.3 612.6 61.4 612.6 60.9 612.1 56.4 612.1 55.9 611.6 44.4 611.6 43.9 612.1 41.9 612.1 41.4 612.6 40.4 612.6 39.9 613.1 38.9 613.1 38.4 613.6 37.9 613.6 37.4 614.1 36.9 614.1 36.4 614.6 35.9 614.6 31.9 618.6 31.9 619.1 31.4 619.6 31.4 620.6 30.9 621.1 30.9 625.1 31.4 625.6 31.4 626.1 31.9 626.6 31.9 627.1 30.9 628.1 30.9 629.1 30.4 629.6 30.4 630.1Z" fill="rgb(57,57,57)" fill-rule="evenodd"/><path d="M30.4 634.1 30.4 643.1 30.9 643.6 30.9 645.6 31.4 646.1 31.4 647.1 31.9 647.6 31.9 648.1 32.4 648.6 32.4 649.6 32.9 650.1 32.9 650.6 33.4 651.1 33.4 651.6 34.4 652.6 34.4 653.1 37.9 656.6 38.4 656.6 39.4 657.6 39.9 657.6 40.4 658.1 40.9 658.1 41.4 658.6 42.9 658.6 43.4 659.1 48.9 659.1 49.4 658.6 57.4 658.6 57.9 658.1 63.9 658.1 64.3 657.6 65.8 657.6 66.3 658.1 67.8 658.1 68.3 658.6 69.8 658.6 70.3 659.1 72.8 659.1 73.3 659.6 76.3 659.6 76.8 660.1 94.8 660.1 95.3 659.6 99.3 659.6 99.8 659.1 102.3 659.1 102.8 658.6 104.8 658.6 105.3 658.1 107.3 658.1 107.8 657.6 109.3 657.6 109.8 657.1 110.8 657.1 111.3 656.6 112.3 656.6 112.8 656.1 113.8 656.1 114.3 655.6 114.8 655.6 115.3 655.1 115.8 655.1 116.3 654.6 116.8 654.6 117.3 654.1 117.8 654.1 118.8 653.1 119.3 653.1 121.8 650.6 121.8 650.1 122.3 649.6 122.3 648.6 122.8 648.1 124.3 648.1 124.8 647.6 125.8 647.6 126.3 647.1 127.3 647.1 127.8 646.6 128.8 646.6 129.3 646.1 129.8 646.1 130.3 645.6 131.3 645.6 131.8 645.1 132.3 645.1 132.8 644.6 133.3 644.6 133.8 644.1 134.3 644.1 134.8 643.6 135.3 643.6 136.3 642.6 136.8 642.6 138.8 640.6 168.8 640.6 169.3 640.1 201.8 640.1 201.8 635.6 185.3 635.6 184.8 635.1 146.3 635.1 145.8 634.6 136.8 634.6 136.3 634.1 135.8 634.1 135.3 633.6 134.8 633.6 134.3 633.1 133.8 633.1 133.3 632.6 132.3 632.6 131.8 632.1 130.8 632.1 130.3 631.6 129.3 631.6 128.8 631.1 127.8 631.1 127.3 630.6 125.8 630.6 125.3 630.1 124.3 630.1 123.8 629.6 122.3 629.6 121.8 629.1 119.8 629.1 119.3 628.6 117.8 628.6 117.3 628.1 115.3 628.1 114.8 627.6 112.3 627.6 111.8 627.1 109.8 627.1 109.3 626.6 106.8 626.6 106.3 626.1 103.8 626.1 103.3 625.6 100.3 625.6 99.8 625.1 96.8 625.1 96.3 624.6 92.8 624.6 92.3 624.1 88.8 624.1 88.3 623.6 84.3 623.6 83.8 623.1 79.3 623.1 78.8 622.6 76.8 622.6 76.3 622.1 76.3 621.6 75.3 620.6 75.3 620.1 74.8 620.1 73.3 618.6 72.8 618.6 72.3 618.1 71.8 618.1 71.3 617.6 70.3 617.6 69.8 617.1 68.8 617.1 68.3 616.6 67.3 616.6 66.8 616.1 65.3 616.1 64.8 615.6 63.4 615.6 62.9 615.1 60.4 615.1 59.9 614.6 56.4 614.6 55.9 614.1 44.4 614.1 43.9 614.6 42.4 614.6 41.9 615.1 40.9 615.1 40.4 615.6 39.9 615.6 39.4 616.1 38.9 616.1 37.9 617.1 37.4 617.1 35.9 618.6 35.9 619.1 35.4 619.6 35.4 620.1 34.9 620.6 34.9 621.1 34.4 621.6 34.4 624.1 34.9 624.6 34.9 625.1 33.9 626.1 33.9 626.6 32.9 627.6 32.9 628.1 32.4 628.6 32.4 629.1 31.9 629.6 31.9 630.1 31.4 630.6 31.4 631.6 30.9 632.1 30.9 633.6Z" fill="rgb(60,60,60)" fill-rule="evenodd"/><path d="M31.4 634.6 31.4 642.6 31.9 643.1 31.9 644.6 32.4 645.1 32.4 646.1 32.9 646.6 32.9 647.6 33.4 648.1 33.4 648.6 33.9 649.1 33.9 649.6 34.4 650.1 34.4 650.6 34.9 651.1 34.9 651.6 38.9 655.6 39.4 655.6 39.9 656.1 40.4 656.1 40.9 656.6 41.4 656.6 41.9 657.1 43.4 657.1 43.9 657.6 47.4 657.6 47.9 657.1 55.9 657.1 56.4 656.6 61.9 656.6 62.4 656.1 67.3 656.1 67.8 655.6 71.3 655.6 71.8 656.1 73.3 656.1 73.8 656.6 76.3 656.6 76.8 657.1 80.8 657.1 81.3 657.6 89.3 657.6 89.8 657.1 94.8 657.1 95.3 656.6 98.3 656.6 98.8 656.1 100.8 656.1 101.3 655.6 102.8 655.6 103.3 655.1 104.8 655.1 105.3 654.6 106.3 654.6 106.8 654.1 107.3 654.1 107.8 653.6 108.8 653.6 109.3 653.1 109.8 653.1 110.8 652.1 111.3 652.1 113.8 649.6 113.8 648.1 114.3 647.6 115.3 647.6 115.8 647.1 116.8 647.1 117.3 646.6 118.3 646.6 118.8 646.1 119.8 646.1 120.3 645.6 120.8 645.6 121.3 645.1 121.8 645.1 122.3 644.6 123.3 644.6 123.8 644.1 124.3 644.1 124.8 643.6 125.3 643.6 126.3 642.6 126.8 642.6 128.8 640.6 145.8 640.6 146.3 640.1 185.3 640.1 185.8 639.6 201.8 639.6 201.8 635.6 161.8 635.6 161.3 635.1 127.8 635.1 127.3 634.6 126.8 634.6 126.3 634.1 125.8 634.1 125.3 633.6 124.8 633.6 124.3 633.1 123.3 633.1 122.8 632.6 122.3 632.6 121.8 632.1 120.8 632.1 120.3 631.6 118.8 631.6 118.3 631.1 117.3 631.1 116.8 630.6 115.3 630.6 114.8 630.1 113.3 630.1 112.8 629.6 111.3 629.6 110.8 629.1 108.8 629.1 108.3 628.6 106.3 628.6 105.8 628.1 103.8 628.1 103.3 627.6 100.8 627.6 100.3 627.1 97.8 627.1 97.3 626.6 94.8 626.6 94.3 626.1 91.3 626.1 90.8 625.6 87.8 625.6 87.3 625.1 83.8 625.1 83.3 624.6 79.3 624.6 78.8 624.1 74.3 624.1 73.8 623.6 69.3 623.6 68.3 622.6 68.3 622.1 67.8 621.6 67.8 621.1 67.3 620.6 66.8 620.6 65.8 619.6 64.8 619.6 64.3 619.1 63.9 619.1 63.4 618.6 62.4 618.6 61.9 618.1 60.4 618.1 59.9 617.6 57.9 617.6 57.4 617.1 54.4 617.1 53.9 616.6 45.4 616.6 44.9 617.1 43.4 617.1 42.9 617.6 42.4 617.6 41.9 618.1 41.4 618.1 38.9 620.6 38.9 621.1 38.4 621.6 38.4 623.6 34.4 627.6 34.4 628.1 33.4 629.1 33.4 629.6 32.9 630.1 32.9 630.6 32.4 631.1 32.4 632.1 31.9 632.6 31.9 634.1Z" fill="rgb(63,63,63)" fill-rule="evenodd"/><path d="M31.9 634.6 31.9 642.1 32.4 642.6 32.4 644.1 32.9 644.6 32.9 645.6 33.4 646.1 33.4 647.1 33.9 647.6 33.9 648.1 34.4 648.6 34.4 649.1 34.9 649.6 34.9 650.1 36.9 652.1 36.9 652.6 37.4 652.6 39.4 654.6 39.9 654.6 40.4 655.1 40.9 655.1 41.4 655.6 42.4 655.6 42.9 656.1 51.4 656.1 51.9 655.6 58.4 655.6 58.9 655.1 63.9 655.1 64.3 654.6 68.8 654.6 69.3 654.1 73.3 654.1 73.8 653.6 79.8 653.6 80.3 654.1 90.8 654.1 91.3 653.6 94.3 653.6 94.8 653.1 96.3 653.1 96.8 652.6 98.3 652.6 98.8 652.1 99.8 652.1 100.3 651.6 100.8 651.6 101.3 651.1 101.8 651.1 102.8 650.1 103.3 650.1 103.3 649.6 104.3 648.6 105.3 648.6 105.8 648.1 107.3 648.1 107.8 647.6 109.3 647.6 109.8 647.1 110.8 647.1 111.3 646.6 112.8 646.6 113.3 646.1 114.3 646.1 114.8 645.6 115.8 645.6 116.3 645.1 116.8 645.1 117.3 644.6 118.3 644.6 118.8 644.1 119.3 644.1 119.8 643.6 120.3 643.6 120.8 643.1 121.3 643.1 122.3 642.1 122.8 642.1 124.3 640.6 124.8 640.6 125.3 640.1 163.3 640.1 163.8 639.6 201.8 639.6 201.8 636.1 179.8 636.1 179.3 635.6 140.8 635.6 140.3 635.1 122.8 635.1 122.3 634.6 121.8 634.6 121.3 634.1 120.8 634.1 120.3 633.6 119.8 633.6 119.3 633.1 118.3 633.1 117.8 632.6 116.8 632.6 116.3 632.1 115.3 632.1 114.8 631.6 113.3 631.6 112.8 631.1 111.8 631.1 111.3 630.6 109.3 630.6 108.8 630.1 107.3 630.1 106.8 629.6 104.8 629.6 104.3 629.1 102.3 629.1 101.8 628.6 99.8 628.6 99.3 628.1 96.8 628.1 96.3 627.6 93.3 627.6 92.8 627.1 90.3 627.1 89.8 626.6 86.3 626.6 85.8 626.1 82.3 626.1 81.8 625.6 78.3 625.6 77.8 625.1 73.3 625.1 72.8 624.6 68.3 624.6 67.8 624.1 61.9 624.1 61.4 623.6 57.9 623.6 57.4 623.1 57.4 622.1 56.9 622.1 55.9 621.1 54.9 621.1 54.4 620.6 52.4 620.6 51.9 620.1 46.4 620.1 45.9 620.6 45.4 620.6 44.9 621.1 44.4 621.1 43.9 621.6 43.9 622.1 42.9 623.1 42.4 623.1 41.9 623.6 40.9 623.6 40.4 624.1 39.9 624.1 39.4 624.6 38.9 624.6 37.9 625.6 37.4 625.6 34.9 628.1 34.9 628.6 33.9 629.6 33.9 630.1 33.4 630.6 33.4 631.1 32.9 631.6 32.9 632.6 32.4 633.1 32.4 634.1Z" fill="rgb(66,66,66)" fill-rule="evenodd"/><path d="M32.4 635.1 32.4 641.6 32.9 642.1 32.9 643.6 33.4 644.1 33.4 645.1 33.9 645.6 33.9 646.6 34.4 647.1 34.4 647.6 35.4 648.6 35.4 649.1 36.9 650.6 36.9 651.1 37.4 651.6 37.9 651.6 39.4 653.1 39.9 653.1 40.4 653.6 40.9 653.6 41.4 654.1 42.4 654.1 42.9 654.6 53.9 654.6 54.4 654.1 60.4 654.1 60.9 653.6 65.8 653.6 66.3 653.1 70.3 653.1 70.8 652.6 74.3 652.6 74.8 652.1 78.3 652.1 78.8 651.6 81.8 651.6 82.3 651.1 85.3 651.1 85.8 650.6 88.3 650.6 88.8 650.1 91.3 650.1 91.8 649.6 93.8 649.6 94.3 649.1 96.3 649.1 96.8 648.6 98.8 648.6 99.3 648.1 100.8 648.1 101.3 647.6 102.8 647.6 103.3 647.1 104.8 647.1 105.3 646.6 106.8 646.6 107.3 646.1 108.3 646.1 108.8 645.6 110.3 645.6 110.8 645.1 111.3 645.1 111.8 644.6 112.8 644.6 113.3 644.1 114.3 644.1 114.8 643.6 115.3 643.6 115.8 643.1 116.3 643.1 116.8 642.6 117.3 642.6 117.8 642.1 118.3 642.1 120.3 640.1 142.8 640.1 143.3 639.6 181.8 639.6 182.3 639.1 201.8 639.1 201.8 636.6 197.8 636.6 197.3 636.1 158.8 636.1 158.3 635.6 120.8 635.6 120.3 635.1 118.3 635.1 117.8 634.6 117.3 634.6 116.8 634.1 115.8 634.1 115.3 633.6 114.8 633.6 114.3 633.1 113.3 633.1 112.8 632.6 111.3 632.6 110.8 632.1 109.8 632.1 109.3 631.6 107.8 631.6 107.3 631.1 105.8 631.1 105.3 630.6 103.3 630.6 102.8 630.1 100.8 630.1 100.3 629.6 98.3 629.6 97.8 629.1 95.3 629.1 94.8 628.6 92.3 628.6 91.8 628.1 88.8 628.1 88.3 627.6 85.3 627.6 84.8 627.1 81.3 627.1 80.8 626.6 76.8 626.6 76.3 626.1 72.3 626.1 71.8 625.6 66.8 625.6 66.3 625.1 60.4 625.1 59.9 624.6 52.9 624.6 52.4 624.1 42.9 624.1 42.4 624.6 41.4 624.6 40.9 625.1 40.4 625.1 39.9 625.6 39.4 625.6 38.9 626.1 38.4 626.1 34.4 630.1 34.4 630.6 33.9 631.1 33.9 631.6 33.4 632.1 33.4 633.1 32.9 633.6 32.9 634.6Z" fill="rgb(69,69,69)" fill-rule="evenodd"/><path d="M32.9 635.6 32.9 641.1 33.4 641.6 33.4 643.1 33.9 643.6 33.9 644.6 34.4 645.1 34.4 645.6 34.9 646.1 34.9 646.6 35.4 647.1 35.4 647.6 36.9 649.1 36.9 649.6 37.9 650.6 38.4 650.6 39.4 651.6 39.9 651.6 40.9 652.6 41.9 652.6 42.4 653.1 43.9 653.1 44.4 653.6 47.9 653.6 48.4 653.1 56.4 653.1 56.9 652.6 62.4 652.6 62.9 652.1 67.3 652.1 67.8 651.6 71.8 651.6 72.3 651.1 75.8 651.1 76.3 650.6 79.3 650.6 79.8 650.1 82.8 650.1 83.3 649.6 85.8 649.6 86.3 649.1 88.8 649.1 89.3 648.6 91.3 648.6 91.8 648.1 93.8 648.1 94.3 647.6 96.3 647.6 96.8 647.1 98.8 647.1 99.3 646.6 100.8 646.6 101.3 646.1 102.8 646.1 103.3 645.6 104.3 645.6 104.8 645.1 105.8 645.1 106.3 644.6 107.3 644.6 107.8 644.1 108.8 644.1 109.3 643.6 110.3 643.6 110.8 643.1 111.3 643.1 111.8 642.6 112.3 642.6 112.8 642.1 113.3 642.1 113.8 641.6 114.3 641.6 115.8 640.1 124.3 640.1 124.8 639.6 161.3 639.6 161.8 639.1 198.3 639.1 198.8 638.6 201.8 638.6 201.8 636.6 176.8 636.6 176.3 636.1 139.3 636.1 138.8 635.6 114.3 635.6 113.8 635.1 113.3 635.1 112.8 634.6 112.3 634.6 111.8 634.1 110.8 634.1 110.3 633.6 109.3 633.6 108.8 633.1 107.8 633.1 107.3 632.6 105.8 632.6 105.3 632.1 103.8 632.1 103.3 631.6 101.8 631.6 101.3 631.1 99.3 631.1 98.8 630.6 96.8 630.6 96.3 630.1 93.8 630.1 93.3 629.6 90.8 629.6 90.3 629.1 87.8 629.1 87.3 628.6 83.8 628.6 83.3 628.1 79.8 628.1 79.3 627.6 75.8 627.6 75.3 627.1 70.8 627.1 70.3 626.6 65.3 626.6 64.8 626.1 58.9 626.1 58.4 625.6 50.4 625.6 49.9 625.1 43.9 625.1 43.4 625.6 41.9 625.6 41.4 626.1 40.4 626.1 39.9 626.6 39.4 626.6 38.4 627.6 37.9 627.6 35.4 630.1 35.4 630.6 34.4 631.6 34.4 632.1 33.9 632.6 33.9 633.6 33.4 634.1 33.4 635.1Z" fill="rgb(73,73,73)" fill-rule="evenodd"/><path d="M33.4 636.1 33.4 640.6 33.9 641.1 33.9 642.6 34.4 643.1 34.4 644.1 34.9 644.6 34.9 645.1 35.4 645.6 35.4 646.1 36.9 647.6 36.9 648.1 38.4 649.6 38.9 649.6 39.9 650.6 40.4 650.6 40.9 651.1 41.4 651.1 41.9 651.6 43.4 651.6 43.9 652.1 51.9 652.1 52.4 651.6 58.9 651.6 59.4 651.1 64.3 651.1 64.8 650.6 68.8 650.6 69.3 650.1 73.3 650.1 73.8 649.6 76.8 649.6 77.3 649.1 80.3 649.1 80.8 648.6 83.8 648.6 84.3 648.1 86.8 648.1 87.3 647.6 89.3 647.6 89.8 647.1 91.8 647.1 92.3 646.6 94.3 646.6 94.8 646.1 96.3 646.1 96.8 645.6 98.3 645.6 98.8 645.1 100.3 645.1 100.8 644.6 101.8 644.6 102.3 644.1 103.3 644.1 103.8 643.6 104.8 643.6 105.3 643.1 106.3 643.1 106.8 642.6 107.3 642.6 107.8 642.1 108.3 642.1 108.8 641.6 109.3 641.6 109.8 641.1 110.3 641.1 111.8 639.6 142.3 639.6 142.8 639.1 177.3 639.1 177.8 638.6 201.8 638.6 201.8 637.1 191.3 637.1 190.8 636.6 156.8 636.6 156.3 636.1 121.3 636.1 120.8 635.6 109.8 635.6 109.3 635.1 108.3 635.1 107.8 634.6 107.3 634.6 106.8 634.1 105.8 634.1 105.3 633.6 104.3 633.6 103.8 633.1 102.3 633.1 101.8 632.6 100.3 632.6 99.8 632.1 97.8 632.1 97.3 631.6 95.3 631.6 94.8 631.1 92.8 631.1 92.3 630.6 89.8 630.6 89.3 630.1 86.8 630.1 86.3 629.6 82.8 629.6 82.3 629.1 79.3 629.1 78.8 628.6 74.8 628.6 74.3 628.1 69.8 628.1 69.3 627.6 64.3 627.6 63.9 627.1 57.9 627.1 57.4 626.6 47.9 626.6 47.4 626.1 44.9 626.1 44.4 626.6 42.4 626.6 41.9 627.1 40.9 627.1 40.4 627.6 39.9 627.6 39.4 628.1 38.9 628.1 35.4 631.6 35.4 632.1 34.4 633.1 34.4 634.1 33.9 634.6 33.9 635.6Z" fill="rgb(77,77,77)" fill-rule="evenodd"/><path d="M33.9 640.1 34.4 640.6 34.4 642.1 34.9 642.6 34.9 643.6 35.4 644.1 35.4 644.6 36.4 645.6 36.4 646.1 39.4 649.1 39.9 649.1 40.4 649.6 40.9 649.6 41.4 650.1 41.9 650.1 42.4 650.6 43.9 650.6 44.4 651.1 50.4 651.1 50.9 650.6 57.9 650.6 58.4 650.1 63.4 650.1 63.9 649.6 68.3 649.6 68.8 649.1 72.3 649.1 72.8 648.6 76.3 648.6 76.8 648.1 79.8 648.1 80.3 647.6 82.8 647.6 83.3 647.1 85.8 647.1 86.3 646.6 88.3 646.6 88.8 646.1 90.8 646.1 91.3 645.6 93.3 645.6 93.8 645.1 95.3 645.1 95.8 644.6 97.3 644.6 97.8 644.1 98.8 644.1 99.3 643.6 100.3 643.6 100.8 643.1 101.8 643.1 102.3 642.6 103.3 642.6 103.8 642.1 104.3 642.1 104.8 641.6 105.3 641.6 105.8 641.1 106.3 641.1 107.8 639.6 124.3 639.6 124.8 639.1 157.3 639.1 157.8 638.6 186.8 638.6 187.3 638.1 201.8 638.1 201.8 637.6 197.3 637.6 196.8 637.1 170.3 637.1 169.8 636.6 138.3 636.6 137.8 636.1 106.8 636.1 106.3 635.6 105.8 635.6 105.3 635.1 104.3 635.1 103.8 634.6 102.8 634.6 102.3 634.1 101.3 634.1 100.8 633.6 99.8 633.6 99.3 633.1 97.3 633.1 96.8 632.6 95.3 632.6 94.8 632.1 92.8 632.1 92.3 631.6 89.8 631.6 89.3 631.1 86.8 631.1 86.3 630.6 83.3 630.6 82.8 630.1 79.8 630.1 79.3 629.6 75.8 629.6 75.3 629.1 70.8 629.1 70.3 628.6 65.8 628.6 65.3 628.1 59.4 628.1 58.9 627.6 50.9 627.6 50.4 627.1 44.4 627.1 43.9 627.6 42.4 627.6 41.9 628.1 40.9 628.1 40.4 628.6 39.9 628.6 39.4 629.1 38.9 629.1 35.4 632.6 35.4 633.1 34.9 633.6 34.9 634.1 34.4 634.6 34.4 636.1 33.9 636.6Z" fill="rgb(82,82,82)" fill-rule="evenodd"/><path d="M34.4 640.6 34.9 641.1 34.9 642.1 35.4 642.6 35.4 643.6 36.4 644.6 36.4 645.1 39.9 648.6 40.4 648.6 40.9 649.1 41.4 649.1 41.9 649.6 43.4 649.6 43.9 650.1 52.9 650.1 53.4 649.6 59.9 649.6 60.4 649.1 64.8 649.1 65.3 648.6 69.3 648.6 69.8 648.1 73.3 648.1 73.8 647.6 77.3 647.6 77.8 647.1 80.3 647.1 80.8 646.6 83.3 646.6 83.8 646.1 86.3 646.1 86.8 645.6 88.8 645.6 89.3 645.1 91.3 645.1 91.8 644.6 93.3 644.6 93.8 644.1 95.3 644.1 95.8 643.6 96.8 643.6 97.3 643.1 98.8 643.1 99.3 642.6 99.8 642.6 100.3 642.1 101.3 642.1 101.8 641.6 102.3 641.6 102.8 641.1 103.3 641.1 103.8 640.6 104.3 640.6 105.3 639.6 107.3 639.6 107.8 639.1 138.8 639.1 139.3 638.6 166.3 638.6 166.8 638.1 184.8 638.1 185.3 637.6 188.3 637.6 175.8 637.6 175.3 637.1 150.8 637.1 150.3 636.6 120.8 636.6 120.3 636.1 103.8 636.1 103.3 635.6 102.8 635.6 102.3 635.1 101.3 635.1 100.8 634.6 99.8 634.6 99.3 634.1 97.8 634.1 97.3 633.6 96.3 633.6 95.8 633.1 93.8 633.1 93.3 632.6 91.3 632.6 90.8 632.1 88.8 632.1 88.3 631.6 85.3 631.6 84.8 631.1 82.3 631.1 81.8 630.6 78.3 630.6 77.8 630.1 74.3 630.1 73.8 629.6 69.3 629.6 68.8 629.1 63.9 629.1 63.4 628.6 57.4 628.6 56.9 628.1 42.9 628.1 42.4 628.6 41.4 628.6 40.9 629.1 40.4 629.1 39.9 629.6 39.4 629.6 38.4 630.6 37.9 630.6 36.4 632.1 36.4 632.6 35.4 633.6 35.4 634.1 34.9 634.6 34.9 635.6 34.4 636.1Z" fill="rgb(86,86,86)" fill-rule="evenodd"/><path d="M34.9 640.6 35.4 641.1 35.4 642.1 35.9 642.6 35.9 643.1 36.4 643.6 36.4 644.1 37.9 645.6 37.9 646.1 38.4 646.1 39.9 647.6 40.4 647.6 40.9 648.1 41.4 648.1 41.9 648.6 42.9 648.6 43.4 649.1 55.4 649.1 55.9 648.6 61.9 648.6 62.4 648.1 66.8 648.1 67.3 647.6 70.8 647.6 71.3 647.1 74.8 647.1 75.3 646.6 78.3 646.6 78.8 646.1 81.3 646.1 81.8 645.6 84.3 645.6 84.8 645.1 86.8 645.1 87.3 644.6 89.3 644.6 89.8 644.1 91.3 644.1 91.8 643.6 93.3 643.6 93.8 643.1 95.3 643.1 95.8 642.6 96.8 642.6 97.3 642.1 98.3 642.1 98.8 641.6 99.3 641.6 99.8 641.1 100.3 641.1 100.8 640.6 101.3 640.6 102.8 639.1 121.3 639.1 121.8 638.6 146.8 638.6 147.3 638.1 163.8 638.1 164.3 637.6 166.8 637.6 155.8 637.6 155.3 637.1 132.8 637.1 132.3 636.6 104.3 636.6 103.8 636.1 100.8 636.1 100.3 635.6 99.8 635.6 99.3 635.1 98.3 635.1 97.8 634.6 96.3 634.6 95.8 634.1 94.8 634.1 94.3 633.6 92.3 633.6 91.8 633.1 89.8 633.1 89.3 632.6 87.3 632.6 86.8 632.1 84.3 632.1 83.8 631.6 80.8 631.6 80.3 631.1 76.8 631.1 76.3 630.6 72.8 630.6 72.3 630.1 67.8 630.1 67.3 629.6 61.9 629.6 61.4 629.1 54.9 629.1 54.4 628.6 43.4 628.6 42.9 629.1 41.9 629.1 41.4 629.6 40.9 629.6 40.4 630.1 39.9 630.1 39.4 630.6 38.9 630.6 35.9 633.6 35.9 634.1 35.4 634.6 35.4 635.1 34.9 635.6Z" fill="rgb(91,91,91)" fill-rule="evenodd"/><path d="M35.4 641.1 35.9 641.6 35.9 642.1 36.4 642.6 36.4 643.1 37.4 644.1 37.4 644.6 38.9 646.1 39.4 646.1 40.4 647.1 40.9 647.1 41.4 647.6 42.4 647.6 42.9 648.1 44.4 648.1 44.9 648.6 50.9 648.6 51.4 648.1 58.4 648.1 58.9 647.6 63.9 647.6 64.3 647.1 68.3 647.1 68.8 646.6 72.3 646.6 72.8 646.1 76.3 646.1 76.8 645.6 79.3 645.6 79.8 645.1 82.3 645.1 82.8 644.6 84.8 644.6 85.3 644.1 87.3 644.1 87.8 643.6 89.8 643.6 90.3 643.1 91.8 643.1 92.3 642.6 93.3 642.6 93.8 642.1 94.8 642.1 95.3 641.6 96.3 641.6 96.8 641.1 97.3 641.1 97.8 640.6 98.3 640.6 98.8 640.1 99.3 640.1 100.3 639.1 104.8 639.1 105.3 638.6 128.8 638.6 129.3 638.1 144.8 638.1 145.3 637.6 147.3 637.6 136.8 637.6 136.3 637.1 115.8 637.1 115.3 636.6 98.8 636.6 98.3 636.1 97.8 636.1 97.3 635.6 96.8 635.6 96.3 635.1 95.3 635.1 94.8 634.6 93.3 634.6 92.8 634.1 91.3 634.1 90.8 633.6 88.8 633.6 88.3 633.1 85.8 633.1 85.3 632.6 82.8 632.6 82.3 632.1 79.3 632.1 78.8 631.6 75.8 631.6 75.3 631.1 71.3 631.1 70.8 630.6 66.3 630.6 65.8 630.1 60.4 630.1 59.9 629.6 52.4 629.6 51.9 629.1 44.4 629.1 43.9 629.6 42.4 629.6 41.9 630.1 40.9 630.1 40.4 630.6 39.9 630.6 38.9 631.6 38.4 631.6 36.9 633.1 36.9 633.6 35.9 634.6 35.9 635.1 35.4 635.6Z" fill="rgb(96,96,96)" fill-rule="evenodd"/><path d="M35.4 639.1 35.9 639.6 35.9 641.1 36.4 641.6 36.4 642.1 37.4 643.1 37.4 643.6 39.4 645.6 39.9 645.6 40.4 646.1 40.9 646.1 41.4 646.6 41.9 646.6 42.4 647.1 43.4 647.1 43.9 647.6 54.4 647.6 54.9 647.1 60.9 647.1 61.4 646.6 65.8 646.6 66.3 646.1 70.3 646.1 70.8 645.6 74.3 645.6 74.8 645.1 77.8 645.1 78.3 644.6 80.8 644.6 81.3 644.1 83.3 644.1 83.8 643.6 85.8 643.6 86.3 643.1 87.8 643.1 88.3 642.6 89.8 642.6 90.3 642.1 91.8 642.1 92.3 641.6 93.3 641.6 93.8 641.1 94.3 641.1 94.8 640.6 95.3 640.6 95.8 640.1 96.3 640.1 97.8 638.6 112.3 638.6 112.8 638.1 126.8 638.1 127.3 637.6 129.3 637.6 119.8 637.6 119.3 637.1 99.8 637.1 99.3 636.6 96.3 636.6 95.8 636.1 95.3 636.1 94.8 635.6 93.8 635.6 93.3 635.1 91.8 635.1 91.3 634.6 89.8 634.6 89.3 634.1 87.8 634.1 87.3 633.6 84.8 633.6 84.3 633.1 81.8 633.1 81.3 632.6 78.3 632.6 77.8 632.1 74.8 632.1 74.3 631.6 70.3 631.6 69.8 631.1 64.8 631.1 64.3 630.6 58.9 630.6 58.4 630.1 49.9 630.1 49.4 629.6 45.4 629.6 44.9 630.1 42.9 630.1 42.4 630.6 41.4 630.6 40.9 631.1 40.4 631.1 39.9 631.6 39.4 631.6 36.4 634.6 36.4 635.1 35.9 635.6 35.9 637.1 35.4 637.6Z" fill="rgb(101,101,101)" fill-rule="evenodd"/><path d="M35.9 639.1 36.4 639.6 36.4 641.1 36.9 641.6 36.9 642.1 39.9 645.1 40.4 645.1 40.9 645.6 41.4 645.6 41.9 646.1 42.4 646.1 42.9 646.6 44.9 646.6 45.4 647.1 50.4 647.1 50.9 646.6 58.4 646.6 58.9 646.1 63.9 646.1 64.3 645.6 68.3 645.6 68.8 645.1 72.3 645.1 72.8 644.6 75.8 644.6 76.3 644.1 79.3 644.1 79.8 643.6 81.8 643.6 82.3 643.1 84.3 643.1 84.8 642.6 86.3 642.6 86.8 642.1 88.3 642.1 88.8 641.6 90.3 641.6 90.8 641.1 91.3 641.1 91.8 640.6 92.8 640.6 93.3 640.1 93.8 640.1 95.3 638.6 96.3 638.6 96.8 638.1 109.8 638.1 110.3 637.6 112.3 637.6 103.3 637.6 102.8 637.1 94.3 637.1 93.8 636.6 93.3 636.6 92.8 636.1 92.3 636.1 91.8 635.6 90.8 635.6 90.3 635.1 88.8 635.1 88.3 634.6 86.3 634.6 85.8 634.1 83.8 634.1 83.3 633.6 80.8 633.6 80.3 633.1 77.8 633.1 77.3 632.6 73.8 632.6 73.3 632.1 69.3 632.1 68.8 631.6 63.9 631.6 63.4 631.1 57.4 631.1 56.9 630.6 43.4 630.6 42.9 631.1 41.9 631.1 41.4 631.6 40.9 631.6 40.4 632.1 39.9 632.1 39.4 632.6 38.9 632.6 37.4 634.1 37.4 634.6 36.4 635.6 36.4 636.6 35.9 637.1Z" fill="rgb(107,107,107)" fill-rule="evenodd"/><path d="M36.4 639.1 36.9 639.6 36.9 640.6 37.4 641.1 37.4 641.6 39.9 644.1 40.4 644.1 41.4 645.1 42.4 645.1 42.9 645.6 44.4 645.6 44.9 646.1 52.9 646.1 53.4 645.6 59.9 645.6 60.4 645.1 65.3 645.1 65.8 644.6 69.3 644.6 69.8 644.1 73.3 644.1 73.8 643.6 76.8 643.6 77.3 643.1 79.8 643.1 80.3 642.6 82.3 642.6 82.8 642.1 84.3 642.1 84.8 641.6 86.3 641.6 86.8 641.1 87.8 641.1 88.3 640.6 89.3 640.6 89.8 640.1 90.3 640.1 90.8 639.6 91.3 639.6 92.8 638.1 93.8 638.1 94.3 637.6 96.3 637.6 92.3 637.6 91.8 637.1 91.3 637.1 90.8 636.6 90.3 636.6 89.8 636.1 88.8 636.1 88.3 635.6 87.3 635.6 86.8 635.1 85.3 635.1 84.8 634.6 82.8 634.6 82.3 634.1 79.8 634.1 79.3 633.6 76.3 633.6 75.8 633.1 72.8 633.1 72.3 632.6 68.3 632.6 67.8 632.1 62.9 632.1 62.4 631.6 55.9 631.6 55.4 631.1 43.9 631.1 43.4 631.6 42.4 631.6 41.9 632.1 40.9 632.1 39.9 633.1 39.4 633.1 37.4 635.1 37.4 635.6 36.9 636.1 36.9 636.6 36.4 637.1Z" fill="rgb(112,112,112)" fill-rule="evenodd"/><path d="M36.9 637.1 36.9 639.1 37.4 639.6 37.4 640.6 40.4 643.6 40.9 643.6 41.4 644.1 41.9 644.1 42.4 644.6 43.9 644.6 44.4 645.1 54.9 645.1 55.4 644.6 61.4 644.6 61.9 644.1 66.3 644.1 66.8 643.6 70.3 643.6 70.8 643.1 73.8 643.1 74.3 642.6 77.3 642.6 77.8 642.1 79.8 642.1 80.3 641.6 82.3 641.6 82.8 641.1 84.3 641.1 84.8 640.6 85.8 640.6 86.3 640.1 87.3 640.1 87.8 639.6 88.3 639.6 89.3 638.6 89.3 637.6 88.8 637.1 88.3 637.1 87.8 636.6 87.3 636.6 86.8 636.1 85.3 636.1 84.8 635.6 83.8 635.6 83.3 635.1 81.3 635.1 80.8 634.6 78.3 634.6 77.8 634.1 75.3 634.1 74.8 633.6 71.3 633.6 70.8 633.1 66.8 633.1 66.3 632.6 61.4 632.6 60.9 632.1 54.4 632.1 53.9 631.6 44.4 631.6 43.9 632.1 42.9 632.1 42.4 632.6 41.4 632.6 40.9 633.1 40.4 633.1 39.4 634.1 38.9 634.1 37.9 635.1 37.9 635.6 37.4 636.1 37.4 636.6Z" fill="rgb(118,118,118)" fill-rule="evenodd"/><path d="M37.4 639.1 37.9 639.6 37.9 640.1 38.9 641.1 38.9 641.6 39.4 641.6 40.4 642.6 40.9 642.6 41.4 643.1 41.9 643.1 42.4 643.6 43.4 643.6 43.9 644.1 45.9 644.1 46.4 644.6 49.4 644.6 49.9 644.1 57.4 644.1 57.9 643.6 63.4 643.6 63.9 643.1 67.8 643.1 68.3 642.6 71.8 642.6 72.3 642.1 75.3 642.1 75.8 641.6 77.8 641.6 78.3 641.1 80.3 641.1 80.8 640.6 82.3 640.6 82.8 640.1 83.8 640.1 84.3 639.6 85.3 639.6 86.8 638.1 85.8 637.1 85.3 637.1 84.8 636.6 83.8 636.6 83.3 636.1 82.3 636.1 81.8 635.6 79.8 635.6 79.3 635.1 77.3 635.1 76.8 634.6 74.3 634.6 73.8 634.1 70.3 634.1 69.8 633.6 65.8 633.6 65.3 633.1 60.4 633.1 59.9 632.6 52.9 632.6 52.4 632.1 45.4 632.1 44.9 632.6 42.9 632.6 42.4 633.1 41.9 633.1 41.4 633.6 40.9 633.6 40.4 634.1 39.9 634.1 37.9 636.1 37.9 637.1 37.4 637.6Z" fill="rgb(124,124,124)" fill-rule="evenodd"/><path d="M37.9 637.6 37.9 638.6 38.4 639.1 38.4 640.1 39.9 641.6 40.4 641.6 40.9 642.1 41.4 642.1 41.9 642.6 42.4 642.6 42.9 643.1 44.4 643.1 44.9 643.6 54.4 643.6 54.9 643.1 60.9 643.1 61.4 642.6 65.8 642.6 66.3 642.1 70.3 642.1 70.8 641.6 73.8 641.6 74.3 641.1 76.3 641.1 76.8 640.6 78.8 640.6 79.3 640.1 80.8 640.1 81.3 639.6 82.3 639.6 82.8 639.1 83.3 639.1 83.8 638.6 83.8 637.6 83.3 637.6 82.8 637.1 82.3 637.1 81.8 636.6 80.8 636.6 80.3 636.1 78.8 636.1 78.3 635.6 76.3 635.6 75.8 635.1 73.3 635.1 72.8 634.6 69.8 634.6 69.3 634.1 65.3 634.1 64.8 633.6 60.4 633.6 59.9 633.1 52.4 633.1 51.9 632.6 45.4 632.6 44.9 633.1 43.4 633.1 42.9 633.6 41.9 633.6 41.4 634.1 40.9 634.1 39.9 635.1 39.4 635.1 38.9 635.6 38.9 636.1 38.4 636.6 38.4 637.1Z" fill="rgb(131,131,131)" fill-rule="evenodd"/><path d="M38.4 637.6 38.4 638.6 38.9 639.1 38.9 639.6 40.4 641.1 40.9 641.1 41.4 641.6 41.9 641.6 42.4 642.1 42.9 642.1 43.4 642.6 45.4 642.6 45.9 643.1 51.4 643.1 51.9 642.6 59.4 642.6 59.9 642.1 64.8 642.1 65.3 641.6 69.3 641.6 69.8 641.1 72.8 641.1 73.3 640.6 75.3 640.6 75.8 640.1 77.8 640.1 78.3 639.6 79.3 639.6 79.8 639.1 80.3 639.1 80.8 638.6 81.3 638.6 81.3 637.6 80.8 637.6 80.3 637.1 79.8 637.1 79.3 636.6 77.8 636.6 77.3 636.1 75.8 636.1 75.3 635.6 73.3 635.6 72.8 635.1 69.8 635.1 69.3 634.6 65.3 634.6 64.8 634.1 60.4 634.1 59.9 633.6 52.9 633.6 52.4 633.1 45.9 633.1 45.4 633.6 43.4 633.6 42.9 634.1 41.9 634.1 40.9 635.1 40.4 635.1 38.9 636.6 38.9 637.1Z" fill="rgb(137,137,137)" fill-rule="evenodd"/><path d="M38.9 637.6 38.9 638.6 39.4 639.1 39.4 639.6 40.9 641.1 41.4 641.1 41.9 641.6 42.9 641.6 43.4 642.1 44.9 642.1 45.4 642.6 53.4 642.6 53.9 642.1 60.9 642.1 61.4 641.6 65.8 641.6 66.3 641.1 69.8 641.1 70.3 640.6 72.8 640.6 73.3 640.1 75.3 640.1 75.8 639.6 77.3 639.6 77.8 639.1 78.3 639.1 78.8 638.6 79.3 638.6 79.3 638.1 78.3 637.1 77.3 637.1 76.8 636.6 75.8 636.6 75.3 636.1 73.3 636.1 72.8 635.6 70.3 635.6 69.8 635.1 66.3 635.1 65.8 634.6 61.9 634.6 61.4 634.1 55.4 634.1 54.9 633.6 45.4 633.6 44.9 634.1 43.4 634.1 42.9 634.6 41.9 634.6 41.4 635.1 40.9 635.1 39.4 636.6 39.4 637.1Z" fill="rgb(144,144,144)" fill-rule="evenodd"/><path d="M39.4 637.6 39.4 638.6 39.9 639.1 39.9 639.6 40.9 640.6 41.4 640.6 41.9 641.1 42.4 641.1 42.9 641.6 43.9 641.6 44.4 642.1 57.9 642.1 58.4 641.6 63.4 641.6 63.9 641.1 67.3 641.1 67.8 640.6 70.8 640.6 71.3 640.1 73.3 640.1 73.8 639.6 75.3 639.6 75.8 639.1 76.8 639.1 77.3 638.6 77.3 637.6 76.8 637.6 76.3 637.1 75.8 637.1 75.3 636.6 73.8 636.6 73.3 636.1 71.3 636.1 70.8 635.6 67.8 635.6 67.3 635.1 63.9 635.1 63.4 634.6 58.4 634.6 57.9 634.1 49.9 634.1 49.4 633.6 47.4 633.6 46.9 634.1 44.4 634.1 43.9 634.6 42.9 634.6 42.4 635.1 41.9 635.1 41.4 635.6 40.9 635.6 39.9 636.6 39.9 637.1Z" fill="rgb(151,151,151)" fill-rule="evenodd"/><path d="M39.9 637.1 39.9 639.1 41.4 640.6 41.9 640.6 42.4 641.1 42.9 641.1 43.4 641.6 44.9 641.6 45.4 642.1 54.4 642.1 54.9 641.6 60.9 641.6 61.4 641.1 65.3 641.1 65.8 640.6 68.8 640.6 69.3 640.1 71.3 640.1 71.8 639.6 73.3 639.6 73.8 639.1 74.8 639.1 75.3 638.6 75.8 638.6 75.8 638.1 74.8 637.1 73.8 637.1 73.3 636.6 71.8 636.6 71.3 636.1 69.3 636.1 68.8 635.6 65.8 635.6 65.3 635.1 61.4 635.1 60.9 634.6 54.9 634.6 54.4 634.1 45.4 634.1 44.9 634.6 43.4 634.6 42.9 635.1 42.4 635.1 41.9 635.6 41.4 635.6Z" fill="rgb(158,158,158)" fill-rule="evenodd"/><path d="M40.4 637.1 40.4 639.1 41.9 640.6 42.4 640.6 42.9 641.1 43.9 641.1 44.4 641.6 46.9 641.6 47.4 642.1 50.4 642.1 50.9 641.6 58.4 641.6 58.9 641.1 63.4 641.1 63.9 640.6 66.8 640.6 67.3 640.1 69.8 640.1 70.3 639.6 71.8 639.6 72.3 639.1 73.3 639.1 74.3 638.1 73.8 637.6 73.3 637.6 72.8 637.1 71.8 637.1 71.3 636.6 69.8 636.6 69.3 636.1 66.8 636.1 66.3 635.6 63.4 635.6 62.9 635.1 58.4 635.1 57.9 634.6 50.4 634.6 49.9 634.1 47.9 634.1 47.4 634.6 44.4 634.6 43.9 635.1 43.4 635.1 42.9 635.6 42.4 635.6 41.9 636.1 41.4 636.1Z" fill="rgb(165,165,165)" fill-rule="evenodd"/><path d="M40.9 637.1 40.9 639.1 41.9 640.1 42.4 640.1 42.9 640.6 43.4 640.6 43.9 641.1 44.9 641.1 45.4 641.6 55.9 641.6 56.4 641.1 61.4 641.1 61.9 640.6 65.3 640.6 65.8 640.1 67.8 640.1 68.3 639.6 70.3 639.6 70.8 639.1 71.8 639.1 72.8 638.1 72.3 637.6 71.8 637.6 71.3 637.1 70.3 637.1 69.8 636.6 68.3 636.6 67.8 636.1 64.8 636.1 64.3 635.6 60.9 635.6 60.4 635.1 55.4 635.1 54.9 634.6 45.9 634.6 45.4 635.1 43.9 635.1 43.4 635.6 42.9 635.6 42.4 636.1 41.9 636.1Z" fill="rgb(172,172,172)" fill-rule="evenodd"/><path d="M41.4 637.1 41.4 639.1 42.4 640.1 42.9 640.1 43.4 640.6 43.9 640.6 44.4 641.1 46.4 641.1 46.9 641.6 52.9 641.6 53.4 641.1 58.9 641.1 59.4 640.6 63.4 640.6 63.9 640.1 66.3 640.1 66.8 639.6 68.8 639.6 69.3 639.1 70.3 639.1 70.8 638.6 71.3 638.6 71.3 638.1 70.8 637.6 70.3 637.6 69.8 637.1 68.8 637.1 68.3 636.6 66.3 636.6 65.8 636.1 62.9 636.1 62.4 635.6 58.4 635.6 57.9 635.1 51.4 635.1 50.9 634.6 47.9 634.6 47.4 635.1 44.9 635.1 44.4 635.6 43.4 635.6 42.9 636.1 42.4 636.1Z" fill="rgb(180,180,180)" fill-rule="evenodd"/><path d="M41.4 638.1 41.9 638.6 41.9 639.1 42.9 640.1 43.4 640.1 43.9 640.6 44.9 640.6 45.4 641.1 56.9 641.1 57.4 640.6 61.4 640.6 61.9 640.1 64.8 640.1 65.3 639.6 66.8 639.6 67.3 639.1 68.3 639.1 68.8 638.6 69.3 638.6 69.8 638.1 69.3 637.6 68.8 637.6 68.3 637.1 66.8 637.1 66.3 636.6 64.8 636.6 64.3 636.1 61.4 636.1 60.9 635.6 56.4 635.6 55.9 635.1 45.9 635.1 45.4 635.6 44.4 635.6 43.9 636.1 43.4 636.1 42.9 636.6 42.4 636.6 41.9 637.1 41.9 637.6Z" fill="rgb(187,187,187)" fill-rule="evenodd"/><path d="M41.9 638.1 42.4 638.6 42.4 639.1 43.4 640.1 43.9 640.1 44.4 640.6 45.9 640.6 46.4 641.1 54.9 641.1 55.4 640.6 59.9 640.6 60.4 640.1 62.9 640.1 63.4 639.6 65.3 639.6 65.8 639.1 66.8 639.1 67.3 638.6 67.8 638.6 68.3 638.1 67.8 637.6 67.3 637.6 66.8 637.1 65.3 637.1 64.8 636.6 62.9 636.6 62.4 636.1 59.4 636.1 58.9 635.6 53.9 635.6 53.4 635.1 46.9 635.1 46.4 635.6 44.9 635.6 44.4 636.1 43.9 636.1 43.4 636.6 42.9 636.6 42.4 637.1 42.4 637.6Z" fill="rgb(195,195,195)" fill-rule="evenodd"/><path d="M42.4 638.6 43.4 639.6 43.9 639.6 44.4 640.1 44.9 640.1 45.4 640.6 46.9 640.6 47.4 641.1 52.9 641.1 53.4 640.6 57.9 640.6 58.4 640.1 61.4 640.1 61.9 639.6 63.9 639.6 64.3 639.1 65.3 639.1 65.8 638.6 66.3 638.6 66.8 638.1 66.3 637.6 65.8 637.6 65.3 637.1 63.9 637.1 63.4 636.6 61.4 636.6 60.9 636.1 57.9 636.1 57.4 635.6 51.4 635.6 50.9 635.1 48.4 635.1 47.9 635.6 45.9 635.6 45.4 636.1 44.4 636.1 43.9 636.6 43.4 636.6 42.9 637.1 42.9 637.6 42.4 638.1Z" fill="rgb(203,203,203)" fill-rule="evenodd"/><path d="M42.9 638.6 43.9 639.6 44.4 639.6 44.9 640.1 45.4 640.1 45.9 640.6 49.4 640.6 49.9 641.1 50.4 640.6 56.4 640.6 56.9 640.1 59.9 640.1 60.4 639.6 62.4 639.6 62.9 639.1 63.9 639.1 64.3 638.6 64.8 638.6 65.3 638.1 64.8 637.6 64.3 637.6 63.9 637.1 62.4 637.1 61.9 636.6 59.9 636.6 59.4 636.1 55.9 636.1 55.4 635.6 46.4 635.6 45.9 636.1 44.9 636.1 44.4 636.6 43.9 636.6 43.4 637.1 43.4 637.6 42.9 638.1Z" fill="rgb(212,212,212)" fill-rule="evenodd"/><path d="M43.4 638.1 43.4 638.6 44.4 639.6 44.9 639.6 45.4 640.1 46.4 640.1 46.9 640.6 54.9 640.6 55.4 640.1 58.9 640.1 59.4 639.6 61.4 639.6 61.9 639.1 62.9 639.1 63.4 638.6 63.9 638.6 63.9 637.6 62.9 637.6 62.4 637.1 61.4 637.1 60.9 636.6 58.4 636.6 57.9 636.1 54.4 636.1 53.9 635.6 47.4 635.6 46.9 636.1 45.4 636.1 44.9 636.6 44.4 636.6 43.9 637.1 43.9 637.6Z" fill="rgb(220,220,220)" fill-rule="evenodd"/><path d="M44.4 637.6 44.4 638.6 45.4 639.6 46.4 639.6 46.9 640.1 48.9 640.1 49.4 640.6 50.9 640.6 51.4 640.1 55.9 640.1 56.4 639.6 58.4 639.6 58.9 639.1 59.9 639.1 60.4 638.6 60.9 638.6 61.4 638.1 60.9 637.6 60.4 637.6 59.9 637.1 58.4 637.1 57.9 636.6 55.9 636.6 55.4 636.1 46.9 636.1 46.4 636.6 45.9 636.6 45.4 637.1 44.9 637.1Z" fill="rgb(228,228,228)" fill-rule="evenodd"/><path d="M45.9 637.6 45.9 638.6 46.4 639.1 46.9 639.1 47.4 639.6 48.9 639.6 49.4 640.1 51.9 640.1 52.4 639.6 54.9 639.6 55.4 639.1 56.4 639.1 56.9 638.6 57.4 638.6 57.9 638.1 57.4 637.6 56.9 637.6 56.4 637.1 54.9 637.1 54.4 636.6 51.9 636.6 51.4 636.1 49.4 636.1 48.9 636.6 47.4 636.6 46.9 637.1 46.4 637.1Z" fill="rgb(237,237,237)" fill-rule="evenodd"/><path d="M47.4 637.6 47.4 638.6 47.9 638.6 48.4 639.1 49.9 639.1 50.4 639.6 50.9 639.6 51.4 639.1 53.4 639.1 53.9 638.6 54.4 638.6 54.9 638.1 54.4 637.6 53.9 637.6 53.4 637.1 51.4 637.1 50.9 636.6 50.4 637.1 48.4 637.1 47.9 637.6Z" fill="rgb(246,246,246)" fill-rule="evenodd"/><path d="M49.9 638.1 50.4 638.6 50.9 638.6 51.4 638.1Z" fill="rgb(255,255,255)" fill-rule="evenodd"/></g></g>
<rect x="29.6" y="580.9" width="172.7" height="111.9" fill="none" stroke="#333" stroke-width="0.9"/>
<path d="M30 692.8v1.6M30 580.9v-1.6M71.22 692.8v1.6M71.22 580.9v-1.6M112.45 692.8v1.6M112.45 580.9v-1.6M153.68 692.8v1.6M153.68 580.9v-1.6M194.9 692.8v1.6M194.9 580.9v-1.6M29.6 687.12h-1.6M202.3 687.12h1.6M29.6 670.68h-1.6M202.3 670.68h1.6M29.6 654.24h-1.6M202.3 654.24h1.6M29.6 637.8h-1.6M202.3 637.8h1.6M29.6 621.36h-1.6M202.3 621.36h1.6M29.6 604.92h-1.6M202.3 604.92h1.6M29.6 588.48h-1.6M202.3 588.48h1.6" stroke="#333" stroke-width="0.8"/>
<text x="30" y="701.6" font-size="6.3" fill="#222" text-anchor="middle" textLength="3.6" lengthAdjust="spacingAndGlyphs" stroke="#222" stroke-width="0.18">0</text>
<text x="71.22" y="701.6" font-size="6.3" fill="#222" text-anchor="middle" textLength="7.2" lengthAdjust="spacingAndGlyphs" stroke="#222" stroke-width="0.18">50</text>
<text x="112.45" y="701.6" font-size="6.3" fill="#222" text-anchor="middle" textLength="10.8" lengthAdjust="spacingAndGlyphs" stroke="#222" stroke-width="0.18">100</text>
<text x="153.68" y="701.6" font-size="6.3" fill="#222" text-anchor="middle" textLength="10.8" lengthAdjust="spacingAndGlyphs" stroke="#222" stroke-width="0.18">150</text>
<text x="194.9" y="701.6" font-size="6.3" fill="#222" text-anchor="middle" textLength="10.8" lengthAdjust="spacingAndGlyphs" stroke="#222" stroke-width="0.18">200</text>
<text x="26" y="689.32" font-size="6.3" fill="#222" text-anchor="end" textLength="11.6" lengthAdjust="spacingAndGlyphs" stroke="#222" stroke-width="0.18">-60</text>
<text x="26" y="672.88" font-size="6.3" fill="#222" text-anchor="end" textLength="11.6" lengthAdjust="spacingAndGlyphs" stroke="#222" stroke-width="0.18">-40</text>
<text x="26" y="656.44" font-size="6.3" fill="#222" text-anchor="end" textLength="11.6" lengthAdjust="spacingAndGlyphs" stroke="#222" stroke-width="0.18">-20</text>
<text x="23.1" y="640" font-size="6.3" fill="#222" text-anchor="end" textLength="3.6" lengthAdjust="spacingAndGlyphs" stroke="#222" stroke-width="0.18">0</text>
<text x="26" y="623.56" font-size="6.3" fill="#222" text-anchor="end" textLength="7.8" lengthAdjust="spacingAndGlyphs" stroke="#222" stroke-width="0.18">20</text>
<text x="26" y="607.12" font-size="6.3" fill="#222" text-anchor="end" textLength="7.8" lengthAdjust="spacingAndGlyphs" stroke="#222" stroke-width="0.18">40</text>
<text x="26" y="590.68" font-size="6.3" fill="#222" text-anchor="end" textLength="7.8" lengthAdjust="spacingAndGlyphs" stroke="#222" stroke-width="0.18">60</text>
<text x="114" y="712.9" font-size="12" fill="#222" text-anchor="middle">B<tspan font-size="8" dy="3">c</tspan><tspan dy="-3"> (mT)</tspan></text>
<text x="13.6" y="636.6" font-size="12" fill="#222" text-anchor="middle" transform="rotate(-90 13.6 636.6)">B<tspan font-size="8" dy="3">u</tspan><tspan dy="-3"> (mT)</tspan></text>
<rect x="39.4" y="588.8" width="20.1" height="20.5" fill="#fff" stroke="#222" stroke-width="0.9"/>
<text x="49.45" y="605.2" font-size="19" fill="#000" text-anchor="middle" stroke="#000" stroke-width="0.55">m</text>
<text x="65.5" y="605.9" font-size="14" fill="#111" textLength="89.3" lengthAdjust="spacingAndGlyphs" stroke="#111" stroke-width="0.3">926R07-01-3</text>
<rect x="206.5" y="598.3" width="3.3" height="81" fill="url(#fmg)" stroke="#333" stroke-width="0.5"/>
<path d="M209.8 604.2h1.5M209.8 616.1h1.5M209.8 628.1h1.5M209.8 640h1.5M209.8 652h1.5M209.8 663.8h1.5M209.8 675.8h1.5" stroke="#333" stroke-width="0.6"/>
<text x="213.5" y="606.5" font-size="7" fill="#222" textLength="11.25" lengthAdjust="spacingAndGlyphs" stroke="#222" stroke-width="0.18">500</text>
<text x="213.5" y="618.4" font-size="7" fill="#222" textLength="11.25" lengthAdjust="spacingAndGlyphs" stroke="#222" stroke-width="0.18">400</text>
<text x="213.5" y="630.4" font-size="7" fill="#222" textLength="11.25" lengthAdjust="spacingAndGlyphs" stroke="#222" stroke-width="0.18">300</text>
<text x="213.5" y="642.3" font-size="7" fill="#222" textLength="11.25" lengthAdjust="spacingAndGlyphs" stroke="#222" stroke-width="0.18">200</text>
<text x="213.5" y="654.3" font-size="7" fill="#222" textLength="11.25" lengthAdjust="spacingAndGlyphs" stroke="#222" stroke-width="0.18">100</text>
<text x="213.5" y="666.1" font-size="7" fill="#222" textLength="3.75" lengthAdjust="spacingAndGlyphs" stroke="#222" stroke-width="0.18">0</text>
<text x="213.5" y="678.1" font-size="7" fill="#222" textLength="15.4" lengthAdjust="spacingAndGlyphs" stroke="#222" stroke-width="0.18">-100</text>
<text x="205.2" y="594" font-size="6" fill="#222" textLength="21" lengthAdjust="spacingAndGlyphs">Am<tspan font-size="4" dy="-2">2</tspan><tspan dy="2">/T</tspan><tspan font-size="4" dy="-2">2</tspan></text>
<g clip-path="url(#fnc)"><g filter="url(#fn)"><rect x="282.2" y="574.0" width="350.3" height="126.60000000000002" fill="rgb(51,51,51)"/><path d="M285.4 619.8 285.4 697.2 314.9 697.2 314.9 692.2 314.4 691.8 314.4 689.8 313.9 689.2 313.9 688.2 313.4 687.8 313.4 686.8 312.9 686.2 312.9 685.8 312.4 685.2 312.4 684.8 311.9 684.2 311.9 683.8 311.4 683.2 311.4 682.8 310.4 681.8 310.4 681.2 309.4 680.2 309.4 679.8 306.4 676.8 306.4 671.8 305.9 671.2 305.9 666.2 305.4 665.8 305.4 662.2 304.9 661.8 304.9 658.8 304.4 658.2 304.4 655.2 303.9 654.8 303.9 652.8 303.4 652.2 303.4 650.2 302.9 649.8 302.9 647.8 302.4 647.2 302.4 645.8 301.9 645.2 301.9 643.8 301.4 643.2 301.4 641.8 300.9 641.2 300.9 640.2 300.4 639.8 300.4 638.8 299.9 638.2 299.9 637.2 299.4 636.8 299.4 635.8 298.9 635.2 298.9 634.2 298.4 633.8 298.4 633.2 297.9 632.8 297.9 631.8 297.4 631.2 297.4 630.8 296.9 630.2 296.9 629.8 296.4 629.2 296.4 628.8 295.9 628.2 295.9 627.8 294.9 626.8 294.9 626.2 294.4 625.8 294.4 625.2 292.4 623.2 292.4 622.8 291.4 621.8 290.9 621.8 289.9 620.8 289.4 620.8 288.9 620.2 288.4 620.2 287.9 619.8Z" fill="rgb(49,49,49)" fill-rule="evenodd"/><path d="M285.4 635.2 285.4 697.2 308.9 697.2 308.9 695.8 308.4 695.2 308.4 692.8 307.9 692.2 307.9 690.8 307.4 690.2 307.4 689.8 306.9 689.2 306.9 688.2 305.9 687.2 305.9 686.8 304.9 685.8 304.9 685.2 302.9 683.2 302.4 683.2 301.9 682.8 301.9 676.8 301.4 676.2 301.4 671.2 300.9 670.8 300.9 667.2 300.4 666.8 300.4 663.8 299.9 663.2 299.9 661.2 299.4 660.8 299.4 658.8 298.9 658.2 298.9 656.2 298.4 655.8 298.4 654.2 297.9 653.8 297.9 652.2 297.4 651.8 297.4 650.8 296.9 650.2 296.9 649.2 296.4 648.8 296.4 647.8 295.9 647.2 295.9 646.8 295.4 646.2 295.4 645.2 294.9 644.8 294.9 644.2 294.4 643.8 294.4 643.2 293.9 642.8 293.9 642.2 293.4 641.8 293.4 641.2 292.9 640.8 292.9 640.2 291.4 638.8 291.4 638.2 289.9 636.8 289.4 636.8 288.4 635.8 287.4 635.8 286.9 635.2Z" fill="rgb(48,48,48)" fill-rule="evenodd"/><path d="M285.9 644.2 285.4 644.8 285.4 697.2 304.4 697.2 304.4 694.8 303.9 694.2 303.9 692.8 303.4 692.2 303.4 691.8 302.9 691.2 302.9 690.8 302.4 690.2 302.4 689.8 299.4 686.8 299.4 681.2 298.9 680.8 298.9 675.2 298.4 674.8 298.4 670.8 297.9 670.2 297.9 667.8 297.4 667.2 297.4 665.2 296.9 664.8 296.9 662.8 296.4 662.2 296.4 660.8 295.9 660.2 295.9 658.8 295.4 658.2 295.4 657.2 294.9 656.8 294.9 655.8 294.4 655.2 294.4 654.2 293.9 653.8 293.9 652.8 293.4 652.2 293.4 651.8 292.9 651.2 292.9 650.8 292.4 650.2 292.4 649.8 291.4 648.8 291.4 648.2 290.4 647.2 290.4 646.8 289.4 645.8 288.9 645.8 287.9 644.8 286.4 644.8Z" fill="rgb(46,46,46)" fill-rule="evenodd"/><path d="M285.4 651.8 285.4 697.2 299.9 697.2 299.9 695.2 299.4 694.8 299.4 694.2 298.9 693.8 298.9 693.2 297.4 691.8 297.4 684.8 296.9 684.2 296.9 677.8 296.4 677.2 296.4 673.8 295.9 673.2 295.9 670.8 295.4 670.2 295.4 667.8 294.9 667.2 294.9 665.8 294.4 665.2 294.4 663.8 293.9 663.2 293.9 662.2 293.4 661.8 293.4 660.8 292.9 660.2 292.9 659.2 292.4 658.8 292.4 658.2 291.9 657.8 291.9 657.2 291.4 656.8 291.4 656.2 290.9 655.8 290.9 655.2 289.9 654.2 289.9 653.8 288.9 652.8 288.4 652.8 287.4 651.8Z" fill="rgb(45,45,45)" fill-rule="evenodd"/><path d="M285.4 658.2 285.4 697.2 294.9 697.2 294.9 696.8 295.4 696.2 295.4 683.8 294.9 683.2 294.9 678.2 294.4 677.8 294.4 674.8 293.9 674.2 293.9 671.8 293.4 671.2 293.4 669.8 292.9 669.2 292.9 667.8 292.4 667.2 292.4 666.2 291.9 665.8 291.9 664.8 291.4 664.2 291.4 663.8 290.9 663.2 290.9 662.8 290.4 662.2 290.4 661.8 289.9 661.2 289.9 660.8 287.4 658.2Z" fill="rgb(43,43,43)" fill-rule="evenodd"/><path d="M285.4 664.2 285.4 697.2 293.4 697.2 293.4 682.8 292.9 682.2 292.9 678.8 292.4 678.2 292.4 675.8 291.9 675.2 291.9 673.2 291.4 672.8 291.4 671.8 290.9 671.2 290.9 670.2 290.4 669.8 290.4 668.8 289.9 668.2 289.9 667.8 289.4 667.2 289.4 666.8 286.9 664.2Z" fill="rgb(42,42,42)" fill-rule="evenodd"/><path d="M285.9 670.8 285.4 671.2 285.4 697.2 290.9 697.2 290.9 696.8 291.4 696.2 291.4 683.8 290.9 683.2 290.9 680.2 290.4 679.8 290.4 677.8 289.9 677.2 289.9 676.2 289.4 675.8 289.4 674.8 288.9 674.2 288.9 673.8 288.4 673.2 288.4 672.8 286.4 670.8Z" fill="rgb(40,40,40)" fill-rule="evenodd"/><path d="M285.9 679.2 285.4 679.8 285.4 697.2 287.9 697.2 288.4 696.8 288.4 694.8 288.9 694.2 288.9 685.8 288.4 685.2 288.4 683.2 287.9 682.8 287.9 681.8 287.4 681.2 287.4 680.8 286.9 680.2 286.9 679.8 286.4 679.8Z" fill="rgb(39,39,39)" fill-rule="evenodd"/><path d="M285.4 594.2 285.4 679.2 285.9 679.2 286.4 679.8 287.4 679.8 287.9 680.2 288.9 680.2 289.4 680.8 290.4 680.8 290.9 681.2 291.9 681.2 292.4 681.8 293.9 681.8 294.4 682.2 295.4 682.2 295.9 682.8 297.4 682.8 297.9 683.2 298.9 683.2 299.4 683.8 300.9 683.8 301.4 684.2 303.4 684.2 303.9 684.8 305.4 684.8 305.9 685.2 307.9 685.2 308.4 685.8 309.9 685.8 310.4 686.2 312.4 686.2 312.9 686.8 315.4 686.8 315.9 687.2 318.4 687.2 318.9 687.8 321.4 687.8 321.9 688.2 324.9 688.2 325.4 688.8 328.4 688.8 328.9 689.2 332.4 689.2 332.9 689.8 336.9 689.8 337.4 690.2 342.4 690.2 342.9 690.8 349.4 690.8 349.9 691.2 359.4 691.2 359.9 691.8 394.9 691.8 395.4 691.2 413.9 691.2 414.4 690.8 426.4 690.8 426.9 690.2 436.9 690.2 437.4 689.8 445.4 689.8 445.9 689.2 452.9 689.2 453.4 688.8 459.9 688.8 460.4 688.2 466.4 688.2 466.9 687.8 471.9 687.8 472.4 687.2 477.4 687.2 477.9 686.8 482.4 686.8 482.9 686.2 487.4 686.2 487.9 685.8 491.9 685.8 492.4 685.2 495.9 685.2 496.4 684.8 499.9 684.8 500.4 684.2 503.9 684.2 504.4 683.8 507.9 683.8 508.4 683.2 511.4 683.2 511.9 682.8 515.0 682.8 515.5 682.2 518.0 682.2 518.5 681.8 521.5 681.8 522.0 681.2 524.5 681.2 525.0 680.8 527.0 680.8 527.5 680.2 530.0 680.2 530.5 679.8 532.5 679.8 533.0 679.2 535.5 679.2 536.0 678.8 538.0 678.8 538.5 678.2 540.5 678.2 541.0 677.8 542.5 677.8 543.0 677.2 545.0 677.2 545.5 676.8 547.0 676.8 547.5 676.2 549.5 676.2 550.0 675.8 551.5 675.8 552.0 675.2 553.5 675.2 554.0 674.8 555.0 674.8 555.5 674.2 557.0 674.2 557.5 673.8 559.0 673.8 559.5 673.2 560.5 673.2 561.0 672.8 562.0 672.8 562.5 672.2 564.0 672.2 564.5 671.8 565.5 671.8 566.0 671.2 567.0 671.2 567.5 670.8 568.5 670.8 569.0 670.2 569.5 670.2 570.0 669.8 571.0 669.8 571.5 669.2 575.0 669.2 575.5 668.8 588.5 668.8 589.0 668.2 602.0 668.2 602.5 667.8 615.0 667.8 615.5 667.2 627.5 667.2 628.0 666.8 629.5 666.8 629.5 614.2 627.0 614.2 626.5 613.8 610.5 613.8 610.0 613.2 593.0 613.2 592.5 612.8 575.0 612.8 574.5 612.2 556.5 612.2 556.0 611.8 537.0 611.8 536.5 611.2 516.5 611.2 516.0 610.8 494.9 610.8 494.4 610.2 472.4 610.2 471.9 609.8 469.4 609.8 468.9 609.2 468.4 609.2 466.9 607.8 466.4 607.8 465.9 607.2 465.4 607.2 464.4 606.2 463.9 606.2 463.4 605.8 462.9 605.8 462.4 605.2 461.9 605.2 461.4 604.8 460.9 604.8 460.4 604.2 459.9 604.2 459.4 603.8 458.4 603.8 457.9 603.2 457.4 603.2 456.9 602.8 455.9 602.8 455.4 602.2 454.9 602.2 454.4 601.8 453.4 601.8 452.9 601.2 451.9 601.2 451.4 600.8 450.4 600.8 449.9 600.2 448.9 600.2 448.4 599.8 446.9 599.8 446.4 599.2 445.4 599.2 444.9 598.8 443.4 598.8 442.9 598.2 441.4 598.2 440.9 597.8 439.4 597.8 438.9 597.2 437.4 597.2 436.9 596.8 435.4 596.8 434.9 596.2 432.9 596.2 432.4 595.8 430.4 595.8 429.9 595.2 427.9 595.2 427.4 594.8 425.4 594.8 424.9 594.2 422.4 594.2 421.9 593.8 419.9 593.8 419.4 593.2 416.4 593.2 415.9 592.8 413.4 592.8 412.9 592.2 409.9 592.2 409.4 591.8 405.9 591.8 405.4 591.2 402.4 591.2 401.9 590.8 397.9 590.8 397.4 590.2 393.4 590.2 392.9 589.8 388.4 589.8 387.9 589.2 382.4 589.2 381.9 588.8 376.4 588.8 375.9 588.2 368.9 588.2 368.4 587.8 359.9 587.8 359.4 587.2 346.9 587.2 346.4 586.8 316.4 586.8 315.9 587.2 311.4 587.2 310.9 587.8 307.9 587.8 307.4 588.2 304.9 588.2 304.4 588.8 302.4 588.8 301.9 589.2 299.9 589.2 299.4 589.8 297.9 589.8 297.4 590.2 295.9 590.2 295.4 590.8 294.4 590.8 293.9 591.2 292.9 591.2 292.4 591.8 291.4 591.8 290.9 592.2 289.9 592.2 289.4 592.8 288.9 592.8 288.4 593.2 287.4 593.2 286.9 593.8 286.4 593.8 285.9 594.2Z" fill="rgb(52,52,52)" fill-rule="evenodd"/><path d="M285.4 604.2 285.4 667.2 285.9 667.2 286.9 668.2 287.4 668.2 288.4 669.2 288.9 669.2 289.4 669.8 289.9 669.8 290.4 670.2 290.9 670.2 291.4 670.8 291.9 670.8 292.4 671.2 292.9 671.2 293.4 671.8 293.9 671.8 294.4 672.2 295.4 672.2 295.9 672.8 296.4 672.8 296.9 673.2 297.4 673.2 297.9 673.8 298.9 673.8 299.4 674.2 300.4 674.2 300.9 674.8 301.4 674.8 301.9 675.2 302.9 675.2 303.4 675.8 304.4 675.8 304.9 676.2 306.4 676.2 306.9 676.8 307.9 676.8 308.4 677.2 309.9 677.2 310.4 677.8 311.4 677.8 311.9 678.2 313.4 678.2 313.9 678.8 315.4 678.8 315.9 679.2 317.9 679.2 318.4 679.8 319.9 679.8 320.4 680.2 322.4 680.2 322.9 680.8 325.4 680.8 325.9 681.2 328.4 681.2 328.9 681.8 331.4 681.8 331.9 682.2 334.9 682.2 335.4 682.8 338.9 682.8 339.4 683.2 343.4 683.2 343.9 683.8 348.9 683.8 349.4 684.2 356.4 684.2 356.9 684.8 400.4 684.8 400.9 684.2 414.4 684.2 414.9 683.8 424.9 683.8 425.4 683.2 433.4 683.2 433.9 682.8 440.9 682.8 441.4 682.2 447.4 682.2 447.9 681.8 453.4 681.8 453.9 681.2 458.9 681.2 459.4 680.8 463.9 680.8 464.4 680.2 468.4 680.2 468.9 679.8 472.9 679.8 473.4 679.2 476.9 679.2 477.4 678.8 480.9 678.8 481.4 678.2 484.4 678.2 484.9 677.8 487.9 677.8 488.4 677.2 491.4 677.2 491.9 676.8 494.4 676.8 494.9 676.2 497.4 676.2 497.9 675.8 500.4 675.8 500.9 675.2 502.9 675.2 503.4 674.8 505.9 674.8 506.4 674.2 508.4 674.2 508.9 673.8 510.4 673.8 510.9 673.2 513.0 673.2 513.5 672.8 515.5 672.8 516.0 672.2 517.5 672.2 518.0 671.8 519.5 671.8 520.0 671.2 521.5 671.2 522.0 670.8 523.5 670.8 524.0 670.2 525.0 670.2 525.5 669.8 527.0 669.8 527.5 669.2 528.5 669.2 529.0 668.8 530.0 668.8 530.5 668.2 531.5 668.2 532.0 667.8 533.0 667.8 533.5 667.2 534.5 667.2 535.0 666.8 535.5 666.8 536.0 666.2 537.0 666.2 537.5 665.8 538.0 665.8 538.5 665.2 539.5 665.2 540.0 664.8 540.5 664.8 541.0 664.2 541.5 664.2 542.0 663.8 542.5 663.8 543.0 663.2 543.5 663.2 544.5 662.2 545.0 662.2 545.5 661.8 546.0 661.8 546.5 661.2 547.0 661.2 547.5 660.8 557.5 660.8 558.0 660.2 568.0 660.2 568.5 659.8 578.0 659.8 578.5 659.2 587.5 659.2 588.0 658.8 597.0 658.8 597.5 658.2 606.0 658.2 606.5 657.8 614.5 657.8 615.0 657.2 623.0 657.2 623.5 656.8 629.5 656.8 629.5 621.8 620.5 621.8 620.0 621.2 609.0 621.2 608.5 620.8 597.5 620.8 597.0 620.2 585.0 620.2 584.5 619.8 572.0 619.8 571.5 619.2 558.5 619.2 558.0 618.8 544.5 618.8 544.0 618.2 529.5 618.2 529.0 617.8 514.5 617.8 514.0 617.2 497.9 617.2 497.4 616.8 480.9 616.8 480.4 616.2 462.9 616.2 462.4 615.8 443.9 615.8 443.4 615.2 440.9 615.2 440.4 614.8 440.4 614.2 439.9 613.8 439.9 613.2 436.4 609.8 435.9 609.8 434.9 608.8 434.4 608.8 433.9 608.2 433.4 608.2 432.9 607.8 432.4 607.8 431.9 607.2 431.4 607.2 430.9 606.8 430.4 606.8 429.9 606.2 428.9 606.2 428.4 605.8 427.9 605.8 427.4 605.2 426.4 605.2 425.9 604.8 424.9 604.8 424.4 604.2 423.4 604.2 422.9 603.8 421.9 603.8 421.4 603.2 420.4 603.2 419.9 602.8 418.4 602.8 417.9 602.2 416.4 602.2 415.9 601.8 414.4 601.8 413.9 601.2 412.4 601.2 411.9 600.8 410.4 600.8 409.9 600.2 407.9 600.2 407.4 599.8 405.4 599.8 404.9 599.2 402.4 599.2 401.9 598.8 399.9 598.8 399.4 598.2 396.4 598.2 395.9 597.8 393.4 597.8 392.9 597.2 389.9 597.2 389.4 596.8 385.9 596.8 385.4 596.2 381.4 596.2 380.9 595.8 376.9 595.8 376.4 595.2 371.4 595.2 370.9 594.8 365.4 594.8 364.9 594.2 357.4 594.2 356.9 593.8 347.4 593.8 346.9 593.2 316.4 593.2 315.9 593.8 312.4 593.8 311.9 594.2 309.4 594.2 308.9 594.8 306.9 594.8 306.4 595.2 304.4 595.2 303.9 595.8 302.9 595.8 302.4 596.2 300.9 596.2 300.4 596.8 299.4 596.8 298.9 597.2 297.9 597.2 297.4 597.8 296.4 597.8 295.9 598.2 295.4 598.2 294.9 598.8 294.4 598.8 293.9 599.2 293.4 599.2 292.9 599.8 292.4 599.8 291.9 600.2 291.4 600.2 290.9 600.8 290.4 600.8 289.9 601.2 289.4 601.2 288.9 601.8 288.4 601.8 286.9 603.2 286.4 603.2Z" fill="rgb(53,53,53)" fill-rule="evenodd"/><path d="M285.4 624.8 285.4 653.2 286.9 654.8 286.9 655.2 288.9 657.2 289.4 657.2 290.9 658.8 291.4 658.8 293.4 660.8 293.4 661.2 295.4 663.2 295.9 663.2 297.4 664.8 297.9 664.8 298.9 665.8 299.4 665.8 300.4 666.8 300.9 666.8 301.4 667.2 301.9 667.2 302.4 667.8 302.9 667.8 303.4 668.2 303.9 668.2 304.4 668.8 304.9 668.8 305.4 669.2 305.9 669.2 306.4 669.8 306.9 669.8 307.4 670.2 308.4 670.2 308.9 670.8 309.4 670.8 309.9 671.2 310.9 671.2 311.4 671.8 312.4 671.8 312.9 672.2 313.9 672.2 314.4 672.8 315.4 672.8 315.9 673.2 316.9 673.2 317.4 673.8 318.9 673.8 319.4 674.2 320.9 674.2 321.4 674.8 322.9 674.8 323.4 675.2 324.9 675.2 325.4 675.8 326.9 675.8 327.4 676.2 329.4 676.2 329.9 676.8 332.4 676.8 332.9 677.2 335.4 677.2 335.9 677.8 338.4 677.8 338.9 678.2 341.9 678.2 342.4 678.8 346.4 678.8 346.9 679.2 351.9 679.2 352.4 679.8 359.4 679.8 359.9 680.2 394.9 680.2 395.4 679.8 408.9 679.8 409.4 679.2 418.9 679.2 419.4 678.8 427.4 678.8 427.9 678.2 433.9 678.2 434.4 677.8 440.4 677.8 440.9 677.2 445.9 677.2 446.4 676.8 450.9 676.8 451.4 676.2 455.4 676.2 455.9 675.8 459.4 675.8 459.9 675.2 463.4 675.2 463.9 674.8 467.4 674.8 467.9 674.2 470.9 674.2 471.4 673.8 473.9 673.8 474.4 673.2 477.4 673.2 477.9 672.8 480.4 672.8 480.9 672.2 482.9 672.2 483.4 671.8 485.4 671.8 485.9 671.2 487.9 671.2 488.4 670.8 490.4 670.8 490.9 670.2 492.9 670.2 493.4 669.8 494.9 669.8 495.4 669.2 496.9 669.2 497.4 668.8 498.9 668.8 499.4 668.2 500.9 668.2 501.4 667.8 502.9 667.8 503.4 667.2 504.4 667.2 504.9 666.8 505.9 666.8 506.4 666.2 507.4 666.2 507.9 665.8 508.9 665.8 509.4 665.2 510.4 665.2 510.9 664.8 511.9 664.8 512.5 664.2 513.0 664.2 513.5 663.8 514.5 663.8 515.0 663.2 515.5 663.2 516.0 662.8 516.5 662.8 517.0 662.2 517.5 662.2 518.0 661.8 518.5 661.8 519.5 660.8 520.0 660.8 521.0 659.8 521.5 659.8 524.5 656.8 526.5 656.8 527.0 656.2 535.5 656.2 536.0 655.8 544.0 655.8 544.5 655.2 552.0 655.2 552.5 654.8 560.0 654.8 560.5 654.2 568.0 654.2 568.5 653.8 575.5 653.8 576.0 653.2 582.5 653.2 583.0 652.8 589.5 652.8 590.0 652.2 596.0 652.2 596.5 651.8 602.5 651.8 603.0 651.2 608.5 651.2 609.0 650.8 614.0 650.8 614.5 650.2 620.0 650.2 620.5 649.8 625.0 649.8 625.5 649.2 629.5 649.2 629.5 627.8 627.5 627.8 627.0 627.2 620.5 627.2 620.0 626.8 613.5 626.8 613.0 626.2 605.5 626.2 605.0 625.8 597.0 625.8 596.5 625.2 588.5 625.2 588.0 624.8 579.5 624.8 579.0 624.2 569.5 624.2 569.0 623.8 559.5 623.8 559.0 623.2 549.0 623.2 548.5 622.8 538.0 622.8 537.5 622.2 526.0 622.2 525.5 621.8 514.0 621.8 513.5 621.2 500.9 621.2 500.4 620.8 487.4 620.8 486.9 620.2 472.9 620.2 472.4 619.8 457.9 619.8 457.4 619.2 441.9 619.2 441.4 618.8 424.4 618.8 423.9 618.2 417.9 618.2 417.4 617.8 417.4 617.2 417.9 616.8 417.9 614.8 417.4 614.2 417.4 613.8 414.9 611.2 414.4 611.2 413.4 610.2 412.9 610.2 412.4 609.8 411.9 609.8 411.4 609.2 410.9 609.2 410.4 608.8 409.9 608.8 409.4 608.2 408.9 608.2 408.4 607.8 407.4 607.8 406.9 607.2 405.9 607.2 405.4 606.8 404.4 606.8 403.9 606.2 402.9 606.2 402.4 605.8 401.4 605.8 400.9 605.2 399.4 605.2 398.9 604.8 397.4 604.8 396.9 604.2 395.4 604.2 394.9 603.8 393.4 603.8 392.9 603.2 390.9 603.2 390.4 602.8 387.9 602.8 387.4 602.2 385.4 602.2 384.9 601.8 381.9 601.8 381.4 601.2 378.9 601.2 378.4 600.8 374.9 600.8 374.4 600.2 370.9 600.2 370.4 599.8 365.9 599.8 365.4 599.2 360.4 599.2 359.9 598.8 353.4 598.8 352.9 598.2 343.9 598.2 343.4 597.8 317.9 597.8 317.4 598.2 313.9 598.2 313.4 598.8 310.9 598.8 310.4 599.2 308.9 599.2 308.4 599.8 306.9 599.8 306.4 600.2 305.4 600.2 304.9 600.8 303.9 600.8 303.4 601.2 302.4 601.2 301.9 601.8 301.4 601.8 300.9 602.2 299.9 602.2 299.4 602.8 298.9 602.8 298.4 603.2 297.9 603.2 297.4 603.8 296.9 603.8 295.9 604.8 295.4 604.8 294.4 605.8 293.9 605.8 289.9 609.8 289.9 610.2 289.4 610.8 289.4 611.2 288.9 611.8 288.9 612.2 288.4 612.8 288.4 613.8 287.9 614.2 287.9 617.8 288.4 618.2 288.4 619.2 288.9 619.8 288.9 620.2 289.4 620.8 289.4 621.2 288.9 621.8 288.4 621.8Z" fill="rgb(55,55,55)" fill-rule="evenodd"/><path d="M285.4 628.2 285.4 648.2 286.4 649.2 286.4 649.8 286.9 650.2 286.9 650.8 288.9 652.8 288.9 653.2 290.9 655.2 291.4 655.2 292.9 656.8 293.4 656.8 294.4 657.8 294.9 657.8 295.4 658.2 295.9 658.2 296.4 658.8 296.9 658.8 297.4 659.2 297.9 659.2 298.4 659.8 298.9 659.8 299.4 660.2 300.9 660.2 301.4 660.8 302.9 660.8 303.4 661.2 305.4 661.2 307.4 663.2 307.9 663.2 308.9 664.2 309.4 664.2 309.9 664.8 310.4 664.8 311.4 665.8 311.9 665.8 312.4 666.2 312.9 666.2 313.4 666.8 313.9 666.8 314.4 667.2 315.4 667.2 315.9 667.8 316.4 667.8 316.9 668.2 317.4 668.2 317.9 668.8 318.9 668.8 319.4 669.2 320.4 669.2 320.9 669.8 321.9 669.8 322.4 670.2 323.4 670.2 323.9 670.8 325.4 670.8 325.9 671.2 326.9 671.2 327.4 671.8 328.9 671.8 329.4 672.2 330.9 672.2 331.4 672.8 333.4 672.8 333.9 673.2 335.9 673.2 336.4 673.8 338.4 673.8 338.9 674.2 341.4 674.2 341.9 674.8 344.9 674.8 345.4 675.2 349.4 675.2 349.9 675.8 354.4 675.8 354.9 676.2 362.9 676.2 363.4 676.8 388.4 676.8 388.9 676.2 403.9 676.2 404.4 675.8 413.9 675.8 414.4 675.2 421.4 675.2 421.9 674.8 427.9 674.8 428.4 674.2 433.9 674.2 434.4 673.8 438.9 673.8 439.4 673.2 443.9 673.2 444.4 672.8 447.9 672.8 448.4 672.2 451.9 672.2 452.4 671.8 455.4 671.8 455.9 671.2 458.9 671.2 459.4 670.8 461.9 670.8 462.4 670.2 464.9 670.2 465.4 669.8 467.9 669.8 468.4 669.2 470.4 669.2 470.9 668.8 472.9 668.8 473.4 668.2 475.4 668.2 475.9 667.8 477.4 667.8 477.9 667.2 479.9 667.2 480.4 666.8 481.9 666.8 482.4 666.2 483.4 666.2 483.9 665.8 485.4 665.8 485.9 665.2 486.9 665.2 487.4 664.8 488.4 664.8 488.9 664.2 489.9 664.2 490.4 663.8 491.4 663.8 491.9 663.2 492.9 663.2 493.4 662.8 493.9 662.8 494.4 662.2 495.4 662.2 495.9 661.8 496.4 661.8 496.9 661.2 497.4 661.2 497.9 660.8 498.4 660.8 499.4 659.8 499.9 659.8 500.9 658.8 501.4 658.8 502.9 657.2 502.9 656.8 503.4 656.2 503.4 655.8 503.9 655.2 503.9 654.2 504.4 653.8 509.9 653.8 510.4 653.2 517.5 653.2 518.0 652.8 525.0 652.8 525.5 652.2 532.5 652.2 533.0 651.8 539.0 651.8 539.5 651.2 545.5 651.2 546.0 650.8 552.0 650.8 552.5 650.2 558.0 650.2 558.5 649.8 563.5 649.8 564.0 649.2 569.0 649.2 569.5 648.8 574.5 648.8 575.0 648.2 579.5 648.2 580.0 647.8 584.0 647.8 584.5 647.2 588.5 647.2 589.0 646.8 593.0 646.8 593.5 646.2 597.0 646.2 597.5 645.8 601.0 645.8 601.5 645.2 604.5 645.2 605.0 644.8 608.0 644.8 608.5 644.2 611.0 644.2 611.5 643.8 614.0 643.8 614.5 643.2 616.5 643.2 617.0 642.8 619.0 642.8 619.5 642.2 621.5 642.2 622.0 641.8 623.5 641.8 624.0 641.2 625.5 641.2 626.0 640.8 627.0 640.8 627.5 640.2 628.5 640.2 629.0 639.8 629.5 639.8 629.5 634.8 629.0 634.8 628.5 634.2 627.0 634.2 626.5 633.8 624.5 633.8 624.0 633.2 621.5 633.2 621.0 632.8 618.5 632.8 618.0 632.2 615.0 632.2 614.5 631.8 611.0 631.8 610.5 631.2 607.0 631.2 606.5 630.8 602.5 630.8 602.0 630.2 597.5 630.2 597.0 629.8 592.0 629.8 591.5 629.2 586.0 629.2 585.5 628.8 580.0 628.8 579.5 628.2 573.5 628.2 573.0 627.8 566.5 627.8 566.0 627.2 559.0 627.2 558.5 626.8 551.0 626.8 550.5 626.2 542.5 626.2 542.0 625.8 533.5 625.8 533.0 625.2 524.0 625.2 523.5 624.8 514.5 624.8 514.0 624.2 503.9 624.2 503.4 623.8 492.9 623.8 492.4 623.2 480.9 623.2 480.4 622.8 468.9 622.8 468.4 622.2 455.4 622.2 454.9 621.8 441.9 621.8 441.4 621.2 426.9 621.2 426.4 620.8 410.9 620.8 410.4 620.2 396.4 620.2 395.9 619.8 396.9 618.8 397.4 618.8 397.9 618.2 397.9 617.8 398.4 617.2 398.4 616.8 398.9 616.2 398.9 615.8 398.4 615.2 398.4 614.2 396.4 612.2 395.9 612.2 394.9 611.2 394.4 611.2 393.9 610.8 393.4 610.8 392.9 610.2 392.4 610.2 391.9 609.8 390.9 609.8 390.4 609.2 389.9 609.2 389.4 608.8 388.4 608.8 387.9 608.2 386.9 608.2 386.4 607.8 384.9 607.8 384.4 607.2 382.9 607.2 382.4 606.8 380.9 606.8 380.4 606.2 378.4 606.2 377.9 605.8 375.9 605.8 375.4 605.2 373.4 605.2 372.9 604.8 370.4 604.8 369.9 604.2 366.9 604.2 366.4 603.8 362.9 603.8 362.4 603.2 358.4 603.2 357.9 602.8 352.9 602.8 352.4 602.2 345.4 602.2 344.9 601.8 331.9 601.8 331.4 601.2 322.4 601.2 321.9 601.8 317.4 601.8 316.9 602.2 314.4 602.2 313.9 602.8 311.9 602.8 311.4 603.2 309.9 603.2 309.4 603.8 308.4 603.8 307.9 604.2 307.4 604.2 306.9 604.8 305.9 604.8 305.4 605.2 304.9 605.2 304.4 605.8 303.9 605.8 303.4 606.2 302.9 606.2 302.4 606.8 301.9 606.8 300.9 607.8 300.4 607.8 297.4 610.8 297.4 611.2 296.4 612.2 296.4 612.8 295.9 613.2 295.9 614.8 295.4 615.2 295.4 616.8 295.9 617.2 295.9 618.2 296.4 618.8 296.4 619.2 296.9 619.8 295.9 620.8 294.9 620.8 294.4 621.2 293.9 621.2 293.4 621.8 292.9 621.8 291.9 622.8 291.4 622.8 290.9 623.2 290.4 623.2Z" fill="rgb(57,57,57)" fill-rule="evenodd"/><path d="M285.4 632.8 285.4 642.2 285.9 642.8 285.9 643.8 286.4 644.2 286.4 645.2 286.9 645.8 286.9 646.2 287.4 646.8 287.4 647.2 287.9 647.8 287.9 648.2 288.9 649.2 288.9 649.8 290.4 651.2 290.4 651.8 292.4 653.8 292.9 653.8 294.4 655.2 294.9 655.2 295.9 656.2 296.4 656.2 296.9 656.8 297.4 656.8 297.9 657.2 298.4 657.2 298.9 657.8 299.9 657.8 300.4 658.2 301.4 658.2 301.9 658.8 303.4 658.8 303.9 659.2 313.4 659.2 315.4 661.2 315.9 661.2 317.4 662.8 317.9 662.8 318.4 663.2 318.9 663.2 319.9 664.2 320.4 664.2 320.9 664.8 321.4 664.8 321.9 665.2 322.9 665.2 323.4 665.8 323.9 665.8 324.4 666.2 324.9 666.2 325.4 666.8 326.4 666.8 326.9 667.2 327.9 667.2 328.4 667.8 329.4 667.8 329.9 668.2 330.9 668.2 331.4 668.8 332.9 668.8 333.4 669.2 334.9 669.2 335.4 669.8 336.9 669.8 337.4 670.2 339.4 670.2 339.9 670.8 341.9 670.8 342.4 671.2 344.9 671.2 345.4 671.8 348.4 671.8 348.9 672.2 352.4 672.2 352.9 672.8 357.4 672.8 357.9 673.2 367.9 673.2 368.4 673.8 378.9 673.8 379.4 673.2 397.9 673.2 398.4 672.8 408.4 672.8 408.9 672.2 415.9 672.2 416.4 671.8 421.9 671.8 422.4 671.2 427.4 671.2 427.9 670.8 432.4 670.8 432.9 670.2 436.9 670.2 437.4 669.8 440.9 669.8 441.4 669.2 444.4 669.2 444.9 668.8 447.9 668.8 448.4 668.2 450.9 668.2 451.4 667.8 453.9 667.8 454.4 667.2 456.4 667.2 456.9 666.8 458.9 666.8 459.4 666.2 461.4 666.2 461.9 665.8 463.4 665.8 463.9 665.2 465.4 665.2 465.9 664.8 467.4 664.8 467.9 664.2 469.4 664.2 469.9 663.8 470.9 663.8 471.4 663.2 472.4 663.2 472.9 662.8 473.9 662.8 474.4 662.2 475.4 662.2 475.9 661.8 476.9 661.8 477.4 661.2 477.9 661.2 478.4 660.8 478.9 660.8 479.4 660.2 479.9 660.2 480.4 659.8 480.9 659.8 481.4 659.2 481.9 659.2 482.9 658.2 483.4 658.2 484.9 656.8 484.9 656.2 485.4 655.8 485.4 655.2 485.9 654.8 485.9 653.2 485.4 652.8 485.4 652.2 485.9 651.8 492.9 651.8 493.4 651.2 499.9 651.2 500.4 650.8 506.4 650.8 506.9 650.2 513.0 650.2 513.5 649.8 519.0 649.8 519.5 649.2 525.0 649.2 525.5 648.8 530.5 648.8 531.0 648.2 535.5 648.2 536.0 647.8 540.5 647.8 541.0 647.2 545.5 647.2 546.0 646.8 550.0 646.8 550.5 646.2 554.0 646.2 554.5 645.8 558.0 645.8 558.5 645.2 562.0 645.2 562.5 644.8 565.5 644.8 566.0 644.2 569.0 644.2 569.5 643.8 572.0 643.8 572.5 643.2 575.0 643.2 575.5 642.8 577.5 642.8 578.0 642.2 580.0 642.2 580.5 641.8 582.0 641.8 582.5 641.2 584.0 641.2 584.5 640.8 585.5 640.8 586.0 640.2 587.5 640.2 588.0 639.8 588.5 639.8 589.0 639.2 599.0 639.2 599.5 638.8 629.5 638.8 629.5 635.2 619.0 635.2 618.5 634.8 587.5 634.8 587.0 634.2 585.5 634.2 585.0 633.8 582.5 633.8 582.0 633.2 580.0 633.2 579.5 632.8 576.5 632.8 576.0 632.2 573.0 632.2 572.5 631.8 569.0 631.8 568.5 631.2 564.5 631.2 564.0 630.8 559.5 630.8 559.0 630.2 554.5 630.2 554.0 629.8 548.5 629.8 548.0 629.2 542.5 629.2 542.0 628.8 536.0 628.8 535.5 628.2 529.0 628.2 528.5 627.8 521.5 627.8 521.0 627.2 514.0 627.2 513.5 626.8 505.4 626.8 504.9 626.2 496.4 626.2 495.9 625.8 486.9 625.8 486.4 625.2 476.9 625.2 476.4 624.8 465.9 624.8 465.4 624.2 454.9 624.2 454.4 623.8 442.4 623.8 441.9 623.2 429.9 623.2 429.4 622.8 415.9 622.8 415.4 622.2 400.9 622.2 400.4 621.8 384.9 621.8 384.4 621.2 373.9 621.2 373.4 620.8 373.9 620.2 374.9 620.2 375.4 619.8 375.9 619.8 376.4 619.2 377.4 619.2 378.4 618.2 378.9 618.2 379.9 617.2 379.9 614.8 377.9 612.8 377.4 612.8 376.9 612.2 376.4 612.2 375.9 611.8 375.4 611.8 374.9 611.2 373.9 611.2 373.4 610.8 372.4 610.8 371.9 610.2 370.9 610.2 370.4 609.8 369.4 609.8 368.9 609.2 366.9 609.2 366.4 608.8 364.9 608.8 364.4 608.2 362.4 608.2 361.9 607.8 359.4 607.8 358.9 607.2 355.9 607.2 355.4 606.8 351.4 606.8 350.9 606.2 346.4 606.2 345.9 605.8 338.9 605.8 338.4 605.2 319.9 605.2 319.4 605.8 316.9 605.8 316.4 606.2 314.9 606.2 314.4 606.8 312.9 606.8 312.4 607.2 311.4 607.2 310.9 607.8 310.4 607.8 309.9 608.2 309.4 608.2 308.9 608.8 308.4 608.8 307.9 609.2 307.4 609.2 303.9 612.8 303.9 613.2 303.4 613.8 303.4 614.8 302.9 615.2 302.9 616.8 303.4 617.2 303.4 618.2 304.4 619.2 304.4 619.8 303.9 620.2 301.9 620.2 301.4 620.8 299.9 620.8 299.4 621.2 298.4 621.2 297.9 621.8 296.9 621.8 296.4 622.2 295.9 622.2 295.4 622.8 294.9 622.8 294.4 623.2 293.9 623.2 293.4 623.8 292.9 623.8 291.9 624.8 291.4 624.8 287.9 628.2 287.9 628.8 286.9 629.8 286.9 630.2 286.4 630.8 286.4 631.2 285.9 631.8 285.9 632.2Z" fill="rgb(60,60,60)" fill-rule="evenodd"/><path d="M286.9 633.8 286.9 641.2 287.4 641.8 287.4 642.8 287.9 643.2 287.9 644.2 288.4 644.8 288.4 645.2 288.9 645.8 288.9 646.2 289.4 646.8 289.4 647.2 289.9 647.8 289.9 648.2 291.4 649.8 291.4 650.2 293.9 652.8 294.4 652.8 295.9 654.2 296.4 654.2 296.9 654.8 297.4 654.8 298.4 655.8 299.4 655.8 299.9 656.2 300.4 656.2 300.9 656.8 302.4 656.8 302.9 657.2 304.9 657.2 305.4 657.8 318.9 657.8 319.4 657.2 321.4 657.2 321.9 657.8 321.9 658.2 323.9 660.2 324.4 660.2 325.4 661.2 325.9 661.2 326.9 662.2 327.4 662.2 327.9 662.8 328.4 662.8 328.9 663.2 329.4 663.2 329.9 663.8 330.4 663.8 330.9 664.2 331.9 664.2 332.4 664.8 332.9 664.8 333.4 665.2 334.4 665.2 334.9 665.8 335.9 665.8 336.4 666.2 337.9 666.2 338.4 666.8 339.9 666.8 340.4 667.2 341.9 667.2 342.4 667.8 343.9 667.8 344.4 668.2 346.9 668.2 347.4 668.8 349.9 668.8 350.4 669.2 353.4 669.2 353.9 669.8 357.9 669.8 358.4 670.2 366.4 670.2 366.9 670.8 381.9 670.8 382.4 670.2 397.4 670.2 397.9 669.8 405.9 669.8 406.4 669.2 412.9 669.2 413.4 668.8 418.4 668.8 418.9 668.2 423.4 668.2 423.9 667.8 427.9 667.8 428.4 667.2 431.9 667.2 432.4 666.8 435.4 666.8 435.9 666.2 438.4 666.2 438.9 665.8 441.4 665.8 441.9 665.2 443.9 665.2 444.4 664.8 446.4 664.8 446.9 664.2 448.9 664.2 449.4 663.8 450.9 663.8 451.4 663.2 452.9 663.2 453.4 662.8 454.9 662.8 455.4 662.2 456.4 662.2 456.9 661.8 457.9 661.8 458.4 661.2 459.4 661.2 459.9 660.8 460.9 660.8 461.4 660.2 461.9 660.2 462.4 659.8 462.9 659.8 463.4 659.2 463.9 659.2 464.4 658.8 464.9 658.8 465.4 658.2 465.9 658.2 468.4 655.8 468.4 655.2 468.9 654.8 468.9 653.2 467.9 652.2 467.4 652.2 466.9 651.8 466.4 651.8 465.9 651.2 466.4 650.8 470.9 650.8 471.4 650.2 477.4 650.2 477.9 649.8 483.9 649.8 484.4 649.2 490.4 649.2 490.9 648.8 495.9 648.8 496.4 648.2 501.4 648.2 501.9 647.8 506.9 647.8 507.4 647.2 511.9 647.2 512.5 646.8 516.5 646.8 517.0 646.2 521.0 646.2 521.5 645.8 525.5 645.8 526.0 645.2 529.0 645.2 529.5 644.8 533.0 644.8 533.5 644.2 536.5 644.2 537.0 643.8 539.5 643.8 540.0 643.2 542.5 643.2 543.0 642.8 545.0 642.8 545.5 642.2 547.5 642.2 548.0 641.8 550.0 641.8 550.5 641.2 552.0 641.2 552.5 640.8 554.0 640.8 554.5 640.2 555.5 640.2 556.0 639.8 557.0 639.8 557.5 639.2 562.0 639.2 562.5 638.8 609.0 638.8 609.5 638.2 629.5 638.2 629.5 635.8 628.5 635.8 628.0 635.2 581.0 635.2 580.5 634.8 555.5 634.8 555.0 634.2 553.5 634.2 553.0 633.8 551.0 633.8 550.5 633.2 548.0 633.2 547.5 632.8 544.5 632.8 544.0 632.2 540.5 632.2 540.0 631.8 536.5 631.8 536.0 631.2 532.0 631.2 531.5 630.8 526.5 630.8 526.0 630.2 521.5 630.2 521.0 629.8 515.5 629.8 515.0 629.2 508.9 629.2 508.4 628.8 501.9 628.8 501.4 628.2 494.9 628.2 494.4 627.8 486.9 627.8 486.4 627.2 478.4 627.2 477.9 626.8 469.4 626.8 468.9 626.2 459.9 626.2 459.4 625.8 449.9 625.8 449.4 625.2 438.9 625.2 438.4 624.8 427.4 624.8 426.9 624.2 414.9 624.2 414.4 623.8 401.4 623.8 400.9 623.2 386.9 623.2 386.4 622.8 371.4 622.8 370.9 622.2 353.4 622.2 352.9 621.8 342.9 621.8 342.4 621.2 342.9 620.8 345.9 620.8 346.4 620.2 348.9 620.2 349.4 619.8 351.4 619.8 351.9 619.2 353.4 619.2 353.9 618.8 354.9 618.8 355.4 618.2 355.9 618.2 356.4 617.8 356.9 617.8 357.4 617.2 357.9 617.2 358.4 616.8 358.4 615.2 357.4 614.2 356.9 614.2 356.4 613.8 355.9 613.8 355.4 613.2 354.9 613.2 354.4 612.8 353.4 612.8 352.9 612.2 351.4 612.2 350.9 611.8 349.4 611.8 348.9 611.2 346.4 611.2 345.9 610.8 342.9 610.8 342.4 610.2 337.9 610.2 337.4 609.8 326.9 609.8 326.4 609.2 324.4 609.2 323.9 609.8 319.9 609.8 319.4 610.2 317.9 610.2 317.4 610.8 316.9 610.8 316.4 611.2 315.4 611.2 314.4 612.2 313.9 612.2 311.9 614.2 311.9 617.2 312.4 617.8 312.4 618.2 312.9 618.8 313.4 618.8 314.4 619.8 314.9 619.8 315.4 620.2 315.9 620.2 316.4 620.8 315.9 621.2 303.4 621.2 302.9 621.8 301.4 621.8 300.9 622.2 299.4 622.2 298.9 622.8 297.9 622.8 297.4 623.2 296.9 623.2 296.4 623.8 295.9 623.8 295.4 624.2 294.9 624.2 293.9 625.2 293.4 625.2 292.4 626.2 291.9 626.2 289.9 628.2 289.9 628.8 288.4 630.2 288.4 630.8 287.9 631.2 287.9 631.8 287.4 632.2 287.4 633.2Z" fill="rgb(63,63,63)" fill-rule="evenodd"/><path d="M286.9 636.2 286.9 637.8 287.4 638.2 287.4 640.8 287.9 641.2 287.9 642.8 288.4 643.2 288.4 643.8 288.9 644.2 288.9 644.8 289.4 645.2 289.4 645.8 289.9 646.2 289.9 646.8 290.9 647.8 290.9 648.2 294.4 651.8 294.9 651.8 295.9 652.8 296.4 652.8 297.4 653.8 297.9 653.8 298.4 654.2 299.4 654.2 299.9 654.8 300.4 654.8 300.9 655.2 302.4 655.2 302.9 655.8 305.4 655.8 305.9 656.2 315.9 656.2 316.4 655.8 329.4 655.8 330.4 656.8 330.4 657.2 332.4 659.2 332.9 659.2 333.9 660.2 334.4 660.2 335.4 661.2 335.9 661.2 336.4 661.8 337.4 661.8 337.9 662.2 338.4 662.2 338.9 662.8 339.9 662.8 340.4 663.2 340.9 663.2 341.4 663.8 342.9 663.8 343.4 664.2 344.4 664.2 344.9 664.8 346.4 664.8 346.9 665.2 348.9 665.2 349.4 665.8 351.4 665.8 351.9 666.2 354.4 666.2 354.9 666.8 358.4 666.8 358.9 667.2 364.9 667.2 365.4 667.8 383.9 667.8 384.4 667.2 396.4 667.2 396.9 666.8 403.9 666.8 404.4 666.2 409.9 666.2 410.4 665.8 414.9 665.8 415.4 665.2 418.9 665.2 419.4 664.8 422.9 664.8 423.4 664.2 425.9 664.2 426.4 663.8 428.9 663.8 429.4 663.2 431.9 663.2 432.4 662.8 433.9 662.8 434.4 662.2 436.4 662.2 436.9 661.8 438.4 661.8 438.9 661.2 440.4 661.2 440.9 660.8 441.9 660.8 442.4 660.2 443.4 660.2 443.9 659.8 444.9 659.8 445.4 659.2 445.9 659.2 446.4 658.8 447.4 658.8 447.9 658.2 448.4 658.2 449.4 657.2 449.9 657.2 451.9 655.2 451.9 653.2 450.9 652.2 450.4 652.2 449.9 651.8 449.4 651.8 448.9 651.2 447.9 651.2 447.4 650.8 447.9 650.2 452.9 650.2 453.4 649.8 459.9 649.8 460.4 649.2 466.9 649.2 467.4 648.8 473.4 648.8 473.9 648.2 479.4 648.2 479.9 647.8 485.4 647.8 485.9 647.2 490.9 647.2 491.4 646.8 496.4 646.8 496.9 646.2 501.4 646.2 501.9 645.8 505.9 645.8 506.4 645.2 510.4 645.2 510.9 644.8 514.5 644.8 515.0 644.2 518.5 644.2 519.0 643.8 522.0 643.8 522.5 643.2 525.5 643.2 526.0 642.8 528.5 642.8 529.0 642.2 531.0 642.2 531.5 641.8 533.5 641.8 534.0 641.2 536.0 641.2 536.5 640.8 538.0 640.8 538.5 640.2 539.5 640.2 540.0 639.8 541.0 639.8 541.5 639.2 542.5 639.2 543.0 638.8 573.0 638.8 573.5 638.2 616.0 638.2 616.5 637.8 629.5 637.8 629.5 635.8 591.0 635.8 590.5 635.2 547.0 635.2 546.5 634.8 539.5 634.8 539.0 634.2 537.0 634.2 536.5 633.8 534.0 633.8 533.5 633.2 530.5 633.2 530.0 632.8 526.5 632.8 526.0 632.2 522.5 632.2 522.0 631.8 517.5 631.8 517.0 631.2 511.9 631.2 511.4 630.8 506.4 630.8 505.9 630.2 499.9 630.2 499.4 629.8 493.4 629.8 492.9 629.2 485.9 629.2 485.4 628.8 477.9 628.8 477.4 628.2 469.4 628.2 468.9 627.8 460.4 627.8 459.9 627.2 450.9 627.2 450.4 626.8 440.4 626.8 439.9 626.2 429.4 626.2 428.9 625.8 417.4 625.8 416.9 625.2 404.4 625.2 403.9 624.8 390.4 624.8 389.9 624.2 374.9 624.2 374.4 623.8 357.9 623.8 357.4 623.2 337.9 623.2 337.4 622.8 309.9 622.8 309.4 622.2 307.4 622.2 306.9 622.8 302.4 622.8 301.9 623.2 300.4 623.2 299.9 623.8 298.9 623.8 298.4 624.2 297.4 624.2 296.9 624.8 296.4 624.8 295.9 625.2 295.4 625.2 294.9 625.8 294.4 625.8 293.4 626.8 292.9 626.8 288.9 630.8 288.9 631.2 288.4 631.8 288.4 632.2 287.9 632.8 287.9 633.2 287.4 633.8 287.4 635.8Z" fill="rgb(66,66,66)" fill-rule="evenodd"/><path d="M287.4 635.8 287.4 638.2 287.9 638.8 287.9 640.8 288.4 641.2 288.4 642.2 288.9 642.8 288.9 643.8 289.4 644.2 289.4 644.8 290.4 645.8 290.4 646.2 294.9 650.8 295.4 650.8 296.4 651.8 296.9 651.8 297.4 652.2 297.9 652.2 298.4 652.8 298.9 652.8 299.4 653.2 300.4 653.2 300.9 653.8 302.4 653.8 302.9 654.2 305.9 654.2 306.4 654.8 311.4 654.8 311.9 654.2 332.4 654.2 332.9 653.8 338.4 653.8 338.9 654.2 338.9 654.8 339.4 655.2 339.4 655.8 339.9 656.2 339.9 656.8 340.9 657.8 341.4 657.8 342.4 658.8 342.9 658.8 343.9 659.8 344.4 659.8 344.9 660.2 345.9 660.2 346.4 660.8 346.9 660.8 347.4 661.2 348.4 661.2 348.9 661.8 350.4 661.8 350.9 662.2 352.4 662.2 352.9 662.8 354.4 662.8 354.9 663.2 357.4 663.2 357.9 663.8 361.4 663.8 361.9 664.2 368.4 664.2 368.9 664.8 377.4 664.8 377.9 664.2 391.4 664.2 391.9 663.8 398.4 663.8 398.9 663.2 403.9 663.2 404.4 662.8 408.4 662.8 408.9 662.2 411.9 662.2 412.4 661.8 414.9 661.8 415.4 661.2 417.9 661.2 418.4 660.8 420.4 660.8 420.9 660.2 422.4 660.2 422.9 659.8 424.4 659.8 424.9 659.2 425.9 659.2 426.4 658.8 427.4 658.8 427.9 658.2 428.9 658.2 429.4 657.8 429.9 657.8 430.4 657.2 430.9 657.2 431.4 656.8 431.9 656.8 432.9 655.8 433.4 655.8 433.4 655.2 433.9 654.8 433.9 653.2 433.4 653.2 432.4 652.2 431.4 652.2 430.9 651.8 429.9 651.8 429.4 651.2 428.4 651.2 427.9 650.8 425.9 650.8 425.4 650.2 425.9 649.8 433.9 649.8 434.4 649.2 441.4 649.2 441.9 648.8 448.9 648.8 449.4 648.2 455.9 648.2 456.4 647.8 462.9 647.8 463.4 647.2 468.9 647.2 469.4 646.8 474.9 646.8 475.4 646.2 480.4 646.2 480.9 645.8 485.9 645.8 486.4 645.2 490.9 645.2 491.4 644.8 495.4 644.8 495.9 644.2 499.9 644.2 500.4 643.8 503.9 643.8 504.4 643.2 507.4 643.2 507.9 642.8 510.9 642.8 511.4 642.2 514.0 642.2 514.5 641.8 517.0 641.8 517.5 641.2 519.5 641.2 520.0 640.8 521.5 640.8 522.0 640.2 523.5 640.2 524.0 639.8 525.5 639.8 526.0 639.2 526.5 639.2 527.0 638.8 540.5 638.8 541.0 638.2 580.0 638.2 580.5 637.8 615.0 637.8 615.5 637.2 629.5 637.2 629.5 636.8 627.0 636.8 626.5 636.2 595.5 636.2 595.0 635.8 557.0 635.8 556.5 635.2 525.5 635.2 525.0 634.8 523.0 634.8 522.5 634.2 520.0 634.2 519.5 633.8 517.0 633.8 516.5 633.2 513.0 633.2 512.5 632.8 508.4 632.8 507.9 632.2 503.4 632.2 502.9 631.8 497.4 631.8 496.9 631.2 491.4 631.2 490.9 630.8 484.9 630.8 484.4 630.2 477.4 630.2 476.9 629.8 469.4 629.8 468.9 629.2 460.9 629.2 460.4 628.8 451.9 628.8 451.4 628.2 441.9 628.2 441.4 627.8 431.4 627.8 430.9 627.2 419.4 627.2 418.9 626.8 406.9 626.8 406.4 626.2 393.4 626.2 392.9 625.8 378.9 625.8 378.4 625.2 362.4 625.2 361.9 624.8 343.4 624.8 342.9 624.2 319.4 624.2 318.9 623.8 304.9 623.8 304.4 624.2 301.9 624.2 301.4 624.8 299.9 624.8 299.4 625.2 298.4 625.2 297.9 625.8 296.9 625.8 296.4 626.2 295.9 626.2 295.4 626.8 294.9 626.8 294.4 627.2 293.9 627.2 292.9 628.2 292.4 628.2 289.4 631.2 289.4 631.8 288.4 632.8 288.4 633.8 287.9 634.2 287.9 635.2Z" fill="rgb(69,69,69)" fill-rule="evenodd"/><path d="M287.9 638.8 288.4 639.2 288.4 640.8 288.9 641.2 288.9 642.2 289.4 642.8 289.4 643.2 289.9 643.8 289.9 644.2 290.9 645.2 290.9 645.8 293.9 648.8 294.4 648.8 295.4 649.8 295.9 649.8 296.9 650.8 297.4 650.8 297.9 651.2 298.9 651.2 299.4 651.8 300.4 651.8 300.9 652.2 302.4 652.2 302.9 652.8 329.9 652.8 330.4 652.2 345.9 652.2 346.4 651.8 351.4 651.8 351.9 652.2 350.9 653.2 350.9 655.2 352.9 657.2 353.4 657.2 353.9 657.8 354.4 657.8 354.9 658.2 355.9 658.2 356.4 658.8 357.4 658.8 357.9 659.2 359.4 659.2 359.9 659.8 361.9 659.8 362.4 660.2 365.9 660.2 366.4 660.8 382.4 660.8 382.9 660.2 389.9 660.2 390.4 659.8 394.9 659.8 395.4 659.2 398.4 659.2 398.9 658.8 401.4 658.8 401.9 658.2 403.9 658.2 404.4 657.8 405.9 657.8 406.4 657.2 407.4 657.2 407.9 656.8 408.9 656.8 409.4 656.2 409.9 656.2 410.4 655.8 410.9 655.8 411.9 654.8 411.9 653.8 410.9 652.8 409.9 652.8 409.4 652.2 407.9 652.2 407.4 651.8 405.4 651.8 404.9 651.2 402.4 651.2 401.9 650.8 397.9 650.8 397.4 650.2 397.9 649.8 404.4 649.8 404.9 649.2 413.9 649.2 414.4 648.8 422.4 648.8 422.9 648.2 430.9 648.2 431.4 647.8 438.4 647.8 438.9 647.2 445.4 647.2 445.9 646.8 452.4 646.8 452.9 646.2 458.9 646.2 459.4 645.8 464.9 645.8 465.4 645.2 470.4 645.2 470.9 644.8 475.4 644.8 475.9 644.2 480.4 644.2 480.9 643.8 484.9 643.8 485.4 643.2 488.9 643.2 489.4 642.8 492.9 642.8 493.4 642.2 496.4 642.2 496.9 641.8 499.4 641.8 499.9 641.2 502.4 641.2 502.9 640.8 504.9 640.8 505.4 640.2 506.9 640.2 507.4 639.8 508.9 639.8 509.4 639.2 510.4 639.2 510.9 638.8 511.9 638.8 512.5 638.2 547.5 638.2 548.0 637.8 579.0 637.8 579.5 637.2 599.5 637.2 600.0 636.8 603.5 636.8 589.5 636.8 589.0 636.2 561.5 636.2 561.0 635.8 526.0 635.8 525.5 635.2 508.9 635.2 508.4 634.8 506.4 634.8 505.9 634.2 502.9 634.2 502.4 633.8 498.9 633.8 498.4 633.2 494.4 633.2 493.9 632.8 489.4 632.8 488.9 632.2 483.4 632.2 482.9 631.8 476.9 631.8 476.4 631.2 469.9 631.2 469.4 630.8 461.9 630.8 461.4 630.2 453.4 630.2 452.9 629.8 443.9 629.8 443.4 629.2 433.9 629.2 433.4 628.8 422.9 628.8 422.4 628.2 410.9 628.2 410.4 627.8 397.9 627.8 397.4 627.2 383.9 627.2 383.4 626.8 367.9 626.8 367.4 626.2 349.9 626.2 349.4 625.8 327.9 625.8 327.4 625.2 302.9 625.2 302.4 625.8 300.4 625.8 299.9 626.2 298.9 626.2 298.4 626.8 297.4 626.8 296.9 627.2 295.9 627.2 295.4 627.8 294.9 627.8 294.4 628.2 293.9 628.2 292.9 629.2 292.4 629.2 289.4 632.2 289.4 632.8 288.9 633.2 288.9 633.8 288.4 634.2 288.4 635.2 287.9 635.8Z" fill="rgb(73,73,73)" fill-rule="evenodd"/><path d="M288.4 638.8 288.9 639.2 288.9 640.8 289.4 641.2 289.4 641.8 289.9 642.2 289.9 642.8 290.4 643.2 290.4 643.8 291.4 644.8 291.4 645.2 292.9 646.8 293.4 646.8 294.9 648.2 295.4 648.2 296.4 649.2 296.9 649.2 297.4 649.8 298.4 649.8 298.9 650.2 299.9 650.2 300.4 650.8 301.9 650.8 302.4 651.2 328.4 651.2 328.9 650.8 344.9 650.8 345.4 650.2 358.9 650.2 359.4 649.8 371.4 649.8 371.9 649.2 382.9 649.2 383.4 648.8 393.4 648.8 393.9 648.2 402.9 648.2 403.4 647.8 411.9 647.8 412.4 647.2 420.4 647.2 420.9 646.8 428.4 646.8 428.9 646.2 435.9 646.2 436.4 645.8 442.4 645.8 442.9 645.2 448.9 645.2 449.4 644.8 454.9 644.8 455.4 644.2 460.4 644.2 460.9 643.8 465.4 643.8 465.9 643.2 470.4 643.2 470.9 642.8 474.4 642.8 474.9 642.2 478.4 642.2 478.9 641.8 481.9 641.8 482.4 641.2 485.4 641.2 485.9 640.8 487.9 640.8 488.4 640.2 490.4 640.2 490.9 639.8 492.9 639.8 493.4 639.2 494.4 639.2 494.9 638.8 495.9 638.8 496.4 638.2 517.5 638.2 518.0 637.8 546.0 637.8 546.5 637.2 564.5 637.2 565.0 636.8 568.0 636.8 555.5 636.8 555.0 636.2 530.5 636.2 530.0 635.8 497.9 635.8 497.4 635.2 492.4 635.2 491.9 634.8 489.4 634.8 488.9 634.2 485.4 634.2 484.9 633.8 480.9 633.8 480.4 633.2 475.9 633.2 475.4 632.8 469.9 632.8 469.4 632.2 462.9 632.2 462.4 631.8 455.4 631.8 454.9 631.2 446.9 631.2 446.4 630.8 437.9 630.8 437.4 630.2 427.4 630.2 426.9 629.8 416.4 629.8 415.9 629.2 403.9 629.2 403.4 628.8 390.4 628.8 389.9 628.2 375.4 628.2 374.9 627.8 358.4 627.8 357.9 627.2 337.9 627.2 337.4 626.8 309.9 626.8 309.4 626.2 305.4 626.2 304.9 626.8 300.9 626.8 300.4 627.2 298.9 627.2 298.4 627.8 297.4 627.8 296.9 628.2 295.9 628.2 295.4 628.8 294.9 628.8 294.4 629.2 293.9 629.2 292.9 630.2 292.4 630.2 289.4 633.2 289.4 633.8 288.9 634.2 288.9 635.2 288.4 635.8Z" fill="rgb(77,77,77)" fill-rule="evenodd"/><path d="M288.9 639.2 289.4 639.8 289.4 640.8 289.9 641.2 289.9 641.8 290.4 642.2 290.4 642.8 291.9 644.2 291.9 644.8 292.9 645.8 293.4 645.8 294.9 647.2 295.4 647.2 295.9 647.8 296.4 647.8 296.9 648.2 297.4 648.2 297.9 648.8 298.4 648.8 298.9 649.2 300.4 649.2 300.9 649.8 302.4 649.8 302.9 650.2 318.4 650.2 318.9 649.8 336.9 649.8 337.4 649.2 351.9 649.2 352.4 648.8 364.9 648.8 365.4 648.2 376.9 648.2 377.4 647.8 387.4 647.8 387.9 647.2 397.4 647.2 397.9 646.8 406.4 646.8 406.9 646.2 414.9 646.2 415.4 645.8 422.9 645.8 423.4 645.2 430.4 645.2 430.9 644.8 436.9 644.8 437.4 644.2 443.4 644.2 443.9 643.8 448.9 643.8 449.4 643.2 454.4 643.2 454.9 642.8 459.4 642.8 459.9 642.2 463.9 642.2 464.4 641.8 467.9 641.8 468.4 641.2 471.4 641.2 471.9 640.8 474.4 640.8 474.9 640.2 477.4 640.2 477.9 639.8 479.4 639.8 479.9 639.2 481.4 639.2 481.9 638.8 483.4 638.8 483.9 638.2 489.9 638.2 490.4 637.8 516.5 637.8 517.0 637.2 533.0 637.2 533.5 636.8 536.0 636.8 525.0 636.8 524.5 636.2 501.9 636.2 501.4 635.8 482.4 635.8 481.9 635.2 479.4 635.2 478.9 634.8 475.9 634.8 475.4 634.2 471.4 634.2 470.9 633.8 466.4 633.8 465.9 633.2 460.4 633.2 459.9 632.8 453.4 632.8 452.9 632.2 445.4 632.2 444.9 631.8 436.9 631.8 436.4 631.2 427.4 631.2 426.9 630.8 416.4 630.8 415.9 630.2 404.4 630.2 403.9 629.8 391.4 629.8 390.9 629.2 376.4 629.2 375.9 628.8 359.4 628.8 358.9 628.2 339.4 628.2 338.9 627.8 311.9 627.8 311.4 627.2 304.4 627.2 303.9 627.8 300.4 627.8 299.9 628.2 298.4 628.2 297.9 628.8 296.9 628.8 296.4 629.2 295.4 629.2 294.9 629.8 294.4 629.8 293.9 630.2 293.4 630.2 292.4 631.2 291.9 631.2 290.4 632.8 290.4 633.2 289.4 634.2 289.4 634.8 288.9 635.2Z" fill="rgb(82,82,82)" fill-rule="evenodd"/><path d="M289.4 639.2 289.9 639.8 289.9 640.8 290.4 641.2 290.4 641.8 291.4 642.8 291.4 643.2 293.4 645.2 293.9 645.2 294.9 646.2 295.4 646.2 296.4 647.2 296.9 647.2 297.4 647.8 298.4 647.8 298.9 648.2 299.9 648.2 300.4 648.8 302.4 648.8 302.9 649.2 320.4 649.2 320.9 648.8 338.4 648.8 338.9 648.2 352.9 648.2 353.4 647.8 365.9 647.8 366.4 647.2 377.4 647.2 377.9 646.8 387.9 646.8 388.4 646.2 397.9 646.2 398.4 645.8 406.9 645.8 407.4 645.2 414.9 645.2 415.4 644.8 422.4 644.8 422.9 644.2 429.4 644.2 429.9 643.8 435.9 643.8 436.4 643.2 441.9 643.2 442.4 642.8 447.4 642.8 447.9 642.2 452.4 642.2 452.9 641.8 456.9 641.8 457.4 641.2 460.9 641.2 461.4 640.8 464.4 640.8 464.9 640.2 467.4 640.2 467.9 639.8 470.4 639.8 470.9 639.2 472.4 639.2 472.9 638.8 474.4 638.8 474.9 638.2 475.4 638.2 475.9 637.8 488.9 637.8 489.4 637.2 504.4 637.2 504.9 636.8 506.9 636.8 496.9 636.8 496.4 636.2 475.4 636.2 474.9 635.8 472.9 635.8 472.4 635.2 469.9 635.2 469.4 634.8 465.9 634.8 465.4 634.2 460.9 634.2 460.4 633.8 455.4 633.8 454.9 633.2 448.9 633.2 448.4 632.8 440.9 632.8 440.4 632.2 432.4 632.2 431.9 631.8 422.9 631.8 422.4 631.2 411.9 631.2 411.4 630.8 399.9 630.8 399.4 630.2 386.4 630.2 385.9 629.8 370.9 629.8 370.4 629.2 353.4 629.2 352.9 628.8 331.9 628.8 331.4 628.2 301.4 628.2 300.9 628.8 298.9 628.8 298.4 629.2 297.4 629.2 296.9 629.8 295.9 629.8 295.4 630.2 294.9 630.2 294.4 630.8 293.9 630.8 293.4 631.2 292.9 631.2 289.9 634.2 289.9 634.8 289.4 635.2Z" fill="rgb(86,86,86)" fill-rule="evenodd"/><path d="M289.4 637.2 289.9 637.8 289.9 639.2 290.4 639.8 290.4 640.8 291.4 641.8 291.4 642.2 293.9 644.8 294.4 644.8 295.4 645.8 295.9 645.8 296.4 646.2 296.9 646.2 297.4 646.8 297.9 646.8 298.4 647.2 299.4 647.2 299.9 647.8 301.9 647.8 302.4 648.2 323.4 648.2 323.9 647.8 340.9 647.8 341.4 647.2 354.9 647.2 355.4 646.8 367.4 646.8 367.9 646.2 378.9 646.2 379.4 645.8 389.4 645.8 389.9 645.2 398.4 645.2 398.9 644.8 407.4 644.8 407.9 644.2 415.4 644.2 415.9 643.8 422.4 643.8 422.9 643.2 429.4 643.2 429.9 642.8 435.4 642.8 435.9 642.2 440.9 642.2 441.4 641.8 445.9 641.8 446.4 641.2 450.4 641.2 450.9 640.8 454.4 640.8 454.9 640.2 457.9 640.2 458.4 639.8 460.9 639.8 461.4 639.2 463.4 639.2 463.9 638.8 465.4 638.8 465.9 638.2 466.9 638.2 467.4 637.8 467.9 637.8 468.4 637.2 477.9 637.2 478.4 636.8 480.4 636.8 470.9 636.8 470.4 636.2 466.4 636.2 465.9 635.8 463.9 635.8 463.4 635.2 460.4 635.2 459.9 634.8 455.9 634.8 455.4 634.2 450.4 634.2 449.9 633.8 444.4 633.8 443.9 633.2 436.9 633.2 436.4 632.8 428.4 632.8 427.9 632.2 418.9 632.2 418.4 631.8 407.9 631.8 407.4 631.2 395.4 631.2 394.9 630.8 381.9 630.8 381.4 630.2 365.9 630.2 365.4 629.8 347.9 629.8 347.4 629.2 324.9 629.2 324.4 628.8 302.4 628.8 301.9 629.2 299.4 629.2 298.9 629.8 297.4 629.8 296.9 630.2 296.4 630.2 295.9 630.8 294.9 630.8 294.4 631.2 293.9 631.2 292.9 632.2 292.4 632.2 290.4 634.2 290.4 634.8 289.9 635.2 289.9 636.2 289.4 636.8Z" fill="rgb(91,91,91)" fill-rule="evenodd"/><path d="M289.9 636.2 289.9 637.8 290.4 638.2 290.4 639.8 290.9 640.2 290.9 640.8 294.4 644.2 294.9 644.2 295.9 645.2 296.4 645.2 296.9 645.8 297.9 645.8 298.4 646.2 299.4 646.2 299.9 646.8 301.4 646.8 301.9 647.2 327.4 647.2 327.9 646.8 343.9 646.8 344.4 646.2 357.9 646.2 358.4 645.8 369.9 645.8 370.4 645.2 380.9 645.2 381.4 644.8 390.9 644.8 391.4 644.2 399.9 644.2 400.4 643.8 408.4 643.8 408.9 643.2 415.9 643.2 416.4 642.8 422.9 642.8 423.4 642.2 428.9 642.2 429.4 641.8 434.4 641.8 434.9 641.2 439.4 641.2 439.9 640.8 443.9 640.8 444.4 640.2 447.9 640.2 448.4 639.8 451.4 639.8 451.9 639.2 453.9 639.2 454.4 638.8 456.4 638.8 456.9 638.2 457.9 638.2 458.4 637.8 458.9 637.8 459.4 637.2 459.9 637.2 459.9 636.8 459.4 636.8 458.9 636.2 457.4 636.2 456.9 635.8 454.9 635.8 454.4 635.2 450.9 635.2 450.4 634.8 445.9 634.8 445.4 634.2 439.9 634.2 439.4 633.8 432.9 633.8 432.4 633.2 424.9 633.2 424.4 632.8 415.4 632.8 414.9 632.2 404.4 632.2 403.9 631.8 391.9 631.8 391.4 631.2 377.9 631.2 377.4 630.8 361.9 630.8 361.4 630.2 342.9 630.2 342.4 629.8 317.9 629.8 317.4 629.2 303.4 629.2 302.9 629.8 299.9 629.8 299.4 630.2 297.9 630.2 297.4 630.8 296.4 630.8 295.9 631.2 295.4 631.2 294.9 631.8 294.4 631.8 293.9 632.2 293.4 632.2 292.9 632.8 292.4 632.8 290.9 634.2 290.9 634.8 290.4 635.2 290.4 635.8Z" fill="rgb(96,96,96)" fill-rule="evenodd"/><path d="M290.4 638.2 290.9 638.8 290.9 639.8 291.9 640.8 291.9 641.2 293.4 642.8 293.9 642.8 294.9 643.8 295.4 643.8 295.9 644.2 296.4 644.2 296.9 644.8 297.4 644.8 297.9 645.2 298.9 645.2 299.4 645.8 300.4 645.8 300.9 646.2 303.9 646.2 304.4 646.8 311.9 646.8 312.4 646.2 332.4 646.2 332.9 645.8 348.4 645.8 348.9 645.2 361.4 645.2 361.9 644.8 373.4 644.8 373.9 644.2 383.9 644.2 384.4 643.8 393.4 643.8 393.9 643.2 401.9 643.2 402.4 642.8 409.9 642.8 410.4 642.2 416.9 642.2 417.4 641.8 423.4 641.8 423.9 641.2 428.9 641.2 429.4 640.8 433.9 640.8 434.4 640.2 437.9 640.2 438.4 639.8 441.9 639.8 442.4 639.2 444.9 639.2 445.4 638.8 447.4 638.8 447.9 638.2 448.9 638.2 449.4 637.8 450.4 637.8 451.4 636.8 450.9 636.8 450.4 636.2 448.9 636.2 448.4 635.8 445.9 635.8 445.4 635.2 441.4 635.2 440.9 634.8 435.9 634.8 435.4 634.2 429.4 634.2 428.9 633.8 421.4 633.8 420.9 633.2 412.4 633.2 411.9 632.8 401.4 632.8 400.9 632.2 388.9 632.2 388.4 631.8 374.9 631.8 374.4 631.2 358.4 631.2 357.9 630.8 338.4 630.8 337.9 630.2 310.4 630.2 309.9 629.8 304.4 629.8 303.9 630.2 300.4 630.2 299.9 630.8 297.9 630.8 297.4 631.2 296.4 631.2 295.9 631.8 295.4 631.8 294.9 632.2 294.4 632.2 293.9 632.8 293.4 632.8 292.4 633.8 291.9 633.8 291.4 634.2 291.4 634.8 290.4 635.8Z" fill="rgb(101,101,101)" fill-rule="evenodd"/><path d="M290.9 635.8 290.9 638.2 291.4 638.8 291.4 639.8 294.4 642.8 294.9 642.8 295.9 643.8 296.9 643.8 297.4 644.2 297.9 644.2 298.4 644.8 299.4 644.8 299.9 645.2 301.9 645.2 302.4 645.8 320.4 645.8 320.9 645.2 338.9 645.2 339.4 644.8 353.4 644.8 353.9 644.2 366.4 644.2 366.9 643.8 377.4 643.8 377.9 643.2 387.4 643.2 387.9 642.8 396.4 642.8 396.9 642.2 404.4 642.2 404.9 641.8 411.4 641.8 411.9 641.2 417.9 641.2 418.4 640.8 423.4 640.8 423.9 640.2 428.4 640.2 428.9 639.8 432.4 639.8 432.9 639.2 435.9 639.2 436.4 638.8 438.4 638.8 438.9 638.2 440.4 638.2 440.9 637.8 441.9 637.8 442.4 637.2 442.9 637.2 442.9 636.8 442.4 636.8 441.9 636.2 439.9 636.2 439.4 635.8 436.9 635.8 436.4 635.2 431.9 635.2 431.4 634.8 425.9 634.8 425.4 634.2 418.4 634.2 417.9 633.8 409.9 633.8 409.4 633.2 399.4 633.2 398.9 632.8 386.9 632.8 386.4 632.2 372.9 632.2 372.4 631.8 355.9 631.8 355.4 631.2 335.4 631.2 334.9 630.8 300.4 630.8 299.9 631.2 298.4 631.2 297.9 631.8 296.4 631.8 295.9 632.2 295.4 632.2 294.9 632.8 294.4 632.8 293.9 633.2 293.4 633.2 292.4 634.2 291.9 634.2 291.9 634.8Z" fill="rgb(107,107,107)" fill-rule="evenodd"/><path d="M291.4 636.2 291.4 637.8 291.9 638.2 291.9 638.8 292.4 639.2 292.4 639.8 294.9 642.2 295.4 642.2 295.9 642.8 296.4 642.8 296.9 643.2 297.4 643.2 297.9 643.8 298.9 643.8 299.4 644.2 300.9 644.2 301.4 644.8 305.4 644.8 305.9 645.2 306.4 645.2 306.9 644.8 330.9 644.8 331.4 644.2 346.9 644.2 347.4 643.8 360.9 643.8 361.4 643.2 372.9 643.2 373.4 642.8 383.4 642.8 383.9 642.2 392.4 642.2 392.9 641.8 400.9 641.8 401.4 641.2 407.9 641.2 408.4 640.8 414.4 640.8 414.9 640.2 419.9 640.2 420.4 639.8 424.4 639.8 424.9 639.2 428.4 639.2 428.9 638.8 431.4 638.8 431.9 638.2 433.9 638.2 434.4 637.8 435.4 637.8 435.9 637.2 436.4 637.2 436.4 636.8 435.9 636.8 435.4 636.2 433.4 636.2 432.9 635.8 429.4 635.8 428.9 635.2 424.4 635.2 423.9 634.8 417.4 634.8 416.9 634.2 409.4 634.2 408.9 633.8 399.4 633.8 398.9 633.2 387.4 633.2 386.9 632.8 373.4 632.8 372.9 632.2 356.4 632.2 355.9 631.8 335.9 631.8 335.4 631.2 300.9 631.2 300.4 631.8 298.4 631.8 297.9 632.2 296.9 632.2 296.4 632.8 295.4 632.8 294.9 633.2 294.4 633.2 293.4 634.2 292.9 634.2 291.9 635.2 291.9 635.8Z" fill="rgb(112,112,112)" fill-rule="evenodd"/><path d="M292.4 637.8 292.9 638.2 292.9 639.2 294.9 641.2 295.4 641.2 296.4 642.2 296.9 642.2 297.4 642.8 298.4 642.8 298.9 643.2 299.9 643.2 300.4 643.8 301.9 643.8 302.4 644.2 323.9 644.2 324.4 643.8 341.9 643.8 342.4 643.2 356.9 643.2 357.4 642.8 369.4 642.8 369.9 642.2 380.4 642.2 380.9 641.8 389.9 641.8 390.4 641.2 398.4 641.2 398.9 640.8 405.9 640.8 406.4 640.2 412.4 640.2 412.9 639.8 417.9 639.8 418.4 639.2 422.4 639.2 422.9 638.8 425.9 638.8 426.4 638.2 428.4 638.2 428.9 637.8 430.4 637.8 430.9 637.2 431.4 637.2 431.9 636.8 430.9 636.8 430.4 636.2 428.4 636.2 427.9 635.8 423.9 635.8 423.4 635.2 417.9 635.2 417.4 634.8 409.9 634.8 409.4 634.2 400.4 634.2 399.9 633.8 388.9 633.8 388.4 633.2 375.4 633.2 374.9 632.8 359.4 632.8 358.9 632.2 338.9 632.2 338.4 631.8 309.4 631.8 308.9 631.2 305.9 631.2 305.4 631.8 300.9 631.8 300.4 632.2 298.4 632.2 297.9 632.8 296.9 632.8 296.4 633.2 295.9 633.2 295.4 633.8 294.9 633.8 294.4 634.2 293.9 634.2 292.9 635.2 292.9 635.8 292.4 636.2Z" fill="rgb(118,118,118)" fill-rule="evenodd"/><path d="M293.4 636.2 293.4 638.2 294.4 639.2 294.4 639.8 295.4 640.8 295.9 640.8 296.4 641.2 296.9 641.2 297.4 641.8 297.9 641.8 298.4 642.2 298.9 642.2 299.4 642.8 300.9 642.8 301.4 643.2 303.4 643.2 303.9 643.8 317.9 643.8 318.4 643.2 337.9 643.2 338.4 642.8 353.9 642.8 354.4 642.2 366.9 642.2 367.4 641.8 378.4 641.8 378.9 641.2 388.4 641.2 388.9 640.8 396.9 640.8 397.4 640.2 404.4 640.2 404.9 639.8 410.9 639.8 411.4 639.2 415.9 639.2 416.4 638.8 419.9 638.8 420.4 638.2 423.4 638.2 423.9 637.8 425.4 637.8 425.9 637.2 426.9 637.2 426.9 636.8 425.9 636.8 425.4 636.2 422.9 636.2 422.4 635.8 417.9 635.8 417.4 635.2 410.9 635.2 410.4 634.8 402.4 634.8 401.9 634.2 391.4 634.2 390.9 633.8 378.4 633.8 377.9 633.2 362.9 633.2 362.4 632.8 343.4 632.8 342.9 632.2 316.4 632.2 315.9 631.8 304.4 631.8 303.9 632.2 300.9 632.2 300.4 632.8 298.9 632.8 298.4 633.2 297.4 633.2 296.9 633.8 295.9 633.8 294.9 634.8 294.4 634.8 293.9 635.2 293.9 635.8Z" fill="rgb(124,124,124)" fill-rule="evenodd"/><path d="M294.4 636.2 294.4 638.2 296.9 640.8 297.4 640.8 297.9 641.2 298.4 641.2 298.9 641.8 299.9 641.8 300.4 642.2 301.4 642.2 301.9 642.8 305.4 642.8 305.9 643.2 311.9 643.2 312.4 642.8 335.4 642.8 335.9 642.2 351.9 642.2 352.4 641.8 365.9 641.8 366.4 641.2 377.4 641.2 377.9 640.8 387.9 640.8 388.4 640.2 396.4 640.2 396.9 639.8 403.4 639.8 403.9 639.2 409.4 639.2 409.9 638.8 414.4 638.8 414.9 638.2 417.9 638.2 418.4 637.8 420.4 637.8 420.9 637.2 421.9 637.2 421.9 636.8 420.9 636.8 420.4 636.2 417.4 636.2 416.9 635.8 411.9 635.8 411.4 635.2 404.4 635.2 403.9 634.8 394.4 634.8 393.9 634.2 382.4 634.2 381.9 633.8 366.9 633.8 366.4 633.2 348.4 633.2 347.9 632.8 323.4 632.8 322.9 632.2 303.9 632.2 303.4 632.8 300.9 632.8 300.4 633.2 298.9 633.2 298.4 633.8 297.4 633.8 296.9 634.2 296.4 634.2 295.4 635.2 294.9 635.2 294.9 635.8Z" fill="rgb(131,131,131)" fill-rule="evenodd"/><path d="M295.4 636.2 295.4 638.2 297.4 640.2 297.9 640.2 298.4 640.8 298.9 640.8 299.4 641.2 300.4 641.2 300.9 641.8 302.4 641.8 302.9 642.2 333.9 642.2 334.4 641.8 351.4 641.8 351.9 641.2 365.9 641.2 366.4 640.8 377.9 640.8 378.4 640.2 387.9 640.2 388.4 639.8 396.4 639.8 396.9 639.2 403.4 639.2 403.9 638.8 408.9 638.8 409.4 638.2 412.9 638.2 413.4 637.8 415.9 637.8 416.4 637.2 417.4 637.2 417.4 636.8 416.4 636.8 415.9 636.2 412.4 636.2 411.9 635.8 405.9 635.8 405.4 635.2 397.4 635.2 396.9 634.8 386.4 634.8 385.9 634.2 372.4 634.2 371.9 633.8 354.4 633.8 353.9 633.2 331.4 633.2 330.9 632.8 303.4 632.8 302.9 633.2 300.9 633.2 300.4 633.8 298.9 633.8 298.4 634.2 297.9 634.2 297.4 634.8 296.9 634.8Z" fill="rgb(137,137,137)" fill-rule="evenodd"/><path d="M295.9 637.8 297.9 639.8 298.4 639.8 298.9 640.2 299.4 640.2 299.9 640.8 300.4 640.8 300.9 641.2 302.4 641.2 302.9 641.8 306.4 641.8 306.9 642.2 312.9 642.2 313.4 641.8 337.9 641.8 338.4 641.2 354.9 641.2 355.4 640.8 368.9 640.8 369.4 640.2 380.4 640.2 380.9 639.8 389.9 639.8 390.4 639.2 397.4 639.2 397.9 638.8 403.4 638.8 403.9 638.2 407.9 638.2 408.4 637.8 411.4 637.8 411.9 637.2 412.9 637.2 413.4 636.8 411.9 636.8 411.4 636.2 407.4 636.2 406.9 635.8 400.4 635.8 399.9 635.2 390.9 635.2 390.4 634.8 378.4 634.8 377.9 634.2 361.9 634.2 361.4 633.8 340.9 633.8 340.4 633.2 302.4 633.2 301.9 633.8 300.4 633.8 299.9 634.2 298.9 634.2 298.4 634.8 297.9 634.8 297.4 635.2 296.9 635.2 295.9 636.2Z" fill="rgb(144,144,144)" fill-rule="evenodd"/><path d="M296.4 637.2 296.9 637.8 296.9 638.2 297.9 639.2 298.4 639.2 299.4 640.2 300.4 640.2 300.9 640.8 301.9 640.8 302.4 641.2 304.9 641.2 305.4 641.8 323.4 641.8 323.9 641.2 344.4 641.2 344.9 640.8 359.9 640.8 360.4 640.2 372.9 640.2 373.4 639.8 383.4 639.8 383.9 639.2 391.9 639.2 392.4 638.8 398.9 638.8 399.4 638.2 403.9 638.2 404.4 637.8 407.4 637.8 407.9 637.2 408.9 637.2 409.4 636.8 407.9 636.8 407.4 636.2 402.9 636.2 402.4 635.8 394.9 635.8 394.4 635.2 384.4 635.2 383.9 634.8 369.9 634.8 369.4 634.2 351.4 634.2 350.9 633.8 325.9 633.8 325.4 633.2 304.9 633.2 304.4 633.8 301.9 633.8 301.4 634.2 299.9 634.2 299.4 634.8 298.4 634.8 297.4 635.8 296.9 635.8 296.9 636.2 296.4 636.8Z" fill="rgb(151,151,151)" fill-rule="evenodd"/><path d="M296.9 636.8 296.9 637.2 297.4 637.8 297.4 638.2 297.9 638.8 298.4 638.8 299.4 639.8 300.4 639.8 300.9 640.2 301.9 640.2 302.4 640.8 303.9 640.8 304.4 641.2 332.4 641.2 332.9 640.8 350.9 640.8 351.4 640.2 365.4 640.2 365.9 639.8 376.9 639.8 377.4 639.2 386.4 639.2 386.9 638.8 393.9 638.8 394.4 638.2 399.4 638.2 399.9 637.8 403.4 637.8 403.9 637.2 405.4 637.2 405.4 636.8 403.9 636.8 403.4 636.2 398.4 636.2 397.9 635.8 389.4 635.8 388.9 635.2 377.4 635.2 376.9 634.8 361.4 634.8 360.9 634.2 339.4 634.2 338.9 633.8 303.4 633.8 302.9 634.2 300.9 634.2 300.4 634.8 299.4 634.8 298.9 635.2 298.4 635.2Z" fill="rgb(158,158,158)" fill-rule="evenodd"/><path d="M297.9 637.8 299.4 639.2 299.9 639.2 300.4 639.8 301.4 639.8 301.9 640.2 303.4 640.2 303.9 640.8 307.9 640.8 308.4 641.2 316.9 641.2 317.4 640.8 340.9 640.8 341.4 640.2 357.4 640.2 357.9 639.8 370.4 639.8 370.9 639.2 380.9 639.2 381.4 638.8 389.4 638.8 389.9 638.2 395.4 638.2 395.9 637.8 399.4 637.8 399.9 637.2 401.4 637.2 401.9 636.8 399.9 636.8 399.4 636.2 393.9 636.2 393.4 635.8 383.9 635.8 383.4 635.2 370.4 635.2 369.9 634.8 351.9 634.8 351.4 634.2 325.4 634.2 324.9 633.8 306.4 633.8 305.9 634.2 302.4 634.2 301.9 634.8 300.4 634.8 299.9 635.2 299.4 635.2 298.9 635.8 298.4 635.8 297.9 636.2Z" fill="rgb(165,165,165)" fill-rule="evenodd"/><path d="M298.4 637.8 298.9 638.2 299.4 638.2 300.4 639.2 301.4 639.2 301.9 639.8 302.9 639.8 303.4 640.2 305.9 640.2 306.4 640.8 328.9 640.8 329.4 640.2 348.9 640.2 349.4 639.8 363.9 639.8 364.4 639.2 375.4 639.2 375.9 638.8 384.4 638.8 384.9 638.2 391.4 638.2 391.9 637.8 395.9 637.8 396.4 637.2 397.9 637.2 398.4 636.8 395.9 636.8 395.4 636.2 389.4 636.2 388.9 635.8 378.4 635.8 377.9 635.2 362.9 635.2 362.4 634.8 341.4 634.8 340.9 634.2 304.4 634.2 303.9 634.8 301.9 634.8 301.4 635.2 300.4 635.2 299.9 635.8 299.4 635.8 298.9 636.2 298.4 636.2Z" fill="rgb(172,172,172)" fill-rule="evenodd"/><path d="M298.9 637.2 300.4 638.8 301.4 638.8 301.9 639.2 302.9 639.2 303.4 639.8 304.9 639.8 305.4 640.2 311.4 640.2 311.9 640.8 312.4 640.8 312.9 640.2 339.9 640.2 340.4 639.8 356.9 639.8 357.4 639.2 369.9 639.2 370.4 638.8 379.9 638.8 380.4 638.2 386.9 638.2 387.4 637.8 391.9 637.8 392.4 637.2 394.4 637.2 394.9 636.8 392.4 636.8 391.9 636.2 384.9 636.2 384.4 635.8 372.9 635.8 372.4 635.2 355.4 635.2 354.9 634.8 329.4 634.8 328.9 634.2 307.4 634.2 306.9 634.8 303.4 634.8 302.9 635.2 301.4 635.2 300.9 635.8 299.9 635.8 298.9 636.8Z" fill="rgb(180,180,180)" fill-rule="evenodd"/><path d="M299.4 636.8 299.9 637.2 299.9 637.8 300.4 637.8 300.9 638.2 301.4 638.2 301.9 638.8 302.4 638.8 302.9 639.2 304.9 639.2 305.4 639.8 308.4 639.8 308.9 640.2 324.9 640.2 325.4 639.8 347.4 639.8 347.9 639.2 362.9 639.2 363.4 638.8 374.4 638.8 374.9 638.2 383.4 638.2 383.9 637.8 389.4 637.8 389.9 637.2 392.4 637.2 392.9 636.8 389.9 636.8 389.4 636.2 381.4 636.2 380.9 635.8 367.9 635.8 367.4 635.2 347.9 635.2 347.4 634.8 305.4 634.8 304.9 635.2 302.4 635.2 301.9 635.8 300.9 635.8 300.4 636.2 299.9 636.2Z" fill="rgb(187,187,187)" fill-rule="evenodd"/><path d="M300.4 637.2 301.4 638.2 302.4 638.2 302.9 638.8 304.4 638.8 304.9 639.2 307.4 639.2 307.9 639.8 335.4 639.8 335.9 639.2 354.9 639.2 355.4 638.8 369.4 638.8 369.9 638.2 379.4 638.2 379.9 637.8 386.4 637.8 386.9 637.2 390.4 637.2 390.9 636.8 387.4 636.8 386.9 636.2 378.4 636.2 377.9 635.8 363.4 635.8 362.9 635.2 340.4 635.2 339.9 634.8 307.4 634.8 306.9 635.2 303.9 635.2 303.4 635.8 301.9 635.8 301.4 636.2 300.9 636.2 300.4 636.8Z" fill="rgb(195,195,195)" fill-rule="evenodd"/><path d="M300.9 637.2 301.4 637.2 301.9 637.8 302.4 637.8 302.9 638.2 303.9 638.2 304.4 638.8 306.9 638.8 307.4 639.2 346.4 639.2 346.9 638.8 363.9 638.8 364.4 638.2 375.9 638.2 376.4 637.8 384.4 637.8 384.9 637.2 388.4 637.2 388.9 636.8 389.4 636.8 385.4 636.8 384.9 636.2 375.4 636.2 374.9 635.8 358.4 635.8 357.9 635.2 330.9 635.2 330.4 634.8 312.4 634.8 311.9 635.2 305.4 635.2 304.9 635.8 302.9 635.8 302.4 636.2 301.4 636.2 300.9 636.8Z" fill="rgb(203,203,203)" fill-rule="evenodd"/><path d="M301.9 637.2 302.4 637.2 302.9 637.8 303.9 637.8 304.4 638.2 306.4 638.2 306.9 638.8 311.9 638.8 312.4 639.2 336.4 639.2 336.9 638.8 357.9 638.8 358.4 638.2 372.4 638.2 372.9 637.8 381.9 637.8 382.4 637.2 386.9 637.2 387.4 636.8 383.4 636.8 382.9 636.2 372.4 636.2 371.9 635.8 353.4 635.8 352.9 635.2 308.4 635.2 307.9 635.8 304.4 635.8 303.9 636.2 302.9 636.2 302.4 636.8 301.9 636.8Z" fill="rgb(212,212,212)" fill-rule="evenodd"/><path d="M303.4 637.2 303.9 637.2 304.4 637.8 305.9 637.8 306.4 638.2 310.4 638.2 310.9 638.8 351.9 638.8 352.4 638.2 368.9 638.2 369.4 637.8 379.9 637.8 380.4 637.2 385.4 637.2 385.9 636.8 386.4 636.8 381.4 636.8 380.9 636.2 369.4 636.2 368.9 635.8 348.4 635.8 347.9 635.2 312.4 635.2 311.9 635.8 306.9 635.8 306.4 636.2 304.4 636.2 303.9 636.8 303.4 636.8Z" fill="rgb(220,220,220)" fill-rule="evenodd"/><path d="M305.9 637.2 307.4 637.2 307.9 637.8 310.9 637.8 311.4 638.2 317.9 638.2 318.4 638.8 340.4 638.8 340.9 638.2 359.9 638.2 360.4 637.8 371.4 637.8 371.9 637.2 377.4 637.2 377.9 636.8 373.4 636.8 372.9 636.2 360.9 636.2 360.4 635.8 335.4 635.8 334.9 635.2 320.9 635.2 320.4 635.8 310.9 635.8 310.4 636.2 307.4 636.2 306.9 636.8 305.9 636.8Z" fill="rgb(228,228,228)" fill-rule="evenodd"/><path d="M310.4 636.8 310.9 637.2 312.9 637.2 313.4 637.8 318.9 637.8 319.4 638.2 348.9 638.2 349.4 637.8 360.9 637.8 361.4 637.2 366.4 637.2 366.9 636.8 367.4 636.8 362.4 636.8 361.9 636.2 349.9 636.2 349.4 635.8 319.4 635.8 318.9 636.2 312.9 636.2 312.4 636.8Z" fill="rgb(237,237,237)" fill-rule="evenodd"/><path d="M318.9 636.8 319.4 637.2 323.9 637.2 324.4 637.8 348.9 637.8 349.4 637.2 354.9 637.2 355.4 636.8 355.9 636.8 350.9 636.8 350.4 636.2 322.9 636.2 322.4 636.8Z" fill="rgb(246,246,246)" fill-rule="evenodd"/><path d="M332.4 636.8 334.4 636.8 334.9 637.2 338.9 637.2 339.4 636.8 340.9 636.8Z" fill="rgb(255,255,255)" fill-rule="evenodd"/></g></g>
<rect x="285.2" y="577" width="344.3" height="120.6" fill="none" stroke="#333" stroke-width="0.9"/>
<path d="M285.5 697.6v1.6M285.5 577v-1.6M368.4 697.6v1.6M368.4 577v-1.6M451.3 697.6v1.6M451.3 577v-1.6M534.2 697.6v1.6M534.2 577v-1.6M617.1 697.6v1.6M617.1 577v-1.6M285.2 687.1h-1.6M629.5 687.1h1.6M285.2 670.5h-1.6M629.5 670.5h1.6M285.2 653.9h-1.6M629.5 653.9h1.6M285.2 637.3h-1.6M629.5 637.3h1.6M285.2 620.7h-1.6M629.5 620.7h1.6M285.2 604.1h-1.6M629.5 604.1h1.6M285.2 587.5h-1.6M629.5 587.5h1.6" stroke="#333" stroke-width="0.8"/>
<text x="285.5" y="707.3" font-size="6.3" fill="#222" text-anchor="middle" textLength="3.6" lengthAdjust="spacingAndGlyphs" stroke="#222" stroke-width="0.18">0</text>
<text x="368.4" y="707.3" font-size="6.3" fill="#222" text-anchor="middle" textLength="10.8" lengthAdjust="spacingAndGlyphs" stroke="#222" stroke-width="0.18">100</text>
<text x="451.3" y="707.3" font-size="6.3" fill="#222" text-anchor="middle" textLength="10.8" lengthAdjust="spacingAndGlyphs" stroke="#222" stroke-width="0.18">200</text>
<text x="534.2" y="707.3" font-size="6.3" fill="#222" text-anchor="middle" textLength="10.8" lengthAdjust="spacingAndGlyphs" stroke="#222" stroke-width="0.18">300</text>
<text x="617.1" y="707.3" font-size="6.3" fill="#222" text-anchor="middle" textLength="10.8" lengthAdjust="spacingAndGlyphs" stroke="#222" stroke-width="0.18">400</text>
<text x="280.5" y="689.3" font-size="6.3" fill="#222" text-anchor="end" textLength="11.6" lengthAdjust="spacingAndGlyphs" stroke="#222" stroke-width="0.18">-60</text>
<text x="280.5" y="672.7" font-size="6.3" fill="#222" text-anchor="end" textLength="11.6" lengthAdjust="spacingAndGlyphs" stroke="#222" stroke-width="0.18">-40</text>
<text x="280.5" y="656.1" font-size="6.3" fill="#222" text-anchor="end" textLength="11.6" lengthAdjust="spacingAndGlyphs" stroke="#222" stroke-width="0.18">-20</text>
<text x="277.6" y="639.5" font-size="6.3" fill="#222" text-anchor="end" textLength="3.6" lengthAdjust="spacingAndGlyphs" stroke="#222" stroke-width="0.18">0</text>
<text x="280.5" y="622.9" font-size="6.3" fill="#222" text-anchor="end" textLength="7.8" lengthAdjust="spacingAndGlyphs" stroke="#222" stroke-width="0.18">20</text>
<text x="280.5" y="606.3" font-size="6.3" fill="#222" text-anchor="end" textLength="7.8" lengthAdjust="spacingAndGlyphs" stroke="#222" stroke-width="0.18">40</text>
<text x="280.5" y="589.7" font-size="6.3" fill="#222" text-anchor="end" textLength="7.8" lengthAdjust="spacingAndGlyphs" stroke="#222" stroke-width="0.18">60</text>
<text x="452" y="719.6" font-size="12" fill="#222" text-anchor="middle">B<tspan font-size="8" dy="3">c</tspan><tspan dy="-3"> (mT)</tspan></text>
<text x="266.5" y="635" font-size="12" fill="#222" text-anchor="middle" transform="rotate(-90 266.5 635)">B<tspan font-size="8" dy="3">u</tspan><tspan dy="-3"> (mT)</tspan></text>
<rect x="244.9" y="580.3" width="19.8" height="21.1" fill="#fff" stroke="#222" stroke-width="0.9"/>
<text x="254.8" y="596.76" font-size="19" fill="#000" text-anchor="middle" stroke="#000" stroke-width="0.55">n</text>
<text x="518.5" y="598" font-size="15.5" fill="#111" textLength="96" lengthAdjust="spacingAndGlyphs" stroke="#111" stroke-width="0.3">926R08-01-1</text>
<rect x="635.3" y="598.4" width="4.5" height="86.6" fill="url(#fng)" stroke="#333" stroke-width="0.5"/>
<path d="M639.8 611.4h1.5M639.8 632.5h1.5M639.8 653.5h1.5M639.8 674.4h1.5" stroke="#333" stroke-width="0.6"/>
<text x="644" y="613.7" font-size="7" fill="#222" textLength="11.25" lengthAdjust="spacingAndGlyphs" stroke="#222" stroke-width="0.18">150</text>
<text x="644" y="634.8" font-size="7" fill="#222" textLength="11.25" lengthAdjust="spacingAndGlyphs" stroke="#222" stroke-width="0.18">100</text>
<text x="644" y="655.8" font-size="7" fill="#222" textLength="7.5" lengthAdjust="spacingAndGlyphs" stroke="#222" stroke-width="0.18">50</text>
<text x="644" y="676.7" font-size="7" fill="#222" textLength="3.75" lengthAdjust="spacingAndGlyphs" stroke="#222" stroke-width="0.18">0</text>
<text x="632.3" y="594.6" font-size="6" fill="#222" textLength="24.4" lengthAdjust="spacingAndGlyphs">Am<tspan font-size="4" dy="-2">2</tspan><tspan dy="2">/T</tspan><tspan font-size="4" dy="-2">2</tspan></text>
</svg>
</body></html>
